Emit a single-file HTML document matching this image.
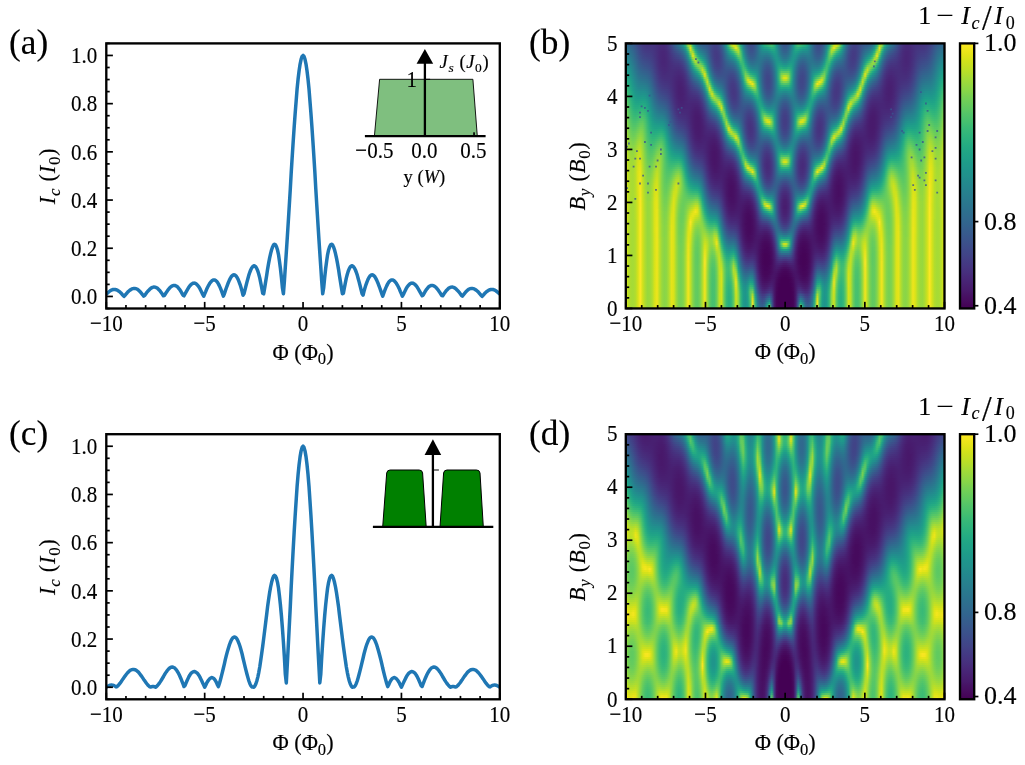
<!DOCTYPE html>
<html><head><meta charset="utf-8"><title>Figure</title>
<style>
html,body{margin:0;padding:0;background:#fff}
body{width:1025px;height:765px;position:relative;overflow:hidden;font-family:"Liberation Serif", serif}
.hm{position:absolute;overflow:hidden}
.hm div{position:absolute;left:-4px;top:-4px;filter:blur(0.7px)}
.hm i{position:absolute;left:0;width:100%;display:block;border:0 solid;border-width:0 4px;box-sizing:content-box}
.cb{position:absolute}
svg{position:absolute;left:0;top:0}
svg text{font-family:"Liberation Serif", serif;fill:#000;stroke:#000;stroke-width:0.15px}
</style></head><body>
<div class="hm" style="left:625.80px;top:43.40px;width:318.70px;height:265.05px"><div style="width:318.70px;height:273.05px"><i style="top:0.00px;height:6.69px;border-color:#31678e;border-right-color:#31678e;background-image:linear-gradient(90deg,#31678e,#32658e,#33628d,#365c8d,#3a538b,#3f4889,#423f85,#453882,#463480,#46337f,#46337f,#463480,#46337f,#472f7d,#472d7b,#472c7a,#472d7b,#46327e,#433d84,#3e4c8a,#365d8d,#2e6e8e,#287c8e,#228b8d,#1fa088,#44bf70,#c5e021,#86d549,#22a884,#25848e,#2e6e8e,#33628d,#365c8d,#375a8c,#39558c,#3c4f8a,#3f4788,#414287,#414487,#3d4d8a,#34608d,#297b8e,#1fa187,#63cb5f,#d5e21a,#cde11d,#98d83e,#56c667,#21a585,#26828e,#31668e,#3a548c,#3e4c8a,#3d4e8a,#38598c,#2e6e8e,#23898e,#21a585,#37b878,#48c16e,#58c765,#5cc863,#34b679,#1f948c,#2b758e,#34608d,#39558c,#39558c,#34608d,#2b758e,#1f948c,#34b679,#5cc863,#58c765,#48c16e,#37b878,#21a585,#23898e,#2e6e8e,#38598c,#3d4e8a,#3e4c8a,#3a548c,#31668e,#26828e,#21a585,#56c667,#98d83e,#cde11d,#d5e21a,#63cb5f,#1fa187,#297b8e,#34608d,#3d4d8a,#414487,#414287,#3f4788,#3c4f8a,#39558c,#375a8c,#365c8d,#33628d,#2e6e8e,#25848e,#22a884,#86d549,#c5e021,#44bf70,#1fa088,#228b8d,#287c8e,#2e6e8e,#365d8d,#3e4c8a,#433d84,#46327e,#472d7b,#472c7a,#472d7b,#472f7d,#46337f,#463480,#46337f,#46337f,#463480,#453882,#423f85,#3f4889,#3a538b,#365c8d,#33628d,#32658e,#31678e)"></i>
<i style="top:5.99px;height:2.69px;border-color:#2f6b8e;border-right-color:#2f6b8e;background-image:linear-gradient(90deg,#2f6b8e,#30698e,#31668e,#355f8d,#39558c,#3e4a89,#424186,#443a83,#453781,#453581,#463480,#463480,#46337f,#472f7d,#472c7a,#472a7a,#472a7a,#472f7d,#443983,#3f4788,#39568c,#32658e,#2c718e,#277f8e,#20928c,#2ab07f,#90d743,#b5de2b,#32b67a,#218f8d,#2a768e,#30698e,#33628d,#355e8d,#38588c,#3c4f8a,#404688,#424086,#424186,#3e4989,#375b8d,#2b758e,#1f988b,#44bf70,#9bd93c,#d5e21a,#d2e21b,#77d153,#26ad81,#24868e,#30698e,#39558c,#3d4d8a,#3d4e8a,#38598c,#2e6d8e,#25858e,#1f9e89,#25ac82,#2db27d,#38b977,#42be71,#2db27d,#1f948c,#2a778e,#33638d,#38588c,#38588c,#33638d,#2a778e,#1f948c,#2db27d,#42be71,#38b977,#2db27d,#25ac82,#1f9e89,#25858e,#2e6d8e,#38598c,#3d4e8a,#3d4d8a,#39558c,#30698e,#24868e,#26ad81,#77d153,#d2e21b,#d5e21a,#9bd93c,#44bf70,#1f988b,#2b758e,#375b8d,#3e4989,#424186,#424086,#404688,#3c4f8a,#38588c,#355e8d,#33628d,#30698e,#2a768e,#218f8d,#32b67a,#b5de2b,#90d743,#2ab07f,#20928c,#277f8e,#2c718e,#32658e,#39568c,#3f4788,#443983,#472f7d,#472a7a,#472a7a,#472c7a,#472f7d,#46337f,#463480,#463480,#453581,#453781,#443a83,#424186,#3e4a89,#39558c,#355f8d,#31668e,#30698e,#2f6b8e)"></i>
<i style="top:7.99px;height:2.69px;border-color:#2e6f8e;border-right-color:#2e6f8e;background-image:linear-gradient(90deg,#2e6f8e,#2e6d8e,#30698e,#33628d,#38598c,#3d4d8a,#414487,#433d84,#453882,#453781,#453781,#453581,#46337f,#472f7d,#472a7a,#482979,#482979,#472e7c,#453781,#414287,#3b518b,#355e8d,#30698e,#2b748e,#24868e,#1fa287,#63cb5f,#e5e419,#4cc26c,#1f9a8a,#27808e,#2d718e,#30698e,#33638d,#375b8d,#3c508b,#404588,#423f85,#423f85,#404688,#39568c,#2e6f8e,#21908d,#2db27d,#67cc5c,#a2da37,#efe51c,#9bd93c,#31b57b,#228b8d,#2e6d8e,#38598c,#3c4f8a,#3c4f8a,#375a8c,#2f6c8e,#26828e,#1f968b,#1fa088,#20a486,#25ab82,#2db27d,#27ad81,#1f958b,#297a8e,#31668e,#375b8d,#375b8d,#31668e,#297a8e,#1f958b,#27ad81,#2db27d,#25ab82,#20a486,#1fa088,#1f968b,#26828e,#2f6c8e,#375a8c,#3c4f8a,#3c4f8a,#38598c,#2e6d8e,#228b8d,#31b57b,#9bd93c,#efe51c,#a2da37,#67cc5c,#2db27d,#21908d,#2e6f8e,#39568c,#404688,#423f85,#423f85,#404588,#3c508b,#375b8d,#33638d,#30698e,#2d718e,#27808e,#1f9a8a,#4cc26c,#e5e419,#63cb5f,#1fa287,#24868e,#2b748e,#30698e,#355e8d,#3b518b,#414287,#453781,#472e7c,#482979,#482979,#472a7a,#472f7d,#46337f,#453581,#453781,#453781,#453882,#433d84,#414487,#3d4d8a,#38598c,#33628d,#30698e,#2e6d8e,#2e6f8e)"></i>
<i style="top:9.98px;height:2.69px;border-color:#2c718e;border-right-color:#2c718e;background-image:linear-gradient(90deg,#2c718e,#2d718e,#2e6d8e,#32658e,#375b8d,#3c508b,#404688,#423f85,#443a83,#443983,#453882,#453781,#46337f,#472e7c,#472a7a,#482878,#482878,#472c7a,#463480,#423f85,#3e4c8a,#39568c,#34608d,#2f6b8e,#297b8e,#1f958b,#40bd72,#d5e21a,#73d056,#22a785,#238a8d,#297a8e,#2d718e,#30698e,#355e8d,#3b518b,#404588,#433e85,#433d84,#414487,#3b528b,#306a8e,#24878e,#21a685,#40bd72,#6ece58,#b2dd2d,#b2dd2d,#3dbc74,#21918c,#2d718e,#365c8d,#3b518b,#3b518b,#375b8d,#2f6c8e,#27808e,#218f8d,#1f948c,#1f978b,#1f9e89,#22a785,#22a884,#1f968b,#287d8e,#30698e,#355f8d,#355f8d,#30698e,#287d8e,#1f968b,#22a884,#22a785,#1f9e89,#1f978b,#1f948c,#218f8d,#27808e,#2f6c8e,#375b8d,#3b518b,#3b518b,#365c8d,#2d718e,#21918c,#3dbc74,#b2dd2d,#b2dd2d,#6ece58,#40bd72,#21a685,#24878e,#306a8e,#3b528b,#414487,#433d84,#433e85,#404588,#3b518b,#355e8d,#30698e,#2d718e,#297a8e,#238a8d,#22a785,#73d056,#d5e21a,#40bd72,#1f958b,#297b8e,#2f6b8e,#34608d,#39568c,#3e4c8a,#423f85,#463480,#472c7a,#482878,#482878,#472a7a,#472e7c,#46337f,#453781,#453882,#443983,#443a83,#423f85,#404688,#3c508b,#375b8d,#32658e,#2e6d8e,#2d718e,#2c718e)"></i>
<i style="top:11.97px;height:2.69px;border-color:#2b758e;border-right-color:#2b758e;background-image:linear-gradient(90deg,#2b758e,#2b748e,#2d708e,#31688e,#365d8d,#3b528b,#3f4889,#424186,#433d84,#443b84,#443a83,#453882,#463480,#472e7c,#482979,#482677,#482677,#472a7a,#46327e,#433d84,#3f4788,#3c508b,#38598c,#33628d,#2d718e,#23898e,#29af7f,#a2da37,#a2da37,#31b57b,#1f968b,#25838e,#29798e,#2e6f8e,#33628d,#3b528b,#404588,#433d84,#443b84,#424186,#3c508b,#32658e,#27808e,#1f9a8a,#28ae80,#44bf70,#7cd250,#aadc32,#4cc26c,#1f978b,#2b748e,#355f8d,#3a548c,#3a548c,#365d8d,#2f6c8e,#287d8e,#23888e,#228b8d,#228b8d,#20928c,#1e9c89,#1fa287,#1f978b,#26818e,#2e6e8e,#33638d,#33638d,#2e6e8e,#26818e,#1f978b,#1fa287,#1e9c89,#20928c,#228b8d,#228b8d,#23888e,#287d8e,#2f6c8e,#365d8d,#3a548c,#3a548c,#355f8d,#2b748e,#1f978b,#4cc26c,#aadc32,#7cd250,#44bf70,#28ae80,#1f9a8a,#27808e,#32658e,#3c508b,#424186,#443b84,#433d84,#404588,#3b528b,#33628d,#2e6f8e,#29798e,#25838e,#1f968b,#31b57b,#a2da37,#a2da37,#29af7f,#23898e,#2d718e,#33628d,#38598c,#3c508b,#3f4788,#433d84,#46327e,#472a7a,#482677,#482677,#482979,#472e7c,#463480,#453882,#443a83,#443b84,#433d84,#424186,#3f4889,#3b528b,#365d8d,#31688e,#2d708e,#2b748e,#2b758e)"></i>
<i style="top:13.96px;height:2.69px;border-color:#29798e;border-right-color:#29798e;background-image:linear-gradient(90deg,#29798e,#2a788e,#2c738e,#2f6b8e,#34608d,#3a548c,#3e4a89,#414487,#424086,#433e85,#433d84,#443983,#463480,#472f7d,#482979,#482677,#482677,#482979,#46307e,#443983,#414287,#3e4a89,#3b518b,#375a8c,#31688e,#277f8e,#1fa187,#73d056,#d8e219,#4ec36b,#20a386,#218f8d,#26828e,#2a768e,#31678e,#39558c,#404688,#433d84,#443a83,#424086,#3d4d8a,#34618d,#2a788e,#218f8d,#1fa188,#2ab07f,#50c46a,#89d548,#56c667,#1e9d89,#297a8e,#33638d,#38588c,#38588c,#355f8d,#2e6d8e,#297b8e,#26828e,#26828e,#26818e,#24868e,#20928c,#1e9c89,#1f978b,#25848e,#2c728e,#30698e,#30698e,#2c728e,#25848e,#1f978b,#1e9c89,#20928c,#24868e,#26818e,#26828e,#26828e,#297b8e,#2e6d8e,#355f8d,#38588c,#38588c,#33638d,#297a8e,#1e9d89,#56c667,#89d548,#50c46a,#2ab07f,#1fa188,#218f8d,#2a788e,#34618d,#3d4d8a,#424086,#443a83,#433d84,#404688,#39558c,#31678e,#2a768e,#26828e,#218f8d,#20a386,#4ec36b,#d8e219,#73d056,#1fa187,#277f8e,#31688e,#375a8c,#3b518b,#3e4a89,#414287,#443983,#46307e,#482979,#482677,#482677,#482979,#472f7d,#463480,#443983,#433d84,#433e85,#424086,#414487,#3e4a89,#3a548c,#34608d,#2f6b8e,#2c738e,#2a788e,#29798e)"></i>
<i style="top:15.96px;height:2.69px;border-color:#277e8e;border-right-color:#277e8e;background-image:linear-gradient(90deg,#277e8e,#287c8e,#2a768e,#2e6e8e,#33638d,#38588c,#3d4e8a,#3f4788,#414287,#424086,#423f85,#443b84,#453581,#472f7d,#482979,#482677,#482576,#482979,#472f7d,#453781,#423f85,#404588,#3e4a89,#3b528b,#355f8d,#2b748e,#1f958b,#4ec36b,#ece51b,#73d056,#2cb17e,#1e9c89,#228d8d,#277e8e,#2f6c8e,#38588c,#3f4788,#433d84,#443a83,#423f85,#3e4a89,#355e8d,#2c728e,#25848e,#20938c,#1fa188,#31b57b,#65cb5e,#5ac864,#20a386,#27808e,#30698e,#365d8d,#375b8d,#33628d,#2e6f8e,#29798e,#287c8e,#29798e,#2a788e,#287d8e,#23898e,#1f968b,#1f978b,#23898e,#2a788e,#2e6f8e,#2e6f8e,#2a788e,#23898e,#1f978b,#1f968b,#23898e,#287d8e,#2a788e,#29798e,#287c8e,#29798e,#2e6f8e,#33628d,#375b8d,#365d8d,#30698e,#27808e,#20a386,#5ac864,#65cb5e,#31b57b,#1fa188,#20938c,#25848e,#2c728e,#355e8d,#3e4a89,#423f85,#443a83,#433d84,#3f4788,#38588c,#2f6c8e,#277e8e,#228d8d,#1e9c89,#2cb17e,#73d056,#ece51b,#4ec36b,#1f958b,#2b748e,#355f8d,#3b528b,#3e4a89,#404588,#423f85,#453781,#472f7d,#482979,#482576,#482677,#482979,#472f7d,#453581,#443b84,#423f85,#424086,#414287,#3f4788,#3d4e8a,#38588c,#33638d,#2e6e8e,#2a768e,#287c8e,#277e8e)"></i>
<i style="top:17.95px;height:2.69px;border-color:#26828e;border-right-color:#26828e;background-image:linear-gradient(90deg,#26828e,#27808e,#297a8e,#2d718e,#32658e,#375a8c,#3c508b,#3e4989,#404688,#414487,#424186,#433d84,#453781,#472f7d,#482979,#482677,#482576,#482878,#472e7c,#463480,#443b84,#424086,#404588,#3e4c8a,#38588c,#2f6c8e,#238a8d,#32b67a,#b2dd2d,#a0da39,#44bf70,#23a983,#1f998a,#24878e,#2c718e,#365c8d,#3e4989,#433e85,#443a83,#433e85,#3e4989,#375b8d,#2e6d8e,#287c8e,#24878e,#20928c,#21a685,#44bf70,#58c765,#25ab82,#24878e,#2e6f8e,#33628d,#34608d,#31668e,#2d708e,#2a778e,#2a778e,#2c718e,#2d708e,#2b748e,#26818e,#21918c,#1f988b,#218f8d,#277f8e,#2b758e,#2b758e,#277f8e,#218f8d,#1f988b,#21918c,#26818e,#2b748e,#2d708e,#2c718e,#2a778e,#2a778e,#2d708e,#31668e,#34608d,#33628d,#2e6f8e,#24878e,#25ab82,#58c765,#44bf70,#21a685,#20928c,#24878e,#287c8e,#2e6d8e,#375b8d,#3e4989,#433e85,#443a83,#433e85,#3e4989,#365c8d,#2c718e,#24878e,#1f998a,#23a983,#44bf70,#a0da39,#b2dd2d,#32b67a,#238a8d,#2f6c8e,#38588c,#3e4c8a,#404588,#424086,#443b84,#463480,#472e7c,#482878,#482576,#482677,#482979,#472f7d,#453781,#433d84,#424186,#414487,#404688,#3e4989,#3c508b,#375a8c,#32658e,#2d718e,#297a8e,#27808e,#26828e)"></i>
<i style="top:19.94px;height:2.69px;border-color:#25858e;border-right-color:#25858e;background-image:linear-gradient(90deg,#25858e,#25838e,#277e8e,#2c738e,#31688e,#365d8d,#3a538b,#3d4d8a,#3e4989,#3f4788,#414487,#423f85,#453882,#46307e,#472a7a,#482677,#482576,#482878,#472d7b,#46337f,#453882,#443b84,#423f85,#404588,#3c508b,#33638d,#27808e,#22a785,#7fd34e,#bddf26,#65cb5e,#35b779,#21a685,#21918c,#2a788e,#34608d,#3e4c8a,#423f85,#443b84,#433e85,#3f4889,#38588c,#31688e,#2c738e,#287c8e,#24868e,#1f988b,#2db27d,#50c46a,#2cb17e,#218f8d,#2b758e,#31688e,#32658e,#306a8e,#2c728e,#2a768e,#2c728e,#2f6c8e,#31688e,#2e6d8e,#29798e,#228b8d,#1f978b,#20938c,#24868e,#277e8e,#277e8e,#24868e,#20938c,#1f978b,#228b8d,#29798e,#2e6d8e,#31688e,#2f6c8e,#2c728e,#2a768e,#2c728e,#306a8e,#32658e,#31688e,#2b758e,#218f8d,#2cb17e,#50c46a,#2db27d,#1f988b,#24868e,#287c8e,#2c738e,#31688e,#38588c,#3f4889,#433e85,#443b84,#423f85,#3e4c8a,#34608d,#2a788e,#21918c,#21a685,#35b779,#65cb5e,#bddf26,#7fd34e,#22a785,#27808e,#33638d,#3c508b,#404588,#423f85,#443b84,#453882,#46337f,#472d7b,#482878,#482576,#482677,#472a7a,#46307e,#453882,#423f85,#414487,#3f4788,#3e4989,#3d4d8a,#3a538b,#365d8d,#31688e,#2c738e,#277e8e,#25838e,#25858e)"></i>
<i style="top:21.94px;height:2.69px;border-color:#23898e;border-right-color:#23898e;background-image:linear-gradient(90deg,#23898e,#24878e,#26818e,#2a768e,#2f6b8e,#34608d,#39568c,#3c508b,#3d4d8a,#3e4a89,#3f4788,#424186,#443983,#46327e,#472a7a,#482677,#482576,#482878,#472c7a,#46307e,#453581,#453882,#443a83,#423f85,#3e4989,#365c8d,#2a768e,#1e9b8a,#54c568,#aadc32,#86d549,#52c569,#2fb47c,#1e9c89,#277f8e,#32648e,#3c4f8a,#424186,#433d84,#423f85,#3f4889,#39558c,#33638d,#2e6d8e,#2c728e,#297b8e,#228b8d,#21a585,#42be71,#34b679,#1f978b,#287d8e,#2e6f8e,#2f6c8e,#2d708e,#2b748e,#2b758e,#2e6f8e,#31668e,#33628d,#31668e,#2c728e,#25858e,#1f978b,#1f998a,#21908d,#24868e,#24868e,#21908d,#1f998a,#1f978b,#25858e,#2c728e,#31668e,#33628d,#31668e,#2e6f8e,#2b758e,#2b748e,#2d708e,#2f6c8e,#2e6f8e,#287d8e,#1f978b,#34b679,#42be71,#21a585,#228b8d,#297b8e,#2c728e,#2e6d8e,#33638d,#39558c,#3f4889,#423f85,#433d84,#424186,#3c4f8a,#32648e,#277f8e,#1e9c89,#2fb47c,#52c569,#86d549,#aadc32,#54c568,#1e9b8a,#2a768e,#365c8d,#3e4989,#423f85,#443a83,#453882,#453581,#46307e,#472c7a,#482878,#482576,#482677,#472a7a,#46327e,#443983,#424186,#3f4788,#3e4a89,#3d4d8a,#3c508b,#39568c,#34608d,#2f6b8e,#2a768e,#26818e,#24878e,#23898e)"></i>
<i style="top:23.93px;height:2.69px;border-color:#228d8d;border-right-color:#228d8d;background-image:linear-gradient(90deg,#228d8d,#228b8d,#25848e,#29798e,#2e6e8e,#33628d,#375a8c,#3a538b,#3c508b,#3d4e8a,#3e4989,#414487,#443b84,#46327e,#472c7a,#482677,#482677,#482878,#472c7a,#472f7d,#46337f,#463480,#453581,#443a83,#414487,#3a548c,#2e6e8e,#218f8d,#34b679,#7fd34e,#93d741,#75d054,#4cc26c,#23a983,#24878e,#306a8e,#3b528b,#414487,#433e85,#424086,#3f4889,#3a538b,#355f8d,#31668e,#306a8e,#2c718e,#26818e,#1f998a,#34b679,#3bbb75,#1fa188,#24868e,#2a778e,#2c728e,#2b758e,#2a788e,#2b748e,#2f6b8e,#34618d,#365c8d,#34608d,#2f6c8e,#26818e,#1f968b,#1fa088,#1f998a,#21918c,#21918c,#1f998a,#1fa088,#1f968b,#26818e,#2f6c8e,#34608d,#365c8d,#34618d,#2f6b8e,#2b748e,#2a788e,#2b758e,#2c728e,#2a778e,#24868e,#1fa188,#3bbb75,#34b679,#1f998a,#26818e,#2c718e,#306a8e,#31668e,#355f8d,#3a538b,#3f4889,#424086,#433e85,#414487,#3b528b,#306a8e,#24878e,#23a983,#4cc26c,#75d054,#93d741,#7fd34e,#34b679,#218f8d,#2e6e8e,#3a548c,#414487,#443a83,#453581,#463480,#46337f,#472f7d,#472c7a,#482878,#482677,#482677,#472c7a,#46327e,#443b84,#414487,#3e4989,#3d4e8a,#3c508b,#3a538b,#375a8c,#33628d,#2e6e8e,#29798e,#25848e,#228b8d,#228d8d)"></i>
<i style="top:25.92px;height:2.69px;border-color:#20928c;border-right-color:#20928c;background-image:linear-gradient(90deg,#20928c,#218f8d,#24878e,#287d8e,#2d718e,#32658e,#365d8d,#38588c,#3a538b,#3b518b,#3d4d8a,#404688,#433d84,#46337f,#472c7a,#482878,#482677,#482878,#472c7a,#472e7c,#46307e,#46327e,#46327e,#453581,#433e85,#3d4e8a,#32658e,#25838e,#22a884,#54c568,#81d34d,#8ed645,#75d054,#34b679,#21918c,#2d708e,#39568c,#3f4788,#424086,#424186,#3f4889,#3b528b,#375b8d,#34608d,#33638d,#30698e,#2a768e,#218f8d,#28ae80,#42be71,#25ab82,#21908d,#27808e,#297a8e,#297b8e,#287c8e,#2b748e,#31688e,#365c8d,#39568c,#375a8c,#31678e,#287c8e,#1f958b,#21a585,#20a386,#1e9d89,#1e9d89,#20a386,#21a585,#1f958b,#287c8e,#31678e,#375a8c,#39568c,#365c8d,#31688e,#2b748e,#287c8e,#297b8e,#297a8e,#27808e,#21908d,#25ab82,#42be71,#28ae80,#218f8d,#2a768e,#30698e,#33638d,#34608d,#375b8d,#3b528b,#3f4889,#424186,#424086,#3f4788,#39568c,#2d708e,#21918c,#34b679,#75d054,#8ed645,#81d34d,#54c568,#22a884,#25838e,#32658e,#3d4e8a,#433e85,#453581,#46327e,#46327e,#46307e,#472e7c,#472c7a,#482878,#482677,#482878,#472c7a,#46337f,#433d84,#404688,#3d4d8a,#3b518b,#3a538b,#38588c,#365d8d,#32658e,#2d718e,#287d8e,#24878e,#218f8d,#20928c)"></i>
<i style="top:27.91px;height:2.69px;border-color:#1f958b;border-right-color:#1f958b;background-image:linear-gradient(90deg,#1f958b,#20928c,#228b8d,#27808e,#2c738e,#30698e,#34608d,#375b8d,#38588c,#3a548c,#3c508b,#3f4889,#423f85,#453581,#472d7b,#482979,#482878,#482979,#472c7a,#472e7c,#472f7d,#472e7c,#472f7d,#46327e,#443983,#3f4889,#355e8d,#297a8e,#1f9a8a,#34b679,#5ec962,#8bd646,#a2da37,#50c46a,#1e9b8a,#2a768e,#365c8d,#3e4a89,#414487,#414487,#3e4989,#3b528b,#38588c,#375a8c,#365c8d,#34618d,#2e6e8e,#25848e,#21a585,#44bf70,#31b57b,#1e9c89,#238a8d,#25838e,#26828e,#27808e,#2b758e,#31668e,#38598c,#3b528b,#39558c,#33628d,#2a788e,#1f948c,#25ab82,#29af7f,#24aa83,#24aa83,#29af7f,#25ab82,#1f948c,#2a788e,#33628d,#39558c,#3b528b,#38598c,#31668e,#2b758e,#27808e,#26828e,#25838e,#238a8d,#1e9c89,#31b57b,#44bf70,#21a585,#25848e,#2e6e8e,#34618d,#365c8d,#375a8c,#38588c,#3b528b,#3e4989,#414487,#414487,#3e4a89,#365c8d,#2a768e,#1e9b8a,#50c46a,#a2da37,#8bd646,#5ec962,#34b679,#1f9a8a,#297a8e,#355e8d,#3f4889,#443983,#46327e,#472f7d,#472e7c,#472f7d,#472e7c,#472c7a,#482979,#482878,#482979,#472d7b,#453581,#423f85,#3f4889,#3c508b,#3a548c,#38588c,#375b8d,#34608d,#30698e,#2c738e,#27808e,#228b8d,#20928c,#1f958b)"></i>
<i style="top:29.91px;height:2.69px;border-color:#1f998a;border-right-color:#1f998a;background-image:linear-gradient(90deg,#1f998a,#1f968b,#218e8d,#26828e,#2a768e,#2f6c8e,#32648e,#355f8d,#365c8d,#38598c,#3a538b,#3e4c8a,#424186,#453781,#472e7c,#472a7a,#482878,#482979,#472c7a,#472d7b,#472d7b,#472d7b,#472c7a,#472e7c,#453581,#414287,#38588c,#2d718e,#228d8d,#22a785,#3dbc74,#70cf57,#c0df25,#77d153,#21a685,#277e8e,#34618d,#3c4f8a,#3f4788,#3f4788,#3e4c8a,#3b518b,#39558c,#39558c,#39558c,#375a8c,#32658e,#297b8e,#1e9d89,#42be71,#44bf70,#22a884,#1f968b,#218e8d,#228b8d,#25848e,#2b758e,#32648e,#39558c,#3c4f8a,#3b518b,#355f8d,#2b758e,#20938c,#2ab07f,#3bbb75,#37b878,#37b878,#3bbb75,#2ab07f,#20938c,#2b758e,#355f8d,#3b518b,#3c4f8a,#39558c,#32648e,#2b758e,#25848e,#228b8d,#218e8d,#1f968b,#22a884,#44bf70,#42be71,#1e9d89,#297b8e,#32658e,#375a8c,#39558c,#39558c,#39558c,#3b518b,#3e4c8a,#3f4788,#3f4788,#3c4f8a,#34618d,#277e8e,#21a685,#77d153,#c0df25,#70cf57,#3dbc74,#22a785,#228d8d,#2d718e,#38588c,#414287,#453581,#472e7c,#472c7a,#472d7b,#472d7b,#472d7b,#472c7a,#482979,#482878,#472a7a,#472e7c,#453781,#424186,#3e4c8a,#3a538b,#38598c,#365c8d,#355f8d,#32648e,#2f6c8e,#2a768e,#26828e,#218e8d,#1f968b,#1f998a)"></i>
<i style="top:31.90px;height:2.69px;border-color:#1e9d89;border-right-color:#1e9d89;background-image:linear-gradient(90deg,#1e9d89,#1f9a8a,#21918c,#25848e,#29798e,#2e6f8e,#31678e,#33638d,#34608d,#365d8d,#38588c,#3d4e8a,#414287,#453882,#46307e,#472c7a,#482979,#472a7a,#472c7a,#472d7b,#472c7a,#472a7a,#482979,#472c7a,#46327e,#433e85,#3b518b,#30698e,#26828e,#1f988b,#25ac82,#4cc26c,#aadc32,#aadc32,#2db27d,#24868e,#31688e,#3a548c,#3e4c8a,#3e4a89,#3d4e8a,#3b528b,#3a538b,#3b518b,#3c508b,#3a538b,#355e8d,#2c738e,#1f948c,#3bbb75,#5cc863,#34b679,#20a386,#1f9a8a,#1f948c,#238a8d,#2a768e,#33628d,#3b528b,#3e4c8a,#3d4e8a,#375b8d,#2c718e,#20928c,#2fb47c,#56c667,#58c765,#58c765,#56c667,#2fb47c,#20928c,#2c718e,#375b8d,#3d4e8a,#3e4c8a,#3b528b,#33628d,#2a768e,#238a8d,#1f948c,#1f9a8a,#20a386,#34b679,#5cc863,#3bbb75,#1f948c,#2c738e,#355e8d,#3a538b,#3c508b,#3b518b,#3a538b,#3b528b,#3d4e8a,#3e4a89,#3e4c8a,#3a548c,#31688e,#24868e,#2db27d,#aadc32,#aadc32,#4cc26c,#25ac82,#1f988b,#26828e,#30698e,#3b518b,#433e85,#46327e,#472c7a,#482979,#472a7a,#472c7a,#472d7b,#472c7a,#472a7a,#482979,#472c7a,#46307e,#453882,#414287,#3d4e8a,#38588c,#365d8d,#34608d,#33638d,#31678e,#2e6f8e,#29798e,#25848e,#21918c,#1f9a8a,#1e9d89)"></i>
<i style="top:33.89px;height:2.69px;border-color:#1fa187;border-right-color:#1fa187;background-image:linear-gradient(90deg,#1fa187,#1e9d89,#20938c,#24878e,#287c8e,#2c718e,#2f6b8e,#31678e,#32648e,#34618d,#375b8d,#3b518b,#404688,#443a83,#46327e,#472d7b,#472a7a,#472c7a,#472d7b,#472d7b,#472c7a,#482979,#482878,#482979,#472e7c,#443983,#3e4c8a,#34618d,#2a778e,#228b8d,#1e9d89,#2fb47c,#7cd250,#e2e418,#44bf70,#21908d,#2e6f8e,#375b8d,#3c508b,#3d4e8a,#3c508b,#3b528b,#3b518b,#3d4e8a,#3e4a89,#3d4d8a,#38588c,#2f6c8e,#228c8d,#32b67a,#70cf57,#52c569,#2db27d,#22a785,#1f9f88,#21908d,#2a788e,#34618d,#3b518b,#3e4989,#3e4c8a,#38598c,#2d708e,#21918c,#34b679,#73d056,#84d44b,#84d44b,#73d056,#34b679,#21918c,#2d708e,#38598c,#3e4c8a,#3e4989,#3b518b,#34618d,#2a788e,#21908d,#1f9f88,#22a785,#2db27d,#52c569,#70cf57,#32b67a,#228c8d,#2f6c8e,#38588c,#3d4d8a,#3e4a89,#3d4e8a,#3b518b,#3b528b,#3c508b,#3d4e8a,#3c508b,#375b8d,#2e6f8e,#21908d,#44bf70,#e2e418,#7cd250,#2fb47c,#1e9d89,#228b8d,#2a778e,#34618d,#3e4c8a,#443983,#472e7c,#482979,#482878,#482979,#472c7a,#472d7b,#472d7b,#472c7a,#472a7a,#472d7b,#46327e,#443a83,#404688,#3b518b,#375b8d,#34618d,#32648e,#31678e,#2f6b8e,#2c718e,#287c8e,#24878e,#20938c,#1e9d89,#1fa187)"></i>
<i style="top:35.89px;height:2.69px;border-color:#21a585;border-right-color:#21a585;background-image:linear-gradient(90deg,#21a585,#1fa188,#1f968b,#238a8d,#277f8e,#2b758e,#2e6f8e,#2f6b8e,#30698e,#32658e,#355f8d,#3a548c,#3f4889,#433d84,#463480,#472e7c,#472d7b,#472d7b,#472d7b,#472d7b,#472a7a,#482878,#482576,#482677,#472c7a,#453581,#404688,#375a8c,#2e6e8e,#277f8e,#218f8d,#20a486,#52c569,#dde318,#63cb5f,#1e9b8a,#2a778e,#33628d,#39568c,#3a538b,#3a538b,#3a538b,#3c508b,#3e4a89,#3f4788,#3f4889,#3b528b,#31668e,#25848e,#28ae80,#7cd250,#7ad151,#4ac16d,#34b679,#25ab82,#1f958b,#297a8e,#34618d,#3c4f8a,#3f4788,#3e4989,#39568c,#2e6e8e,#218f8d,#35b779,#8bd646,#b8de29,#b8de29,#8bd646,#35b779,#218f8d,#2e6e8e,#39568c,#3e4989,#3f4788,#3c4f8a,#34618d,#297a8e,#1f958b,#25ab82,#34b679,#4ac16d,#7ad151,#7cd250,#28ae80,#25848e,#31668e,#3b528b,#3f4889,#3f4788,#3e4a89,#3c508b,#3a538b,#3a538b,#3a538b,#39568c,#33628d,#2a778e,#1e9b8a,#63cb5f,#dde318,#52c569,#20a486,#218f8d,#277f8e,#2e6e8e,#375a8c,#404688,#453581,#472c7a,#482677,#482576,#482878,#472a7a,#472d7b,#472d7b,#472d7b,#472d7b,#472e7c,#463480,#433d84,#3f4889,#3a548c,#355f8d,#32658e,#30698e,#2f6b8e,#2e6f8e,#2b758e,#277f8e,#238a8d,#1f968b,#1fa188,#21a585)"></i>
<i style="top:37.88px;height:2.69px;border-color:#23a983;border-right-color:#23a983;background-image:linear-gradient(90deg,#23a983,#20a386,#1f998a,#228d8d,#26828e,#2a788e,#2c728e,#2e6f8e,#2e6d8e,#30698e,#33628d,#38588c,#3e4a89,#423f85,#453581,#46307e,#472e7c,#472e7c,#472e7c,#472d7b,#482979,#482677,#482475,#482475,#482979,#46337f,#424186,#3a538b,#32658e,#2c738e,#26828e,#1f958b,#32b67a,#a5db36,#8bd646,#22a785,#26818e,#30698e,#365d8d,#38598c,#38588c,#39558c,#3c508b,#3f4889,#414287,#414487,#3d4d8a,#34608d,#277e8e,#22a785,#7ad151,#addc30,#75d054,#54c568,#34b679,#1e9c89,#287c8e,#34618d,#3c4f8a,#404688,#3f4889,#3a548c,#2f6c8e,#228d8d,#34b679,#93d741,#dde318,#dde318,#93d741,#34b679,#228d8d,#2f6c8e,#3a548c,#3f4889,#404688,#3c4f8a,#34618d,#287c8e,#1e9c89,#34b679,#54c568,#75d054,#addc30,#7ad151,#22a785,#277e8e,#34608d,#3d4d8a,#414487,#414287,#3f4889,#3c508b,#39558c,#38588c,#38598c,#365d8d,#30698e,#26818e,#22a785,#8bd646,#a5db36,#32b67a,#1f958b,#26828e,#2c738e,#32658e,#3a538b,#424186,#46337f,#482979,#482475,#482475,#482677,#482979,#472d7b,#472e7c,#472e7c,#472e7c,#46307e,#453581,#423f85,#3e4a89,#38588c,#33628d,#30698e,#2e6d8e,#2e6f8e,#2c728e,#2a788e,#26828e,#228d8d,#1f998a,#20a386,#23a983)"></i>
<i style="top:39.87px;height:2.69px;border-color:#26ad81;border-right-color:#26ad81;background-image:linear-gradient(90deg,#26ad81,#22a785,#1e9c89,#21908d,#25848e,#287c8e,#2a768e,#2c738e,#2c718e,#2e6e8e,#31668e,#375b8d,#3d4d8a,#424186,#453882,#46337f,#46307e,#472f7d,#472f7d,#472d7b,#482979,#482576,#482374,#482374,#482677,#472f7d,#433d84,#3d4d8a,#365d8d,#306a8e,#2a768e,#23888e,#21a685,#70cf57,#b2dd2d,#2fb47c,#228b8d,#2c718e,#32648e,#355f8d,#365c8d,#38588c,#3c508b,#404688,#424086,#424086,#3f4889,#375b8d,#2a778e,#1fa088,#67cc5c,#d8e219,#b0dd2f,#81d34d,#4cc26c,#1fa187,#277e8e,#33628d,#3c4f8a,#404688,#3f4788,#3a538b,#2f6b8e,#228b8d,#2fb47c,#81d34d,#b8de29,#b8de29,#81d34d,#2fb47c,#228b8d,#2f6b8e,#3a538b,#3f4788,#404688,#3c4f8a,#33628d,#277e8e,#1fa187,#4cc26c,#81d34d,#b0dd2f,#d8e219,#67cc5c,#1fa088,#2a778e,#375b8d,#3f4889,#424086,#424086,#404688,#3c508b,#38588c,#365c8d,#355f8d,#32648e,#2c718e,#228b8d,#2fb47c,#b2dd2d,#70cf57,#21a685,#23888e,#2a768e,#306a8e,#365d8d,#3d4d8a,#433d84,#472f7d,#482677,#482374,#482374,#482576,#482979,#472d7b,#472f7d,#472f7d,#46307e,#46337f,#453882,#424186,#3d4d8a,#375b8d,#31668e,#2e6e8e,#2c718e,#2c738e,#2a768e,#287c8e,#25848e,#21908d,#1e9c89,#22a785,#26ad81)"></i>
<i style="top:41.86px;height:2.69px;border-color:#2ab07f;border-right-color:#2ab07f;background-image:linear-gradient(90deg,#2ab07f,#24aa83,#1f9f88,#20928c,#24878e,#277f8e,#297a8e,#2a788e,#2b758e,#2c718e,#306a8e,#355e8d,#3c508b,#414487,#443a83,#453581,#46337f,#46327e,#46307e,#472e7c,#482979,#482475,#482173,#482173,#482576,#472d7b,#443983,#3f4788,#39558c,#34608d,#2f6c8e,#287c8e,#1f978b,#4ac16d,#c5e021,#4ac16d,#1f978b,#297b8e,#2e6d8e,#31668e,#34618d,#375b8d,#3c508b,#404588,#433e85,#433d84,#404588,#39558c,#2c718e,#1f978b,#4ec36b,#bddf26,#efe51c,#b8de29,#69cd5b,#22a884,#26818e,#33638d,#3c4f8a,#404688,#3f4788,#3a538b,#306a8e,#23898e,#29af7f,#65cb5e,#81d34d,#81d34d,#65cb5e,#29af7f,#23898e,#306a8e,#3a538b,#3f4788,#404688,#3c4f8a,#33638d,#26818e,#22a884,#69cd5b,#b8de29,#efe51c,#bddf26,#4ec36b,#1f978b,#2c718e,#39558c,#404588,#433d84,#433e85,#404588,#3c508b,#375b8d,#34618d,#31668e,#2e6d8e,#297b8e,#1f978b,#4ac16d,#c5e021,#4ac16d,#1f978b,#287c8e,#2f6c8e,#34608d,#39558c,#3f4788,#443983,#472d7b,#482576,#482173,#482173,#482475,#482979,#472e7c,#46307e,#46327e,#46337f,#453581,#443a83,#414487,#3c508b,#355e8d,#306a8e,#2c718e,#2b758e,#2a788e,#297a8e,#277f8e,#24878e,#20928c,#1f9f88,#24aa83,#2ab07f)"></i>
<i style="top:43.86px;height:2.69px;border-color:#2fb47c;border-right-color:#2fb47c;background-image:linear-gradient(90deg,#2fb47c,#26ad81,#1fa187,#1f948c,#238a8d,#26828e,#277e8e,#287c8e,#297a8e,#2a768e,#2e6e8e,#34618d,#3a538b,#3f4788,#433e85,#453882,#453581,#463480,#46327e,#472e7c,#482979,#482475,#482173,#482071,#482475,#472c7a,#453781,#414287,#3d4e8a,#38588c,#33628d,#2d718e,#238a8d,#2db27d,#aadc32,#70cf57,#20a486,#24868e,#2b758e,#2e6e8e,#31678e,#355e8d,#3b518b,#414487,#443b84,#443a83,#424186,#3b528b,#2f6c8e,#21908d,#37b878,#89d548,#cae11f,#efe51c,#86d549,#28ae80,#25848e,#32658e,#3c508b,#3f4788,#3f4889,#3a538b,#306a8e,#23888e,#24aa83,#46c06f,#54c568,#54c568,#46c06f,#24aa83,#23888e,#306a8e,#3a538b,#3f4889,#3f4788,#3c508b,#32658e,#25848e,#28ae80,#86d549,#efe51c,#cae11f,#89d548,#37b878,#21908d,#2f6c8e,#3b528b,#424186,#443a83,#443b84,#414487,#3b518b,#355e8d,#31678e,#2e6e8e,#2b758e,#24868e,#20a486,#70cf57,#aadc32,#2db27d,#238a8d,#2d718e,#33628d,#38588c,#3d4e8a,#414287,#453781,#472c7a,#482475,#482071,#482173,#482475,#482979,#472e7c,#46327e,#463480,#453581,#453882,#433e85,#3f4788,#3a538b,#34618d,#2e6e8e,#2a768e,#297a8e,#287c8e,#277e8e,#26828e,#238a8d,#1f948c,#1fa187,#26ad81,#2fb47c)"></i>
<i style="top:45.85px;height:2.69px;border-color:#34b679;border-right-color:#34b679;background-image:linear-gradient(90deg,#34b679,#29af7f,#20a386,#1f978b,#228d8d,#25858e,#26828e,#26818e,#277f8e,#297a8e,#2c718e,#32648e,#39568c,#3e4989,#424086,#443b84,#453882,#453781,#463480,#472f7d,#482979,#482475,#482071,#482071,#482374,#482979,#46337f,#433e85,#3f4788,#3c508b,#38598c,#31678e,#277e8e,#20a386,#7fd34e,#a0da39,#2eb37c,#20928c,#27808e,#2a768e,#2e6e8e,#33628d,#3b528b,#414487,#443a83,#443983,#423f85,#3c4f8a,#31688e,#23888e,#26ad81,#5ac864,#8bd646,#c2df23,#95d840,#2eb37c,#23888e,#31688e,#3b528b,#3f4889,#3e4989,#3a548c,#306a8e,#24868e,#20a386,#2fb47c,#32b67a,#32b67a,#2fb47c,#20a386,#24868e,#306a8e,#3a548c,#3e4989,#3f4889,#3b528b,#31688e,#23888e,#2eb37c,#95d840,#c2df23,#8bd646,#5ac864,#26ad81,#23888e,#31688e,#3c4f8a,#423f85,#443983,#443a83,#414487,#3b528b,#33628d,#2e6e8e,#2a768e,#27808e,#20928c,#2eb37c,#a0da39,#7fd34e,#20a386,#277e8e,#31678e,#38598c,#3c508b,#3f4788,#433e85,#46337f,#482979,#482374,#482071,#482071,#482475,#482979,#472f7d,#463480,#453781,#453882,#443b84,#424086,#3e4989,#39568c,#32648e,#2c718e,#297a8e,#277f8e,#26818e,#26828e,#25858e,#228d8d,#1f978b,#20a386,#29af7f,#34b679)"></i>
<i style="top:47.84px;height:2.69px;border-color:#3aba76;border-right-color:#3aba76;background-image:linear-gradient(90deg,#3aba76,#2db27d,#21a685,#1f9a8a,#21908d,#23898e,#24868e,#25858e,#25838e,#277f8e,#2b758e,#31688e,#375a8c,#3d4d8a,#414487,#433e85,#443b84,#443983,#453581,#46307e,#472a7a,#482475,#482071,#481f70,#482173,#482878,#46307e,#443a83,#424186,#3f4889,#3c508b,#365d8d,#2c738e,#1f968b,#58c765,#d0e11c,#4ac16d,#1fa088,#228c8d,#27808e,#2b758e,#31668e,#3a548c,#414487,#443a83,#453882,#433d84,#3e4c8a,#33638d,#26818e,#1fa188,#37b878,#58c765,#86d549,#8bd646,#34b679,#228c8d,#2f6b8e,#3a548c,#3e4a89,#3e4a89,#39558c,#306a8e,#25848e,#1e9d89,#22a785,#21a685,#21a685,#22a785,#1e9d89,#25848e,#306a8e,#39558c,#3e4a89,#3e4a89,#3a548c,#2f6b8e,#228c8d,#34b679,#8bd646,#86d549,#58c765,#37b878,#1fa188,#26818e,#33638d,#3e4c8a,#433d84,#453882,#443a83,#414487,#3a548c,#31668e,#2b758e,#27808e,#228c8d,#1fa088,#4ac16d,#d0e11c,#58c765,#1f968b,#2c738e,#365d8d,#3c508b,#3f4889,#424186,#443a83,#46307e,#482878,#482173,#481f70,#482071,#482475,#472a7a,#46307e,#453581,#443983,#443b84,#433e85,#414487,#3d4d8a,#375a8c,#31688e,#2b758e,#277f8e,#25838e,#25858e,#24868e,#23898e,#21908d,#1f9a8a,#21a685,#2db27d,#3aba76)"></i>
<i style="top:49.84px;height:2.69px;border-color:#3fbc73;border-right-color:#3fbc73;background-image:linear-gradient(90deg,#3fbc73,#31b57b,#22a884,#1e9c89,#20928c,#228d8d,#238a8d,#238a8d,#23888e,#25838e,#29798e,#2f6b8e,#365d8d,#3c508b,#3f4788,#424186,#423f85,#433d84,#453882,#46327e,#472a7a,#482475,#482071,#481f70,#482173,#482677,#472e7c,#453781,#433d84,#424186,#3f4889,#3a548c,#306a8e,#238a8d,#38b977,#d5e21a,#75d054,#28ae80,#1f998a,#228b8d,#277e8e,#2f6c8e,#39568c,#404588,#443a83,#453781,#443b84,#3e4989,#34608d,#297a8e,#1f958b,#23a983,#34b679,#56c667,#70cf57,#37b878,#21908d,#2e6e8e,#38588c,#3d4d8a,#3d4e8a,#38588c,#2f6b8e,#26828e,#1f958b,#1e9b8a,#1f988b,#1f988b,#1e9b8a,#1f958b,#26828e,#2f6b8e,#38588c,#3d4e8a,#3d4d8a,#38588c,#2e6e8e,#21908d,#37b878,#70cf57,#56c667,#34b679,#23a983,#1f958b,#297a8e,#34608d,#3e4989,#443b84,#453781,#443a83,#404588,#39568c,#2f6c8e,#277e8e,#228b8d,#1f998a,#28ae80,#75d054,#d5e21a,#38b977,#238a8d,#306a8e,#3a548c,#3f4889,#424186,#433d84,#453781,#472e7c,#482677,#482173,#481f70,#482071,#482475,#472a7a,#46327e,#453882,#433d84,#423f85,#424186,#3f4788,#3c508b,#365d8d,#2f6b8e,#29798e,#25838e,#23888e,#238a8d,#238a8d,#228d8d,#20928c,#1e9c89,#22a884,#31b57b,#3fbc73)"></i>
<i style="top:51.83px;height:2.69px;border-color:#46c06f;border-right-color:#46c06f;background-image:linear-gradient(90deg,#46c06f,#35b779,#25ab82,#1f9f88,#1f958b,#21918c,#218f8d,#218f8d,#228d8d,#24878e,#287c8e,#2e6f8e,#34608d,#3a538b,#3e4a89,#404588,#414287,#423f85,#443a83,#46337f,#472c7a,#482475,#482071,#481f70,#482173,#482576,#472d7b,#46337f,#453882,#443b84,#424186,#3d4d8a,#34608d,#277f8e,#25ab82,#a2da37,#aadc32,#42be71,#22a785,#1f988b,#24878e,#2c718e,#375a8c,#404688,#443a83,#453781,#443a83,#3f4788,#365c8d,#2b748e,#228b8d,#1f9a8a,#21a685,#32b67a,#52c569,#37b878,#20938c,#2c728e,#365c8d,#3b518b,#3c508b,#375b8d,#2e6d8e,#26828e,#218f8d,#218f8d,#228b8d,#228b8d,#218f8d,#218f8d,#26828e,#2e6d8e,#375b8d,#3c508b,#3b518b,#365c8d,#2c728e,#20938c,#37b878,#52c569,#32b67a,#21a685,#1f9a8a,#228b8d,#2b748e,#365c8d,#3f4788,#443a83,#453781,#443a83,#404688,#375a8c,#2c718e,#24878e,#1f988b,#22a785,#42be71,#aadc32,#a2da37,#25ab82,#277f8e,#34608d,#3d4d8a,#424186,#443b84,#453882,#46337f,#472d7b,#482576,#482173,#481f70,#482071,#482475,#472c7a,#46337f,#443a83,#423f85,#414287,#404588,#3e4a89,#3a538b,#34608d,#2e6f8e,#287c8e,#24878e,#228d8d,#218f8d,#218f8d,#21918c,#1f958b,#1f9f88,#25ab82,#35b779,#46c06f)"></i>
<i style="top:53.82px;height:2.69px;border-color:#4cc26c;border-right-color:#4cc26c;background-image:linear-gradient(90deg,#4cc26c,#38b977,#26ad81,#1fa188,#1f988b,#1f948c,#20928c,#20938c,#20928c,#228c8d,#27808e,#2c718e,#33638d,#38588c,#3c4f8a,#3e4989,#404688,#414287,#433d84,#453581,#472d7b,#482576,#482071,#481f70,#482071,#482576,#472c7a,#46307e,#463480,#453781,#443b84,#404688,#38588c,#2b748e,#1f9e89,#70cf57,#d8e219,#69cd5b,#34b679,#21a685,#20928c,#2a778e,#355e8d,#3f4889,#443b84,#453781,#443a83,#404688,#375a8c,#2e6f8e,#26828e,#228d8d,#1f978b,#21a685,#37b878,#34b679,#1f988b,#2a778e,#34618d,#3a548c,#3a548c,#355e8d,#2e6f8e,#27808e,#23888e,#25858e,#27808e,#27808e,#25858e,#23888e,#27808e,#2e6f8e,#355e8d,#3a548c,#3a548c,#34618d,#2a778e,#1f988b,#34b679,#37b878,#21a685,#1f978b,#228d8d,#26828e,#2e6f8e,#375a8c,#404688,#443a83,#453781,#443b84,#3f4889,#355e8d,#2a778e,#20928c,#21a685,#34b679,#69cd5b,#d8e219,#70cf57,#1f9e89,#2b748e,#38588c,#404688,#443b84,#453781,#463480,#46307e,#472c7a,#482576,#482071,#481f70,#482071,#482576,#472d7b,#453581,#433d84,#414287,#404688,#3e4989,#3c4f8a,#38588c,#33638d,#2c718e,#27808e,#228c8d,#20928c,#20938c,#20928c,#1f948c,#1f988b,#1fa188,#26ad81,#38b977,#4cc26c)"></i>
<i style="top:55.81px;height:2.69px;border-color:#52c569;border-right-color:#52c569;background-image:linear-gradient(90deg,#52c569,#3dbc74,#28ae80,#20a386,#1e9c89,#1f978b,#1f978b,#1f988b,#1f968b,#21908d,#25838e,#2b758e,#31678e,#375b8d,#3b528b,#3d4e8a,#3e4a89,#404688,#424086,#453781,#472d7b,#482576,#482173,#481f70,#482173,#482576,#472a7a,#472e7c,#46307e,#46327e,#453581,#423f85,#3c508b,#2f6b8e,#21918c,#48c16e,#bddf26,#90d743,#56c667,#32b67a,#1f9e89,#277f8e,#33628d,#3e4a89,#433d84,#453882,#443a83,#404688,#38588c,#306a8e,#2a788e,#26818e,#23898e,#1f978b,#25ab82,#2db27d,#1e9c89,#287d8e,#31668e,#375a8c,#375a8c,#33628d,#2c718e,#277f8e,#26828e,#287c8e,#2b758e,#2b758e,#287c8e,#26828e,#277f8e,#2c718e,#33628d,#375a8c,#375a8c,#31668e,#287d8e,#1e9c89,#2db27d,#25ab82,#1f978b,#23898e,#26818e,#2a788e,#306a8e,#38588c,#404688,#443a83,#453882,#433d84,#3e4a89,#33628d,#277f8e,#1f9e89,#32b67a,#56c667,#90d743,#bddf26,#48c16e,#21918c,#2f6b8e,#3c508b,#423f85,#453581,#46327e,#46307e,#472e7c,#472a7a,#482576,#482173,#481f70,#482173,#482576,#472d7b,#453781,#424086,#404688,#3e4a89,#3d4e8a,#3b528b,#375b8d,#31678e,#2b758e,#25838e,#21908d,#1f968b,#1f988b,#1f978b,#1f978b,#1e9c89,#20a386,#28ae80,#3dbc74,#52c569)"></i>
<i style="top:57.81px;height:2.69px;border-color:#58c765;border-right-color:#58c765;background-image:linear-gradient(90deg,#58c765,#40bd72,#2cb17e,#21a685,#1f9f88,#1e9b8a,#1e9c89,#1e9d89,#1e9b8a,#1f948c,#24878e,#2a788e,#2f6b8e,#355f8d,#39568c,#3b528b,#3d4e8a,#3e4a89,#414287,#443983,#472f7d,#482677,#482173,#482071,#482173,#482475,#482979,#472c7a,#472d7b,#472e7c,#46307e,#443983,#3e4989,#33638d,#25858e,#2cb17e,#84d44b,#a2da37,#7cd250,#52c569,#25ab82,#24878e,#31678e,#3d4e8a,#423f85,#443983,#443b84,#404688,#39558c,#32658e,#2d718e,#2a768e,#287d8e,#238a8d,#1f9f88,#26ad81,#1fa088,#26828e,#2f6c8e,#34608d,#355f8d,#31678e,#2b748e,#277e8e,#287c8e,#2c738e,#2e6d8e,#2e6d8e,#2c738e,#287c8e,#277e8e,#2b748e,#31678e,#355f8d,#34608d,#2f6c8e,#26828e,#1fa088,#26ad81,#1f9f88,#238a8d,#287d8e,#2a768e,#2d718e,#32658e,#39558c,#404688,#443b84,#443983,#423f85,#3d4e8a,#31678e,#24878e,#25ab82,#52c569,#7cd250,#a2da37,#84d44b,#2cb17e,#25858e,#33638d,#3e4989,#443983,#46307e,#472e7c,#472d7b,#472c7a,#482979,#482475,#482173,#482071,#482173,#482677,#472f7d,#443983,#414287,#3e4a89,#3d4e8a,#3b528b,#39568c,#355f8d,#2f6b8e,#2a788e,#24878e,#1f948c,#1e9b8a,#1e9d89,#1e9c89,#1e9b8a,#1f9f88,#21a685,#2cb17e,#40bd72,#58c765)"></i>
<i style="top:59.80px;height:2.69px;border-color:#5ec962;border-right-color:#5ec962;background-image:linear-gradient(90deg,#5ec962,#44bf70,#2eb37c,#22a884,#1fa187,#1f9f88,#1fa088,#1fa187,#1fa088,#1f988b,#228b8d,#287c8e,#2e6e8e,#33638d,#375b8d,#39568c,#3b528b,#3d4e8a,#404688,#443b84,#46307e,#482878,#482374,#482071,#482173,#482475,#482878,#472a7a,#472a7a,#472a7a,#472d7b,#463480,#414287,#375b8d,#297b8e,#1fa187,#54c568,#8bd646,#9bd93c,#81d34d,#37b878,#21908d,#2e6d8e,#3b528b,#424186,#443b84,#433d84,#404688,#3a548c,#34618d,#30698e,#2e6d8e,#2c728e,#277e8e,#20928c,#21a685,#1fa287,#238a8d,#2c738e,#31678e,#32658e,#2e6d8e,#2a778e,#287d8e,#2a778e,#2f6c8e,#32648e,#32648e,#2f6c8e,#2a778e,#287d8e,#2a778e,#2e6d8e,#32658e,#31678e,#2c738e,#238a8d,#1fa287,#21a685,#20928c,#277e8e,#2c728e,#2e6d8e,#30698e,#34618d,#3a548c,#404688,#433d84,#443b84,#424186,#3b528b,#2e6d8e,#21908d,#37b878,#81d34d,#9bd93c,#8bd646,#54c568,#1fa187,#297b8e,#375b8d,#414287,#463480,#472d7b,#472a7a,#472a7a,#472a7a,#482878,#482475,#482173,#482071,#482374,#482878,#46307e,#443b84,#404688,#3d4e8a,#3b528b,#39568c,#375b8d,#33638d,#2e6e8e,#287c8e,#228b8d,#1f988b,#1fa088,#1fa187,#1fa088,#1f9f88,#1fa187,#22a884,#2eb37c,#44bf70,#5ec962)"></i>
<i style="top:61.79px;height:2.69px;border-color:#65cb5e;border-right-color:#65cb5e;background-image:linear-gradient(90deg,#65cb5e,#4ac16d,#31b57b,#25ab82,#20a486,#1fa287,#20a486,#21a585,#20a486,#1e9c89,#218e8d,#277f8e,#2c718e,#31678e,#34608d,#375b8d,#38588c,#3b528b,#3e4989,#433e85,#46327e,#482979,#482475,#482173,#482374,#482576,#482878,#482878,#482878,#482878,#482979,#472f7d,#433e85,#3a538b,#2c718e,#20938c,#31b57b,#5ec962,#93d741,#b5de2b,#58c765,#1f9a8a,#2c728e,#39568c,#404588,#433e85,#423f85,#3f4788,#3a538b,#355e8d,#33638d,#32658e,#30698e,#2c738e,#24878e,#1fa088,#21a585,#20928c,#297b8e,#2e6f8e,#2e6d8e,#2c728e,#297b8e,#287c8e,#2c728e,#32658e,#365d8d,#365d8d,#32658e,#2c728e,#287c8e,#297b8e,#2c728e,#2e6d8e,#2e6f8e,#297b8e,#20928c,#21a585,#1fa088,#24878e,#2c738e,#30698e,#32658e,#33638d,#355e8d,#3a538b,#3f4788,#423f85,#433e85,#404588,#39568c,#2c728e,#1f9a8a,#58c765,#b5de2b,#93d741,#5ec962,#31b57b,#20938c,#2c718e,#3a538b,#433e85,#472f7d,#482979,#482878,#482878,#482878,#482878,#482576,#482374,#482173,#482475,#482979,#46327e,#433e85,#3e4989,#3b528b,#38588c,#375b8d,#34608d,#31678e,#2c718e,#277f8e,#218e8d,#1e9c89,#20a486,#21a585,#20a486,#1fa287,#20a486,#25ab82,#31b57b,#4ac16d,#65cb5e)"></i>
<i style="top:63.79px;height:2.69px;border-color:#6ccd5a;border-right-color:#6ccd5a;background-image:linear-gradient(90deg,#6ccd5a,#4ec36b,#34b679,#26ad81,#22a785,#21a685,#22a884,#24aa83,#22a884,#1fa088,#20928c,#26828e,#2b758e,#2f6b8e,#32648e,#34608d,#365c8d,#39568c,#3d4d8a,#424086,#463480,#472a7a,#482576,#482374,#482374,#482576,#482677,#482677,#482576,#482576,#482677,#472c7a,#453882,#3d4d8a,#31688e,#24878e,#20a386,#3aba76,#6ece58,#cde11d,#84d44b,#21a585,#297a8e,#365c8d,#3e4989,#424186,#424186,#3f4889,#3a538b,#375b8d,#365d8d,#365d8d,#34608d,#306a8e,#277e8e,#1f988b,#22a785,#1f9a8a,#25848e,#2a778e,#2b748e,#297a8e,#27808e,#287c8e,#2e6e8e,#355f8d,#39568c,#39568c,#355f8d,#2e6e8e,#287c8e,#27808e,#297a8e,#2b748e,#2a778e,#25848e,#1f9a8a,#22a785,#1f988b,#277e8e,#306a8e,#34608d,#365d8d,#365d8d,#375b8d,#3a538b,#3f4889,#424186,#424186,#3e4989,#365c8d,#297a8e,#21a585,#84d44b,#cde11d,#6ece58,#3aba76,#20a386,#24878e,#31688e,#3d4d8a,#453882,#472c7a,#482677,#482576,#482576,#482677,#482677,#482576,#482374,#482374,#482576,#472a7a,#463480,#424086,#3d4d8a,#39568c,#365c8d,#34608d,#32648e,#2f6b8e,#2b758e,#26828e,#20928c,#1fa088,#22a884,#24aa83,#22a884,#21a685,#22a785,#26ad81,#34b679,#4ec36b,#6ccd5a)"></i>
<i style="top:65.78px;height:2.69px;border-color:#70cf57;border-right-color:#70cf57;background-image:linear-gradient(90deg,#70cf57,#52c569,#37b878,#29af7f,#24aa83,#24aa83,#26ad81,#28ae80,#25ac82,#1fa287,#1f948c,#25858e,#29798e,#2d708e,#30698e,#32658e,#34618d,#375b8d,#3c508b,#414487,#453781,#472d7b,#482677,#482475,#482475,#482677,#482677,#482677,#482475,#482374,#482374,#482979,#463480,#3f4788,#34608d,#297b8e,#1f948c,#23a983,#44bf70,#a2da37,#b5de2b,#2cb17e,#26828e,#33628d,#3d4e8a,#404588,#404588,#3e4a89,#3a538b,#38588c,#38588c,#39558c,#38588c,#33628d,#2b758e,#21918c,#22a785,#1fa287,#218f8d,#26828e,#277e8e,#26828e,#25848e,#297b8e,#306a8e,#375a8c,#3b518b,#3b518b,#375a8c,#306a8e,#297b8e,#25848e,#26828e,#277e8e,#26828e,#218f8d,#1fa287,#22a785,#21918c,#2b758e,#33628d,#38588c,#39558c,#38588c,#38588c,#3a538b,#3e4a89,#404588,#404588,#3d4e8a,#33628d,#26828e,#2cb17e,#b5de2b,#a2da37,#44bf70,#23a983,#1f948c,#297b8e,#34608d,#3f4788,#463480,#482979,#482374,#482374,#482475,#482677,#482677,#482677,#482475,#482475,#482677,#472d7b,#453781,#414487,#3c508b,#375b8d,#34618d,#32658e,#30698e,#2d708e,#29798e,#25858e,#1f948c,#1fa287,#25ac82,#28ae80,#26ad81,#24aa83,#24aa83,#29af7f,#37b878,#52c569,#70cf57)"></i>
<i style="top:67.77px;height:2.69px;border-color:#77d153;border-right-color:#77d153;background-image:linear-gradient(90deg,#77d153,#56c667,#3bbb75,#2cb17e,#27ad81,#27ad81,#2ab07f,#2db27d,#29af7f,#21a685,#1f978b,#23898e,#287d8e,#2c738e,#2e6e8e,#306a8e,#31668e,#355f8d,#3a548c,#404688,#443983,#472e7c,#482878,#482576,#482576,#482677,#482677,#482576,#482374,#482071,#482173,#482576,#46307e,#424186,#38598c,#2d718e,#24868e,#1f988b,#28ae80,#6ece58,#d5e21a,#3fbc73,#228b8d,#30698e,#3a538b,#3e4989,#3f4889,#3d4e8a,#3a538b,#39558c,#3a538b,#3c508b,#3b518b,#375a8c,#2e6d8e,#23898e,#21a685,#25ac82,#1e9b8a,#228d8d,#23898e,#228b8d,#23898e,#297b8e,#31678e,#39558c,#3e4c8a,#3e4c8a,#39558c,#31678e,#297b8e,#23898e,#228b8d,#23898e,#228d8d,#1e9b8a,#25ac82,#21a685,#23898e,#2e6d8e,#375a8c,#3b518b,#3c508b,#3a538b,#39558c,#3a538b,#3d4e8a,#3f4889,#3e4989,#3a538b,#30698e,#228b8d,#3fbc73,#d5e21a,#6ece58,#28ae80,#1f988b,#24868e,#2d718e,#38598c,#424186,#46307e,#482576,#482173,#482071,#482374,#482576,#482677,#482677,#482576,#482576,#482878,#472e7c,#443983,#404688,#3a548c,#355f8d,#31668e,#306a8e,#2e6e8e,#2c738e,#287d8e,#23898e,#1f978b,#21a685,#29af7f,#2db27d,#2ab07f,#27ad81,#27ad81,#2cb17e,#3bbb75,#56c667,#77d153)"></i>
<i style="top:69.76px;height:2.69px;border-color:#7cd250;border-right-color:#7cd250;background-image:linear-gradient(90deg,#7cd250,#5ac864,#3fbc73,#2fb47c,#2ab07f,#2cb17e,#2fb47c,#34b679,#2eb37c,#23a983,#1e9b8a,#228c8d,#26818e,#2a788e,#2c728e,#2d708e,#2f6b8e,#32648e,#38588c,#3e4989,#443b84,#46307e,#472a7a,#482878,#482878,#482878,#482878,#482576,#482173,#481f70,#481f70,#482374,#472d7b,#433d84,#3b518b,#31678e,#29798e,#23898e,#1f9e89,#42be71,#b5de2b,#5ac864,#1f958b,#2d718e,#375b8d,#3c4f8a,#3d4e8a,#3b518b,#3a548c,#3a548c,#3c4f8a,#3e4a89,#3e4a89,#3a538b,#31668e,#26828e,#20a486,#2fb47c,#22a884,#1f9a8a,#1f958b,#1f958b,#218f8d,#297b8e,#32648e,#3b518b,#3f4788,#3f4788,#3b518b,#32648e,#297b8e,#218f8d,#1f958b,#1f958b,#1f9a8a,#22a884,#2fb47c,#20a486,#26828e,#31668e,#3a538b,#3e4a89,#3e4a89,#3c4f8a,#3a548c,#3a548c,#3b518b,#3d4e8a,#3c4f8a,#375b8d,#2d718e,#1f958b,#5ac864,#b5de2b,#42be71,#1f9e89,#23898e,#29798e,#31678e,#3b518b,#433d84,#472d7b,#482374,#481f70,#481f70,#482173,#482576,#482878,#482878,#482878,#482878,#472a7a,#46307e,#443b84,#3e4989,#38588c,#32648e,#2f6b8e,#2d708e,#2c728e,#2a788e,#26818e,#228c8d,#1e9b8a,#23a983,#2eb37c,#34b679,#2fb47c,#2cb17e,#2ab07f,#2fb47c,#3fbc73,#5ac864,#7cd250)"></i>
<i style="top:71.76px;height:2.69px;border-color:#81d34d;border-right-color:#81d34d;background-image:linear-gradient(90deg,#81d34d,#5ec962,#42be71,#34b679,#2eb37c,#2fb47c,#37b878,#3aba76,#34b679,#25ac82,#1f9e89,#21908d,#25848e,#287c8e,#2a778e,#2b748e,#2d718e,#30698e,#365c8d,#3d4d8a,#433e85,#46337f,#472d7b,#482979,#482979,#482979,#482878,#482475,#482071,#481d6f,#481d6f,#482173,#472a7a,#453882,#3e4a89,#355e8d,#2e6e8e,#287c8e,#218f8d,#26ad81,#81d34d,#77d153,#1fa188,#29798e,#33628d,#39558c,#3b528b,#3a548c,#39568c,#3a538b,#3e4c8a,#404588,#404588,#3d4d8a,#34608d,#287c8e,#1fa187,#3bbb75,#34b679,#24aa83,#20a386,#1fa188,#1f948c,#287c8e,#33628d,#3d4e8a,#414487,#414487,#3d4e8a,#33628d,#287c8e,#1f948c,#1fa188,#20a386,#24aa83,#34b679,#3bbb75,#1fa187,#287c8e,#34608d,#3d4d8a,#404588,#404588,#3e4c8a,#3a538b,#39568c,#3a548c,#3b528b,#39558c,#33628d,#29798e,#1fa188,#77d153,#81d34d,#26ad81,#218f8d,#287c8e,#2e6e8e,#355e8d,#3e4a89,#453882,#472a7a,#482173,#481d6f,#481d6f,#482071,#482475,#482878,#482979,#482979,#482979,#472d7b,#46337f,#433e85,#3d4d8a,#365c8d,#30698e,#2d718e,#2b748e,#2a778e,#287c8e,#25848e,#21908d,#1f9e89,#25ac82,#34b679,#3aba76,#37b878,#2fb47c,#2eb37c,#34b679,#42be71,#5ec962,#81d34d)"></i>
<i style="top:73.75px;height:2.69px;border-color:#86d549;border-right-color:#86d549;background-image:linear-gradient(90deg,#86d549,#63cb5f,#46c06f,#37b878,#32b67a,#35b779,#3dbc74,#40bd72,#38b977,#28ae80,#1fa088,#20928c,#23888e,#26818e,#287d8e,#297a8e,#2b758e,#2e6d8e,#34608d,#3c508b,#424186,#453581,#472f7d,#472c7a,#472c7a,#472a7a,#482878,#482475,#482071,#481c6e,#481c6e,#481f70,#482878,#463480,#404588,#39558c,#33638d,#2d708e,#26818e,#1e9d89,#54c568,#8ed645,#27ad81,#25838e,#306a8e,#365d8d,#38598c,#375a8c,#38598c,#3b528b,#3f4889,#424186,#424086,#3f4889,#375a8c,#2a768e,#1e9d89,#46c06f,#54c568,#3aba76,#2eb37c,#26ad81,#1f9a8a,#287c8e,#34608d,#3e4c8a,#424186,#424186,#3e4c8a,#34608d,#287c8e,#1f9a8a,#26ad81,#2eb37c,#3aba76,#54c568,#46c06f,#1e9d89,#2a768e,#375a8c,#3f4889,#424086,#424186,#3f4889,#3b528b,#38598c,#375a8c,#38598c,#365d8d,#306a8e,#25838e,#27ad81,#8ed645,#54c568,#1e9d89,#26818e,#2d708e,#33638d,#39558c,#404588,#463480,#482878,#481f70,#481c6e,#481c6e,#482071,#482475,#482878,#472a7a,#472c7a,#472c7a,#472f7d,#453581,#424186,#3c508b,#34608d,#2e6d8e,#2b758e,#297a8e,#287d8e,#26818e,#23888e,#20928c,#1fa088,#28ae80,#38b977,#40bd72,#3dbc74,#35b779,#32b67a,#37b878,#46c06f,#63cb5f,#86d549)"></i>
<i style="top:75.74px;height:2.69px;border-color:#8bd646;border-right-color:#8bd646;background-image:linear-gradient(90deg,#8bd646,#65cb5e,#4ac16d,#3bbb75,#37b878,#3bbb75,#44bf70,#48c16e,#3dbc74,#2ab07f,#1fa287,#1f958b,#228c8d,#25858e,#26828e,#27808e,#297b8e,#2c718e,#32648e,#3a538b,#404588,#443983,#46327e,#472f7d,#472e7c,#472d7b,#482979,#482475,#481f70,#481b6d,#481b6d,#481d6f,#482576,#46307e,#424086,#3d4e8a,#375a8c,#32648e,#2c738e,#218e8d,#32b67a,#8ed645,#3bbb75,#218f8d,#2c738e,#32658e,#34608d,#355f8d,#375b8d,#3b528b,#404688,#433e85,#433d84,#414487,#3a548c,#2d718e,#1f988b,#4cc26c,#7ad151,#60ca60,#4ec36b,#38b977,#1f9f88,#287d8e,#355f8d,#3e4989,#423f85,#423f85,#3e4989,#355f8d,#287d8e,#1f9f88,#38b977,#4ec36b,#60ca60,#7ad151,#4cc26c,#1f988b,#2d718e,#3a548c,#414487,#433d84,#433e85,#404688,#3b528b,#375b8d,#355f8d,#34608d,#32658e,#2c738e,#218f8d,#3bbb75,#8ed645,#32b67a,#218e8d,#2c738e,#32648e,#375a8c,#3d4e8a,#424086,#46307e,#482576,#481d6f,#481b6d,#481b6d,#481f70,#482475,#482979,#472d7b,#472e7c,#472f7d,#46327e,#443983,#404588,#3a538b,#32648e,#2c718e,#297b8e,#27808e,#26828e,#25858e,#228c8d,#1f958b,#1fa287,#2ab07f,#3dbc74,#48c16e,#44bf70,#3bbb75,#37b878,#3bbb75,#4ac16d,#65cb5e,#8bd646)"></i>
<i style="top:77.74px;height:2.69px;border-color:#90d743;border-right-color:#90d743;background-image:linear-gradient(90deg,#90d743,#69cd5b,#4ec36b,#3fbc73,#3dbc74,#42be71,#4cc26c,#50c46a,#42be71,#2eb37c,#21a585,#1f998a,#21908d,#238a8d,#24878e,#25858e,#26818e,#2a768e,#31688e,#39568c,#3f4889,#433d84,#453581,#46327e,#46307e,#472e7c,#472a7a,#482475,#481f70,#481b6d,#481a6c,#481c6e,#482475,#472e7c,#443b84,#3f4788,#3c508b,#375a8c,#31688e,#27808e,#21a685,#77d153,#58c765,#1e9c89,#277e8e,#2e6f8e,#31688e,#32658e,#355e8d,#3b528b,#404588,#443b84,#443983,#423f85,#3c508b,#2f6c8e,#20938c,#48c16e,#a2da37,#98d83e,#7cd250,#52c569,#20a486,#287d8e,#355e8d,#3f4889,#433e85,#433e85,#3f4889,#355e8d,#287d8e,#20a486,#52c569,#7cd250,#98d83e,#a2da37,#48c16e,#20938c,#2f6c8e,#3c508b,#423f85,#443983,#443b84,#404588,#3b528b,#355e8d,#32658e,#31688e,#2e6f8e,#277e8e,#1e9c89,#58c765,#77d153,#21a685,#27808e,#31688e,#375a8c,#3c508b,#3f4788,#443b84,#472e7c,#482475,#481c6e,#481a6c,#481b6d,#481f70,#482475,#472a7a,#472e7c,#46307e,#46327e,#453581,#433d84,#3f4889,#39568c,#31688e,#2a768e,#26818e,#25858e,#24878e,#238a8d,#21908d,#1f998a,#21a585,#2eb37c,#42be71,#50c46a,#4cc26c,#42be71,#3dbc74,#3fbc73,#4ec36b,#69cd5b,#90d743)"></i>
<i style="top:79.73px;height:2.69px;border-color:#95d840;border-right-color:#95d840;background-image:linear-gradient(90deg,#95d840,#6ece58,#52c569,#44bf70,#42be71,#48c16e,#54c568,#56c667,#48c16e,#31b57b,#22a785,#1e9c89,#20938c,#218f8d,#228d8d,#228b8d,#24868e,#287c8e,#2f6c8e,#375b8d,#3e4c8a,#424086,#443983,#453581,#46337f,#46307e,#472c7a,#482576,#481f70,#481b6d,#481a6c,#481c6e,#482173,#472c7a,#453781,#424086,#3f4889,#3c508b,#355e8d,#2b748e,#1f988b,#5ac864,#7cd250,#25ab82,#238a8d,#29798e,#2d718e,#2f6c8e,#33628d,#3a538b,#414487,#443983,#453781,#433d84,#3d4d8a,#31688e,#218e8d,#3dbc74,#addc30,#dae319,#b8de29,#6ccd5a,#22a884,#277e8e,#355e8d,#3f4788,#433d84,#433d84,#3f4788,#355e8d,#277e8e,#22a884,#6ccd5a,#b8de29,#dae319,#addc30,#3dbc74,#218e8d,#31688e,#3d4d8a,#433d84,#453781,#443983,#414487,#3a538b,#33628d,#2f6c8e,#2d718e,#29798e,#238a8d,#25ab82,#7cd250,#5ac864,#1f988b,#2b748e,#355e8d,#3c508b,#3f4889,#424086,#453781,#472c7a,#482173,#481c6e,#481a6c,#481b6d,#481f70,#482576,#472c7a,#46307e,#46337f,#453581,#443983,#424086,#3e4c8a,#375b8d,#2f6c8e,#287c8e,#24868e,#228b8d,#228d8d,#218f8d,#20938c,#1e9c89,#22a785,#31b57b,#48c16e,#56c667,#54c568,#48c16e,#42be71,#44bf70,#52c569,#6ece58,#95d840)"></i>
<i style="top:81.72px;height:2.69px;border-color:#9bd93c;border-right-color:#9bd93c;background-image:linear-gradient(90deg,#9bd93c,#73d056,#56c667,#48c16e,#48c16e,#50c46a,#5cc863,#5ec962,#4cc26c,#34b679,#24aa83,#1f9f88,#1f978b,#20938c,#20928c,#20928c,#228c8d,#26818e,#2d718e,#355f8d,#3c4f8a,#414487,#433d84,#443983,#453781,#46337f,#472d7b,#482576,#481f70,#481b6d,#481a6c,#481b6d,#482173,#482979,#46337f,#443b84,#424186,#3f4889,#3a548c,#30698e,#228b8d,#3dbc74,#9bd93c,#3bbb75,#1f988b,#25848e,#297b8e,#2c738e,#31668e,#3a548c,#414287,#453882,#463480,#443a83,#3e4989,#32648e,#23888e,#31b57b,#8ed645,#d5e21a,#dde318,#7fd34e,#25ab82,#277f8e,#355e8d,#3f4788,#433d84,#433d84,#3f4788,#355e8d,#277f8e,#25ab82,#7fd34e,#dde318,#d5e21a,#8ed645,#31b57b,#23888e,#32648e,#3e4989,#443a83,#463480,#453882,#414287,#3a548c,#31668e,#2c738e,#297b8e,#25848e,#1f988b,#3bbb75,#9bd93c,#3dbc74,#228b8d,#30698e,#3a548c,#3f4889,#424186,#443b84,#46337f,#482979,#482173,#481b6d,#481a6c,#481b6d,#481f70,#482576,#472d7b,#46337f,#453781,#443983,#433d84,#414487,#3c4f8a,#355f8d,#2d718e,#26818e,#228c8d,#20928c,#20928c,#20938c,#1f978b,#1f9f88,#24aa83,#34b679,#4cc26c,#5ec962,#5cc863,#50c46a,#48c16e,#48c16e,#56c667,#73d056,#9bd93c)"></i>
<i style="top:83.71px;height:2.69px;border-color:#a0da39;border-right-color:#a0da39;background-image:linear-gradient(90deg,#a0da39,#77d153,#5ac864,#4ec36b,#4ec36b,#58c765,#65cb5e,#65cb5e,#50c46a,#37b878,#25ac82,#1fa187,#1e9c89,#1f998a,#1f988b,#1f978b,#20928c,#25858e,#2b748e,#33638d,#3a538b,#3f4788,#424086,#433d84,#443983,#453581,#472e7c,#482677,#481f70,#481b6d,#481a6c,#481b6d,#482071,#482878,#472f7d,#453581,#443a83,#424086,#3e4c8a,#355f8d,#277f8e,#27ad81,#a0da39,#63cb5f,#22a884,#20928c,#24868e,#287c8e,#2f6b8e,#39568c,#414287,#453781,#46337f,#453882,#404688,#34608d,#26828e,#25ab82,#63cb5f,#93d741,#addc30,#7ad151,#25ac82,#27808e,#355f8d,#3f4889,#433d84,#433d84,#3f4889,#355f8d,#27808e,#25ac82,#7ad151,#addc30,#93d741,#63cb5f,#25ab82,#26828e,#34608d,#404688,#453882,#46337f,#453781,#414287,#39568c,#2f6b8e,#287c8e,#24868e,#20928c,#22a884,#63cb5f,#a0da39,#27ad81,#277f8e,#355f8d,#3e4c8a,#424086,#443a83,#453581,#472f7d,#482878,#482071,#481b6d,#481a6c,#481b6d,#481f70,#482677,#472e7c,#453581,#443983,#433d84,#424086,#3f4788,#3a538b,#33638d,#2b748e,#25858e,#20928c,#1f978b,#1f988b,#1f998a,#1e9c89,#1fa187,#25ac82,#37b878,#50c46a,#65cb5e,#65cb5e,#58c765,#4ec36b,#4ec36b,#5ac864,#77d153,#a0da39)"></i>
<i style="top:85.71px;height:2.69px;border-color:#a2da37;border-right-color:#a2da37;background-image:linear-gradient(90deg,#a2da37,#7ad151,#5ec962,#52c569,#54c568,#5ec962,#6ccd5a,#6ccd5a,#54c568,#3aba76,#27ad81,#20a486,#1fa088,#1f9e89,#1f9e89,#1e9d89,#1f978b,#238a8d,#2a788e,#31678e,#38588c,#3e4c8a,#404588,#424086,#433e85,#453882,#46307e,#482878,#482071,#481b6d,#481a6c,#481b6d,#481f70,#482576,#472d7b,#46327e,#463480,#443983,#414487,#39558c,#2c738e,#1fa188,#84d44b,#9bd93c,#38b977,#1fa187,#1f948c,#25858e,#2d718e,#38598c,#414487,#453781,#46327e,#453781,#404588,#365d8d,#287d8e,#1fa188,#3dbc74,#5ac864,#70cf57,#65cb5e,#25ab82,#26818e,#34608d,#3e4989,#433e85,#433e85,#3e4989,#34608d,#26818e,#25ab82,#65cb5e,#70cf57,#5ac864,#3dbc74,#1fa188,#287d8e,#365d8d,#404588,#453781,#46327e,#453781,#414487,#38598c,#2d718e,#25858e,#1f948c,#1fa187,#38b977,#9bd93c,#84d44b,#1fa188,#2c738e,#39558c,#414487,#443983,#463480,#46327e,#472d7b,#482576,#481f70,#481b6d,#481a6c,#481b6d,#482071,#482878,#46307e,#453882,#433e85,#424086,#404588,#3e4c8a,#38588c,#31678e,#2a788e,#238a8d,#1f978b,#1e9d89,#1f9e89,#1f9e89,#1fa088,#20a486,#27ad81,#3aba76,#54c568,#6ccd5a,#6ccd5a,#5ec962,#54c568,#52c569,#5ec962,#7ad151,#a2da37)"></i>
<i style="top:87.70px;height:2.69px;border-color:#a8db34;border-right-color:#a8db34;background-image:linear-gradient(90deg,#a8db34,#7fd34e,#63cb5f,#58c765,#5ac864,#67cc5c,#75d054,#70cf57,#58c765,#3bbb75,#29af7f,#22a785,#20a386,#1fa287,#20a386,#20a386,#1e9d89,#218f8d,#287d8e,#2f6b8e,#365c8d,#3c508b,#3e4989,#404588,#424186,#443b84,#46337f,#482979,#482071,#481b6d,#481a6c,#481b6d,#481f70,#482475,#472a7a,#472e7c,#472f7d,#46337f,#433d84,#3d4e8a,#306a8e,#20938c,#5ec962,#dde318,#60ca60,#2eb37c,#20a386,#21918c,#2a768e,#365c8d,#404588,#453781,#46327e,#453581,#414287,#375a8c,#2a788e,#1f968b,#25ac82,#32b67a,#44bf70,#48c16e,#23a983,#26828e,#33628d,#3e4a89,#424086,#424086,#3e4a89,#33628d,#26828e,#23a983,#48c16e,#44bf70,#32b67a,#25ac82,#1f968b,#2a788e,#375a8c,#414287,#453581,#46327e,#453781,#404588,#365c8d,#2a768e,#21918c,#20a386,#2eb37c,#60ca60,#dde318,#5ec962,#20938c,#306a8e,#3d4e8a,#433d84,#46337f,#472f7d,#472e7c,#472a7a,#482475,#481f70,#481b6d,#481a6c,#481b6d,#482071,#482979,#46337f,#443b84,#424186,#404588,#3e4989,#3c508b,#365c8d,#2f6b8e,#287d8e,#218f8d,#1e9d89,#20a386,#20a386,#1fa287,#20a386,#22a785,#29af7f,#3bbb75,#58c765,#70cf57,#75d054,#67cc5c,#5ac864,#58c765,#63cb5f,#7fd34e,#a8db34)"></i>
<i style="top:89.69px;height:2.69px;border-color:#aadc32;border-right-color:#aadc32;background-image:linear-gradient(90deg,#aadc32,#84d44b,#67cc5c,#5cc863,#60ca60,#6ece58,#7cd250,#77d153,#5cc863,#3fbc73,#2cb17e,#24aa83,#22a785,#22a785,#23a983,#23a983,#1fa187,#20938c,#26818e,#2e6f8e,#34608d,#3a548c,#3d4e8a,#3e4989,#404688,#423f85,#453581,#472a7a,#482173,#481c6e,#481a6c,#481b6d,#481f70,#482475,#482878,#472a7a,#472c7a,#472e7c,#453581,#404688,#34618d,#24878e,#3dbc74,#d8e219,#95d840,#50c46a,#2fb47c,#1e9d89,#277e8e,#355f8d,#404688,#453882,#46327e,#453581,#414287,#38588c,#2c738e,#228d8d,#1e9c89,#20a486,#27ad81,#2fb47c,#21a585,#25838e,#32648e,#3d4e8a,#414287,#414287,#3d4e8a,#32648e,#25838e,#21a585,#2fb47c,#27ad81,#20a486,#1e9c89,#228d8d,#2c738e,#38588c,#414287,#453581,#46327e,#453882,#404688,#355f8d,#277e8e,#1e9d89,#2fb47c,#50c46a,#95d840,#d8e219,#3dbc74,#24878e,#34618d,#404688,#453581,#472e7c,#472c7a,#472a7a,#482878,#482475,#481f70,#481b6d,#481a6c,#481c6e,#482173,#472a7a,#453581,#423f85,#404688,#3e4989,#3d4e8a,#3a548c,#34608d,#2e6f8e,#26818e,#20938c,#1fa187,#23a983,#23a983,#22a785,#22a785,#24aa83,#2cb17e,#3fbc73,#5cc863,#77d153,#7cd250,#6ece58,#60ca60,#5cc863,#67cc5c,#84d44b,#aadc32)"></i>
<i style="top:91.69px;height:2.69px;border-color:#b0dd2f;border-right-color:#b0dd2f;background-image:linear-gradient(90deg,#b0dd2f,#86d549,#6ccd5a,#63cb5f,#67cc5c,#75d054,#84d44b,#7cd250,#5ec962,#40bd72,#2fb47c,#26ad81,#25ab82,#25ac82,#28ae80,#28ae80,#22a785,#1f988b,#25858e,#2c738e,#32648e,#375a8c,#3a538b,#3c4f8a,#3e4a89,#414287,#453882,#472c7a,#482374,#481c6e,#481b6d,#481b6d,#481f70,#482374,#482677,#482677,#482878,#482979,#46307e,#423f85,#38598c,#287d8e,#26ad81,#95d840,#c0df25,#7fd34e,#52c569,#24aa83,#25858e,#33638d,#3f4889,#443983,#46337f,#453581,#424186,#39568c,#2e6f8e,#25838e,#218e8d,#20938c,#1e9d89,#21a685,#1fa088,#25848e,#31678e,#3b518b,#404688,#404688,#3b518b,#31678e,#25848e,#1fa088,#21a685,#1e9d89,#20938c,#218e8d,#25838e,#2e6f8e,#39568c,#424186,#453581,#46337f,#443983,#3f4889,#33638d,#25858e,#24aa83,#52c569,#7fd34e,#c0df25,#95d840,#26ad81,#287d8e,#38598c,#423f85,#46307e,#482979,#482878,#482677,#482677,#482374,#481f70,#481b6d,#481b6d,#481c6e,#482374,#472c7a,#453882,#414287,#3e4a89,#3c4f8a,#3a538b,#375a8c,#32648e,#2c738e,#25858e,#1f988b,#22a785,#28ae80,#28ae80,#25ac82,#25ab82,#26ad81,#2fb47c,#40bd72,#5ec962,#7cd250,#84d44b,#75d054,#67cc5c,#63cb5f,#6ccd5a,#86d549,#b0dd2f)"></i>
<i style="top:93.68px;height:2.69px;border-color:#b2dd2d;border-right-color:#b2dd2d;background-image:linear-gradient(90deg,#b2dd2d,#8bd646,#70cf57,#67cc5c,#6ece58,#7fd34e,#8bd646,#81d34d,#63cb5f,#44bf70,#32b67a,#29af7f,#28ae80,#2ab07f,#2fb47c,#2fb47c,#25ac82,#1e9c89,#23898e,#2a778e,#30698e,#355f8d,#38598c,#3a548c,#3c4f8a,#404688,#443a83,#472e7c,#482475,#481d6f,#481b6d,#481c6e,#481f70,#482374,#482475,#482475,#482475,#482576,#472c7a,#443983,#3b518b,#2c728e,#1f9e89,#5cc863,#a8db34,#addc30,#86d549,#37b878,#218e8d,#31688e,#3e4c8a,#443a83,#463480,#453781,#414287,#3a548c,#306a8e,#297a8e,#26828e,#25858e,#228d8d,#1f998a,#1f9a8a,#25858e,#306a8e,#3a548c,#3e4989,#3e4989,#3a548c,#306a8e,#25858e,#1f9a8a,#1f998a,#228d8d,#25858e,#26828e,#297a8e,#306a8e,#3a548c,#414287,#453781,#463480,#443a83,#3e4c8a,#31688e,#218e8d,#37b878,#86d549,#addc30,#a8db34,#5cc863,#1f9e89,#2c728e,#3b518b,#443983,#472c7a,#482576,#482475,#482475,#482475,#482374,#481f70,#481c6e,#481b6d,#481d6f,#482475,#472e7c,#443a83,#404688,#3c4f8a,#3a548c,#38598c,#355f8d,#30698e,#2a778e,#23898e,#1e9c89,#25ac82,#2fb47c,#2fb47c,#2ab07f,#28ae80,#29af7f,#32b67a,#44bf70,#63cb5f,#81d34d,#8bd646,#7fd34e,#6ece58,#67cc5c,#70cf57,#8bd646,#b2dd2d)"></i>
<i style="top:95.67px;height:2.69px;border-color:#b8de29;border-right-color:#b8de29;background-image:linear-gradient(90deg,#b8de29,#8ed645,#75d054,#6ccd5a,#73d056,#86d549,#93d741,#86d549,#65cb5e,#46c06f,#35b779,#2db27d,#2db27d,#31b57b,#37b878,#37b878,#2ab07f,#1fa188,#228d8d,#287c8e,#2e6e8e,#32648e,#355e8d,#375a8c,#3a538b,#3e4a89,#433d84,#472f7d,#482576,#481f70,#481c6e,#481c6e,#481f70,#482173,#482374,#482374,#482173,#482173,#482878,#463480,#3e4989,#30698e,#21908d,#34b679,#70cf57,#a8db34,#c8e020,#58c765,#1f968b,#2e6e8e,#3c508b,#433e85,#453581,#453882,#414287,#3a548c,#31678e,#2c728e,#2a768e,#2a788e,#27808e,#228d8d,#20938c,#24868e,#2e6e8e,#375a8c,#3d4e8a,#3d4e8a,#375a8c,#2e6e8e,#24868e,#20938c,#228d8d,#27808e,#2a788e,#2a768e,#2c728e,#31678e,#3a548c,#414287,#453882,#453581,#433e85,#3c508b,#2e6e8e,#1f968b,#58c765,#c8e020,#a8db34,#70cf57,#34b679,#21908d,#30698e,#3e4989,#463480,#482878,#482173,#482173,#482374,#482374,#482173,#481f70,#481c6e,#481c6e,#481f70,#482576,#472f7d,#433d84,#3e4a89,#3a538b,#375a8c,#355e8d,#32648e,#2e6e8e,#287c8e,#228d8d,#1fa188,#2ab07f,#37b878,#37b878,#31b57b,#2db27d,#2db27d,#35b779,#46c06f,#65cb5e,#86d549,#93d741,#86d549,#73d056,#6ccd5a,#75d054,#8ed645,#b8de29)"></i>
<i style="top:97.66px;height:2.69px;border-color:#bade28;border-right-color:#bade28;background-image:linear-gradient(90deg,#bade28,#93d741,#7ad151,#73d056,#7ad151,#8ed645,#9bd93c,#8bd646,#67cc5c,#4ac16d,#38b977,#31b57b,#32b67a,#38b977,#40bd72,#40bd72,#31b57b,#20a486,#20928c,#27808e,#2c728e,#30698e,#32648e,#355f8d,#38598c,#3c4f8a,#424086,#46327e,#482677,#482071,#481d6f,#481d6f,#482071,#482173,#482173,#482071,#481f70,#481f70,#482475,#472f7d,#414487,#34618d,#26828e,#20a486,#40bd72,#75d054,#dfe318,#7fd34e,#1fa188,#2c738e,#3a548c,#424086,#443983,#443a83,#414487,#3a538b,#33638d,#2f6b8e,#2f6c8e,#2e6d8e,#2c738e,#26828e,#228d8d,#24878e,#2c728e,#355f8d,#3a548c,#3a548c,#355f8d,#2c728e,#24878e,#228d8d,#26828e,#2c738e,#2e6d8e,#2f6c8e,#2f6b8e,#33638d,#3a538b,#414487,#443a83,#443983,#424086,#3a548c,#2c738e,#1fa188,#7fd34e,#dfe318,#75d054,#40bd72,#20a486,#26828e,#34618d,#414487,#472f7d,#482475,#481f70,#481f70,#482071,#482173,#482173,#482071,#481d6f,#481d6f,#482071,#482677,#46327e,#424086,#3c4f8a,#38598c,#355f8d,#32648e,#30698e,#2c728e,#27808e,#20928c,#20a486,#31b57b,#40bd72,#40bd72,#38b977,#32b67a,#31b57b,#38b977,#4ac16d,#67cc5c,#8bd646,#9bd93c,#8ed645,#7ad151,#73d056,#7ad151,#93d741,#bade28)"></i>
<i style="top:99.66px;height:2.69px;border-color:#bddf26;border-right-color:#bddf26;background-image:linear-gradient(90deg,#bddf26,#95d840,#7fd34e,#77d153,#81d34d,#95d840,#a2da37,#8ed645,#69cd5b,#4cc26c,#3bbb75,#35b779,#38b977,#40bd72,#4ac16d,#4ac16d,#37b878,#22a884,#1f958b,#25848e,#2a778e,#2e6f8e,#306a8e,#32658e,#355e8d,#3a538b,#414487,#463480,#482979,#482173,#481f70,#481f70,#482173,#482173,#482173,#481f70,#481c6e,#481c6e,#482071,#472c7a,#433e85,#38598c,#2a778e,#20938c,#24aa83,#46c06f,#9dd93b,#a0da39,#25ab82,#297a8e,#375a8c,#404588,#443b84,#433d84,#404688,#3a548c,#34608d,#32648e,#33638d,#33638d,#30698e,#2a778e,#24868e,#24878e,#2a778e,#32658e,#375b8d,#375b8d,#32658e,#2a778e,#24878e,#24868e,#2a778e,#30698e,#33638d,#33638d,#32648e,#34608d,#3a548c,#404688,#433d84,#443b84,#404588,#375a8c,#297a8e,#25ab82,#a0da39,#9dd93b,#46c06f,#24aa83,#20938c,#2a778e,#38598c,#433e85,#472c7a,#482071,#481c6e,#481c6e,#481f70,#482173,#482173,#482173,#481f70,#481f70,#482173,#482979,#463480,#414487,#3a538b,#355e8d,#32658e,#306a8e,#2e6f8e,#2a778e,#25848e,#1f958b,#22a884,#37b878,#4ac16d,#4ac16d,#40bd72,#38b977,#35b779,#3bbb75,#4cc26c,#69cd5b,#8ed645,#a2da37,#95d840,#81d34d,#77d153,#7fd34e,#95d840,#bddf26)"></i>
<i style="top:101.65px;height:2.69px;border-color:#c0df25;border-right-color:#c0df25;background-image:linear-gradient(90deg,#c0df25,#9bd93c,#84d44b,#7cd250,#86d549,#9dd93b,#a8db34,#93d741,#6ccd5a,#4ec36b,#3fbc73,#3aba76,#3dbc74,#4ac16d,#54c568,#52c569,#3dbc74,#25ac82,#1f998a,#23898e,#287d8e,#2b748e,#2d708e,#2f6b8e,#32648e,#38588c,#3f4788,#453781,#472c7a,#482475,#482173,#482071,#482173,#482374,#482071,#481d6f,#481b6d,#481b6d,#481d6f,#482878,#453882,#3b518b,#2f6c8e,#25848e,#1f988b,#26ad81,#60ca60,#a2da37,#2fb47c,#26828e,#355f8d,#3e4989,#424086,#424086,#3f4889,#3a548c,#365d8d,#355e8d,#375a8c,#375a8c,#34608d,#2e6e8e,#27808e,#23888e,#287d8e,#2e6d8e,#33628d,#33628d,#2e6d8e,#287d8e,#23888e,#27808e,#2e6e8e,#34608d,#375a8c,#375a8c,#355e8d,#365d8d,#3a548c,#3f4889,#424086,#424086,#3e4989,#355f8d,#26828e,#2fb47c,#a2da37,#60ca60,#26ad81,#1f988b,#25848e,#2f6c8e,#3b518b,#453882,#482878,#481d6f,#481b6d,#481b6d,#481d6f,#482071,#482374,#482173,#482071,#482173,#482475,#472c7a,#453781,#3f4788,#38588c,#32648e,#2f6b8e,#2d708e,#2b748e,#287d8e,#23898e,#1f998a,#25ac82,#3dbc74,#52c569,#54c568,#4ac16d,#3dbc74,#3aba76,#3fbc73,#4ec36b,#6ccd5a,#93d741,#a8db34,#9dd93b,#86d549,#7cd250,#84d44b,#9bd93c,#c0df25)"></i>
<i style="top:103.64px;height:2.69px;border-color:#c5e021;border-right-color:#c5e021;background-image:linear-gradient(90deg,#c5e021,#9dd93b,#86d549,#81d34d,#8bd646,#a2da37,#b0dd2f,#95d840,#6ece58,#52c569,#40bd72,#3dbc74,#44bf70,#52c569,#5ec962,#5ac864,#42be71,#28ae80,#1e9d89,#218e8d,#26828e,#297a8e,#2b758e,#2c718e,#306a8e,#365c8d,#3e4a89,#443a83,#472e7c,#482677,#482374,#482374,#482374,#482374,#482071,#481c6e,#481a6c,#48186a,#481c6e,#482475,#463480,#3e4a89,#33628d,#2a768e,#24878e,#1f9a8a,#37b878,#84d44b,#3fbc73,#228b8d,#31668e,#3c508b,#404588,#404588,#3e4c8a,#39558c,#375b8d,#38598c,#3b528b,#3b518b,#39568c,#31668e,#297a8e,#23888e,#25838e,#2b748e,#2f6b8e,#2f6b8e,#2b748e,#25838e,#23888e,#297a8e,#31668e,#39568c,#3b518b,#3b528b,#38598c,#375b8d,#39558c,#3e4c8a,#404588,#404588,#3c508b,#31668e,#228b8d,#3fbc73,#84d44b,#37b878,#1f9a8a,#24878e,#2a768e,#33628d,#3e4a89,#463480,#482475,#481c6e,#48186a,#481a6c,#481c6e,#482071,#482374,#482374,#482374,#482374,#482677,#472e7c,#443a83,#3e4a89,#365c8d,#306a8e,#2c718e,#2b758e,#297a8e,#26828e,#218e8d,#1e9d89,#28ae80,#42be71,#5ac864,#5ec962,#52c569,#44bf70,#3dbc74,#40bd72,#52c569,#6ece58,#95d840,#b0dd2f,#a2da37,#8bd646,#81d34d,#86d549,#9dd93b,#c5e021)"></i>
<i style="top:105.64px;height:2.69px;border-color:#c8e020;border-right-color:#c8e020;background-image:linear-gradient(90deg,#c8e020,#a2da37,#8bd646,#86d549,#93d741,#aadc32,#b5de2b,#9bd93c,#70cf57,#54c568,#44bf70,#42be71,#4cc26c,#5ac864,#69cd5b,#63cb5f,#48c16e,#2cb17e,#1fa188,#20928c,#24878e,#26818e,#287c8e,#2a778e,#2d708e,#34618d,#3c4f8a,#433e85,#46307e,#482979,#482576,#482475,#482576,#482475,#482071,#481b6d,#48186a,#481769,#481a6c,#482173,#46307e,#414487,#38598c,#2f6b8e,#2a788e,#23898e,#21a585,#5ac864,#4cc26c,#1f948c,#2e6e8e,#39568c,#3e4a89,#3e4989,#3c508b,#38588c,#38598c,#3a538b,#3e4c8a,#3e4989,#3c4f8a,#355e8d,#2b748e,#24878e,#238a8d,#277e8e,#2b748e,#2b748e,#277e8e,#238a8d,#24878e,#2b748e,#355e8d,#3c4f8a,#3e4989,#3e4c8a,#3a538b,#38598c,#38588c,#3c508b,#3e4989,#3e4a89,#39568c,#2e6e8e,#1f948c,#4cc26c,#5ac864,#21a585,#23898e,#2a788e,#2f6b8e,#38598c,#414487,#46307e,#482173,#481a6c,#481769,#48186a,#481b6d,#482071,#482475,#482576,#482475,#482576,#482979,#46307e,#433e85,#3c4f8a,#34618d,#2d708e,#2a778e,#287c8e,#26818e,#24878e,#20928c,#1fa188,#2cb17e,#48c16e,#63cb5f,#69cd5b,#5ac864,#4cc26c,#42be71,#44bf70,#54c568,#70cf57,#9bd93c,#b5de2b,#aadc32,#93d741,#86d549,#8bd646,#a2da37,#c8e020)"></i>
<i style="top:107.63px;height:2.69px;border-color:#cae11f;border-right-color:#cae11f;background-image:linear-gradient(90deg,#cae11f,#a5db36,#8ed645,#89d548,#98d83e,#b0dd2f,#bade28,#9dd93b,#73d056,#56c667,#48c16e,#48c16e,#52c569,#65cb5e,#73d056,#69cd5b,#4ec36b,#2fb47c,#20a486,#1f968b,#228d8d,#24868e,#26828e,#277f8e,#2b758e,#31668e,#3b528b,#424186,#46337f,#472c7a,#482878,#482677,#482677,#482475,#482071,#481b6d,#481769,#481668,#48186a,#482071,#472d7b,#433e85,#3b518b,#34608d,#2f6c8e,#297b8e,#20938c,#37b878,#54c568,#1f9f88,#2a778e,#355e8d,#3b528b,#3c508b,#3a548c,#38598c,#38588c,#3c4f8a,#404688,#414287,#3f4889,#38588c,#2e6f8e,#24868e,#21918c,#23898e,#27808e,#27808e,#23898e,#21918c,#24868e,#2e6f8e,#38588c,#3f4889,#414287,#404688,#3c4f8a,#38588c,#38598c,#3a548c,#3c508b,#3b528b,#355e8d,#2a778e,#1f9f88,#54c568,#37b878,#20938c,#297b8e,#2f6c8e,#34608d,#3b518b,#433e85,#472d7b,#482071,#48186a,#481668,#481769,#481b6d,#482071,#482475,#482677,#482677,#482878,#472c7a,#46337f,#424186,#3b528b,#31668e,#2b758e,#277f8e,#26828e,#24868e,#228d8d,#1f968b,#20a486,#2fb47c,#4ec36b,#69cd5b,#73d056,#65cb5e,#52c569,#48c16e,#48c16e,#56c667,#73d056,#9dd93b,#bade28,#b0dd2f,#98d83e,#89d548,#8ed645,#a5db36,#cae11f)"></i>
<i style="top:109.62px;height:2.69px;border-color:#cde11d;border-right-color:#cde11d;background-image:linear-gradient(90deg,#cde11d,#a8db34,#93d741,#8ed645,#9dd93b,#b8de29,#c0df25,#a0da39,#75d054,#5ac864,#4cc26c,#4ec36b,#5ac864,#6ece58,#7cd250,#70cf57,#52c569,#32b67a,#22a785,#1e9b8a,#20928c,#228d8d,#238a8d,#25858e,#297b8e,#2f6b8e,#39568c,#404588,#453781,#472e7c,#472a7a,#482979,#482979,#482576,#482071,#481b6d,#481769,#481668,#481769,#481d6f,#482979,#443983,#3e4989,#39558c,#355f8d,#2e6d8e,#25848e,#23a983,#50c46a,#23a983,#26818e,#31678e,#375a8c,#39568c,#375a8c,#365c8d,#39568c,#3e4c8a,#424186,#433e85,#414287,#3b518b,#306a8e,#25858e,#1f978b,#1f958b,#228d8d,#228d8d,#1f958b,#1f978b,#25858e,#306a8e,#3b518b,#414287,#433e85,#424186,#3e4c8a,#39568c,#365c8d,#375a8c,#39568c,#375a8c,#31678e,#26818e,#23a983,#50c46a,#23a983,#25848e,#2e6d8e,#355f8d,#39558c,#3e4989,#443983,#482979,#481d6f,#481769,#481668,#481769,#481b6d,#482071,#482576,#482979,#482979,#472a7a,#472e7c,#453781,#404588,#39568c,#2f6b8e,#297b8e,#25858e,#238a8d,#228d8d,#20928c,#1e9b8a,#22a785,#32b67a,#52c569,#70cf57,#7cd250,#6ece58,#5ac864,#4ec36b,#4cc26c,#5ac864,#75d054,#a0da39,#c0df25,#b8de29,#9dd93b,#8ed645,#93d741,#a8db34,#cde11d)"></i>
<i style="top:111.61px;height:2.69px;border-color:#d0e11c;border-right-color:#d0e11c;background-image:linear-gradient(90deg,#d0e11c,#aadc32,#95d840,#93d741,#a0da39,#bddf26,#c5e021,#a2da37,#7ad151,#5cc863,#50c46a,#52c569,#60ca60,#77d153,#84d44b,#75d054,#54c568,#37b878,#25ab82,#1fa088,#1f988b,#20938c,#21918c,#228c8d,#26818e,#2d708e,#365c8d,#3f4889,#443a83,#46327e,#472e7c,#472d7b,#472a7a,#482677,#482071,#481a6c,#481668,#481467,#481769,#481c6e,#482677,#463480,#424186,#3e4c8a,#3a548c,#34618d,#2a768e,#1f998a,#42be71,#2fb47c,#228d8d,#2d718e,#33638d,#355f8d,#34608d,#355f8d,#39558c,#3f4889,#433d84,#443983,#433e85,#3e4c8a,#32658e,#25848e,#1f9e89,#1fa287,#1e9d89,#1e9d89,#1fa287,#1f9e89,#25848e,#32658e,#3e4c8a,#433e85,#443983,#433d84,#3f4889,#39558c,#355f8d,#34608d,#355f8d,#33638d,#2d718e,#228d8d,#2fb47c,#42be71,#1f998a,#2a768e,#34618d,#3a548c,#3e4c8a,#424186,#463480,#482677,#481c6e,#481769,#481467,#481668,#481a6c,#482071,#482677,#472a7a,#472d7b,#472e7c,#46327e,#443a83,#3f4889,#365c8d,#2d708e,#26818e,#228c8d,#21918c,#20938c,#1f988b,#1fa088,#25ab82,#37b878,#54c568,#75d054,#84d44b,#77d153,#60ca60,#52c569,#50c46a,#5cc863,#7ad151,#a2da37,#c5e021,#bddf26,#a0da39,#93d741,#95d840,#aadc32,#d0e11c)"></i>
<i style="top:113.61px;height:2.69px;border-color:#d0e11c;border-right-color:#d0e11c;background-image:linear-gradient(90deg,#d0e11c,#addc30,#98d83e,#95d840,#a5db36,#c2df23,#cae11f,#a5db36,#7cd250,#60ca60,#54c568,#58c765,#67cc5c,#7fd34e,#8bd646,#7ad151,#58c765,#3aba76,#27ad81,#20a386,#1f9e89,#1f9a8a,#1f988b,#20938c,#24878e,#2b748e,#34608d,#3d4d8a,#423f85,#453581,#46327e,#472f7d,#472d7b,#482878,#482173,#481a6c,#481668,#481467,#481668,#481b6d,#482576,#46307e,#443b84,#414487,#3e4a89,#39558c,#2f6b8e,#228b8d,#31b57b,#40bd72,#1f9a8a,#287c8e,#2e6d8e,#31688e,#31678e,#33628d,#39558c,#404688,#443983,#463480,#443983,#3f4788,#34618d,#26828e,#20a486,#2cb17e,#27ad81,#27ad81,#2cb17e,#20a486,#26828e,#34618d,#3f4788,#443983,#463480,#443983,#404688,#39558c,#33628d,#31678e,#31688e,#2e6d8e,#287c8e,#1f9a8a,#40bd72,#31b57b,#228b8d,#2f6b8e,#39558c,#3e4a89,#414487,#443b84,#46307e,#482576,#481b6d,#481668,#481467,#481668,#481a6c,#482173,#482878,#472d7b,#472f7d,#46327e,#453581,#423f85,#3d4d8a,#34608d,#2b748e,#24878e,#20938c,#1f988b,#1f9a8a,#1f9e89,#20a386,#27ad81,#3aba76,#58c765,#7ad151,#8bd646,#7fd34e,#67cc5c,#58c765,#54c568,#60ca60,#7cd250,#a5db36,#cae11f,#c2df23,#a5db36,#95d840,#98d83e,#addc30,#d0e11c)"></i>
<i style="top:115.60px;height:2.69px;border-color:#d2e21b;border-right-color:#d2e21b;background-image:linear-gradient(90deg,#d2e21b,#b0dd2f,#9bd93c,#98d83e,#a8db34,#c5e021,#d0e11c,#a8db34,#7fd34e,#63cb5f,#58c765,#5cc863,#70cf57,#89d548,#93d741,#7cd250,#5ac864,#3dbc74,#2ab07f,#22a884,#20a386,#1fa188,#1fa088,#1f9a8a,#218e8d,#297a8e,#32648e,#3b518b,#414287,#443a83,#453581,#46337f,#46307e,#472a7a,#482173,#481b6d,#481668,#481467,#481668,#481b6d,#482374,#472d7b,#453581,#443b84,#424186,#3e4c8a,#355f8d,#277e8e,#24aa83,#50c46a,#23a983,#23898e,#2a788e,#2c718e,#2e6f8e,#31668e,#39558c,#414487,#453781,#46327e,#453581,#414487,#365d8d,#26818e,#22a884,#44bf70,#46c06f,#46c06f,#44bf70,#22a884,#26818e,#365d8d,#414487,#453581,#46327e,#453781,#414487,#39558c,#31668e,#2e6f8e,#2c718e,#2a788e,#23898e,#23a983,#50c46a,#24aa83,#277e8e,#355f8d,#3e4c8a,#424186,#443b84,#453581,#472d7b,#482374,#481b6d,#481668,#481467,#481668,#481b6d,#482173,#472a7a,#46307e,#46337f,#453581,#443a83,#414287,#3b518b,#32648e,#297a8e,#218e8d,#1f9a8a,#1fa088,#1fa188,#20a386,#22a884,#2ab07f,#3dbc74,#5ac864,#7cd250,#93d741,#89d548,#70cf57,#5cc863,#58c765,#63cb5f,#7fd34e,#a8db34,#d0e11c,#c5e021,#a8db34,#98d83e,#9bd93c,#b0dd2f,#d2e21b)"></i>
<i style="top:117.59px;height:2.69px;border-color:#d5e21a;border-right-color:#d5e21a;background-image:linear-gradient(90deg,#d5e21a,#b2dd2d,#9dd93b,#9bd93c,#addc30,#cae11f,#d2e21b,#aadc32,#81d34d,#65cb5e,#5cc863,#63cb5f,#77d153,#90d743,#98d83e,#7fd34e,#5ac864,#3fbc73,#2eb37c,#26ad81,#23a983,#22a785,#22a785,#1fa187,#20938c,#277f8e,#30698e,#39558c,#3f4788,#423f85,#443a83,#453781,#46337f,#472c7a,#482374,#481b6d,#481668,#481467,#481668,#481a6c,#482173,#472a7a,#46307e,#453581,#443983,#414287,#3a548c,#2c728e,#1f9f88,#56c667,#38b977,#1f988b,#25858e,#287d8e,#2a778e,#2f6b8e,#39568c,#414287,#463480,#472f7d,#46337f,#424086,#375a8c,#277f8e,#25ab82,#65cb5e,#7ad151,#7ad151,#65cb5e,#25ab82,#277f8e,#375a8c,#424086,#46337f,#472f7d,#463480,#414287,#39568c,#2f6b8e,#2a778e,#287d8e,#25858e,#1f988b,#38b977,#56c667,#1f9f88,#2c728e,#3a548c,#414287,#443983,#453581,#46307e,#472a7a,#482173,#481a6c,#481668,#481467,#481668,#481b6d,#482374,#472c7a,#46337f,#453781,#443a83,#423f85,#3f4788,#39558c,#30698e,#277f8e,#20938c,#1fa187,#22a785,#22a785,#23a983,#26ad81,#2eb37c,#3fbc73,#5ac864,#7fd34e,#98d83e,#90d743,#77d153,#63cb5f,#5cc863,#65cb5e,#81d34d,#aadc32,#d2e21b,#cae11f,#addc30,#9bd93c,#9dd93b,#b2dd2d,#d5e21a)"></i>
<i style="top:119.59px;height:2.69px;border-color:#d8e219;border-right-color:#d8e219;background-image:linear-gradient(90deg,#d8e219,#b5de2b,#a0da39,#9dd93b,#b0dd2f,#d0e11c,#d8e219,#addc30,#84d44b,#69cd5b,#60ca60,#67cc5c,#7fd34e,#98d83e,#9dd93b,#7fd34e,#5cc863,#42be71,#32b67a,#2ab07f,#28ae80,#28ae80,#28ae80,#23a983,#1f9a8a,#25848e,#2e6e8e,#375b8d,#3e4c8a,#414487,#423f85,#443b84,#453781,#472e7c,#482475,#481b6d,#481668,#481467,#481668,#481a6c,#482071,#482878,#472d7b,#472f7d,#46327e,#443a83,#3e4c8a,#31688e,#20928c,#50c46a,#5cc863,#24aa83,#1f948c,#238a8d,#26828e,#2d708e,#38588c,#424186,#46337f,#472d7b,#46307e,#433e85,#38588c,#287c8e,#25ab82,#7fd34e,#bade28,#bade28,#7fd34e,#25ab82,#287c8e,#38588c,#433e85,#46307e,#472d7b,#46337f,#424186,#38588c,#2d708e,#26828e,#238a8d,#1f948c,#24aa83,#5cc863,#50c46a,#20928c,#31688e,#3e4c8a,#443a83,#46327e,#472f7d,#472d7b,#482878,#482071,#481a6c,#481668,#481467,#481668,#481b6d,#482475,#472e7c,#453781,#443b84,#423f85,#414487,#3e4c8a,#375b8d,#2e6e8e,#25848e,#1f9a8a,#23a983,#28ae80,#28ae80,#28ae80,#2ab07f,#32b67a,#42be71,#5cc863,#7fd34e,#9dd93b,#98d83e,#7fd34e,#67cc5c,#60ca60,#69cd5b,#84d44b,#addc30,#d8e219,#d0e11c,#b0dd2f,#9dd93b,#a0da39,#b5de2b,#d8e219)"></i>
<i style="top:121.58px;height:2.69px;border-color:#d8e219;border-right-color:#d8e219;background-image:linear-gradient(90deg,#d8e219,#b5de2b,#a2da37,#a0da39,#b2dd2d,#d2e21b,#dae319,#b0dd2f,#86d549,#6ccd5a,#65cb5e,#6ece58,#86d549,#a0da39,#a0da39,#81d34d,#5ec962,#44bf70,#37b878,#31b57b,#2fb47c,#31b57b,#32b67a,#2ab07f,#1fa188,#23898e,#2c728e,#355f8d,#3b518b,#3f4889,#414487,#424086,#443a83,#46307e,#482576,#481c6e,#481769,#481467,#481668,#481a6c,#481f70,#482576,#482878,#472a7a,#472d7b,#46337f,#414287,#355f8d,#24878e,#3fbc73,#89d548,#40bd72,#21a685,#1f9a8a,#228d8d,#2b758e,#375a8c,#424186,#46327e,#472c7a,#472e7c,#443b84,#3a548c,#29798e,#23a983,#7fd34e,#d5e21a,#d5e21a,#7fd34e,#23a983,#29798e,#3a548c,#443b84,#472e7c,#472c7a,#46327e,#424186,#375a8c,#2b758e,#228d8d,#1f9a8a,#21a685,#40bd72,#89d548,#3fbc73,#24878e,#355f8d,#414287,#46337f,#472d7b,#472a7a,#482878,#482576,#481f70,#481a6c,#481668,#481467,#481769,#481c6e,#482576,#46307e,#443a83,#424086,#414487,#3f4889,#3b518b,#355f8d,#2c728e,#23898e,#1fa188,#2ab07f,#32b67a,#31b57b,#2fb47c,#31b57b,#37b878,#44bf70,#5ec962,#81d34d,#a0da39,#a0da39,#86d549,#6ece58,#65cb5e,#6ccd5a,#86d549,#b0dd2f,#dae319,#d2e21b,#b2dd2d,#a0da39,#a2da37,#b5de2b,#d8e219)"></i>
<i style="top:123.57px;height:2.69px;border-color:#dae319;border-right-color:#dae319;background-image:linear-gradient(90deg,#dae319,#b8de29,#a2da37,#a2da37,#b2dd2d,#d5e21a,#dfe318,#b2dd2d,#89d548,#70cf57,#69cd5b,#73d056,#8ed645,#a8db34,#a2da37,#81d34d,#5ec962,#48c16e,#3bbb75,#37b878,#38b977,#3bbb75,#3fbc73,#34b679,#21a685,#218f8d,#2a778e,#32648e,#39568c,#3d4e8a,#3e4989,#404588,#433e85,#46337f,#482677,#481d6f,#481769,#481467,#481668,#481a6c,#481f70,#482374,#482576,#482576,#482677,#472d7b,#443b84,#39558c,#287d8e,#2db27d,#aadc32,#73d056,#3aba76,#25ac82,#1f998a,#287c8e,#365c8d,#424186,#46307e,#472a7a,#472e7c,#443a83,#3a538b,#2a778e,#20a486,#63cb5f,#95d840,#95d840,#63cb5f,#20a486,#2a778e,#3a538b,#443a83,#472e7c,#472a7a,#46307e,#424186,#365c8d,#287c8e,#1f998a,#25ac82,#3aba76,#73d056,#aadc32,#2db27d,#287d8e,#39558c,#443b84,#472d7b,#482677,#482576,#482576,#482374,#481f70,#481a6c,#481668,#481467,#481769,#481d6f,#482677,#46337f,#433e85,#404588,#3e4989,#3d4e8a,#39568c,#32648e,#2a778e,#218f8d,#21a685,#34b679,#3fbc73,#3bbb75,#38b977,#37b878,#3bbb75,#48c16e,#5ec962,#81d34d,#a2da37,#a8db34,#8ed645,#73d056,#69cd5b,#70cf57,#89d548,#b2dd2d,#dfe318,#d5e21a,#b2dd2d,#a2da37,#a2da37,#b8de29,#dae319)"></i>
<i style="top:125.56px;height:2.69px;border-color:#dae319;border-right-color:#dae319;background-image:linear-gradient(90deg,#dae319,#b8de29,#a5db36,#a2da37,#b5de2b,#d8e219,#e2e418,#b5de2b,#8bd646,#73d056,#6ccd5a,#77d153,#93d741,#addc30,#a5db36,#81d34d,#5ec962,#4ac16d,#3fbc73,#3dbc74,#40bd72,#48c16e,#4cc26c,#3fbc73,#25ac82,#20938c,#287d8e,#306a8e,#365c8d,#3a538b,#3c4f8a,#3e4a89,#414287,#453781,#482979,#481f70,#48186a,#481668,#481668,#481a6c,#481d6f,#482173,#482374,#482173,#482374,#482878,#453581,#3d4e8a,#2c728e,#21a585,#98d83e,#bade28,#69cd5b,#42be71,#21a685,#26828e,#355f8d,#414287,#46307e,#472a7a,#472d7b,#443983,#3b518b,#2b748e,#1f9e89,#42be71,#58c765,#58c765,#42be71,#1f9e89,#2b748e,#3b518b,#443983,#472d7b,#472a7a,#46307e,#414287,#355f8d,#26828e,#21a685,#42be71,#69cd5b,#bade28,#98d83e,#21a585,#2c728e,#3d4e8a,#453581,#482878,#482374,#482173,#482374,#482173,#481d6f,#481a6c,#481668,#481668,#48186a,#481f70,#482979,#453781,#414287,#3e4a89,#3c4f8a,#3a538b,#365c8d,#306a8e,#287d8e,#20938c,#25ac82,#3fbc73,#4cc26c,#48c16e,#40bd72,#3dbc74,#3fbc73,#4ac16d,#5ec962,#81d34d,#a5db36,#addc30,#93d741,#77d153,#6ccd5a,#73d056,#8bd646,#b5de2b,#e2e418,#d8e219,#b5de2b,#a2da37,#a5db36,#b8de29,#dae319)"></i>
<i style="top:127.56px;height:2.69px;border-color:#dde318;border-right-color:#dde318;background-image:linear-gradient(90deg,#dde318,#bade28,#a5db36,#a5db36,#b8de29,#dae319,#e5e419,#b5de2b,#8ed645,#75d054,#70cf57,#7fd34e,#9bd93c,#b5de2b,#a8db34,#81d34d,#5ec962,#4cc26c,#44bf70,#44bf70,#4cc26c,#56c667,#5cc863,#4cc26c,#2cb17e,#1f998a,#26828e,#2e6f8e,#33628d,#375a8c,#39558c,#3c508b,#3f4788,#443983,#472c7a,#482071,#481a6c,#481668,#481769,#481a6c,#481d6f,#482071,#482071,#481f70,#481f70,#482475,#472f7d,#404688,#30698e,#1f988b,#69cd5b,#ece51b,#aadc32,#77d153,#31b57b,#23898e,#33628d,#414487,#46327e,#472a7a,#472d7b,#443983,#3b518b,#2c718e,#1f958b,#28ae80,#2eb37c,#2eb37c,#28ae80,#1f958b,#2c718e,#3b518b,#443983,#472d7b,#472a7a,#46327e,#414487,#33628d,#23898e,#31b57b,#77d153,#aadc32,#ece51b,#69cd5b,#1f988b,#30698e,#404688,#472f7d,#482475,#481f70,#481f70,#482071,#482071,#481d6f,#481a6c,#481769,#481668,#481a6c,#482071,#472c7a,#443983,#3f4788,#3c508b,#39558c,#375a8c,#33628d,#2e6f8e,#26828e,#1f998a,#2cb17e,#4cc26c,#5cc863,#56c667,#4cc26c,#44bf70,#44bf70,#4cc26c,#5ec962,#81d34d,#a8db34,#b5de2b,#9bd93c,#7fd34e,#70cf57,#75d054,#8ed645,#b5de2b,#e5e419,#dae319,#b8de29,#a5db36,#a5db36,#bade28,#dde318)"></i>
<i style="top:129.55px;height:2.69px;border-color:#dde318;border-right-color:#dde318;background-image:linear-gradient(90deg,#dde318,#bade28,#a8db34,#a5db36,#b8de29,#dae319,#e7e419,#b8de29,#90d743,#7ad151,#75d054,#84d44b,#a0da39,#bade28,#a8db34,#7fd34e,#60ca60,#4ec36b,#48c16e,#4cc26c,#58c765,#65cb5e,#6ccd5a,#5ac864,#32b67a,#1f9e89,#24868e,#2b748e,#31688e,#34608d,#365c8d,#39558c,#3e4c8a,#433d84,#472d7b,#482173,#481b6d,#481769,#48186a,#481b6d,#481d6f,#481f70,#481d6f,#481c6e,#481b6d,#482071,#472a7a,#423f85,#34618d,#228c8d,#3dbc74,#9dd93b,#d2e21b,#bddf26,#4cc26c,#21918c,#32658e,#404688,#46337f,#472c7a,#472e7c,#443983,#3c508b,#2e6f8e,#218e8d,#1f9e89,#1fa088,#1fa088,#1f9e89,#218e8d,#2e6f8e,#3c508b,#443983,#472e7c,#472c7a,#46337f,#404688,#32658e,#21918c,#4cc26c,#bddf26,#d2e21b,#9dd93b,#3dbc74,#228c8d,#34618d,#423f85,#472a7a,#482071,#481b6d,#481c6e,#481d6f,#481f70,#481d6f,#481b6d,#48186a,#481769,#481b6d,#482173,#472d7b,#433d84,#3e4c8a,#39558c,#365c8d,#34608d,#31688e,#2b748e,#24868e,#1f9e89,#32b67a,#5ac864,#6ccd5a,#65cb5e,#58c765,#4cc26c,#48c16e,#4ec36b,#60ca60,#7fd34e,#a8db34,#bade28,#a0da39,#84d44b,#75d054,#7ad151,#90d743,#b8de29,#e7e419,#dae319,#b8de29,#a5db36,#a8db34,#bade28,#dde318)"></i>
<i style="top:131.54px;height:2.69px;border-color:#dfe318;border-right-color:#dfe318;background-image:linear-gradient(90deg,#dfe318,#bddf26,#a8db34,#a5db36,#b8de29,#dde318,#eae51a,#bade28,#93d741,#7cd250,#77d153,#89d548,#a8db34,#c0df25,#a8db34,#7fd34e,#60ca60,#50c46a,#4ec36b,#54c568,#63cb5f,#75d054,#7cd250,#65cb5e,#3bbb75,#1fa287,#228c8d,#297a8e,#2e6e8e,#31678e,#33628d,#365c8d,#3b518b,#424086,#46307e,#482475,#481c6e,#48186a,#48186a,#481b6d,#481d6f,#481d6f,#481c6e,#481a6c,#48186a,#481c6e,#482677,#443983,#38598c,#27808e,#24aa83,#5ac864,#95d840,#ece51b,#67cc5c,#1f978b,#306a8e,#3f4889,#453581,#472d7b,#472f7d,#443a83,#3c508b,#2e6d8e,#25858e,#218f8d,#218e8d,#218e8d,#218f8d,#25858e,#2e6d8e,#3c508b,#443a83,#472f7d,#472d7b,#453581,#3f4889,#306a8e,#1f978b,#67cc5c,#ece51b,#95d840,#5ac864,#24aa83,#27808e,#38598c,#443983,#482677,#481c6e,#48186a,#481a6c,#481c6e,#481d6f,#481d6f,#481b6d,#48186a,#48186a,#481c6e,#482475,#46307e,#424086,#3b518b,#365c8d,#33628d,#31678e,#2e6e8e,#297a8e,#228c8d,#1fa287,#3bbb75,#65cb5e,#7cd250,#75d054,#63cb5f,#54c568,#4ec36b,#50c46a,#60ca60,#7fd34e,#a8db34,#c0df25,#a8db34,#89d548,#77d153,#7cd250,#93d741,#bade28,#eae51a,#dde318,#b8de29,#a5db36,#a8db34,#bddf26,#dfe318)"></i>
<i style="top:133.54px;height:2.69px;border-color:#dfe318;border-right-color:#dfe318;background-image:linear-gradient(90deg,#dfe318,#bddf26,#a8db34,#a8db34,#b8de29,#dde318,#ece51b,#bddf26,#95d840,#7fd34e,#7cd250,#8ed645,#addc30,#c5e021,#aadc32,#7fd34e,#60ca60,#54c568,#52c569,#5cc863,#6ece58,#84d44b,#8bd646,#70cf57,#42be71,#22a785,#20928c,#27808e,#2b748e,#2e6d8e,#30698e,#33628d,#39568c,#404588,#46337f,#482576,#481d6f,#481b6d,#481b6d,#481c6e,#481d6f,#481d6f,#481a6c,#481769,#481769,#481a6c,#482374,#463480,#3c508b,#2b748e,#1f978b,#2db27d,#56c667,#9dd93b,#77d153,#1f9f88,#2e6f8e,#3d4d8a,#453882,#472f7d,#46307e,#443b84,#3b518b,#306a8e,#287d8e,#26818e,#277e8e,#277e8e,#26818e,#287d8e,#306a8e,#3b518b,#443b84,#46307e,#472f7d,#453882,#3d4d8a,#2e6f8e,#1f9f88,#77d153,#9dd93b,#56c667,#2db27d,#1f978b,#2b748e,#3c508b,#463480,#482374,#481a6c,#481769,#481769,#481a6c,#481d6f,#481d6f,#481c6e,#481b6d,#481b6d,#481d6f,#482576,#46337f,#404588,#39568c,#33628d,#30698e,#2e6d8e,#2b748e,#27808e,#20928c,#22a785,#42be71,#70cf57,#8bd646,#84d44b,#6ece58,#5cc863,#52c569,#54c568,#60ca60,#7fd34e,#aadc32,#c5e021,#addc30,#8ed645,#7cd250,#7fd34e,#95d840,#bddf26,#ece51b,#dde318,#b8de29,#a8db34,#a8db34,#bddf26,#dfe318)"></i>
<i style="top:135.53px;height:2.69px;border-color:#dfe318;border-right-color:#dfe318;background-image:linear-gradient(90deg,#dfe318,#bddf26,#aadc32,#a8db34,#b8de29,#dde318,#ece51b,#bddf26,#98d83e,#81d34d,#7fd34e,#90d743,#b2dd2d,#c8e020,#aadc32,#7fd34e,#63cb5f,#56c667,#56c667,#63cb5f,#7ad151,#93d741,#9bd93c,#7cd250,#4ac16d,#25ac82,#1f968b,#25858e,#297a8e,#2b748e,#2d708e,#30698e,#365c8d,#3f4889,#453581,#482878,#482071,#481c6e,#481c6e,#481d6f,#481f70,#481c6e,#481a6c,#481668,#481467,#481769,#481f70,#472f7d,#3e4989,#306a8e,#24878e,#1e9d89,#2ab07f,#5ac864,#6ece58,#20a486,#2c738e,#3b518b,#443b84,#46327e,#46337f,#433e85,#3b528b,#31688e,#2b748e,#2b748e,#2d718e,#2d718e,#2b748e,#2b748e,#31688e,#3b528b,#433e85,#46337f,#46327e,#443b84,#3b518b,#2c738e,#20a486,#6ece58,#5ac864,#2ab07f,#1e9d89,#24878e,#306a8e,#3e4989,#472f7d,#481f70,#481769,#481467,#481668,#481a6c,#481c6e,#481f70,#481d6f,#481c6e,#481c6e,#482071,#482878,#453581,#3f4889,#365c8d,#30698e,#2d708e,#2b748e,#297a8e,#25858e,#1f968b,#25ac82,#4ac16d,#7cd250,#9bd93c,#93d741,#7ad151,#63cb5f,#56c667,#56c667,#63cb5f,#7fd34e,#aadc32,#c8e020,#b2dd2d,#90d743,#7fd34e,#81d34d,#98d83e,#bddf26,#ece51b,#dde318,#b8de29,#a8db34,#aadc32,#bddf26,#dfe318)"></i>
<i style="top:137.52px;height:2.69px;border-color:#dfe318;border-right-color:#dfe318;background-image:linear-gradient(90deg,#dfe318,#bddf26,#aadc32,#a8db34,#b8de29,#dde318,#efe51c,#c0df25,#98d83e,#84d44b,#84d44b,#95d840,#b8de29,#cde11d,#aadc32,#7fd34e,#63cb5f,#58c765,#5cc863,#6ccd5a,#86d549,#a2da37,#a8db34,#84d44b,#52c569,#2ab07f,#1e9c89,#228c8d,#26828e,#297b8e,#2a778e,#2d708e,#34618d,#3d4d8a,#443983,#472a7a,#482173,#481f70,#481d6f,#481f70,#481f70,#481c6e,#48186a,#481467,#471365,#481668,#481c6e,#472c7a,#414287,#34608d,#2a788e,#238a8d,#1e9b8a,#2eb37c,#52c569,#22a884,#29798e,#39558c,#423f85,#453581,#453781,#424186,#3a538b,#32658e,#2e6d8e,#30698e,#32648e,#32648e,#30698e,#2e6d8e,#32658e,#3a538b,#424186,#453781,#453581,#423f85,#39558c,#29798e,#22a884,#52c569,#2eb37c,#1e9b8a,#238a8d,#2a788e,#34608d,#414287,#472c7a,#481c6e,#481668,#471365,#481467,#48186a,#481c6e,#481f70,#481f70,#481d6f,#481f70,#482173,#472a7a,#443983,#3d4d8a,#34618d,#2d708e,#2a778e,#297b8e,#26828e,#228c8d,#1e9c89,#2ab07f,#52c569,#84d44b,#a8db34,#a2da37,#86d549,#6ccd5a,#5cc863,#58c765,#63cb5f,#7fd34e,#aadc32,#cde11d,#b8de29,#95d840,#84d44b,#84d44b,#98d83e,#c0df25,#efe51c,#dde318,#b8de29,#a8db34,#aadc32,#bddf26,#dfe318)"></i>
<i style="top:139.51px;height:2.69px;border-color:#dfe318;border-right-color:#dfe318;background-image:linear-gradient(90deg,#dfe318,#c0df25,#aadc32,#a8db34,#b8de29,#dde318,#f1e51d,#c2df23,#9bd93c,#86d549,#86d549,#9bd93c,#bddf26,#d0e11c,#aadc32,#7fd34e,#65cb5e,#5ac864,#60ca60,#73d056,#93d741,#b0dd2f,#b0dd2f,#89d548,#58c765,#2fb47c,#1fa187,#20928c,#23888e,#26828e,#277f8e,#2a768e,#31678e,#3b518b,#433d84,#472e7c,#482576,#482173,#482071,#482173,#482071,#481c6e,#481769,#471365,#471164,#481467,#481b6d,#482878,#433d84,#39568c,#2f6b8e,#29798e,#23888e,#1f9f88,#35b779,#24aa83,#27808e,#365c8d,#404588,#443a83,#443a83,#404588,#39558c,#33638d,#31668e,#355f8d,#38598c,#38598c,#355f8d,#31668e,#33638d,#39558c,#404588,#443a83,#443a83,#404588,#365c8d,#27808e,#24aa83,#35b779,#1f9f88,#23888e,#29798e,#2f6b8e,#39568c,#433d84,#482878,#481b6d,#481467,#471164,#471365,#481769,#481c6e,#482071,#482173,#482071,#482173,#482576,#472e7c,#433d84,#3b518b,#31678e,#2a768e,#277f8e,#26828e,#23888e,#20928c,#1fa187,#2fb47c,#58c765,#89d548,#b0dd2f,#b0dd2f,#93d741,#73d056,#60ca60,#5ac864,#65cb5e,#7fd34e,#aadc32,#d0e11c,#bddf26,#9bd93c,#86d549,#86d549,#9bd93c,#c2df23,#f1e51d,#dde318,#b8de29,#a8db34,#aadc32,#c0df25,#dfe318)"></i>
<i style="top:141.51px;height:2.69px;border-color:#e2e418;border-right-color:#e2e418;background-image:linear-gradient(90deg,#e2e418,#c0df25,#aadc32,#a8db34,#b8de29,#dde318,#f1e51d,#c2df23,#9dd93b,#89d548,#89d548,#9dd93b,#c2df23,#d2e21b,#aadc32,#7fd34e,#65cb5e,#5cc863,#65cb5e,#7ad151,#9dd93b,#bade28,#b5de2b,#8bd646,#5cc863,#35b779,#21a685,#1f988b,#21908d,#228b8d,#24868e,#277e8e,#2e6d8e,#39568c,#424186,#46307e,#482878,#482475,#482374,#482374,#482173,#481c6e,#481769,#471365,#471063,#471365,#48186a,#482576,#453882,#3d4e8a,#355f8d,#2f6b8e,#2a778e,#228c8d,#22a785,#24aa83,#24868e,#33638d,#3e4a89,#423f85,#424086,#3e4989,#38588c,#33628d,#34608d,#39558c,#3c4f8a,#3c4f8a,#39558c,#34608d,#33628d,#38588c,#3e4989,#424086,#423f85,#3e4a89,#33638d,#24868e,#24aa83,#22a785,#228c8d,#2a778e,#2f6b8e,#355f8d,#3d4e8a,#453882,#482576,#48186a,#471365,#471063,#471365,#481769,#481c6e,#482173,#482374,#482374,#482475,#482878,#46307e,#424186,#39568c,#2e6d8e,#277e8e,#24868e,#228b8d,#21908d,#1f988b,#21a685,#35b779,#5cc863,#8bd646,#b5de2b,#bade28,#9dd93b,#7ad151,#65cb5e,#5cc863,#65cb5e,#7fd34e,#aadc32,#d2e21b,#c2df23,#9dd93b,#89d548,#89d548,#9dd93b,#c2df23,#f1e51d,#dde318,#b8de29,#a8db34,#aadc32,#c0df25,#e2e418)"></i>
<i style="top:143.50px;height:2.69px;border-color:#e2e418;border-right-color:#e2e418;background-image:linear-gradient(90deg,#e2e418,#c0df25,#aadc32,#a8db34,#b8de29,#dae319,#f4e61e,#c5e021,#a0da39,#8bd646,#8bd646,#a0da39,#c8e020,#d5e21a,#aadc32,#7fd34e,#67cc5c,#60ca60,#69cd5b,#81d34d,#a8db34,#c5e021,#b8de29,#8ed645,#60ca60,#3bbb75,#25ac82,#1f9f88,#1f978b,#20928c,#218f8d,#25858e,#2c728e,#375b8d,#404588,#463480,#472c7a,#482677,#482576,#482576,#482374,#481c6e,#481769,#471164,#471063,#471164,#481769,#482374,#46337f,#404688,#3a538b,#355e8d,#30698e,#287c8e,#1f978b,#21a685,#228d8d,#306a8e,#3b528b,#404688,#404688,#3d4e8a,#375b8d,#34608d,#375a8c,#3d4e8a,#404688,#404688,#3d4e8a,#375a8c,#34608d,#375b8d,#3d4e8a,#404688,#404688,#3b528b,#306a8e,#228d8d,#21a685,#1f978b,#287c8e,#30698e,#355e8d,#3a538b,#404688,#46337f,#482374,#481769,#471164,#471063,#471164,#481769,#481c6e,#482374,#482576,#482576,#482677,#472c7a,#463480,#404588,#375b8d,#2c728e,#25858e,#218f8d,#20928c,#1f978b,#1f9f88,#25ac82,#3bbb75,#60ca60,#8ed645,#b8de29,#c5e021,#a8db34,#81d34d,#69cd5b,#60ca60,#67cc5c,#7fd34e,#aadc32,#d5e21a,#c8e020,#a0da39,#8bd646,#8bd646,#a0da39,#c5e021,#f4e61e,#dae319,#b8de29,#a8db34,#aadc32,#c0df25,#e2e418)"></i>
<i style="top:145.49px;height:2.69px;border-color:#e2e418;border-right-color:#e2e418;background-image:linear-gradient(90deg,#e2e418,#c0df25,#aadc32,#a8db34,#b8de29,#dae319,#f6e620,#c8e020,#a0da39,#8ed645,#8ed645,#a5db36,#cae11f,#d8e219,#aadc32,#81d34d,#67cc5c,#63cb5f,#6ece58,#89d548,#b2dd2d,#cde11d,#b8de29,#8ed645,#65cb5e,#42be71,#2ab07f,#21a585,#1f9f88,#1e9b8a,#1f978b,#228d8d,#2a788e,#34608d,#3e4989,#443983,#472f7d,#472a7a,#482979,#482878,#482475,#481d6f,#481668,#471164,#470e61,#471063,#481668,#482071,#472f7d,#433e85,#3e4989,#3b518b,#365c8d,#2e6e8e,#23898e,#1fa188,#20938c,#2c728e,#375a8c,#3d4e8a,#3d4d8a,#3a548c,#355e8d,#355f8d,#3a538b,#404688,#433e85,#433e85,#404688,#3a538b,#355f8d,#355e8d,#3a548c,#3d4d8a,#3d4e8a,#375a8c,#2c728e,#20938c,#1fa188,#23898e,#2e6e8e,#365c8d,#3b518b,#3e4989,#433e85,#472f7d,#482071,#481668,#471063,#470e61,#471164,#481668,#481d6f,#482475,#482878,#482979,#472a7a,#472f7d,#443983,#3e4989,#34608d,#2a788e,#228d8d,#1f978b,#1e9b8a,#1f9f88,#21a585,#2ab07f,#42be71,#65cb5e,#8ed645,#b8de29,#cde11d,#b2dd2d,#89d548,#6ece58,#63cb5f,#67cc5c,#81d34d,#aadc32,#d8e219,#cae11f,#a5db36,#8ed645,#8ed645,#a0da39,#c8e020,#f6e620,#dae319,#b8de29,#a8db34,#aadc32,#c0df25,#e2e418)"></i>
<i style="top:147.49px;height:2.69px;border-color:#e2e418;border-right-color:#e2e418;background-image:linear-gradient(90deg,#e2e418,#c0df25,#aadc32,#a8db34,#b8de29,#dae319,#f6e620,#c8e020,#a2da37,#90d743,#90d743,#a8db34,#cde11d,#dae319,#aadc32,#81d34d,#69cd5b,#65cb5e,#73d056,#90d743,#bade28,#d0e11c,#b2dd2d,#8bd646,#67cc5c,#48c16e,#32b67a,#25ac82,#21a685,#20a386,#1fa188,#1f948c,#277f8e,#32658e,#3d4e8a,#433d84,#46337f,#472e7c,#472d7b,#472a7a,#482576,#481d6f,#481769,#471164,#470e61,#471063,#481668,#481f70,#472c7a,#453882,#424086,#404688,#3c4f8a,#34618d,#297b8e,#1f998a,#1f998a,#287d8e,#32648e,#39568c,#39558c,#365c8d,#33628d,#365d8d,#3c4f8a,#423f85,#453781,#453781,#423f85,#3c4f8a,#365d8d,#33628d,#365c8d,#39558c,#39568c,#32648e,#287d8e,#1f998a,#1f998a,#297b8e,#34618d,#3c4f8a,#404688,#424086,#453882,#472c7a,#481f70,#481668,#471063,#470e61,#471164,#481769,#481d6f,#482576,#472a7a,#472d7b,#472e7c,#46337f,#433d84,#3d4e8a,#32658e,#277f8e,#1f948c,#1fa188,#20a386,#21a685,#25ac82,#32b67a,#48c16e,#67cc5c,#8bd646,#b2dd2d,#d0e11c,#bade28,#90d743,#73d056,#65cb5e,#69cd5b,#81d34d,#aadc32,#dae319,#cde11d,#a8db34,#90d743,#90d743,#a2da37,#c8e020,#f6e620,#dae319,#b8de29,#a8db34,#aadc32,#c0df25,#e2e418)"></i>
<i style="top:149.48px;height:2.69px;border-color:#e2e418;border-right-color:#e2e418;background-image:linear-gradient(90deg,#e2e418,#c0df25,#aadc32,#a8db34,#b8de29,#dae319,#f6e620,#cae11f,#a5db36,#90d743,#93d741,#a8db34,#d2e21b,#dde318,#addc30,#81d34d,#6ccd5a,#67cc5c,#77d153,#98d83e,#c2df23,#d0e11c,#addc30,#89d548,#67cc5c,#4ec36b,#3aba76,#2db27d,#27ad81,#25ac82,#23a983,#1e9d89,#25858e,#2f6b8e,#3a538b,#424186,#453882,#46337f,#46307e,#472e7c,#482878,#481f70,#481769,#471164,#470e61,#471063,#481467,#481c6e,#482878,#46327e,#453882,#433d84,#414487,#3a548c,#2d708e,#21918c,#1f9e89,#24878e,#2e6f8e,#34618d,#355f8d,#33638d,#31668e,#365d8d,#3e4a89,#443a83,#46327e,#46327e,#443a83,#3e4a89,#365d8d,#31668e,#33638d,#355f8d,#34618d,#2e6f8e,#24878e,#1f9e89,#21918c,#2d708e,#3a548c,#414487,#433d84,#453882,#46327e,#482878,#481c6e,#481467,#471063,#470e61,#471164,#481769,#481f70,#482878,#472e7c,#46307e,#46337f,#453882,#424186,#3a538b,#2f6b8e,#25858e,#1e9d89,#23a983,#25ac82,#27ad81,#2db27d,#3aba76,#4ec36b,#67cc5c,#89d548,#addc30,#d0e11c,#c2df23,#98d83e,#77d153,#67cc5c,#6ccd5a,#81d34d,#addc30,#dde318,#d2e21b,#a8db34,#93d741,#90d743,#a5db36,#cae11f,#f6e620,#dae319,#b8de29,#a8db34,#aadc32,#c0df25,#e2e418)"></i>
<i style="top:151.47px;height:2.69px;border-color:#e2e418;border-right-color:#e2e418;background-image:linear-gradient(90deg,#e2e418,#c0df25,#aadc32,#a8db34,#b8de29,#d8e219,#f8e621,#cae11f,#a5db36,#93d741,#93d741,#aadc32,#d5e21a,#dfe318,#addc30,#84d44b,#6ccd5a,#69cd5b,#7cd250,#a0da39,#cae11f,#d0e11c,#a8db34,#84d44b,#69cd5b,#54c568,#42be71,#37b878,#31b57b,#31b57b,#2db27d,#20a486,#228b8d,#2d708e,#38598c,#3f4788,#433d84,#453882,#453581,#46327e,#472a7a,#482071,#481769,#471164,#470e61,#471063,#481467,#481c6e,#482576,#472d7b,#46307e,#463480,#443a83,#3e4989,#32648e,#24878e,#1fa188,#1f948c,#297b8e,#2e6d8e,#306a8e,#2e6d8e,#2f6b8e,#365c8d,#404688,#453581,#472d7b,#472d7b,#453581,#404688,#365c8d,#2f6b8e,#2e6d8e,#306a8e,#2e6d8e,#297b8e,#1f948c,#1fa188,#24878e,#32648e,#3e4989,#443a83,#463480,#46307e,#472d7b,#482576,#481c6e,#481467,#471063,#470e61,#471164,#481769,#482071,#472a7a,#46327e,#453581,#453882,#433d84,#3f4788,#38598c,#2d708e,#228b8d,#20a486,#2db27d,#31b57b,#31b57b,#37b878,#42be71,#54c568,#69cd5b,#84d44b,#a8db34,#d0e11c,#cae11f,#a0da39,#7cd250,#69cd5b,#6ccd5a,#84d44b,#addc30,#dfe318,#d5e21a,#aadc32,#93d741,#93d741,#a5db36,#cae11f,#f8e621,#d8e219,#b8de29,#a8db34,#aadc32,#c0df25,#e2e418)"></i>
<i style="top:153.46px;height:2.69px;border-color:#e2e418;border-right-color:#e2e418;background-image:linear-gradient(90deg,#e2e418,#c0df25,#aadc32,#a8db34,#b8de29,#d8e219,#f8e621,#cae11f,#a8db34,#93d741,#95d840,#addc30,#d8e219,#dfe318,#addc30,#84d44b,#6ece58,#6ece58,#7fd34e,#a5db36,#d0e11c,#cae11f,#a2da37,#81d34d,#69cd5b,#5ac864,#4cc26c,#42be71,#3fbc73,#3fbc73,#3bbb75,#26ad81,#20928c,#2b758e,#355e8d,#3e4c8a,#424186,#433d84,#443a83,#453581,#472d7b,#482173,#481769,#471164,#470e61,#471063,#481467,#481b6d,#482374,#482979,#472a7a,#472d7b,#46327e,#424086,#375a8c,#277e8e,#1fa187,#1fa187,#238a8d,#297a8e,#2a768e,#2a768e,#2d708e,#375b8d,#414287,#46307e,#482979,#482979,#46307e,#414287,#375b8d,#2d708e,#2a768e,#2a768e,#297a8e,#238a8d,#1fa187,#1fa187,#277e8e,#375a8c,#424086,#46327e,#472d7b,#472a7a,#482979,#482374,#481b6d,#481467,#471063,#470e61,#471164,#481769,#482173,#472d7b,#453581,#443a83,#433d84,#424186,#3e4c8a,#355e8d,#2b758e,#20928c,#26ad81,#3bbb75,#3fbc73,#3fbc73,#42be71,#4cc26c,#5ac864,#69cd5b,#81d34d,#a2da37,#cae11f,#d0e11c,#a5db36,#7fd34e,#6ece58,#6ece58,#84d44b,#addc30,#dfe318,#d8e219,#addc30,#95d840,#93d741,#a8db34,#cae11f,#f8e621,#d8e219,#b8de29,#a8db34,#aadc32,#c0df25,#e2e418)"></i>
<i style="top:155.46px;height:2.69px;border-color:#e2e418;border-right-color:#e2e418;background-image:linear-gradient(90deg,#e2e418,#c0df25,#aadc32,#a8db34,#b5de2b,#d8e219,#f8e621,#cde11d,#a8db34,#95d840,#98d83e,#addc30,#d8e219,#e2e418,#addc30,#86d549,#70cf57,#70cf57,#84d44b,#aadc32,#d5e21a,#c8e020,#9bd93c,#7cd250,#69cd5b,#5ec962,#56c667,#50c46a,#4ec36b,#52c569,#4cc26c,#2fb47c,#1f988b,#297b8e,#33638d,#3b528b,#3f4788,#414287,#423f85,#443a83,#472f7d,#482374,#48186a,#471164,#470e61,#471063,#481467,#481a6c,#482071,#482475,#482576,#482677,#472c7a,#453882,#3c508b,#2b748e,#1fa088,#28ae80,#1e9b8a,#238a8d,#25848e,#26828e,#2b748e,#375b8d,#424086,#472e7c,#482576,#482576,#472e7c,#424086,#375b8d,#2b748e,#26828e,#25848e,#238a8d,#1e9b8a,#28ae80,#1fa088,#2b748e,#3c508b,#453882,#472c7a,#482677,#482576,#482475,#482071,#481a6c,#481467,#471063,#470e61,#471164,#48186a,#482374,#472f7d,#443a83,#423f85,#414287,#3f4788,#3b528b,#33638d,#297b8e,#1f988b,#2fb47c,#4cc26c,#52c569,#4ec36b,#50c46a,#56c667,#5ec962,#69cd5b,#7cd250,#9bd93c,#c8e020,#d5e21a,#aadc32,#84d44b,#70cf57,#70cf57,#86d549,#addc30,#e2e418,#d8e219,#addc30,#98d83e,#95d840,#a8db34,#cde11d,#f8e621,#d8e219,#b5de2b,#a8db34,#aadc32,#c0df25,#e2e418)"></i>
<i style="top:157.45px;height:2.69px;border-color:#e2e418;border-right-color:#e2e418;background-image:linear-gradient(90deg,#e2e418,#c0df25,#aadc32,#a5db36,#b5de2b,#d8e219,#fbe723,#cde11d,#a8db34,#95d840,#98d83e,#b0dd2f,#dae319,#e2e418,#b0dd2f,#86d549,#73d056,#73d056,#89d548,#b0dd2f,#dae319,#c2df23,#95d840,#7ad151,#69cd5b,#63cb5f,#5ec962,#5cc863,#5ec962,#65cb5e,#60ca60,#3bbb75,#1f9f88,#26818e,#30698e,#38588c,#3d4e8a,#3f4889,#404588,#423f85,#46337f,#482576,#481a6c,#471365,#471063,#471063,#481467,#481a6c,#481f70,#482173,#482173,#482173,#482576,#46307e,#3f4788,#2f6c8e,#1e9b8a,#3bbb75,#28ae80,#1e9d89,#1f958b,#218f8d,#297a8e,#375b8d,#433e85,#472c7a,#482374,#482374,#472c7a,#433e85,#375b8d,#297a8e,#218f8d,#1f958b,#1e9d89,#28ae80,#3bbb75,#1e9b8a,#2f6c8e,#3f4788,#46307e,#482576,#482173,#482173,#482173,#481f70,#481a6c,#481467,#471063,#471063,#471365,#481a6c,#482576,#46337f,#423f85,#404588,#3f4889,#3d4e8a,#38588c,#30698e,#26818e,#1f9f88,#3bbb75,#60ca60,#65cb5e,#5ec962,#5cc863,#5ec962,#63cb5f,#69cd5b,#7ad151,#95d840,#c2df23,#dae319,#b0dd2f,#89d548,#73d056,#73d056,#86d549,#b0dd2f,#e2e418,#dae319,#b0dd2f,#98d83e,#95d840,#a8db34,#cde11d,#fbe723,#d8e219,#b5de2b,#a5db36,#aadc32,#c0df25,#e2e418)"></i>
<i style="top:159.44px;height:2.69px;border-color:#e2e418;border-right-color:#e2e418;background-image:linear-gradient(90deg,#e2e418,#c0df25,#aadc32,#a5db36,#b5de2b,#d8e219,#fbe723,#cde11d,#aadc32,#95d840,#98d83e,#b0dd2f,#dae319,#e5e419,#b0dd2f,#89d548,#75d054,#75d054,#8bd646,#b5de2b,#dde318,#bddf26,#90d743,#75d054,#69cd5b,#67cc5c,#69cd5b,#6ccd5a,#70cf57,#7cd250,#77d153,#4ac16d,#21a585,#24878e,#2e6f8e,#355e8d,#3a538b,#3c4f8a,#3e4c8a,#414487,#453781,#482677,#481b6d,#471365,#471063,#471164,#481467,#481a6c,#481d6f,#481f70,#481d6f,#481c6e,#482071,#472a7a,#424086,#32648e,#20938c,#4cc26c,#50c46a,#2db27d,#23a983,#1e9d89,#27808e,#365c8d,#433d84,#482979,#482071,#482071,#482979,#433d84,#365c8d,#27808e,#1e9d89,#23a983,#2db27d,#50c46a,#4cc26c,#20938c,#32648e,#424086,#472a7a,#482071,#481c6e,#481d6f,#481f70,#481d6f,#481a6c,#481467,#471164,#471063,#471365,#481b6d,#482677,#453781,#414487,#3e4c8a,#3c4f8a,#3a538b,#355e8d,#2e6f8e,#24878e,#21a585,#4ac16d,#77d153,#7cd250,#70cf57,#6ccd5a,#69cd5b,#67cc5c,#69cd5b,#75d054,#90d743,#bddf26,#dde318,#b5de2b,#8bd646,#75d054,#75d054,#89d548,#b0dd2f,#e5e419,#dae319,#b0dd2f,#98d83e,#95d840,#aadc32,#cde11d,#fbe723,#d8e219,#b5de2b,#a5db36,#aadc32,#c0df25,#e2e418)"></i>
<i style="top:161.44px;height:2.69px;border-color:#e2e418;border-right-color:#e2e418;background-image:linear-gradient(90deg,#e2e418,#c0df25,#aadc32,#a5db36,#b5de2b,#d8e219,#fbe723,#cde11d,#aadc32,#98d83e,#9bd93c,#b2dd2d,#dde318,#e5e419,#b0dd2f,#89d548,#75d054,#77d153,#90d743,#bade28,#dfe318,#b8de29,#8ed645,#73d056,#69cd5b,#6ccd5a,#73d056,#7ad151,#84d44b,#93d741,#8ed645,#5ac864,#25ac82,#228d8d,#2b748e,#32648e,#375b8d,#39558c,#3b528b,#3e4989,#443a83,#482979,#481c6e,#481467,#471164,#471164,#481467,#481a6c,#481c6e,#481c6e,#481a6c,#48186a,#481b6d,#482576,#443983,#365c8d,#228c8d,#4ec36b,#8ed645,#5ec962,#42be71,#25ac82,#25848e,#365c8d,#443b84,#482878,#481f70,#481f70,#482878,#443b84,#365c8d,#25848e,#25ac82,#42be71,#5ec962,#8ed645,#4ec36b,#228c8d,#365c8d,#443983,#482576,#481b6d,#48186a,#481a6c,#481c6e,#481c6e,#481a6c,#481467,#471164,#471164,#481467,#481c6e,#482979,#443a83,#3e4989,#3b528b,#39558c,#375b8d,#32648e,#2b748e,#228d8d,#25ac82,#5ac864,#8ed645,#93d741,#84d44b,#7ad151,#73d056,#6ccd5a,#69cd5b,#73d056,#8ed645,#b8de29,#dfe318,#bade28,#90d743,#77d153,#75d054,#89d548,#b0dd2f,#e5e419,#dde318,#b2dd2d,#9bd93c,#98d83e,#aadc32,#cde11d,#fbe723,#d8e219,#b5de2b,#a5db36,#aadc32,#c0df25,#e2e418)"></i>
<i style="top:163.43px;height:2.69px;border-color:#e2e418;border-right-color:#e2e418;background-image:linear-gradient(90deg,#e2e418,#c0df25,#aadc32,#a5db36,#b5de2b,#d5e21a,#fbe723,#d0e11c,#aadc32,#98d83e,#9bd93c,#b2dd2d,#dde318,#e7e419,#b2dd2d,#8bd646,#77d153,#7ad151,#93d741,#c0df25,#dfe318,#b5de2b,#89d548,#70cf57,#69cd5b,#70cf57,#7cd250,#89d548,#98d83e,#aadc32,#a5db36,#69cd5b,#2cb17e,#20928c,#297b8e,#2f6b8e,#34618d,#365d8d,#38598c,#3c4f8a,#433e85,#472c7a,#481d6f,#481668,#471365,#471365,#481668,#481a6c,#481b6d,#481a6c,#481769,#481668,#48186a,#482071,#46337f,#3a538b,#26828e,#3fbc73,#c2df23,#addc30,#7fd34e,#38b977,#23898e,#365d8d,#443b84,#482677,#481f70,#481f70,#482677,#443b84,#365d8d,#23898e,#38b977,#7fd34e,#addc30,#c2df23,#3fbc73,#26828e,#3a538b,#46337f,#482071,#48186a,#481668,#481769,#481a6c,#481b6d,#481a6c,#481668,#471365,#471365,#481668,#481d6f,#472c7a,#433e85,#3c4f8a,#38598c,#365d8d,#34618d,#2f6b8e,#297b8e,#20928c,#2cb17e,#69cd5b,#a5db36,#aadc32,#98d83e,#89d548,#7cd250,#70cf57,#69cd5b,#70cf57,#89d548,#b5de2b,#dfe318,#c0df25,#93d741,#7ad151,#77d153,#8bd646,#b2dd2d,#e7e419,#dde318,#b2dd2d,#9bd93c,#98d83e,#aadc32,#d0e11c,#fbe723,#d5e21a,#b5de2b,#a5db36,#aadc32,#c0df25,#e2e418)"></i>
<i style="top:165.42px;height:2.69px;border-color:#e2e418;border-right-color:#e2e418;background-image:linear-gradient(90deg,#e2e418,#c0df25,#aadc32,#a5db36,#b5de2b,#d5e21a,#fbe723,#d0e11c,#aadc32,#98d83e,#9bd93c,#b2dd2d,#dde318,#e7e419,#b2dd2d,#8bd646,#7ad151,#7cd250,#98d83e,#c5e021,#dfe318,#b0dd2f,#86d549,#6ece58,#69cd5b,#75d054,#86d549,#98d83e,#aadc32,#c2df23,#bddf26,#7ad151,#34b679,#1f998a,#26828e,#2c718e,#30698e,#32658e,#34608d,#3a548c,#414287,#472e7c,#482071,#481769,#481467,#481467,#481769,#481a6c,#481b6d,#48186a,#481467,#471365,#481467,#481c6e,#472e7c,#3d4d8a,#29798e,#29af7f,#9dd93b,#f1e51d,#cae11f,#4ec36b,#228d8d,#355e8d,#443b84,#482677,#481d6f,#481d6f,#482677,#443b84,#355e8d,#228d8d,#4ec36b,#cae11f,#f1e51d,#9dd93b,#29af7f,#29798e,#3d4d8a,#472e7c,#481c6e,#481467,#471365,#481467,#48186a,#481b6d,#481a6c,#481769,#481467,#481467,#481769,#482071,#472e7c,#414287,#3a548c,#34608d,#32658e,#30698e,#2c718e,#26828e,#1f998a,#34b679,#7ad151,#bddf26,#c2df23,#aadc32,#98d83e,#86d549,#75d054,#69cd5b,#6ece58,#86d549,#b0dd2f,#dfe318,#c5e021,#98d83e,#7cd250,#7ad151,#8bd646,#b2dd2d,#e7e419,#dde318,#b2dd2d,#9bd93c,#98d83e,#aadc32,#d0e11c,#fbe723,#d5e21a,#b5de2b,#a5db36,#aadc32,#c0df25,#e2e418)"></i>
<i style="top:167.41px;height:2.69px;border-color:#e2e418;border-right-color:#e2e418;background-image:linear-gradient(90deg,#e2e418,#c0df25,#a8db34,#a5db36,#b5de2b,#d5e21a,#fde725,#d0e11c,#aadc32,#98d83e,#9bd93c,#b2dd2d,#dde318,#e7e419,#b2dd2d,#8ed645,#7cd250,#7fd34e,#9bd93c,#cae11f,#dfe318,#addc30,#84d44b,#6ece58,#6ccd5a,#77d153,#8ed645,#a8db34,#bddf26,#d8e219,#d0e11c,#86d549,#3dbc74,#1fa088,#24878e,#2a788e,#2d708e,#2f6c8e,#31678e,#375b8d,#3f4788,#46327e,#482374,#481a6c,#481668,#481668,#48186a,#481b6d,#481a6c,#481769,#471365,#471063,#471365,#481a6c,#482979,#404688,#2d708e,#1fa088,#58c765,#93d741,#b8de29,#58c765,#21908d,#355f8d,#443b84,#482677,#481d6f,#481d6f,#482677,#443b84,#355f8d,#21908d,#58c765,#b8de29,#93d741,#58c765,#1fa088,#2d708e,#404688,#482979,#481a6c,#471365,#471063,#471365,#481769,#481a6c,#481b6d,#48186a,#481668,#481668,#481a6c,#482374,#46327e,#3f4788,#375b8d,#31678e,#2f6c8e,#2d708e,#2a788e,#24878e,#1fa088,#3dbc74,#86d549,#d0e11c,#d8e219,#bddf26,#a8db34,#8ed645,#77d153,#6ccd5a,#6ece58,#84d44b,#addc30,#dfe318,#cae11f,#9bd93c,#7fd34e,#7cd250,#8ed645,#b2dd2d,#e7e419,#dde318,#b2dd2d,#9bd93c,#98d83e,#aadc32,#d0e11c,#fde725,#d5e21a,#b5de2b,#a5db36,#a8db34,#c0df25,#e2e418)"></i>
<i style="top:169.41px;height:2.69px;border-color:#e2e418;border-right-color:#e2e418;background-image:linear-gradient(90deg,#e2e418,#c0df25,#a8db34,#a5db36,#b5de2b,#d5e21a,#fde725,#d0e11c,#aadc32,#98d83e,#9bd93c,#b2dd2d,#dde318,#eae51a,#b5de2b,#8ed645,#7cd250,#81d34d,#9dd93b,#cde11d,#dfe318,#aadc32,#81d34d,#6ccd5a,#6ccd5a,#7cd250,#98d83e,#b5de2b,#d0e11c,#ece51b,#dde318,#93d741,#48c16e,#21a585,#218f8d,#27808e,#2a778e,#2b748e,#2e6f8e,#34618d,#3e4c8a,#453581,#482576,#481b6d,#481769,#481769,#481a6c,#481b6d,#481a6c,#481668,#471164,#470e61,#471063,#481769,#482576,#424086,#31668e,#21908d,#29af7f,#48c16e,#69cd5b,#4ac16d,#21918c,#34618d,#433d84,#482878,#481f70,#481f70,#482878,#433d84,#34618d,#21918c,#4ac16d,#69cd5b,#48c16e,#29af7f,#21908d,#31668e,#424086,#482576,#481769,#471063,#470e61,#471164,#481668,#481a6c,#481b6d,#481a6c,#481769,#481769,#481b6d,#482576,#453581,#3e4c8a,#34618d,#2e6f8e,#2b748e,#2a778e,#27808e,#218f8d,#21a585,#48c16e,#93d741,#dde318,#ece51b,#d0e11c,#b5de2b,#98d83e,#7cd250,#6ccd5a,#6ccd5a,#81d34d,#aadc32,#dfe318,#cde11d,#9dd93b,#81d34d,#7cd250,#8ed645,#b5de2b,#eae51a,#dde318,#b2dd2d,#9bd93c,#98d83e,#aadc32,#d0e11c,#fde725,#d5e21a,#b5de2b,#a5db36,#a8db34,#c0df25,#e2e418)"></i>
<i style="top:171.40px;height:2.69px;border-color:#e2e418;border-right-color:#e2e418;background-image:linear-gradient(90deg,#e2e418,#c0df25,#a8db34,#a5db36,#b5de2b,#d5e21a,#fde725,#d0e11c,#addc30,#98d83e,#9bd93c,#b2dd2d,#dde318,#eae51a,#b5de2b,#90d743,#7fd34e,#84d44b,#a0da39,#d0e11c,#dde318,#a8db34,#7fd34e,#6ccd5a,#6ccd5a,#7fd34e,#a0da39,#c5e021,#dfe318,#f4e61e,#dde318,#9bd93c,#52c569,#25ac82,#1f958b,#24868e,#27808e,#287d8e,#2a778e,#31688e,#3c508b,#443983,#482878,#481d6f,#481a6c,#481a6c,#481b6d,#481c6e,#481a6c,#481467,#471063,#470d60,#470e61,#481467,#482173,#443a83,#365d8d,#27808e,#1f988b,#22a785,#32b67a,#32b67a,#21908d,#33628d,#423f85,#482979,#482071,#482071,#482979,#423f85,#33628d,#21908d,#32b67a,#32b67a,#22a785,#1f988b,#27808e,#365d8d,#443a83,#482173,#481467,#470e61,#470d60,#471063,#481467,#481a6c,#481c6e,#481b6d,#481a6c,#481a6c,#481d6f,#482878,#443983,#3c508b,#31688e,#2a778e,#287d8e,#27808e,#24868e,#1f958b,#25ac82,#52c569,#9bd93c,#dde318,#f4e61e,#dfe318,#c5e021,#a0da39,#7fd34e,#6ccd5a,#6ccd5a,#7fd34e,#a8db34,#dde318,#d0e11c,#a0da39,#84d44b,#7fd34e,#90d743,#b5de2b,#eae51a,#dde318,#b2dd2d,#9bd93c,#98d83e,#addc30,#d0e11c,#fde725,#d5e21a,#b5de2b,#a5db36,#a8db34,#c0df25,#e2e418)"></i>
<i style="top:173.39px;height:2.69px;border-color:#e2e418;border-right-color:#e2e418;background-image:linear-gradient(90deg,#e2e418,#c0df25,#a8db34,#a5db36,#b5de2b,#d5e21a,#fde725,#d0e11c,#addc30,#98d83e,#9bd93c,#b2dd2d,#dde318,#eae51a,#b5de2b,#90d743,#7fd34e,#86d549,#a2da37,#d5e21a,#dde318,#a5db36,#7cd250,#69cd5b,#6ccd5a,#81d34d,#a8db34,#d2e21b,#e7e419,#e5e419,#d5e21a,#a0da39,#5cc863,#2cb17e,#1e9c89,#218e8d,#24878e,#25858e,#277f8e,#2e6f8e,#39558c,#433d84,#472c7a,#482071,#481c6e,#481c6e,#481d6f,#481d6f,#481a6c,#471365,#470e61,#460b5e,#470d60,#471365,#481f70,#453581,#3a548c,#2c718e,#25838e,#21908d,#1f9e89,#21a585,#228d8d,#32648e,#424186,#472c7a,#482173,#482173,#472c7a,#424186,#32648e,#228d8d,#21a585,#1f9e89,#21908d,#25838e,#2c718e,#3a548c,#453581,#481f70,#471365,#470d60,#460b5e,#470e61,#471365,#481a6c,#481d6f,#481d6f,#481c6e,#481c6e,#482071,#472c7a,#433d84,#39558c,#2e6f8e,#277f8e,#25858e,#24878e,#218e8d,#1e9c89,#2cb17e,#5cc863,#a0da39,#d5e21a,#e5e419,#e7e419,#d2e21b,#a8db34,#81d34d,#6ccd5a,#69cd5b,#7cd250,#a5db36,#dde318,#d5e21a,#a2da37,#86d549,#7fd34e,#90d743,#b5de2b,#eae51a,#dde318,#b2dd2d,#9bd93c,#98d83e,#addc30,#d0e11c,#fde725,#d5e21a,#b5de2b,#a5db36,#a8db34,#c0df25,#e2e418)"></i>
<i style="top:175.39px;height:2.69px;border-color:#e2e418;border-right-color:#e2e418;background-image:linear-gradient(90deg,#e2e418,#c0df25,#a8db34,#a5db36,#b5de2b,#d5e21a,#fde725,#d0e11c,#addc30,#98d83e,#9bd93c,#b2dd2d,#dde318,#eae51a,#b8de29,#90d743,#81d34d,#86d549,#a5db36,#d8e219,#dde318,#a5db36,#7cd250,#69cd5b,#6ece58,#86d549,#b0dd2f,#dde318,#e7e419,#d5e21a,#c8e020,#a2da37,#67cc5c,#35b779,#20a386,#1f968b,#21908d,#218e8d,#23888e,#2b758e,#365c8d,#424186,#472e7c,#482475,#481f70,#481f70,#482071,#481f70,#481a6c,#471365,#470d60,#460b5e,#460b5e,#471164,#481c6e,#46307e,#3e4c8a,#32648e,#2c718e,#297b8e,#23888e,#1f948c,#23888e,#31668e,#414487,#472e7c,#482475,#482475,#472e7c,#414487,#31668e,#23888e,#1f948c,#23888e,#297b8e,#2c718e,#32648e,#3e4c8a,#46307e,#481c6e,#471164,#460b5e,#460b5e,#470d60,#471365,#481a6c,#481f70,#482071,#481f70,#481f70,#482475,#472e7c,#424186,#365c8d,#2b758e,#23888e,#218e8d,#21908d,#1f968b,#20a386,#35b779,#67cc5c,#a2da37,#c8e020,#d5e21a,#e7e419,#dde318,#b0dd2f,#86d549,#6ece58,#69cd5b,#7cd250,#a5db36,#dde318,#d8e219,#a5db36,#86d549,#81d34d,#90d743,#b8de29,#eae51a,#dde318,#b2dd2d,#9bd93c,#98d83e,#addc30,#d0e11c,#fde725,#d5e21a,#b5de2b,#a5db36,#a8db34,#c0df25,#e2e418)"></i>
<i style="top:177.38px;height:2.69px;border-color:#e2e418;border-right-color:#e2e418;background-image:linear-gradient(90deg,#e2e418,#bddf26,#a8db34,#a5db36,#b5de2b,#d5e21a,#fde725,#d0e11c,#addc30,#98d83e,#9bd93c,#b2dd2d,#dde318,#ece51b,#b8de29,#93d741,#81d34d,#89d548,#a8db34,#dae319,#dae319,#a2da37,#7ad151,#69cd5b,#6ece58,#89d548,#b5de2b,#e7e419,#dfe318,#c8e020,#b8de29,#a0da39,#70cf57,#3fbc73,#24aa83,#1f9e89,#1f998a,#1f978b,#21918c,#287d8e,#34618d,#404688,#46337f,#482878,#482374,#482374,#482374,#482071,#481a6c,#471365,#470d60,#460a5d,#460b5e,#471063,#481b6d,#472d7b,#414487,#38588c,#33628d,#306a8e,#2b758e,#25848e,#26828e,#31688e,#3f4788,#46327e,#482878,#482878,#46327e,#3f4788,#31688e,#26828e,#25848e,#2b758e,#306a8e,#33628d,#38588c,#414487,#472d7b,#481b6d,#471063,#460b5e,#460a5d,#470d60,#471365,#481a6c,#482071,#482374,#482374,#482374,#482878,#46337f,#404688,#34618d,#287d8e,#21918c,#1f978b,#1f998a,#1f9e89,#24aa83,#3fbc73,#70cf57,#a0da39,#b8de29,#c8e020,#dfe318,#e7e419,#b5de2b,#89d548,#6ece58,#69cd5b,#7ad151,#a2da37,#dae319,#dae319,#a8db34,#89d548,#81d34d,#93d741,#b8de29,#ece51b,#dde318,#b2dd2d,#9bd93c,#98d83e,#addc30,#d0e11c,#fde725,#d5e21a,#b5de2b,#a5db36,#a8db34,#bddf26,#e2e418)"></i>
<i style="top:179.37px;height:2.69px;border-color:#e2e418;border-right-color:#e2e418;background-image:linear-gradient(90deg,#e2e418,#bddf26,#a8db34,#a5db36,#b2dd2d,#d5e21a,#fde725,#d0e11c,#addc30,#98d83e,#9bd93c,#b2dd2d,#dde318,#ece51b,#b8de29,#93d741,#84d44b,#89d548,#a8db34,#dde318,#dae319,#a2da37,#7ad151,#69cd5b,#70cf57,#8bd646,#bddf26,#f1e51d,#d8e219,#b8de29,#addc30,#9dd93b,#77d153,#4ac16d,#2cb17e,#21a585,#1fa187,#1fa187,#1f9a8a,#25848e,#31678e,#3e4a89,#453781,#472c7a,#482677,#482576,#482576,#482374,#481b6d,#471365,#470d60,#460a5d,#460a5d,#470e61,#48186a,#482979,#433d84,#3e4c8a,#3a538b,#375a8c,#32658e,#2b758e,#287c8e,#30698e,#3e4c8a,#453581,#472c7a,#472c7a,#453581,#3e4c8a,#30698e,#287c8e,#2b758e,#32658e,#375a8c,#3a538b,#3e4c8a,#433d84,#482979,#48186a,#470e61,#460a5d,#460a5d,#470d60,#471365,#481b6d,#482374,#482576,#482576,#482677,#472c7a,#453781,#3e4a89,#31678e,#25848e,#1f9a8a,#1fa187,#1fa187,#21a585,#2cb17e,#4ac16d,#77d153,#9dd93b,#addc30,#b8de29,#d8e219,#f1e51d,#bddf26,#8bd646,#70cf57,#69cd5b,#7ad151,#a2da37,#dae319,#dde318,#a8db34,#89d548,#84d44b,#93d741,#b8de29,#ece51b,#dde318,#b2dd2d,#9bd93c,#98d83e,#addc30,#d0e11c,#fde725,#d5e21a,#b2dd2d,#a5db36,#a8db34,#bddf26,#e2e418)"></i>
<i style="top:181.36px;height:2.69px;border-color:#e2e418;border-right-color:#e2e418;background-image:linear-gradient(90deg,#e2e418,#bddf26,#a8db34,#a5db36,#b2dd2d,#d5e21a,#fde725,#d0e11c,#addc30,#98d83e,#9bd93c,#b2dd2d,#dde318,#ece51b,#b8de29,#93d741,#84d44b,#8bd646,#aadc32,#dde318,#dae319,#a0da39,#7ad151,#69cd5b,#70cf57,#90d743,#c2df23,#fbe723,#cde11d,#addc30,#a0da39,#98d83e,#7fd34e,#56c667,#35b779,#27ad81,#24aa83,#25ab82,#20a386,#228c8d,#2e6d8e,#3c508b,#443b84,#472f7d,#472a7a,#472a7a,#482979,#482475,#481c6e,#471365,#470d60,#460a5d,#460a5d,#470e61,#481769,#482576,#453581,#424186,#404688,#3e4a89,#39568c,#31688e,#2b748e,#2f6b8e,#3b518b,#443b84,#46307e,#46307e,#443b84,#3b518b,#2f6b8e,#2b748e,#31688e,#39568c,#3e4a89,#404688,#424186,#453581,#482576,#481769,#470e61,#460a5d,#460a5d,#470d60,#471365,#481c6e,#482475,#482979,#472a7a,#472a7a,#472f7d,#443b84,#3c508b,#2e6d8e,#228c8d,#20a386,#25ab82,#24aa83,#27ad81,#35b779,#56c667,#7fd34e,#98d83e,#a0da39,#addc30,#cde11d,#fbe723,#c2df23,#90d743,#70cf57,#69cd5b,#7ad151,#a0da39,#dae319,#dde318,#aadc32,#8bd646,#84d44b,#93d741,#b8de29,#ece51b,#dde318,#b2dd2d,#9bd93c,#98d83e,#addc30,#d0e11c,#fde725,#d5e21a,#b2dd2d,#a5db36,#a8db34,#bddf26,#e2e418)"></i>
<i style="top:183.36px;height:2.69px;border-color:#e2e418;border-right-color:#e2e418;background-image:linear-gradient(90deg,#e2e418,#bddf26,#a8db34,#a5db36,#b2dd2d,#d5e21a,#fde725,#d0e11c,#addc30,#98d83e,#9bd93c,#b2dd2d,#dde318,#ece51b,#bade28,#95d840,#84d44b,#8bd646,#aadc32,#dfe318,#dae319,#a0da39,#7ad151,#6ccd5a,#73d056,#93d741,#c8e020,#f8e621,#c2df23,#a0da39,#95d840,#95d840,#86d549,#63cb5f,#40bd72,#31b57b,#2eb37c,#31b57b,#27ad81,#20938c,#2c728e,#39558c,#424086,#463480,#472f7d,#472e7c,#472d7b,#482677,#481c6e,#471365,#460b5e,#460a5d,#460a5d,#470e61,#481668,#482374,#46307e,#453882,#443a83,#433e85,#3e4989,#365c8d,#2e6d8e,#2f6c8e,#38588c,#414287,#453781,#453781,#414287,#38588c,#2f6c8e,#2e6d8e,#365c8d,#3e4989,#433e85,#443a83,#453882,#46307e,#482374,#481668,#470e61,#460a5d,#460a5d,#460b5e,#471365,#481c6e,#482677,#472d7b,#472e7c,#472f7d,#463480,#424086,#39558c,#2c728e,#20938c,#27ad81,#31b57b,#2eb37c,#31b57b,#40bd72,#63cb5f,#86d549,#95d840,#95d840,#a0da39,#c2df23,#f8e621,#c8e020,#93d741,#73d056,#6ccd5a,#7ad151,#a0da39,#dae319,#dfe318,#aadc32,#8bd646,#84d44b,#95d840,#bade28,#ece51b,#dde318,#b2dd2d,#9bd93c,#98d83e,#addc30,#d0e11c,#fde725,#d5e21a,#b2dd2d,#a5db36,#a8db34,#bddf26,#e2e418)"></i>
<i style="top:185.35px;height:2.69px;border-color:#e2e418;border-right-color:#e2e418;background-image:linear-gradient(90deg,#e2e418,#bddf26,#a8db34,#a5db36,#b2dd2d,#d5e21a,#fde725,#d0e11c,#addc30,#98d83e,#9bd93c,#b2dd2d,#dde318,#ece51b,#bade28,#95d840,#86d549,#8ed645,#addc30,#e2e418,#dae319,#a0da39,#7ad151,#6ccd5a,#75d054,#95d840,#cde11d,#f1e51d,#bade28,#98d83e,#8bd646,#90d743,#8bd646,#6ece58,#4ec36b,#3dbc74,#3bbb75,#40bd72,#34b679,#1e9b8a,#2a788e,#365c8d,#404688,#443a83,#453581,#463480,#46327e,#472a7a,#481d6f,#471365,#470d60,#460a5d,#460a5d,#470d60,#481668,#482071,#472a7a,#472f7d,#46307e,#46337f,#433d84,#3c508b,#32658e,#2e6d8e,#355e8d,#3e4a89,#423f85,#423f85,#3e4a89,#355e8d,#2e6d8e,#32658e,#3c508b,#433d84,#46337f,#46307e,#472f7d,#472a7a,#482071,#481668,#470d60,#460a5d,#460a5d,#470d60,#471365,#481d6f,#472a7a,#46327e,#463480,#453581,#443a83,#404688,#365c8d,#2a788e,#1e9b8a,#34b679,#40bd72,#3bbb75,#3dbc74,#4ec36b,#6ece58,#8bd646,#90d743,#8bd646,#98d83e,#bade28,#f1e51d,#cde11d,#95d840,#75d054,#6ccd5a,#7ad151,#a0da39,#dae319,#e2e418,#addc30,#8ed645,#86d549,#95d840,#bade28,#ece51b,#dde318,#b2dd2d,#9bd93c,#98d83e,#addc30,#d0e11c,#fde725,#d5e21a,#b2dd2d,#a5db36,#a8db34,#bddf26,#e2e418)"></i>
<i style="top:187.34px;height:2.69px;border-color:#e2e418;border-right-color:#e2e418;background-image:linear-gradient(90deg,#e2e418,#bddf26,#a8db34,#a5db36,#b2dd2d,#d5e21a,#fde725,#d0e11c,#addc30,#98d83e,#9bd93c,#b2dd2d,#dde318,#efe51c,#bade28,#95d840,#86d549,#8ed645,#addc30,#e2e418,#dae319,#a0da39,#7ad151,#6ccd5a,#75d054,#98d83e,#d2e21b,#eae51a,#b2dd2d,#8ed645,#84d44b,#8bd646,#90d743,#7cd250,#5cc863,#4cc26c,#4cc26c,#56c667,#46c06f,#20a386,#277f8e,#34618d,#3e4c8a,#424086,#443a83,#443983,#453781,#472d7b,#481f70,#481467,#470d60,#460a5d,#460a5d,#470d60,#481467,#481f70,#482677,#482979,#482878,#472a7a,#46337f,#404588,#355e8d,#2e6d8e,#32658e,#3a538b,#3f4889,#3f4889,#3a538b,#32658e,#2e6d8e,#355e8d,#404588,#46337f,#472a7a,#482878,#482979,#482677,#481f70,#481467,#470d60,#460a5d,#460a5d,#470d60,#481467,#481f70,#472d7b,#453781,#443983,#443a83,#424086,#3e4c8a,#34618d,#277f8e,#20a386,#46c06f,#56c667,#4cc26c,#4cc26c,#5cc863,#7cd250,#90d743,#8bd646,#84d44b,#8ed645,#b2dd2d,#eae51a,#d2e21b,#98d83e,#75d054,#6ccd5a,#7ad151,#a0da39,#dae319,#e2e418,#addc30,#8ed645,#86d549,#95d840,#bade28,#efe51c,#dde318,#b2dd2d,#9bd93c,#98d83e,#addc30,#d0e11c,#fde725,#d5e21a,#b2dd2d,#a5db36,#a8db34,#bddf26,#e2e418)"></i>
<i style="top:189.34px;height:2.69px;border-color:#e2e418;border-right-color:#e2e418;background-image:linear-gradient(90deg,#e2e418,#bddf26,#a8db34,#a5db36,#b2dd2d,#d5e21a,#fde725,#d0e11c,#addc30,#98d83e,#9bd93c,#b2dd2d,#dde318,#efe51c,#bade28,#95d840,#86d549,#8ed645,#addc30,#e2e418,#dae319,#a0da39,#7ad151,#6ece58,#77d153,#9bd93c,#d5e21a,#e5e419,#aadc32,#86d549,#7cd250,#86d549,#93d741,#89d548,#6ccd5a,#5ac864,#5cc863,#6ccd5a,#5ac864,#25ab82,#25858e,#31678e,#3b528b,#404688,#424186,#424086,#443b84,#46307e,#482173,#481467,#470d60,#460a5d,#460a5d,#470d60,#481467,#481c6e,#482374,#482374,#482173,#482374,#472a7a,#443b84,#39558c,#2e6d8e,#2e6d8e,#355f8d,#3a538b,#3a538b,#355f8d,#2e6d8e,#2e6d8e,#39558c,#443b84,#472a7a,#482374,#482173,#482374,#482374,#481c6e,#481467,#470d60,#460a5d,#460a5d,#470d60,#481467,#482173,#46307e,#443b84,#424086,#424186,#404688,#3b528b,#31678e,#25858e,#25ab82,#5ac864,#6ccd5a,#5cc863,#5ac864,#6ccd5a,#89d548,#93d741,#86d549,#7cd250,#86d549,#aadc32,#e5e419,#d5e21a,#9bd93c,#77d153,#6ece58,#7ad151,#a0da39,#dae319,#e2e418,#addc30,#8ed645,#86d549,#95d840,#bade28,#efe51c,#dde318,#b2dd2d,#9bd93c,#98d83e,#addc30,#d0e11c,#fde725,#d5e21a,#b2dd2d,#a5db36,#a8db34,#bddf26,#e2e418)"></i>
<i style="top:191.33px;height:2.69px;border-color:#e2e418;border-right-color:#e2e418;background-image:linear-gradient(90deg,#e2e418,#bddf26,#a8db34,#a5db36,#b2dd2d,#d5e21a,#fde725,#d0e11c,#addc30,#98d83e,#9bd93c,#b2dd2d,#dde318,#efe51c,#bade28,#95d840,#86d549,#8ed645,#b0dd2f,#e5e419,#dae319,#a0da39,#7ad151,#6ece58,#7ad151,#9dd93b,#dae319,#dfe318,#a5db36,#81d34d,#77d153,#84d44b,#95d840,#93d741,#7ad151,#67cc5c,#6ccd5a,#84d44b,#73d056,#2db27d,#228c8d,#2e6e8e,#38598c,#3d4d8a,#3f4889,#3f4788,#424186,#463480,#482374,#481668,#470e61,#460a5d,#460a5d,#470e61,#481467,#481b6d,#481f70,#481d6f,#481b6d,#481c6e,#482374,#46337f,#3c4f8a,#2f6b8e,#2b758e,#2f6b8e,#34618d,#34618d,#2f6b8e,#2b758e,#2f6b8e,#3c4f8a,#46337f,#482374,#481c6e,#481b6d,#481d6f,#481f70,#481b6d,#481467,#470e61,#460a5d,#460a5d,#470e61,#481668,#482374,#463480,#424186,#3f4788,#3f4889,#3d4d8a,#38598c,#2e6e8e,#228c8d,#2db27d,#73d056,#84d44b,#6ccd5a,#67cc5c,#7ad151,#93d741,#95d840,#84d44b,#77d153,#81d34d,#a5db36,#dfe318,#dae319,#9dd93b,#7ad151,#6ece58,#7ad151,#a0da39,#dae319,#e5e419,#b0dd2f,#8ed645,#86d549,#95d840,#bade28,#efe51c,#dde318,#b2dd2d,#9bd93c,#98d83e,#addc30,#d0e11c,#fde725,#d5e21a,#b2dd2d,#a5db36,#a8db34,#bddf26,#e2e418)"></i>
<i style="top:193.32px;height:2.69px;border-color:#e2e418;border-right-color:#e2e418;background-image:linear-gradient(90deg,#e2e418,#bddf26,#a8db34,#a5db36,#b2dd2d,#d5e21a,#fde725,#d0e11c,#addc30,#98d83e,#9bd93c,#b2dd2d,#dae319,#efe51c,#bade28,#95d840,#86d549,#8ed645,#b0dd2f,#e5e419,#dae319,#a0da39,#7ad151,#6ece58,#7ad151,#a0da39,#dde318,#dae319,#9dd93b,#7cd250,#73d056,#7fd34e,#98d83e,#a0da39,#89d548,#75d054,#7ad151,#9bd93c,#8bd646,#38b977,#20928c,#2c738e,#355f8d,#3a538b,#3c4f8a,#3d4e8a,#3f4889,#453882,#482576,#481769,#470e61,#460b5e,#460b5e,#470e61,#481467,#481a6c,#481b6d,#481a6c,#481769,#481769,#481d6f,#472d7b,#3f4889,#306a8e,#277e8e,#29798e,#2d708e,#2d708e,#29798e,#277e8e,#306a8e,#3f4889,#472d7b,#481d6f,#481769,#481769,#481a6c,#481b6d,#481a6c,#481467,#470e61,#460b5e,#460b5e,#470e61,#481769,#482576,#453882,#3f4889,#3d4e8a,#3c4f8a,#3a538b,#355f8d,#2c738e,#20928c,#38b977,#8bd646,#9bd93c,#7ad151,#75d054,#89d548,#a0da39,#98d83e,#7fd34e,#73d056,#7cd250,#9dd93b,#dae319,#dde318,#a0da39,#7ad151,#6ece58,#7ad151,#a0da39,#dae319,#e5e419,#b0dd2f,#8ed645,#86d549,#95d840,#bade28,#efe51c,#dae319,#b2dd2d,#9bd93c,#98d83e,#addc30,#d0e11c,#fde725,#d5e21a,#b2dd2d,#a5db36,#a8db34,#bddf26,#e2e418)"></i>
<i style="top:195.31px;height:2.69px;border-color:#e2e418;border-right-color:#e2e418;background-image:linear-gradient(90deg,#e2e418,#bddf26,#a8db34,#a5db36,#b2dd2d,#d5e21a,#fde725,#d0e11c,#addc30,#98d83e,#9bd93c,#b2dd2d,#dae319,#efe51c,#bade28,#95d840,#86d549,#90d743,#b0dd2f,#e5e419,#dae319,#a0da39,#7cd250,#70cf57,#7cd250,#a2da37,#dfe318,#d5e21a,#9bd93c,#77d153,#6ece58,#7cd250,#9bd93c,#aadc32,#95d840,#81d34d,#86d549,#addc30,#a5db36,#46c06f,#1f9a8a,#297a8e,#31668e,#375b8d,#39568c,#39558c,#3d4e8a,#433d84,#482878,#48186a,#471063,#460b5e,#470d60,#471063,#481467,#48186a,#48186a,#481668,#471365,#471365,#48186a,#482677,#424186,#31678e,#24868e,#238a8d,#26828e,#26828e,#238a8d,#24868e,#31678e,#424186,#482677,#48186a,#471365,#471365,#481668,#48186a,#48186a,#481467,#471063,#470d60,#460b5e,#471063,#48186a,#482878,#433d84,#3d4e8a,#39558c,#39568c,#375b8d,#31668e,#297a8e,#1f9a8a,#46c06f,#a5db36,#addc30,#86d549,#81d34d,#95d840,#aadc32,#9bd93c,#7cd250,#6ece58,#77d153,#9bd93c,#d5e21a,#dfe318,#a2da37,#7cd250,#70cf57,#7cd250,#a0da39,#dae319,#e5e419,#b0dd2f,#90d743,#86d549,#95d840,#bade28,#efe51c,#dae319,#b2dd2d,#9bd93c,#98d83e,#addc30,#d0e11c,#fde725,#d5e21a,#b2dd2d,#a5db36,#a8db34,#bddf26,#e2e418)"></i>
<i style="top:197.31px;height:2.69px;border-color:#e2e418;border-right-color:#e2e418;background-image:linear-gradient(90deg,#e2e418,#bddf26,#a8db34,#a5db36,#b2dd2d,#d5e21a,#fde725,#d0e11c,#addc30,#98d83e,#9bd93c,#b0dd2f,#dae319,#efe51c,#bade28,#98d83e,#89d548,#90d743,#b0dd2f,#e5e419,#dae319,#a0da39,#7cd250,#70cf57,#7cd250,#a5db36,#e2e418,#d2e21b,#95d840,#73d056,#69cd5b,#7ad151,#9dd93b,#b5de2b,#a2da37,#8bd646,#8ed645,#bade28,#c0df25,#56c667,#1fa188,#26818e,#2e6d8e,#33628d,#355f8d,#355e8d,#39558c,#424186,#472a7a,#481a6c,#471164,#470d60,#470d60,#471063,#481668,#48186a,#481769,#471365,#471063,#471063,#481467,#482173,#443b84,#32648e,#228d8d,#1e9d89,#1f988b,#1f988b,#1e9d89,#228d8d,#32648e,#443b84,#482173,#481467,#471063,#471063,#471365,#481769,#48186a,#481668,#471063,#470d60,#470d60,#471164,#481a6c,#472a7a,#424186,#39558c,#355e8d,#355f8d,#33628d,#2e6d8e,#26818e,#1fa188,#56c667,#c0df25,#bade28,#8ed645,#8bd646,#a2da37,#b5de2b,#9dd93b,#7ad151,#69cd5b,#73d056,#95d840,#d2e21b,#e2e418,#a5db36,#7cd250,#70cf57,#7cd250,#a0da39,#dae319,#e5e419,#b0dd2f,#90d743,#89d548,#98d83e,#bade28,#efe51c,#dae319,#b0dd2f,#9bd93c,#98d83e,#addc30,#d0e11c,#fde725,#d5e21a,#b2dd2d,#a5db36,#a8db34,#bddf26,#e2e418)"></i>
<i style="top:199.30px;height:2.69px;border-color:#e2e418;border-right-color:#e2e418;background-image:linear-gradient(90deg,#e2e418,#bddf26,#a8db34,#a5db36,#b2dd2d,#d5e21a,#fde725,#d0e11c,#addc30,#98d83e,#9bd93c,#b0dd2f,#dae319,#efe51c,#bddf26,#98d83e,#89d548,#90d743,#b0dd2f,#e5e419,#dae319,#a0da39,#7cd250,#70cf57,#7fd34e,#a5db36,#e5e419,#d0e11c,#93d741,#70cf57,#67cc5c,#77d153,#9dd93b,#c0df25,#addc30,#90d743,#93d741,#bddf26,#d8e219,#65cb5e,#22a785,#24878e,#2c738e,#306a8e,#31678e,#31668e,#365d8d,#404688,#472e7c,#481c6e,#471365,#470e61,#470e61,#471164,#481668,#481769,#481467,#471063,#470d60,#470d60,#471164,#481d6f,#453781,#34608d,#20928c,#2db27d,#2db27d,#2db27d,#2db27d,#20928c,#34608d,#453781,#481d6f,#471164,#470d60,#470d60,#471063,#481467,#481769,#481668,#471164,#470e61,#470e61,#471365,#481c6e,#472e7c,#404688,#365d8d,#31668e,#31678e,#306a8e,#2c738e,#24878e,#22a785,#65cb5e,#d8e219,#bddf26,#93d741,#90d743,#addc30,#c0df25,#9dd93b,#77d153,#67cc5c,#70cf57,#93d741,#d0e11c,#e5e419,#a5db36,#7fd34e,#70cf57,#7cd250,#a0da39,#dae319,#e5e419,#b0dd2f,#90d743,#89d548,#98d83e,#bddf26,#efe51c,#dae319,#b0dd2f,#9bd93c,#98d83e,#addc30,#d0e11c,#fde725,#d5e21a,#b2dd2d,#a5db36,#a8db34,#bddf26,#e2e418)"></i>
<i style="top:201.29px;height:2.69px;border-color:#e2e418;border-right-color:#e2e418;background-image:linear-gradient(90deg,#e2e418,#bddf26,#a8db34,#a5db36,#b2dd2d,#d5e21a,#fde725,#d0e11c,#addc30,#98d83e,#9bd93c,#b0dd2f,#dae319,#efe51c,#bddf26,#98d83e,#89d548,#90d743,#b0dd2f,#e5e419,#dae319,#a0da39,#7cd250,#70cf57,#7fd34e,#a8db34,#e7e419,#cde11d,#90d743,#6ccd5a,#65cb5e,#77d153,#a0da39,#c8e020,#b5de2b,#93d741,#90d743,#bade28,#ece51b,#75d054,#27ad81,#218f8d,#297b8e,#2c718e,#2d708e,#2e6f8e,#32648e,#3e4c8a,#46327e,#481f70,#481467,#471063,#471063,#471365,#481769,#481769,#471365,#470d60,#460a5d,#460a5d,#470e61,#481a6c,#46327e,#365c8d,#20928c,#4ec36b,#6ccd5a,#6ccd5a,#4ec36b,#20928c,#365c8d,#46327e,#481a6c,#470e61,#460a5d,#460a5d,#470d60,#471365,#481769,#481769,#471365,#471063,#471063,#481467,#481f70,#46327e,#3e4c8a,#32648e,#2e6f8e,#2d708e,#2c718e,#297b8e,#218f8d,#27ad81,#75d054,#ece51b,#bade28,#90d743,#93d741,#b5de2b,#c8e020,#a0da39,#77d153,#65cb5e,#6ccd5a,#90d743,#cde11d,#e7e419,#a8db34,#7fd34e,#70cf57,#7cd250,#a0da39,#dae319,#e5e419,#b0dd2f,#90d743,#89d548,#98d83e,#bddf26,#efe51c,#dae319,#b0dd2f,#9bd93c,#98d83e,#addc30,#d0e11c,#fde725,#d5e21a,#b2dd2d,#a5db36,#a8db34,#bddf26,#e2e418)"></i>
<i style="top:203.29px;height:2.69px;border-color:#e2e418;border-right-color:#e2e418;background-image:linear-gradient(90deg,#e2e418,#bddf26,#a8db34,#a5db36,#b2dd2d,#d5e21a,#fde725,#d0e11c,#addc30,#98d83e,#9bd93c,#b0dd2f,#dae319,#efe51c,#bddf26,#98d83e,#89d548,#90d743,#b0dd2f,#e5e419,#dae319,#a0da39,#7cd250,#73d056,#7fd34e,#aadc32,#eae51a,#cae11f,#8ed645,#6ccd5a,#63cb5f,#75d054,#a0da39,#d2e21b,#bade28,#93d741,#8ed645,#b0dd2f,#efe51c,#86d549,#2fb47c,#1f958b,#26828e,#29798e,#2a788e,#2a788e,#2f6c8e,#3b518b,#453581,#482173,#481769,#471365,#471365,#481668,#48186a,#481769,#471164,#460b5e,#46085c,#46085c,#460b5e,#481769,#472d7b,#39568c,#218f8d,#60ca60,#cae11f,#cae11f,#60ca60,#218f8d,#39568c,#472d7b,#481769,#460b5e,#46085c,#46085c,#460b5e,#471164,#481769,#48186a,#481668,#471365,#471365,#481769,#482173,#453581,#3b518b,#2f6c8e,#2a788e,#2a788e,#29798e,#26828e,#1f958b,#2fb47c,#86d549,#efe51c,#b0dd2f,#8ed645,#93d741,#bade28,#d2e21b,#a0da39,#75d054,#63cb5f,#6ccd5a,#8ed645,#cae11f,#eae51a,#aadc32,#7fd34e,#73d056,#7cd250,#a0da39,#dae319,#e5e419,#b0dd2f,#90d743,#89d548,#98d83e,#bddf26,#efe51c,#dae319,#b0dd2f,#9bd93c,#98d83e,#addc30,#d0e11c,#fde725,#d5e21a,#b2dd2d,#a5db36,#a8db34,#bddf26,#e2e418)"></i>
<i style="top:205.28px;height:2.69px;border-color:#e2e418;border-right-color:#e2e418;background-image:linear-gradient(90deg,#e2e418,#bddf26,#a8db34,#a5db36,#b2dd2d,#d5e21a,#fde725,#d0e11c,#addc30,#98d83e,#9bd93c,#b0dd2f,#dae319,#efe51c,#bddf26,#98d83e,#89d548,#90d743,#b0dd2f,#e5e419,#dae319,#a2da37,#7fd34e,#73d056,#81d34d,#aadc32,#ece51b,#c8e020,#8bd646,#69cd5b,#63cb5f,#75d054,#a2da37,#dae319,#bddf26,#93d741,#86d549,#a2da37,#dfe318,#95d840,#3aba76,#1e9d89,#23898e,#26828e,#26828e,#26828e,#2c738e,#38588c,#443983,#482475,#481a6c,#481467,#481467,#481769,#481a6c,#481769,#471063,#460a5d,#46075a,#46075a,#460a5d,#481467,#482979,#3b518b,#24878e,#4ac16d,#9dd93b,#9dd93b,#4ac16d,#24878e,#3b518b,#482979,#481467,#460a5d,#46075a,#46075a,#460a5d,#471063,#481769,#481a6c,#481769,#481467,#481467,#481a6c,#482475,#443983,#38588c,#2c738e,#26828e,#26828e,#26828e,#23898e,#1e9d89,#3aba76,#95d840,#dfe318,#a2da37,#86d549,#93d741,#bddf26,#dae319,#a2da37,#75d054,#63cb5f,#69cd5b,#8bd646,#c8e020,#ece51b,#aadc32,#81d34d,#73d056,#7fd34e,#a2da37,#dae319,#e5e419,#b0dd2f,#90d743,#89d548,#98d83e,#bddf26,#efe51c,#dae319,#b0dd2f,#9bd93c,#98d83e,#addc30,#d0e11c,#fde725,#d5e21a,#b2dd2d,#a5db36,#a8db34,#bddf26,#e2e418)"></i>
<i style="top:207.27px;height:2.69px;border-color:#e2e418;border-right-color:#e2e418;background-image:linear-gradient(90deg,#e2e418,#bddf26,#a8db34,#a5db36,#b2dd2d,#d5e21a,#fde725,#d0e11c,#addc30,#98d83e,#9bd93c,#b0dd2f,#dae319,#efe51c,#bddf26,#98d83e,#89d548,#90d743,#b0dd2f,#e5e419,#dae319,#a2da37,#7fd34e,#73d056,#81d34d,#aadc32,#ece51b,#c5e021,#89d548,#67cc5c,#60ca60,#75d054,#a5db36,#dfe318,#bddf26,#8ed645,#7fd34e,#95d840,#d0e11c,#a2da37,#46c06f,#20a386,#21918c,#23898e,#228b8d,#228c8d,#287c8e,#355e8d,#433e85,#482878,#481c6e,#481769,#481769,#481a6c,#481b6d,#481769,#471063,#460a5d,#46075a,#450559,#46085c,#471164,#482576,#3e4c8a,#277e8e,#26ad81,#44bf70,#44bf70,#26ad81,#277e8e,#3e4c8a,#482576,#471164,#46085c,#450559,#46075a,#460a5d,#471063,#481769,#481b6d,#481a6c,#481769,#481769,#481c6e,#482878,#433e85,#355e8d,#287c8e,#228c8d,#228b8d,#23898e,#21918c,#20a386,#46c06f,#a2da37,#d0e11c,#95d840,#7fd34e,#8ed645,#bddf26,#dfe318,#a5db36,#75d054,#60ca60,#67cc5c,#89d548,#c5e021,#ece51b,#aadc32,#81d34d,#73d056,#7fd34e,#a2da37,#dae319,#e5e419,#b0dd2f,#90d743,#89d548,#98d83e,#bddf26,#efe51c,#dae319,#b0dd2f,#9bd93c,#98d83e,#addc30,#d0e11c,#fde725,#d5e21a,#b2dd2d,#a5db36,#a8db34,#bddf26,#e2e418)"></i>
<i style="top:209.26px;height:2.69px;border-color:#e2e418;border-right-color:#e2e418;background-image:linear-gradient(90deg,#e2e418,#bddf26,#a8db34,#a5db36,#b2dd2d,#d5e21a,#fde725,#d0e11c,#addc30,#98d83e,#9bd93c,#b0dd2f,#dae319,#efe51c,#bddf26,#98d83e,#89d548,#90d743,#b0dd2f,#e5e419,#dae319,#a2da37,#7fd34e,#73d056,#81d34d,#addc30,#efe51c,#c5e021,#89d548,#67cc5c,#60ca60,#75d054,#a5db36,#e7e419,#bddf26,#8bd646,#77d153,#8bd646,#c0df25,#addc30,#54c568,#24aa83,#1f988b,#20928c,#1f948c,#1f968b,#25848e,#32648e,#414287,#472c7a,#481f70,#481b6d,#481b6d,#481d6f,#481d6f,#481769,#470e61,#46085c,#450559,#450559,#46085c,#471063,#482374,#404688,#2c728e,#1f948c,#1f9f88,#1f9f88,#1f948c,#2c728e,#404688,#482374,#471063,#46085c,#450559,#450559,#46085c,#470e61,#481769,#481d6f,#481d6f,#481b6d,#481b6d,#481f70,#472c7a,#414287,#32648e,#25848e,#1f968b,#1f948c,#20928c,#1f988b,#24aa83,#54c568,#addc30,#c0df25,#8bd646,#77d153,#8bd646,#bddf26,#e7e419,#a5db36,#75d054,#60ca60,#67cc5c,#89d548,#c5e021,#efe51c,#addc30,#81d34d,#73d056,#7fd34e,#a2da37,#dae319,#e5e419,#b0dd2f,#90d743,#89d548,#98d83e,#bddf26,#efe51c,#dae319,#b0dd2f,#9bd93c,#98d83e,#addc30,#d0e11c,#fde725,#d5e21a,#b2dd2d,#a5db36,#a8db34,#bddf26,#e2e418)"></i>
<i style="top:211.26px;height:2.69px;border-color:#e2e418;border-right-color:#e2e418;background-image:linear-gradient(90deg,#e2e418,#bddf26,#a8db34,#a5db36,#b2dd2d,#d5e21a,#fde725,#d0e11c,#addc30,#98d83e,#9bd93c,#b0dd2f,#dae319,#efe51c,#bddf26,#98d83e,#89d548,#90d743,#b0dd2f,#e5e419,#dae319,#a2da37,#7fd34e,#73d056,#84d44b,#addc30,#efe51c,#c2df23,#86d549,#65cb5e,#60ca60,#75d054,#a8db34,#ece51b,#bade28,#86d549,#70cf57,#7fd34e,#b0dd2f,#b5de2b,#60ca60,#2ab07f,#1f9f88,#1f998a,#1f9e89,#1fa188,#228d8d,#306a8e,#3f4889,#46307e,#482374,#481d6f,#481f70,#482071,#481f70,#48186a,#470e61,#46085c,#450559,#450559,#46075a,#470e61,#482071,#424086,#31668e,#277e8e,#26828e,#26828e,#277e8e,#31668e,#424086,#482071,#470e61,#46075a,#450559,#450559,#46085c,#470e61,#48186a,#481f70,#482071,#481f70,#481d6f,#482374,#46307e,#3f4889,#306a8e,#228d8d,#1fa188,#1f9e89,#1f998a,#1f9f88,#2ab07f,#60ca60,#b5de2b,#b0dd2f,#7fd34e,#70cf57,#86d549,#bade28,#ece51b,#a8db34,#75d054,#60ca60,#65cb5e,#86d549,#c2df23,#efe51c,#addc30,#84d44b,#73d056,#7fd34e,#a2da37,#dae319,#e5e419,#b0dd2f,#90d743,#89d548,#98d83e,#bddf26,#efe51c,#dae319,#b0dd2f,#9bd93c,#98d83e,#addc30,#d0e11c,#fde725,#d5e21a,#b2dd2d,#a5db36,#a8db34,#bddf26,#e2e418)"></i>
<i style="top:213.25px;height:2.69px;border-color:#e2e418;border-right-color:#e2e418;background-image:linear-gradient(90deg,#e2e418,#bddf26,#a8db34,#a5db36,#b2dd2d,#d5e21a,#fde725,#d0e11c,#addc30,#98d83e,#9bd93c,#b0dd2f,#dae319,#efe51c,#bddf26,#98d83e,#89d548,#90d743,#b0dd2f,#e5e419,#dae319,#a2da37,#7fd34e,#75d054,#84d44b,#addc30,#f1e51d,#c2df23,#86d549,#65cb5e,#5ec962,#75d054,#a8db34,#f1e51d,#b8de29,#81d34d,#6ccd5a,#77d153,#a5db36,#bddf26,#70cf57,#34b679,#21a585,#1fa188,#22a785,#25ac82,#1f968b,#2d718e,#3d4e8a,#463480,#482878,#482374,#482374,#482576,#482173,#48186a,#470e61,#46075a,#450457,#450457,#46075a,#470d60,#481d6f,#443a83,#375a8c,#30698e,#2f6b8e,#2f6b8e,#30698e,#375a8c,#443a83,#481d6f,#470d60,#46075a,#450457,#450457,#46075a,#470e61,#48186a,#482173,#482576,#482374,#482374,#482878,#463480,#3d4e8a,#2d718e,#1f968b,#25ac82,#22a785,#1fa188,#21a585,#34b679,#70cf57,#bddf26,#a5db36,#77d153,#6ccd5a,#81d34d,#b8de29,#f1e51d,#a8db34,#75d054,#5ec962,#65cb5e,#86d549,#c2df23,#f1e51d,#addc30,#84d44b,#75d054,#7fd34e,#a2da37,#dae319,#e5e419,#b0dd2f,#90d743,#89d548,#98d83e,#bddf26,#efe51c,#dae319,#b0dd2f,#9bd93c,#98d83e,#addc30,#d0e11c,#fde725,#d5e21a,#b2dd2d,#a5db36,#a8db34,#bddf26,#e2e418)"></i>
<i style="top:215.24px;height:2.69px;border-color:#e2e418;border-right-color:#e2e418;background-image:linear-gradient(90deg,#e2e418,#bddf26,#a8db34,#a5db36,#b2dd2d,#d5e21a,#fde725,#d0e11c,#addc30,#98d83e,#9bd93c,#b0dd2f,#dae319,#efe51c,#bddf26,#98d83e,#89d548,#90d743,#b0dd2f,#e5e419,#dae319,#a2da37,#7fd34e,#75d054,#84d44b,#b0dd2f,#f1e51d,#c2df23,#86d549,#65cb5e,#5ec962,#75d054,#aadc32,#f4e61e,#b5de2b,#7cd250,#65cb5e,#6ece58,#9bd93c,#c2df23,#7cd250,#3dbc74,#25ab82,#22a785,#29af7f,#32b67a,#1fa088,#2a778e,#3a538b,#443a83,#472c7a,#482677,#482878,#482979,#482576,#481a6c,#470e61,#46075a,#450457,#450457,#450559,#470d60,#481c6e,#463480,#3d4d8a,#39568c,#39558c,#39558c,#39568c,#3d4d8a,#463480,#481c6e,#470d60,#450559,#450457,#450457,#46075a,#470e61,#481a6c,#482576,#482979,#482878,#482677,#472c7a,#443a83,#3a538b,#2a778e,#1fa088,#32b67a,#29af7f,#22a785,#25ab82,#3dbc74,#7cd250,#c2df23,#9bd93c,#6ece58,#65cb5e,#7cd250,#b5de2b,#f4e61e,#aadc32,#75d054,#5ec962,#65cb5e,#86d549,#c2df23,#f1e51d,#b0dd2f,#84d44b,#75d054,#7fd34e,#a2da37,#dae319,#e5e419,#b0dd2f,#90d743,#89d548,#98d83e,#bddf26,#efe51c,#dae319,#b0dd2f,#9bd93c,#98d83e,#addc30,#d0e11c,#fde725,#d5e21a,#b2dd2d,#a5db36,#a8db34,#bddf26,#e2e418)"></i>
<i style="top:217.24px;height:2.69px;border-color:#e2e418;border-right-color:#e2e418;background-image:linear-gradient(90deg,#e2e418,#bddf26,#a8db34,#a5db36,#b2dd2d,#d5e21a,#fde725,#d0e11c,#addc30,#98d83e,#9bd93c,#b0dd2f,#dae319,#efe51c,#bddf26,#98d83e,#89d548,#90d743,#b0dd2f,#e5e419,#dae319,#a2da37,#7fd34e,#75d054,#84d44b,#b0dd2f,#f1e51d,#c2df23,#84d44b,#65cb5e,#5ec962,#75d054,#aadc32,#f8e621,#b2dd2d,#77d153,#60ca60,#67cc5c,#90d743,#c5e021,#8bd646,#48c16e,#2ab07f,#27ad81,#34b679,#46c06f,#23a983,#277e8e,#375a8c,#423f85,#46327e,#472d7b,#472e7c,#472e7c,#482878,#481b6d,#470e61,#46075a,#450457,#450457,#450559,#470d60,#481b6d,#472f7d,#424186,#404588,#414287,#414287,#404588,#424186,#472f7d,#481b6d,#470d60,#450559,#450457,#450457,#46075a,#470e61,#481b6d,#482878,#472e7c,#472e7c,#472d7b,#46327e,#423f85,#375a8c,#277e8e,#23a983,#46c06f,#34b679,#27ad81,#2ab07f,#48c16e,#8bd646,#c5e021,#90d743,#67cc5c,#60ca60,#77d153,#b2dd2d,#f8e621,#aadc32,#75d054,#5ec962,#65cb5e,#84d44b,#c2df23,#f1e51d,#b0dd2f,#84d44b,#75d054,#7fd34e,#a2da37,#dae319,#e5e419,#b0dd2f,#90d743,#89d548,#98d83e,#bddf26,#efe51c,#dae319,#b0dd2f,#9bd93c,#98d83e,#addc30,#d0e11c,#fde725,#d5e21a,#b2dd2d,#a5db36,#a8db34,#bddf26,#e2e418)"></i>
<i style="top:219.23px;height:2.69px;border-color:#e2e418;border-right-color:#e2e418;background-image:linear-gradient(90deg,#e2e418,#bddf26,#a8db34,#a5db36,#b2dd2d,#d5e21a,#fde725,#d0e11c,#addc30,#98d83e,#9bd93c,#b0dd2f,#dae319,#efe51c,#bddf26,#98d83e,#89d548,#90d743,#b0dd2f,#e5e419,#dae319,#a2da37,#7fd34e,#75d054,#84d44b,#b0dd2f,#f1e51d,#c0df25,#84d44b,#65cb5e,#5ec962,#75d054,#addc30,#fbe723,#addc30,#73d056,#5ac864,#60ca60,#89d548,#c5e021,#98d83e,#52c569,#31b57b,#2db27d,#40bd72,#5cc863,#2db27d,#25858e,#355f8d,#404588,#453781,#46337f,#463480,#463480,#472c7a,#481c6e,#470e61,#46075a,#450457,#450457,#450559,#460b5e,#48186a,#472a7a,#453781,#453781,#46337f,#46337f,#453781,#453781,#472a7a,#48186a,#460b5e,#450559,#450457,#450457,#46075a,#470e61,#481c6e,#472c7a,#463480,#463480,#46337f,#453781,#404588,#355f8d,#25858e,#2db27d,#5cc863,#40bd72,#2db27d,#31b57b,#52c569,#98d83e,#c5e021,#89d548,#60ca60,#5ac864,#73d056,#addc30,#fbe723,#addc30,#75d054,#5ec962,#65cb5e,#84d44b,#c0df25,#f1e51d,#b0dd2f,#84d44b,#75d054,#7fd34e,#a2da37,#dae319,#e5e419,#b0dd2f,#90d743,#89d548,#98d83e,#bddf26,#efe51c,#dae319,#b0dd2f,#9bd93c,#98d83e,#addc30,#d0e11c,#fde725,#d5e21a,#b2dd2d,#a5db36,#a8db34,#bddf26,#e2e418)"></i>
<i style="top:221.22px;height:2.69px;border-color:#e2e418;border-right-color:#e2e418;background-image:linear-gradient(90deg,#e2e418,#bddf26,#a8db34,#a5db36,#b2dd2d,#d5e21a,#fde725,#d0e11c,#addc30,#98d83e,#9bd93c,#b0dd2f,#dae319,#efe51c,#bddf26,#98d83e,#89d548,#90d743,#b0dd2f,#e5e419,#dae319,#a2da37,#7fd34e,#75d054,#84d44b,#b0dd2f,#f4e61e,#c0df25,#84d44b,#65cb5e,#5ec962,#75d054,#addc30,#fde725,#aadc32,#70cf57,#58c765,#5cc863,#84d44b,#c5e021,#a5db36,#5ac864,#38b977,#34b679,#4cc26c,#75d054,#3bbb75,#228c8d,#31668e,#3e4c8a,#433e85,#443983,#443b84,#443b84,#46307e,#481d6f,#470e61,#46075a,#450457,#450457,#450559,#460b5e,#48186a,#482576,#472d7b,#472a7a,#482576,#482576,#472a7a,#472d7b,#482576,#48186a,#460b5e,#450559,#450457,#450457,#46075a,#470e61,#481d6f,#46307e,#443b84,#443b84,#443983,#433e85,#3e4c8a,#31668e,#228c8d,#3bbb75,#75d054,#4cc26c,#34b679,#38b977,#5ac864,#a5db36,#c5e021,#84d44b,#5cc863,#58c765,#70cf57,#aadc32,#fde725,#addc30,#75d054,#5ec962,#65cb5e,#84d44b,#c0df25,#f4e61e,#b0dd2f,#84d44b,#75d054,#7fd34e,#a2da37,#dae319,#e5e419,#b0dd2f,#90d743,#89d548,#98d83e,#bddf26,#efe51c,#dae319,#b0dd2f,#9bd93c,#98d83e,#addc30,#d0e11c,#fde725,#d5e21a,#b2dd2d,#a5db36,#a8db34,#bddf26,#e2e418)"></i>
<i style="top:223.21px;height:2.69px;border-color:#e2e418;border-right-color:#e2e418;background-image:linear-gradient(90deg,#e2e418,#bddf26,#a8db34,#a5db36,#b2dd2d,#d5e21a,#fde725,#d0e11c,#addc30,#98d83e,#9bd93c,#b0dd2f,#dae319,#efe51c,#bddf26,#98d83e,#89d548,#90d743,#b0dd2f,#e5e419,#dae319,#a2da37,#7fd34e,#75d054,#84d44b,#b0dd2f,#f4e61e,#c0df25,#84d44b,#65cb5e,#5ec962,#77d153,#addc30,#fde725,#a8db34,#6ccd5a,#54c568,#58c765,#7fd34e,#c2df23,#b0dd2f,#63cb5f,#3dbc74,#38b977,#54c568,#8bd646,#4ec36b,#20938c,#2f6c8e,#3b528b,#414487,#424186,#414487,#414287,#463480,#482071,#471063,#46075a,#450457,#450457,#450559,#460b5e,#481769,#482173,#482475,#482071,#481b6d,#481b6d,#482071,#482475,#482173,#481769,#460b5e,#450559,#450457,#450457,#46075a,#471063,#482071,#463480,#414287,#414487,#424186,#414487,#3b528b,#2f6c8e,#20938c,#4ec36b,#8bd646,#54c568,#38b977,#3dbc74,#63cb5f,#b0dd2f,#c2df23,#7fd34e,#58c765,#54c568,#6ccd5a,#a8db34,#fde725,#addc30,#77d153,#5ec962,#65cb5e,#84d44b,#c0df25,#f4e61e,#b0dd2f,#84d44b,#75d054,#7fd34e,#a2da37,#dae319,#e5e419,#b0dd2f,#90d743,#89d548,#98d83e,#bddf26,#efe51c,#dae319,#b0dd2f,#9bd93c,#98d83e,#addc30,#d0e11c,#fde725,#d5e21a,#b2dd2d,#a5db36,#a8db34,#bddf26,#e2e418)"></i>
<i style="top:225.21px;height:2.69px;border-color:#e2e418;border-right-color:#e2e418;background-image:linear-gradient(90deg,#e2e418,#bddf26,#a8db34,#a5db36,#b2dd2d,#d5e21a,#fde725,#d0e11c,#addc30,#98d83e,#9bd93c,#b0dd2f,#dae319,#efe51c,#bddf26,#98d83e,#89d548,#90d743,#b0dd2f,#e5e419,#dae319,#a2da37,#7fd34e,#75d054,#84d44b,#b0dd2f,#f4e61e,#c0df25,#84d44b,#65cb5e,#60ca60,#77d153,#b0dd2f,#fbe723,#a5db36,#69cd5b,#52c569,#56c667,#7ad151,#c2df23,#b8de29,#69cd5b,#40bd72,#3bbb75,#5ac864,#a0da39,#60ca60,#1e9b8a,#2c728e,#38598c,#3e4c8a,#3f4889,#3e4c8a,#3e4a89,#443983,#482173,#471063,#46085c,#450559,#450457,#46075a,#470d60,#481668,#481d6f,#481d6f,#48186a,#481467,#481467,#48186a,#481d6f,#481d6f,#481668,#470d60,#46075a,#450457,#450559,#46085c,#471063,#482173,#443983,#3e4a89,#3e4c8a,#3f4889,#3e4c8a,#38598c,#2c728e,#1e9b8a,#60ca60,#a0da39,#5ac864,#3bbb75,#40bd72,#69cd5b,#b8de29,#c2df23,#7ad151,#56c667,#52c569,#69cd5b,#a5db36,#fbe723,#b0dd2f,#77d153,#60ca60,#65cb5e,#84d44b,#c0df25,#f4e61e,#b0dd2f,#84d44b,#75d054,#7fd34e,#a2da37,#dae319,#e5e419,#b0dd2f,#90d743,#89d548,#98d83e,#bddf26,#efe51c,#dae319,#b0dd2f,#9bd93c,#98d83e,#addc30,#d0e11c,#fde725,#d5e21a,#b2dd2d,#a5db36,#a8db34,#bddf26,#e2e418)"></i>
<i style="top:227.20px;height:2.69px;border-color:#e2e418;border-right-color:#e2e418;background-image:linear-gradient(90deg,#e2e418,#bddf26,#a8db34,#a5db36,#b2dd2d,#d5e21a,#fde725,#d0e11c,#addc30,#98d83e,#9bd93c,#b0dd2f,#dae319,#efe51c,#bddf26,#98d83e,#89d548,#90d743,#b0dd2f,#e5e419,#dae319,#a2da37,#7fd34e,#75d054,#84d44b,#b0dd2f,#f4e61e,#c0df25,#84d44b,#65cb5e,#60ca60,#77d153,#b0dd2f,#f8e621,#a5db36,#67cc5c,#4ec36b,#52c569,#75d054,#c0df25,#c2df23,#6ece58,#44bf70,#3dbc74,#5cc863,#addc30,#77d153,#1fa187,#29798e,#34608d,#3a538b,#3b518b,#39558c,#3b528b,#423f85,#482475,#471164,#46085c,#450559,#450559,#46075a,#470d60,#481668,#481b6d,#481769,#471164,#470d60,#470d60,#471164,#481769,#481b6d,#481668,#470d60,#46075a,#450559,#450559,#46085c,#471164,#482475,#423f85,#3b528b,#39558c,#3b518b,#3a538b,#34608d,#29798e,#1fa187,#77d153,#addc30,#5cc863,#3dbc74,#44bf70,#6ece58,#c2df23,#c0df25,#75d054,#52c569,#4ec36b,#67cc5c,#a5db36,#f8e621,#b0dd2f,#77d153,#60ca60,#65cb5e,#84d44b,#c0df25,#f4e61e,#b0dd2f,#84d44b,#75d054,#7fd34e,#a2da37,#dae319,#e5e419,#b0dd2f,#90d743,#89d548,#98d83e,#bddf26,#efe51c,#dae319,#b0dd2f,#9bd93c,#98d83e,#addc30,#d0e11c,#fde725,#d5e21a,#b2dd2d,#a5db36,#a8db34,#bddf26,#e2e418)"></i>
<i style="top:229.19px;height:2.69px;border-color:#e2e418;border-right-color:#e2e418;background-image:linear-gradient(90deg,#e2e418,#bddf26,#a8db34,#a5db36,#b2dd2d,#d5e21a,#fde725,#d0e11c,#addc30,#98d83e,#9bd93c,#b0dd2f,#dae319,#efe51c,#bddf26,#98d83e,#89d548,#90d743,#b0dd2f,#e5e419,#dae319,#a2da37,#7fd34e,#75d054,#84d44b,#b0dd2f,#f4e61e,#c0df25,#84d44b,#65cb5e,#60ca60,#77d153,#b0dd2f,#f8e621,#a2da37,#67cc5c,#4cc26c,#50c46a,#73d056,#bddf26,#c8e020,#73d056,#46c06f,#3dbc74,#5ac864,#b5de2b,#8ed645,#23a983,#27808e,#31678e,#375b8d,#375a8c,#355f8d,#365c8d,#404588,#482677,#471365,#460a5d,#450559,#450559,#46085c,#470e61,#481668,#481769,#471365,#460b5e,#46085c,#46085c,#460b5e,#471365,#481769,#481668,#470e61,#46085c,#450559,#450559,#460a5d,#471365,#482677,#404588,#365c8d,#355f8d,#375a8c,#375b8d,#31678e,#27808e,#23a983,#8ed645,#b5de2b,#5ac864,#3dbc74,#46c06f,#73d056,#c8e020,#bddf26,#73d056,#50c46a,#4cc26c,#67cc5c,#a2da37,#f8e621,#b0dd2f,#77d153,#60ca60,#65cb5e,#84d44b,#c0df25,#f4e61e,#b0dd2f,#84d44b,#75d054,#7fd34e,#a2da37,#dae319,#e5e419,#b0dd2f,#90d743,#89d548,#98d83e,#bddf26,#efe51c,#dae319,#b0dd2f,#9bd93c,#98d83e,#addc30,#d0e11c,#fde725,#d5e21a,#b2dd2d,#a5db36,#a8db34,#bddf26,#e2e418)"></i>
<i style="top:231.19px;height:2.69px;border-color:#e2e418;border-right-color:#e2e418;background-image:linear-gradient(90deg,#e2e418,#bddf26,#a8db34,#a5db36,#b2dd2d,#d5e21a,#fde725,#d0e11c,#addc30,#98d83e,#9bd93c,#b0dd2f,#dae319,#efe51c,#bddf26,#98d83e,#89d548,#90d743,#b0dd2f,#e5e419,#dae319,#a2da37,#7fd34e,#75d054,#84d44b,#b0dd2f,#f4e61e,#c0df25,#84d44b,#65cb5e,#60ca60,#77d153,#b2dd2d,#f6e620,#a0da39,#65cb5e,#4cc26c,#4ec36b,#70cf57,#bddf26,#cde11d,#75d054,#46c06f,#3bbb75,#58c765,#b0dd2f,#a2da37,#29af7f,#24868e,#2e6d8e,#33628d,#33638d,#30698e,#32658e,#3e4a89,#472a7a,#481467,#460a5d,#46075a,#46075a,#46085c,#470e61,#481467,#481467,#470e61,#46085c,#450559,#450559,#46085c,#470e61,#481467,#481467,#470e61,#46085c,#46075a,#46075a,#460a5d,#481467,#472a7a,#3e4a89,#32658e,#30698e,#33638d,#33628d,#2e6d8e,#24868e,#29af7f,#a2da37,#b0dd2f,#58c765,#3bbb75,#46c06f,#75d054,#cde11d,#bddf26,#70cf57,#4ec36b,#4cc26c,#65cb5e,#a0da39,#f6e620,#b2dd2d,#77d153,#60ca60,#65cb5e,#84d44b,#c0df25,#f4e61e,#b0dd2f,#84d44b,#75d054,#7fd34e,#a2da37,#dae319,#e5e419,#b0dd2f,#90d743,#89d548,#98d83e,#bddf26,#efe51c,#dae319,#b0dd2f,#9bd93c,#98d83e,#addc30,#d0e11c,#fde725,#d5e21a,#b2dd2d,#a5db36,#a8db34,#bddf26,#e2e418)"></i>
<i style="top:233.18px;height:2.69px;border-color:#e2e418;border-right-color:#e2e418;background-image:linear-gradient(90deg,#e2e418,#bddf26,#a8db34,#a5db36,#b2dd2d,#d5e21a,#fde725,#d0e11c,#addc30,#98d83e,#9bd93c,#b0dd2f,#dae319,#efe51c,#bddf26,#98d83e,#89d548,#90d743,#b0dd2f,#e5e419,#dae319,#a2da37,#7fd34e,#75d054,#84d44b,#b0dd2f,#f4e61e,#c0df25,#84d44b,#65cb5e,#60ca60,#77d153,#b2dd2d,#f6e620,#a0da39,#63cb5f,#4ac16d,#4ec36b,#70cf57,#bddf26,#d2e21b,#75d054,#44bf70,#3aba76,#52c569,#a8db34,#b8de29,#34b679,#228d8d,#2c738e,#306a8e,#2f6c8e,#2c738e,#2e6f8e,#3b518b,#472e7c,#481769,#460b5e,#46075a,#46075a,#460a5d,#471063,#481467,#471164,#460a5d,#450559,#450457,#450457,#450559,#460a5d,#471164,#481467,#471063,#460a5d,#46075a,#46075a,#460b5e,#481769,#472e7c,#3b518b,#2e6f8e,#2c738e,#2f6c8e,#306a8e,#2c738e,#228d8d,#34b679,#b8de29,#a8db34,#52c569,#3aba76,#44bf70,#75d054,#d2e21b,#bddf26,#70cf57,#4ec36b,#4ac16d,#63cb5f,#a0da39,#f6e620,#b2dd2d,#77d153,#60ca60,#65cb5e,#84d44b,#c0df25,#f4e61e,#b0dd2f,#84d44b,#75d054,#7fd34e,#a2da37,#dae319,#e5e419,#b0dd2f,#90d743,#89d548,#98d83e,#bddf26,#efe51c,#dae319,#b0dd2f,#9bd93c,#98d83e,#addc30,#d0e11c,#fde725,#d5e21a,#b2dd2d,#a5db36,#a8db34,#bddf26,#e2e418)"></i>
<i style="top:235.17px;height:2.69px;border-color:#e2e418;border-right-color:#e2e418;background-image:linear-gradient(90deg,#e2e418,#bddf26,#a8db34,#a5db36,#b2dd2d,#d5e21a,#fde725,#d0e11c,#addc30,#98d83e,#9bd93c,#b0dd2f,#dae319,#efe51c,#bddf26,#98d83e,#89d548,#90d743,#b0dd2f,#e5e419,#dae319,#a2da37,#7fd34e,#75d054,#84d44b,#b0dd2f,#f4e61e,#c0df25,#84d44b,#65cb5e,#60ca60,#77d153,#b2dd2d,#f6e620,#9dd93b,#63cb5f,#4ac16d,#4cc26c,#6ece58,#bade28,#d2e21b,#75d054,#44bf70,#38b977,#4ec36b,#9dd93b,#cae11f,#3dbc74,#20938c,#297a8e,#2d718e,#2b748e,#277f8e,#29798e,#38588c,#46327e,#481a6c,#470d60,#46085c,#46085c,#470d60,#471365,#481467,#471063,#46085c,#450457,#440256,#440256,#450457,#46085c,#471063,#481467,#471365,#470d60,#46085c,#46085c,#470d60,#481a6c,#46327e,#38588c,#29798e,#277f8e,#2b748e,#2d718e,#297a8e,#20938c,#3dbc74,#cae11f,#9dd93b,#4ec36b,#38b977,#44bf70,#75d054,#d2e21b,#bade28,#6ece58,#4cc26c,#4ac16d,#63cb5f,#9dd93b,#f6e620,#b2dd2d,#77d153,#60ca60,#65cb5e,#84d44b,#c0df25,#f4e61e,#b0dd2f,#84d44b,#75d054,#7fd34e,#a2da37,#dae319,#e5e419,#b0dd2f,#90d743,#89d548,#98d83e,#bddf26,#efe51c,#dae319,#b0dd2f,#9bd93c,#98d83e,#addc30,#d0e11c,#fde725,#d5e21a,#b2dd2d,#a5db36,#a8db34,#bddf26,#e2e418)"></i>
<i style="top:237.16px;height:2.69px;border-color:#e2e418;border-right-color:#e2e418;background-image:linear-gradient(90deg,#e2e418,#bddf26,#a8db34,#a5db36,#b2dd2d,#d5e21a,#fde725,#d0e11c,#addc30,#98d83e,#9bd93c,#b0dd2f,#dae319,#efe51c,#bddf26,#98d83e,#89d548,#90d743,#b0dd2f,#e5e419,#dae319,#a2da37,#7fd34e,#75d054,#84d44b,#b0dd2f,#f4e61e,#c0df25,#84d44b,#65cb5e,#60ca60,#77d153,#b2dd2d,#f6e620,#9dd93b,#63cb5f,#48c16e,#4cc26c,#6ece58,#bade28,#d5e21a,#75d054,#42be71,#35b779,#48c16e,#93d741,#dae319,#4ac16d,#1f998a,#26818e,#2a788e,#277e8e,#238a8d,#25838e,#355f8d,#453581,#481c6e,#471063,#460b5e,#460b5e,#470e61,#481467,#481467,#470d60,#450559,#440256,#440154,#440154,#440256,#450559,#470d60,#481467,#481467,#470e61,#460b5e,#460b5e,#471063,#481c6e,#453581,#355f8d,#25838e,#238a8d,#277e8e,#2a788e,#26818e,#1f998a,#4ac16d,#dae319,#93d741,#48c16e,#35b779,#42be71,#75d054,#d5e21a,#bade28,#6ece58,#4cc26c,#48c16e,#63cb5f,#9dd93b,#f6e620,#b2dd2d,#77d153,#60ca60,#65cb5e,#84d44b,#c0df25,#f4e61e,#b0dd2f,#84d44b,#75d054,#7fd34e,#a2da37,#dae319,#e5e419,#b0dd2f,#90d743,#89d548,#98d83e,#bddf26,#efe51c,#dae319,#b0dd2f,#9bd93c,#98d83e,#addc30,#d0e11c,#fde725,#d5e21a,#b2dd2d,#a5db36,#a8db34,#bddf26,#e2e418)"></i>
<i style="top:239.16px;height:2.69px;border-color:#e2e418;border-right-color:#e2e418;background-image:linear-gradient(90deg,#e2e418,#bddf26,#a8db34,#a5db36,#b2dd2d,#d5e21a,#fde725,#d0e11c,#addc30,#98d83e,#9bd93c,#b0dd2f,#dae319,#efe51c,#bddf26,#98d83e,#89d548,#90d743,#b0dd2f,#e5e419,#dae319,#a2da37,#7fd34e,#75d054,#84d44b,#b0dd2f,#f4e61e,#c0df25,#84d44b,#65cb5e,#60ca60,#77d153,#b2dd2d,#f4e61e,#9dd93b,#60ca60,#48c16e,#4ac16d,#6ccd5a,#bade28,#d5e21a,#75d054,#40bd72,#34b679,#44bf70,#86d549,#e7e419,#56c667,#1f9f88,#24868e,#277f8e,#24868e,#1f968b,#218f8d,#31668e,#443a83,#481f70,#471164,#470d60,#470d60,#471164,#481769,#481668,#460b5e,#450457,#440154,#440154,#440154,#440154,#450457,#460b5e,#481668,#481769,#471164,#470d60,#470d60,#471164,#481f70,#443a83,#31668e,#218f8d,#1f968b,#24868e,#277f8e,#24868e,#1f9f88,#56c667,#e7e419,#86d549,#44bf70,#34b679,#40bd72,#75d054,#d5e21a,#bade28,#6ccd5a,#4ac16d,#48c16e,#60ca60,#9dd93b,#f4e61e,#b2dd2d,#77d153,#60ca60,#65cb5e,#84d44b,#c0df25,#f4e61e,#b0dd2f,#84d44b,#75d054,#7fd34e,#a2da37,#dae319,#e5e419,#b0dd2f,#90d743,#89d548,#98d83e,#bddf26,#efe51c,#dae319,#b0dd2f,#9bd93c,#98d83e,#addc30,#d0e11c,#fde725,#d5e21a,#b2dd2d,#a5db36,#a8db34,#bddf26,#e2e418)"></i>
<i style="top:241.15px;height:2.69px;border-color:#e2e418;border-right-color:#e2e418;background-image:linear-gradient(90deg,#e2e418,#bddf26,#a8db34,#a5db36,#b2dd2d,#d5e21a,#fde725,#d0e11c,#addc30,#98d83e,#9bd93c,#b0dd2f,#dae319,#efe51c,#bddf26,#98d83e,#89d548,#90d743,#b0dd2f,#e5e419,#dae319,#a2da37,#7fd34e,#75d054,#84d44b,#b0dd2f,#f4e61e,#c0df25,#84d44b,#65cb5e,#60ca60,#77d153,#b2dd2d,#f4e61e,#9dd93b,#60ca60,#48c16e,#4ac16d,#6ccd5a,#bade28,#d5e21a,#73d056,#3fbc73,#31b57b,#3fbc73,#7fd34e,#efe51c,#63cb5f,#20a486,#228c8d,#25848e,#218e8d,#1fa187,#1f9a8a,#2e6d8e,#423f85,#482374,#481467,#471063,#471164,#481668,#481a6c,#481668,#460a5d,#450457,#440154,#440154,#440154,#440154,#450457,#460a5d,#481668,#481a6c,#481668,#471164,#471063,#481467,#482374,#423f85,#2e6d8e,#1f9a8a,#1fa187,#218e8d,#25848e,#228c8d,#20a486,#63cb5f,#efe51c,#7fd34e,#3fbc73,#31b57b,#3fbc73,#73d056,#d5e21a,#bade28,#6ccd5a,#4ac16d,#48c16e,#60ca60,#9dd93b,#f4e61e,#b2dd2d,#77d153,#60ca60,#65cb5e,#84d44b,#c0df25,#f4e61e,#b0dd2f,#84d44b,#75d054,#7fd34e,#a2da37,#dae319,#e5e419,#b0dd2f,#90d743,#89d548,#98d83e,#bddf26,#efe51c,#dae319,#b0dd2f,#9bd93c,#98d83e,#addc30,#d0e11c,#fde725,#d5e21a,#b2dd2d,#a5db36,#a8db34,#bddf26,#e2e418)"></i>
<i style="top:243.14px;height:2.69px;border-color:#e2e418;border-right-color:#e2e418;background-image:linear-gradient(90deg,#e2e418,#bddf26,#a8db34,#a5db36,#b2dd2d,#d5e21a,#fde725,#d0e11c,#addc30,#98d83e,#9bd93c,#b0dd2f,#dae319,#efe51c,#bddf26,#98d83e,#89d548,#90d743,#b0dd2f,#e5e419,#dae319,#a2da37,#7fd34e,#75d054,#84d44b,#b0dd2f,#f4e61e,#c0df25,#84d44b,#65cb5e,#60ca60,#77d153,#b2dd2d,#f4e61e,#9dd93b,#60ca60,#46c06f,#4ac16d,#6ccd5a,#bade28,#d5e21a,#70cf57,#3dbc74,#2fb47c,#3bbb75,#75d054,#efe51c,#6ece58,#23a983,#21918c,#23898e,#1f948c,#26ad81,#21a685,#2c738e,#404588,#482677,#48186a,#481467,#481668,#481b6d,#481d6f,#481668,#46085c,#440256,#440154,#440154,#440154,#440154,#440256,#46085c,#481668,#481d6f,#481b6d,#481668,#481467,#48186a,#482677,#404588,#2c738e,#21a685,#26ad81,#1f948c,#23898e,#21918c,#23a983,#6ece58,#efe51c,#75d054,#3bbb75,#2fb47c,#3dbc74,#70cf57,#d5e21a,#bade28,#6ccd5a,#4ac16d,#46c06f,#60ca60,#9dd93b,#f4e61e,#b2dd2d,#77d153,#60ca60,#65cb5e,#84d44b,#c0df25,#f4e61e,#b0dd2f,#84d44b,#75d054,#7fd34e,#a2da37,#dae319,#e5e419,#b0dd2f,#90d743,#89d548,#98d83e,#bddf26,#efe51c,#dae319,#b0dd2f,#9bd93c,#98d83e,#addc30,#d0e11c,#fde725,#d5e21a,#b2dd2d,#a5db36,#a8db34,#bddf26,#e2e418)"></i>
<i style="top:245.14px;height:2.69px;border-color:#e2e418;border-right-color:#e2e418;background-image:linear-gradient(90deg,#e2e418,#bddf26,#a8db34,#a5db36,#b2dd2d,#d5e21a,#fde725,#d0e11c,#addc30,#98d83e,#9bd93c,#b0dd2f,#dae319,#efe51c,#bddf26,#98d83e,#89d548,#90d743,#b0dd2f,#e5e419,#dae319,#a2da37,#7fd34e,#75d054,#84d44b,#b0dd2f,#f4e61e,#c0df25,#84d44b,#65cb5e,#60ca60,#7ad151,#b2dd2d,#f4e61e,#9dd93b,#60ca60,#46c06f,#4ac16d,#6ccd5a,#bade28,#d5e21a,#70cf57,#3bbb75,#2db27d,#38b977,#70cf57,#eae51a,#77d153,#26ad81,#1f948c,#218e8d,#1e9b8a,#34b679,#2db27d,#297b8e,#3e4a89,#472c7a,#481c6e,#48186a,#481a6c,#482071,#482173,#481668,#46085c,#440256,#440154,#440154,#440154,#440154,#440256,#46085c,#481668,#482173,#482071,#481a6c,#48186a,#481c6e,#472c7a,#3e4a89,#297b8e,#2db27d,#34b679,#1e9b8a,#218e8d,#1f948c,#26ad81,#77d153,#eae51a,#70cf57,#38b977,#2db27d,#3bbb75,#70cf57,#d5e21a,#bade28,#6ccd5a,#4ac16d,#46c06f,#60ca60,#9dd93b,#f4e61e,#b2dd2d,#7ad151,#60ca60,#65cb5e,#84d44b,#c0df25,#f4e61e,#b0dd2f,#84d44b,#75d054,#7fd34e,#a2da37,#dae319,#e5e419,#b0dd2f,#90d743,#89d548,#98d83e,#bddf26,#efe51c,#dae319,#b0dd2f,#9bd93c,#98d83e,#addc30,#d0e11c,#fde725,#d5e21a,#b2dd2d,#a5db36,#a8db34,#bddf26,#e2e418)"></i>
<i style="top:247.13px;height:2.69px;border-color:#e2e418;border-right-color:#e2e418;background-image:linear-gradient(90deg,#e2e418,#bddf26,#a8db34,#a5db36,#b2dd2d,#d5e21a,#fde725,#d0e11c,#addc30,#98d83e,#9bd93c,#b0dd2f,#dae319,#efe51c,#bddf26,#98d83e,#89d548,#90d743,#b0dd2f,#e5e419,#dae319,#a2da37,#7fd34e,#75d054,#84d44b,#b0dd2f,#f4e61e,#c0df25,#84d44b,#65cb5e,#60ca60,#7ad151,#b2dd2d,#f4e61e,#9dd93b,#60ca60,#46c06f,#4ac16d,#6ccd5a,#bade28,#d2e21b,#6ece58,#3aba76,#2cb17e,#37b878,#69cd5b,#e2e418,#7fd34e,#29af7f,#1f978b,#21918c,#1f9f88,#42be71,#40bd72,#26828e,#3b518b,#46307e,#482173,#481c6e,#482071,#482878,#482677,#481769,#46075a,#440154,#440154,#440154,#440154,#440154,#440154,#46075a,#481769,#482677,#482878,#482071,#481c6e,#482173,#46307e,#3b518b,#26828e,#40bd72,#42be71,#1f9f88,#21918c,#1f978b,#29af7f,#7fd34e,#e2e418,#69cd5b,#37b878,#2cb17e,#3aba76,#6ece58,#d2e21b,#bade28,#6ccd5a,#4ac16d,#46c06f,#60ca60,#9dd93b,#f4e61e,#b2dd2d,#7ad151,#60ca60,#65cb5e,#84d44b,#c0df25,#f4e61e,#b0dd2f,#84d44b,#75d054,#7fd34e,#a2da37,#dae319,#e5e419,#b0dd2f,#90d743,#89d548,#98d83e,#bddf26,#efe51c,#dae319,#b0dd2f,#9bd93c,#98d83e,#addc30,#d0e11c,#fde725,#d5e21a,#b2dd2d,#a5db36,#a8db34,#bddf26,#e2e418)"></i>
<i style="top:249.12px;height:2.69px;border-color:#e2e418;border-right-color:#e2e418;background-image:linear-gradient(90deg,#e2e418,#bddf26,#a8db34,#a5db36,#b2dd2d,#d5e21a,#fde725,#d0e11c,#addc30,#98d83e,#9bd93c,#b0dd2f,#dae319,#efe51c,#bddf26,#98d83e,#89d548,#90d743,#b0dd2f,#e5e419,#dae319,#a2da37,#7fd34e,#75d054,#84d44b,#b0dd2f,#f4e61e,#c0df25,#84d44b,#65cb5e,#60ca60,#77d153,#b2dd2d,#f4e61e,#9bd93c,#60ca60,#46c06f,#4ac16d,#6ccd5a,#bade28,#d2e21b,#6ece58,#3aba76,#2ab07f,#34b679,#65cb5e,#dde318,#86d549,#2db27d,#1f998a,#20938c,#1fa187,#50c46a,#5ac864,#238a8d,#38588c,#453781,#482677,#482374,#482878,#472f7d,#472c7a,#481769,#46075a,#440154,#440154,#440154,#440154,#440154,#440154,#46075a,#481769,#472c7a,#472f7d,#482878,#482374,#482677,#453781,#38588c,#238a8d,#5ac864,#50c46a,#1fa187,#20938c,#1f998a,#2db27d,#86d549,#dde318,#65cb5e,#34b679,#2ab07f,#3aba76,#6ece58,#d2e21b,#bade28,#6ccd5a,#4ac16d,#46c06f,#60ca60,#9bd93c,#f4e61e,#b2dd2d,#77d153,#60ca60,#65cb5e,#84d44b,#c0df25,#f4e61e,#b0dd2f,#84d44b,#75d054,#7fd34e,#a2da37,#dae319,#e5e419,#b0dd2f,#90d743,#89d548,#98d83e,#bddf26,#efe51c,#dae319,#b0dd2f,#9bd93c,#98d83e,#addc30,#d0e11c,#fde725,#d5e21a,#b2dd2d,#a5db36,#a8db34,#bddf26,#e2e418)"></i>
<i style="top:251.11px;height:2.69px;border-color:#e2e418;border-right-color:#e2e418;background-image:linear-gradient(90deg,#e2e418,#bddf26,#a8db34,#a5db36,#b2dd2d,#d5e21a,#fde725,#d0e11c,#addc30,#98d83e,#9bd93c,#b0dd2f,#dae319,#efe51c,#bddf26,#98d83e,#89d548,#90d743,#b0dd2f,#e5e419,#dae319,#a2da37,#7fd34e,#75d054,#84d44b,#b0dd2f,#f4e61e,#c0df25,#84d44b,#65cb5e,#60ca60,#77d153,#b2dd2d,#f4e61e,#9bd93c,#60ca60,#46c06f,#4ac16d,#6ccd5a,#bade28,#d2e21b,#6ece58,#38b977,#2ab07f,#32b67a,#63cb5f,#d8e219,#8ed645,#2fb47c,#1e9b8a,#1f948c,#20a386,#5ac864,#75d054,#20928c,#355e8d,#433d84,#472d7b,#472a7a,#46307e,#443a83,#46327e,#48186a,#450559,#440154,#440154,#440154,#440154,#440154,#440154,#450559,#48186a,#46327e,#443a83,#46307e,#472a7a,#472d7b,#433d84,#355e8d,#20928c,#75d054,#5ac864,#20a386,#1f948c,#1e9b8a,#2fb47c,#8ed645,#d8e219,#63cb5f,#32b67a,#2ab07f,#38b977,#6ece58,#d2e21b,#bade28,#6ccd5a,#4ac16d,#46c06f,#60ca60,#9bd93c,#f4e61e,#b2dd2d,#77d153,#60ca60,#65cb5e,#84d44b,#c0df25,#f4e61e,#b0dd2f,#84d44b,#75d054,#7fd34e,#a2da37,#dae319,#e5e419,#b0dd2f,#90d743,#89d548,#98d83e,#bddf26,#efe51c,#dae319,#b0dd2f,#9bd93c,#98d83e,#addc30,#d0e11c,#fde725,#d5e21a,#b2dd2d,#a5db36,#a8db34,#bddf26,#e2e418)"></i>
<i style="top:253.11px;height:2.69px;border-color:#e2e418;border-right-color:#e2e418;background-image:linear-gradient(90deg,#e2e418,#bddf26,#a8db34,#a5db36,#b2dd2d,#d5e21a,#fde725,#d0e11c,#addc30,#98d83e,#9bd93c,#b0dd2f,#dae319,#efe51c,#bddf26,#98d83e,#89d548,#90d743,#b0dd2f,#e5e419,#dae319,#a2da37,#7fd34e,#75d054,#84d44b,#b0dd2f,#f4e61e,#c0df25,#84d44b,#65cb5e,#60ca60,#77d153,#b2dd2d,#f4e61e,#9bd93c,#60ca60,#46c06f,#4ac16d,#6ccd5a,#bddf26,#d2e21b,#6ccd5a,#38b977,#29af7f,#31b57b,#60ca60,#d5e21a,#90d743,#31b57b,#1e9c89,#1f958b,#20a386,#5cc863,#90d743,#1f998a,#32648e,#414287,#46337f,#46327e,#443b84,#3f4788,#443983,#48186a,#450559,#440154,#440154,#440154,#440154,#440154,#440154,#450559,#48186a,#443983,#3f4788,#443b84,#46327e,#46337f,#414287,#32648e,#1f998a,#90d743,#5cc863,#20a386,#1f958b,#1e9c89,#31b57b,#90d743,#d5e21a,#60ca60,#31b57b,#29af7f,#38b977,#6ccd5a,#d2e21b,#bddf26,#6ccd5a,#4ac16d,#46c06f,#60ca60,#9bd93c,#f4e61e,#b2dd2d,#77d153,#60ca60,#65cb5e,#84d44b,#c0df25,#f4e61e,#b0dd2f,#84d44b,#75d054,#7fd34e,#a2da37,#dae319,#e5e419,#b0dd2f,#90d743,#89d548,#98d83e,#bddf26,#efe51c,#dae319,#b0dd2f,#9bd93c,#98d83e,#addc30,#d0e11c,#fde725,#d5e21a,#b2dd2d,#a5db36,#a8db34,#bddf26,#e2e418)"></i>
<i style="top:255.10px;height:2.69px;border-color:#e2e418;border-right-color:#e2e418;background-image:linear-gradient(90deg,#e2e418,#bddf26,#a8db34,#a5db36,#b2dd2d,#d5e21a,#fde725,#d0e11c,#addc30,#98d83e,#9bd93c,#b0dd2f,#dae319,#efe51c,#bddf26,#98d83e,#89d548,#90d743,#b0dd2f,#e5e419,#dae319,#a2da37,#7fd34e,#75d054,#84d44b,#b0dd2f,#f4e61e,#c0df25,#84d44b,#65cb5e,#60ca60,#77d153,#b2dd2d,#f4e61e,#9bd93c,#60ca60,#46c06f,#48c16e,#6ccd5a,#bddf26,#d2e21b,#6ccd5a,#38b977,#29af7f,#31b57b,#5ec962,#d2e21b,#93d741,#32b67a,#1e9c89,#1f958b,#1fa287,#5cc863,#addc30,#1fa188,#2f6b8e,#3e4989,#443a83,#443b84,#3e4989,#39558c,#424086,#48186a,#450559,#440154,#440154,#440154,#440154,#440154,#440154,#450559,#48186a,#424086,#39558c,#3e4989,#443b84,#443a83,#3e4989,#2f6b8e,#1fa188,#addc30,#5cc863,#1fa287,#1f958b,#1e9c89,#32b67a,#93d741,#d2e21b,#5ec962,#31b57b,#29af7f,#38b977,#6ccd5a,#d2e21b,#bddf26,#6ccd5a,#48c16e,#46c06f,#60ca60,#9bd93c,#f4e61e,#b2dd2d,#77d153,#60ca60,#65cb5e,#84d44b,#c0df25,#f4e61e,#b0dd2f,#84d44b,#75d054,#7fd34e,#a2da37,#dae319,#e5e419,#b0dd2f,#90d743,#89d548,#98d83e,#bddf26,#efe51c,#dae319,#b0dd2f,#9bd93c,#98d83e,#addc30,#d0e11c,#fde725,#d5e21a,#b2dd2d,#a5db36,#a8db34,#bddf26,#e2e418)"></i>
<i style="top:257.09px;height:2.69px;border-color:#e2e418;border-right-color:#e2e418;background-image:linear-gradient(90deg,#e2e418,#bddf26,#a8db34,#a5db36,#b2dd2d,#d5e21a,#fde725,#d0e11c,#addc30,#98d83e,#9bd93c,#b0dd2f,#dae319,#efe51c,#bddf26,#98d83e,#89d548,#90d743,#b0dd2f,#e5e419,#dae319,#a2da37,#7fd34e,#75d054,#84d44b,#b0dd2f,#f4e61e,#c0df25,#84d44b,#65cb5e,#60ca60,#77d153,#b2dd2d,#f4e61e,#9bd93c,#60ca60,#46c06f,#48c16e,#6ccd5a,#bddf26,#d2e21b,#6ccd5a,#37b878,#28ae80,#2fb47c,#5cc863,#d0e11c,#95d840,#32b67a,#1e9c89,#1f948c,#1fa187,#58c765,#c8e020,#22a785,#2d718e,#3c508b,#414287,#404588,#38588c,#31668e,#3f4788,#481a6c,#450457,#440154,#440154,#440154,#440154,#440154,#440154,#450457,#481a6c,#3f4788,#31668e,#38588c,#404588,#414287,#3c508b,#2d718e,#22a785,#c8e020,#58c765,#1fa187,#1f948c,#1e9c89,#32b67a,#95d840,#d0e11c,#5cc863,#2fb47c,#28ae80,#37b878,#6ccd5a,#d2e21b,#bddf26,#6ccd5a,#48c16e,#46c06f,#60ca60,#9bd93c,#f4e61e,#b2dd2d,#77d153,#60ca60,#65cb5e,#84d44b,#c0df25,#f4e61e,#b0dd2f,#84d44b,#75d054,#7fd34e,#a2da37,#dae319,#e5e419,#b0dd2f,#90d743,#89d548,#98d83e,#bddf26,#efe51c,#dae319,#b0dd2f,#9bd93c,#98d83e,#addc30,#d0e11c,#fde725,#d5e21a,#b2dd2d,#a5db36,#a8db34,#bddf26,#e2e418)"></i>
<i style="top:259.09px;height:2.69px;border-color:#e2e418;border-right-color:#e2e418;background-image:linear-gradient(90deg,#e2e418,#bddf26,#a8db34,#a5db36,#b2dd2d,#d5e21a,#fde725,#d0e11c,#addc30,#98d83e,#9bd93c,#b0dd2f,#dae319,#efe51c,#bddf26,#98d83e,#89d548,#90d743,#b0dd2f,#e5e419,#dae319,#a2da37,#7fd34e,#75d054,#84d44b,#b0dd2f,#f4e61e,#c0df25,#84d44b,#65cb5e,#60ca60,#77d153,#b2dd2d,#f4e61e,#9bd93c,#60ca60,#46c06f,#48c16e,#6ccd5a,#bddf26,#d2e21b,#6ccd5a,#37b878,#28ae80,#2fb47c,#5cc863,#d0e11c,#95d840,#32b67a,#1e9c89,#20938c,#1fa188,#52c569,#dde318,#27ad81,#2a768e,#39568c,#3e4a89,#3c508b,#31688e,#29798e,#3d4e8a,#481a6c,#450457,#440154,#440154,#440154,#440154,#440154,#440154,#450457,#481a6c,#3d4e8a,#29798e,#31688e,#3c508b,#3e4a89,#39568c,#2a768e,#27ad81,#dde318,#52c569,#1fa188,#20938c,#1e9c89,#32b67a,#95d840,#d0e11c,#5cc863,#2fb47c,#28ae80,#37b878,#6ccd5a,#d2e21b,#bddf26,#6ccd5a,#48c16e,#46c06f,#60ca60,#9bd93c,#f4e61e,#b2dd2d,#77d153,#60ca60,#65cb5e,#84d44b,#c0df25,#f4e61e,#b0dd2f,#84d44b,#75d054,#7fd34e,#a2da37,#dae319,#e5e419,#b0dd2f,#90d743,#89d548,#98d83e,#bddf26,#efe51c,#dae319,#b0dd2f,#9bd93c,#98d83e,#addc30,#d0e11c,#fde725,#d5e21a,#b2dd2d,#a5db36,#a8db34,#bddf26,#e2e418)"></i>
<i style="top:261.08px;height:2.69px;border-color:#e2e418;border-right-color:#e2e418;background-image:linear-gradient(90deg,#e2e418,#bddf26,#a8db34,#a5db36,#b2dd2d,#d5e21a,#fde725,#d0e11c,#addc30,#98d83e,#9bd93c,#b0dd2f,#dae319,#efe51c,#bddf26,#98d83e,#89d548,#90d743,#b0dd2f,#e5e419,#dae319,#a2da37,#7fd34e,#75d054,#84d44b,#b0dd2f,#f4e61e,#c0df25,#84d44b,#65cb5e,#60ca60,#77d153,#b2dd2d,#f4e61e,#9bd93c,#60ca60,#46c06f,#48c16e,#6ccd5a,#bddf26,#d0e11c,#6ccd5a,#37b878,#28ae80,#2fb47c,#5cc863,#cde11d,#95d840,#32b67a,#1e9b8a,#20938c,#1f9f88,#4cc26c,#efe51c,#2eb37c,#287c8e,#365d8d,#3b518b,#375a8c,#2a788e,#218f8d,#3a548c,#481a6c,#450457,#440154,#440154,#440154,#440154,#440154,#440154,#450457,#481a6c,#3a548c,#218f8d,#2a788e,#375a8c,#3b518b,#365d8d,#287c8e,#2eb37c,#efe51c,#4cc26c,#1f9f88,#20938c,#1e9b8a,#32b67a,#95d840,#cde11d,#5cc863,#2fb47c,#28ae80,#37b878,#6ccd5a,#d0e11c,#bddf26,#6ccd5a,#48c16e,#46c06f,#60ca60,#9bd93c,#f4e61e,#b2dd2d,#77d153,#60ca60,#65cb5e,#84d44b,#c0df25,#f4e61e,#b0dd2f,#84d44b,#75d054,#7fd34e,#a2da37,#dae319,#e5e419,#b0dd2f,#90d743,#89d548,#98d83e,#bddf26,#efe51c,#dae319,#b0dd2f,#9bd93c,#98d83e,#addc30,#d0e11c,#fde725,#d5e21a,#b2dd2d,#a5db36,#a8db34,#bddf26,#e2e418)"></i>
<i style="top:263.07px;height:2.69px;border-color:#e2e418;border-right-color:#e2e418;background-image:linear-gradient(90deg,#e2e418,#bddf26,#a8db34,#a5db36,#b2dd2d,#d5e21a,#fde725,#d0e11c,#addc30,#98d83e,#9bd93c,#b0dd2f,#dae319,#efe51c,#bddf26,#98d83e,#89d548,#90d743,#b0dd2f,#e5e419,#dae319,#a2da37,#7fd34e,#75d054,#84d44b,#b0dd2f,#f4e61e,#c0df25,#84d44b,#65cb5e,#60ca60,#77d153,#b2dd2d,#f4e61e,#9bd93c,#5ec962,#46c06f,#48c16e,#6ccd5a,#bddf26,#d0e11c,#6ccd5a,#37b878,#28ae80,#2fb47c,#5cc863,#cde11d,#95d840,#32b67a,#1e9b8a,#20928c,#1f9e89,#48c16e,#f8e621,#34b679,#27808e,#34618d,#39568c,#33638d,#238a8d,#22a884,#375b8d,#481b6d,#450457,#440154,#440154,#440154,#440154,#440154,#440154,#450457,#481b6d,#375b8d,#22a884,#238a8d,#33638d,#39568c,#34618d,#27808e,#34b679,#f8e621,#48c16e,#1f9e89,#20928c,#1e9b8a,#32b67a,#95d840,#cde11d,#5cc863,#2fb47c,#28ae80,#37b878,#6ccd5a,#d0e11c,#bddf26,#6ccd5a,#48c16e,#46c06f,#5ec962,#9bd93c,#f4e61e,#b2dd2d,#77d153,#60ca60,#65cb5e,#84d44b,#c0df25,#f4e61e,#b0dd2f,#84d44b,#75d054,#7fd34e,#a2da37,#dae319,#e5e419,#b0dd2f,#90d743,#89d548,#98d83e,#bddf26,#efe51c,#dae319,#b0dd2f,#9bd93c,#98d83e,#addc30,#d0e11c,#fde725,#d5e21a,#b2dd2d,#a5db36,#a8db34,#bddf26,#e2e418)"></i>
<i style="top:265.06px;height:2.69px;border-color:#e2e418;border-right-color:#e2e418;background-image:linear-gradient(90deg,#e2e418,#bddf26,#a8db34,#a5db36,#b2dd2d,#d5e21a,#fde725,#d0e11c,#addc30,#98d83e,#9bd93c,#b0dd2f,#dae319,#efe51c,#bddf26,#98d83e,#89d548,#90d743,#b0dd2f,#e5e419,#dae319,#a2da37,#7fd34e,#75d054,#84d44b,#b0dd2f,#f4e61e,#c0df25,#84d44b,#65cb5e,#60ca60,#77d153,#b2dd2d,#f4e61e,#9bd93c,#5ec962,#46c06f,#48c16e,#6ccd5a,#bddf26,#d0e11c,#6ccd5a,#37b878,#28ae80,#2fb47c,#5ac864,#cde11d,#95d840,#32b67a,#1e9b8a,#20928c,#1e9d89,#44bf70,#f6e620,#3aba76,#25838e,#32658e,#365c8d,#306a8e,#1f9a8a,#4cc26c,#355f8d,#481b6d,#450457,#440154,#440154,#440154,#440154,#440154,#440154,#450457,#481b6d,#355f8d,#4cc26c,#1f9a8a,#306a8e,#365c8d,#32658e,#25838e,#3aba76,#f6e620,#44bf70,#1e9d89,#20928c,#1e9b8a,#32b67a,#95d840,#cde11d,#5ac864,#2fb47c,#28ae80,#37b878,#6ccd5a,#d0e11c,#bddf26,#6ccd5a,#48c16e,#46c06f,#5ec962,#9bd93c,#f4e61e,#b2dd2d,#77d153,#60ca60,#65cb5e,#84d44b,#c0df25,#f4e61e,#b0dd2f,#84d44b,#75d054,#7fd34e,#a2da37,#dae319,#e5e419,#b0dd2f,#90d743,#89d548,#98d83e,#bddf26,#efe51c,#dae319,#b0dd2f,#9bd93c,#98d83e,#addc30,#d0e11c,#fde725,#d5e21a,#b2dd2d,#a5db36,#a8db34,#bddf26,#e2e418)"></i>
<i style="top:267.06px;height:6.69px;border-color:#e2e418;border-right-color:#e2e418;background-image:linear-gradient(90deg,#e2e418,#bddf26,#a8db34,#a5db36,#b2dd2d,#d5e21a,#fde725,#d0e11c,#addc30,#98d83e,#9bd93c,#b0dd2f,#dae319,#efe51c,#bddf26,#98d83e,#89d548,#90d743,#b0dd2f,#e5e419,#dae319,#a2da37,#7fd34e,#75d054,#84d44b,#b0dd2f,#f4e61e,#c0df25,#84d44b,#65cb5e,#60ca60,#77d153,#b2dd2d,#f4e61e,#9bd93c,#5ec962,#46c06f,#48c16e,#6ccd5a,#bddf26,#d0e11c,#6ccd5a,#37b878,#28ae80,#2fb47c,#5ac864,#cde11d,#95d840,#32b67a,#1e9b8a,#20928c,#1e9d89,#42be71,#f4e61e,#3dbc74,#25848e,#31678e,#355e8d,#2e6e8e,#20a386,#86d549,#34618d,#481b6d,#450457,#440154,#440154,#440154,#440154,#440154,#440154,#450457,#481b6d,#34618d,#86d549,#20a386,#2e6e8e,#355e8d,#31678e,#25848e,#3dbc74,#f4e61e,#42be71,#1e9d89,#20928c,#1e9b8a,#32b67a,#95d840,#cde11d,#5ac864,#2fb47c,#28ae80,#37b878,#6ccd5a,#d0e11c,#bddf26,#6ccd5a,#48c16e,#46c06f,#5ec962,#9bd93c,#f4e61e,#b2dd2d,#77d153,#60ca60,#65cb5e,#84d44b,#c0df25,#f4e61e,#b0dd2f,#84d44b,#75d054,#7fd34e,#a2da37,#dae319,#e5e419,#b0dd2f,#90d743,#89d548,#98d83e,#bddf26,#efe51c,#dae319,#b0dd2f,#9bd93c,#98d83e,#addc30,#d0e11c,#fde725,#d5e21a,#b2dd2d,#a5db36,#a8db34,#bddf26,#e2e418)"></i></div></div>
<div class="hm" style="left:625.80px;top:434.20px;width:318.70px;height:265.05px"><div style="width:318.70px;height:273.05px"><i style="top:0.00px;height:6.69px;border-color:#404588;border-right-color:#404588;background-image:linear-gradient(90deg,#404588,#424086,#443b84,#453581,#472e7c,#482677,#482071,#481c6e,#481c6e,#481c6e,#481f70,#482071,#482374,#482374,#482374,#482475,#482878,#46307e,#433e85,#3c4f8a,#355f8d,#2f6b8e,#2c718e,#29798e,#23888e,#1fa287,#46c06f,#44bf70,#1e9d89,#277e8e,#2f6b8e,#33628d,#34618d,#33628d,#355f8d,#38588c,#3d4e8a,#3e4989,#3e4c8a,#38588c,#2e6e8e,#228d8d,#25ab82,#26ad81,#1e9d89,#1f948c,#1e9b8a,#2cb17e,#60ca60,#4ec36b,#20a386,#228b8d,#26828e,#23888e,#1e9d89,#35b779,#31b57b,#1f948c,#297a8e,#2e6e8e,#2e6f8e,#277f8e,#1f9f88,#69cd5b,#c8e020,#58c765,#2eb37c,#2eb37c,#58c765,#c8e020,#69cd5b,#1f9f88,#277f8e,#2e6f8e,#2e6e8e,#297a8e,#1f948c,#31b57b,#35b779,#1e9d89,#23888e,#26828e,#228b8d,#20a386,#4ec36b,#60ca60,#2cb17e,#1e9b8a,#1f948c,#1e9d89,#26ad81,#25ab82,#228d8d,#2e6e8e,#38588c,#3e4c8a,#3e4989,#3d4e8a,#38588c,#355f8d,#33628d,#34618d,#33628d,#2f6b8e,#277e8e,#1e9d89,#44bf70,#46c06f,#1fa287,#23888e,#29798e,#2c718e,#2f6b8e,#355f8d,#3c4f8a,#433e85,#46307e,#482878,#482475,#482374,#482374,#482374,#482071,#481f70,#481c6e,#481c6e,#481c6e,#482071,#482677,#472e7c,#453581,#443b84,#424086,#404588)"></i>
<i style="top:5.99px;height:2.69px;border-color:#3f4889;border-right-color:#3f4889;background-image:linear-gradient(90deg,#3f4889,#414487,#423f85,#453882,#472f7d,#482878,#482173,#481d6f,#481c6e,#481d6f,#481f70,#482071,#482173,#482173,#482071,#482173,#482576,#472e7c,#443a83,#3e4989,#38598c,#33638d,#306a8e,#2c718e,#26818e,#1f9a8a,#3dbc74,#50c46a,#21a585,#25858e,#2c718e,#31688e,#31668e,#32658e,#34618d,#38588c,#3d4d8a,#3f4788,#3e4989,#3a548c,#306a8e,#23888e,#20a386,#21a685,#1f998a,#20928c,#1f9a8a,#2ab07f,#63cb5f,#54c568,#21a685,#228d8d,#25838e,#238a8d,#1fa088,#3aba76,#31b57b,#20938c,#2a788e,#2f6c8e,#2e6d8e,#287c8e,#1e9d89,#63cb5f,#e2e418,#63cb5f,#34b679,#34b679,#63cb5f,#e2e418,#63cb5f,#1e9d89,#287c8e,#2e6d8e,#2f6c8e,#2a788e,#20938c,#31b57b,#3aba76,#1fa088,#238a8d,#25838e,#228d8d,#21a685,#54c568,#63cb5f,#2ab07f,#1f9a8a,#20928c,#1f998a,#21a685,#20a386,#23888e,#306a8e,#3a548c,#3e4989,#3f4788,#3d4d8a,#38588c,#34618d,#32658e,#31668e,#31688e,#2c718e,#25858e,#21a585,#50c46a,#3dbc74,#1f9a8a,#26818e,#2c718e,#306a8e,#33638d,#38598c,#3e4989,#443a83,#472e7c,#482576,#482173,#482071,#482173,#482173,#482071,#481f70,#481d6f,#481c6e,#481d6f,#482173,#482878,#472f7d,#453882,#423f85,#414487,#3f4889)"></i>
<i style="top:7.99px;height:2.69px;border-color:#3e4c8a;border-right-color:#3e4c8a;background-image:linear-gradient(90deg,#3e4c8a,#3f4889,#414287,#443a83,#46327e,#482979,#482374,#481f70,#481d6f,#481d6f,#481f70,#482071,#482071,#482071,#481f70,#482071,#482374,#472a7a,#453781,#404588,#3b528b,#365c8d,#33628d,#306a8e,#2a788e,#20928c,#31b57b,#58c765,#27ad81,#228d8d,#2a788e,#2e6e8e,#2f6b8e,#306a8e,#33638d,#38588c,#3d4d8a,#404688,#3f4788,#3b528b,#31678e,#25838e,#1e9d89,#1fa188,#1f958b,#21908d,#1f988b,#29af7f,#65cb5e,#5cc863,#22a884,#218f8d,#25858e,#228d8d,#20a386,#40bd72,#34b679,#20928c,#2a778e,#306a8e,#2f6b8e,#297b8e,#1e9b8a,#5ec962,#f4e61e,#69cd5b,#37b878,#37b878,#69cd5b,#f4e61e,#5ec962,#1e9b8a,#297b8e,#2f6b8e,#306a8e,#2a778e,#20928c,#34b679,#40bd72,#20a386,#228d8d,#25858e,#218f8d,#22a884,#5cc863,#65cb5e,#29af7f,#1f988b,#21908d,#1f958b,#1fa188,#1e9d89,#25838e,#31678e,#3b528b,#3f4788,#404688,#3d4d8a,#38588c,#33638d,#306a8e,#2f6b8e,#2e6e8e,#2a788e,#228d8d,#27ad81,#58c765,#31b57b,#20928c,#2a788e,#306a8e,#33628d,#365c8d,#3b528b,#404588,#453781,#472a7a,#482374,#482071,#481f70,#482071,#482071,#482071,#481f70,#481d6f,#481d6f,#481f70,#482374,#482979,#46327e,#443a83,#414287,#3f4889,#3e4c8a)"></i>
<i style="top:9.98px;height:2.69px;border-color:#3c508b;border-right-color:#3c508b;background-image:linear-gradient(90deg,#3c508b,#3e4c8a,#404588,#433d84,#46337f,#472a7a,#482475,#482071,#481f70,#481f70,#481f70,#482071,#482071,#481f70,#481d6f,#481d6f,#482173,#482878,#46337f,#424086,#3d4d8a,#3a548c,#375b8d,#33628d,#2d718e,#23898e,#26ad81,#56c667,#31b57b,#1f948c,#277f8e,#2b748e,#2c718e,#2e6f8e,#31668e,#38598c,#3e4c8a,#404588,#404688,#3c508b,#32648e,#277f8e,#1f968b,#1f9a8a,#21918c,#228d8d,#1f958b,#27ad81,#65cb5e,#63cb5f,#25ab82,#21918c,#23888e,#218f8d,#21a685,#48c16e,#35b779,#20928c,#2a768e,#30698e,#306a8e,#29798e,#1f998a,#5ac864,#dfe318,#69cd5b,#38b977,#38b977,#69cd5b,#dfe318,#5ac864,#1f998a,#29798e,#306a8e,#30698e,#2a768e,#20928c,#35b779,#48c16e,#21a685,#218f8d,#23888e,#21918c,#25ab82,#63cb5f,#65cb5e,#27ad81,#1f958b,#228d8d,#21918c,#1f9a8a,#1f968b,#277f8e,#32648e,#3c508b,#404688,#404588,#3e4c8a,#38598c,#31668e,#2e6f8e,#2c718e,#2b748e,#277f8e,#1f948c,#31b57b,#56c667,#26ad81,#23898e,#2d718e,#33628d,#375b8d,#3a548c,#3d4d8a,#424086,#46337f,#482878,#482173,#481d6f,#481d6f,#481f70,#482071,#482071,#481f70,#481f70,#481f70,#482071,#482475,#472a7a,#46337f,#433d84,#404588,#3e4c8a,#3c508b)"></i>
<i style="top:11.97px;height:2.69px;border-color:#3a548c;border-right-color:#3a548c;background-image:linear-gradient(90deg,#3a548c,#3c4f8a,#3f4889,#423f85,#453581,#472d7b,#482576,#482173,#482071,#482071,#482071,#482071,#481f70,#481d6f,#481c6e,#481c6e,#482071,#482677,#472f7d,#443b84,#3f4788,#3d4e8a,#3a538b,#375b8d,#30698e,#26818e,#20a386,#4ec36b,#3aba76,#1e9c89,#24868e,#297b8e,#2a778e,#2c738e,#30698e,#375a8c,#3e4c8a,#414487,#404588,#3d4e8a,#33628d,#297b8e,#21918c,#20938c,#228c8d,#23898e,#20928c,#25ab82,#63cb5f,#67cc5c,#26ad81,#20938c,#238a8d,#20928c,#23a983,#52c569,#38b977,#20928c,#2b758e,#31688e,#30698e,#2a788e,#1f988b,#54c568,#c5e021,#65cb5e,#35b779,#35b779,#65cb5e,#c5e021,#54c568,#1f988b,#2a788e,#30698e,#31688e,#2b758e,#20928c,#38b977,#52c569,#23a983,#20928c,#238a8d,#20938c,#26ad81,#67cc5c,#63cb5f,#25ab82,#20928c,#23898e,#228c8d,#20938c,#21918c,#297b8e,#33628d,#3d4e8a,#404588,#414487,#3e4c8a,#375a8c,#30698e,#2c738e,#2a778e,#297b8e,#24868e,#1e9c89,#3aba76,#4ec36b,#20a386,#26818e,#30698e,#375b8d,#3a538b,#3d4e8a,#3f4788,#443b84,#472f7d,#482677,#482071,#481c6e,#481c6e,#481d6f,#481f70,#482071,#482071,#482071,#482071,#482173,#482576,#472d7b,#453581,#423f85,#3f4889,#3c4f8a,#3a548c)"></i>
<i style="top:13.96px;height:2.69px;border-color:#38598c;border-right-color:#38598c;background-image:linear-gradient(90deg,#38598c,#3a538b,#3e4c8a,#414287,#453882,#472e7c,#482878,#482374,#482173,#482071,#482173,#482071,#481f70,#481d6f,#481b6d,#481b6d,#481d6f,#482475,#472d7b,#453882,#424186,#3f4889,#3d4d8a,#3a548c,#33628d,#2a788e,#1f9a8a,#3fbc73,#40bd72,#1fa287,#228d8d,#26828e,#277f8e,#29798e,#2e6d8e,#365c8d,#3d4d8a,#414487,#414487,#3d4d8a,#355f8d,#2a778e,#238a8d,#218e8d,#24878e,#25848e,#218f8d,#22a785,#5cc863,#6ccd5a,#29af7f,#1f958b,#228b8d,#20938c,#26ad81,#5cc863,#3bbb75,#20928c,#2b758e,#31688e,#30698e,#2a788e,#1f978b,#50c46a,#aadc32,#5ac864,#31b57b,#31b57b,#5ac864,#aadc32,#50c46a,#1f978b,#2a788e,#30698e,#31688e,#2b758e,#20928c,#3bbb75,#5cc863,#26ad81,#20938c,#228b8d,#1f958b,#29af7f,#6ccd5a,#5cc863,#22a785,#218f8d,#25848e,#24878e,#218e8d,#238a8d,#2a778e,#355f8d,#3d4d8a,#414487,#414487,#3d4d8a,#365c8d,#2e6d8e,#29798e,#277f8e,#26828e,#228d8d,#1fa287,#40bd72,#3fbc73,#1f9a8a,#2a788e,#33628d,#3a548c,#3d4d8a,#3f4889,#424186,#453882,#472d7b,#482475,#481d6f,#481b6d,#481b6d,#481d6f,#481f70,#482071,#482173,#482071,#482173,#482374,#482878,#472e7c,#453882,#414287,#3e4c8a,#3a538b,#38598c)"></i>
<i style="top:15.96px;height:2.69px;border-color:#365d8d;border-right-color:#365d8d;background-image:linear-gradient(90deg,#365d8d,#38588c,#3c4f8a,#404588,#443a83,#46307e,#482979,#482576,#482374,#482374,#482173,#482173,#481f70,#481c6e,#481b6d,#481b6d,#481c6e,#482374,#472a7a,#463480,#433d84,#414287,#404688,#3d4d8a,#375b8d,#2d718e,#21908d,#2fb47c,#40bd72,#22a884,#1f948c,#238a8d,#24868e,#27808e,#2c718e,#355e8d,#3d4e8a,#414487,#414487,#3e4c8a,#355e8d,#2c738e,#25858e,#24878e,#26828e,#27808e,#238a8d,#20a386,#56c667,#70cf57,#2cb17e,#1f968b,#228d8d,#1f958b,#28ae80,#65cb5e,#3fbc73,#20938c,#2b758e,#31688e,#30698e,#2a788e,#1f968b,#4ac16d,#90d743,#4ec36b,#2ab07f,#2ab07f,#4ec36b,#90d743,#4ac16d,#1f968b,#2a788e,#30698e,#31688e,#2b758e,#20938c,#3fbc73,#65cb5e,#28ae80,#1f958b,#228d8d,#1f968b,#2cb17e,#70cf57,#56c667,#20a386,#238a8d,#27808e,#26828e,#24878e,#25858e,#2c738e,#355e8d,#3e4c8a,#414487,#414487,#3d4e8a,#355e8d,#2c718e,#27808e,#24868e,#238a8d,#1f948c,#22a884,#40bd72,#2fb47c,#21908d,#2d718e,#375b8d,#3d4d8a,#404688,#414287,#433d84,#463480,#472a7a,#482374,#481c6e,#481b6d,#481b6d,#481c6e,#481f70,#482173,#482173,#482374,#482374,#482576,#482979,#46307e,#443a83,#404588,#3c4f8a,#38588c,#365d8d)"></i>
<i style="top:17.95px;height:2.69px;border-color:#34618d;border-right-color:#34618d;background-image:linear-gradient(90deg,#34618d,#365c8d,#3a538b,#3f4889,#433d84,#46337f,#472c7a,#482677,#482475,#482475,#482374,#482173,#481f70,#481c6e,#481a6c,#481a6c,#481c6e,#482173,#482979,#46327e,#443983,#433d84,#424086,#3f4788,#3a538b,#30698e,#24868e,#24aa83,#3aba76,#25ac82,#1e9b8a,#20928c,#218e8d,#24878e,#2a768e,#34618d,#3c4f8a,#404588,#414487,#3e4c8a,#365c8d,#2d718e,#26818e,#26828e,#287c8e,#287c8e,#24868e,#1fa088,#50c46a,#70cf57,#2eb37c,#1f988b,#218f8d,#1f968b,#2cb17e,#70cf57,#44bf70,#1f948c,#2a768e,#31688e,#30698e,#2a788e,#1f968b,#46c06f,#77d153,#3fbc73,#25ab82,#25ab82,#3fbc73,#77d153,#46c06f,#1f968b,#2a788e,#30698e,#31688e,#2a768e,#1f948c,#44bf70,#70cf57,#2cb17e,#1f968b,#218f8d,#1f988b,#2eb37c,#70cf57,#50c46a,#1fa088,#24868e,#287c8e,#287c8e,#26828e,#26818e,#2d718e,#365c8d,#3e4c8a,#414487,#404588,#3c4f8a,#34618d,#2a768e,#24878e,#218e8d,#20928c,#1e9b8a,#25ac82,#3aba76,#24aa83,#24868e,#30698e,#3a538b,#3f4788,#424086,#433d84,#443983,#46327e,#482979,#482173,#481c6e,#481a6c,#481a6c,#481c6e,#481f70,#482173,#482374,#482475,#482475,#482677,#472c7a,#46337f,#433d84,#3f4889,#3a538b,#365c8d,#34618d)"></i>
<i style="top:19.94px;height:2.69px;border-color:#32658e;border-right-color:#32658e;background-image:linear-gradient(90deg,#32658e,#34608d,#39568c,#3e4a89,#423f85,#453581,#472e7c,#482979,#482677,#482576,#482475,#482374,#481f70,#481c6e,#481a6c,#48186a,#481b6d,#482071,#482677,#472e7c,#463480,#453882,#443b84,#424186,#3d4d8a,#34618d,#277e8e,#1fa088,#2fb47c,#27ad81,#1fa088,#1f998a,#1f968b,#218f8d,#297b8e,#32648e,#3b518b,#404688,#414487,#3e4c8a,#375b8d,#2e6f8e,#287c8e,#287d8e,#2a778e,#2a778e,#26828e,#1e9c89,#48c16e,#70cf57,#2fb47c,#1f998a,#21908d,#1f988b,#2eb37c,#7cd250,#4ac16d,#1f958b,#2a778e,#30698e,#306a8e,#29798e,#1f968b,#40bd72,#63cb5f,#32b67a,#20a486,#20a486,#32b67a,#63cb5f,#40bd72,#1f968b,#29798e,#306a8e,#30698e,#2a778e,#1f958b,#4ac16d,#7cd250,#2eb37c,#1f988b,#21908d,#1f998a,#2fb47c,#70cf57,#48c16e,#1e9c89,#26828e,#2a778e,#2a778e,#287d8e,#287c8e,#2e6f8e,#375b8d,#3e4c8a,#414487,#404688,#3b518b,#32648e,#297b8e,#218f8d,#1f968b,#1f998a,#1fa088,#27ad81,#2fb47c,#1fa088,#277e8e,#34618d,#3d4d8a,#424186,#443b84,#453882,#463480,#472e7c,#482677,#482071,#481b6d,#48186a,#481a6c,#481c6e,#481f70,#482374,#482475,#482576,#482677,#482979,#472e7c,#453581,#423f85,#3e4a89,#39568c,#34608d,#32658e)"></i>
<i style="top:21.94px;height:2.69px;border-color:#306a8e;border-right-color:#306a8e;background-image:linear-gradient(90deg,#306a8e,#32648e,#375a8c,#3d4e8a,#414287,#453882,#46307e,#472c7a,#482979,#482878,#482576,#482374,#481f70,#481b6d,#481a6c,#48186a,#481a6c,#481f70,#482576,#472c7a,#46307e,#463480,#453781,#443b84,#3f4788,#375a8c,#2b758e,#1f958b,#25ac82,#25ab82,#1fa287,#1f9f88,#1f9f88,#1f978b,#26828e,#31688e,#3a538b,#3f4788,#404588,#3e4c8a,#375b8d,#2f6c8e,#2a788e,#2a778e,#2c728e,#2c728e,#277e8e,#1f978b,#3fbc73,#6ece58,#31b57b,#1f9a8a,#21908d,#1f988b,#2fb47c,#89d548,#52c569,#1f978b,#2a788e,#306a8e,#2f6b8e,#297a8e,#1f978b,#3dbc74,#50c46a,#28ae80,#1e9d89,#1e9d89,#28ae80,#50c46a,#3dbc74,#1f978b,#297a8e,#2f6b8e,#306a8e,#2a788e,#1f978b,#52c569,#89d548,#2fb47c,#1f988b,#21908d,#1f9a8a,#31b57b,#6ece58,#3fbc73,#1f978b,#277e8e,#2c728e,#2c728e,#2a778e,#2a788e,#2f6c8e,#375b8d,#3e4c8a,#404588,#3f4788,#3a538b,#31688e,#26828e,#1f978b,#1f9f88,#1f9f88,#1fa287,#25ab82,#25ac82,#1f958b,#2b758e,#375a8c,#3f4788,#443b84,#453781,#463480,#46307e,#472c7a,#482576,#481f70,#481a6c,#48186a,#481a6c,#481b6d,#481f70,#482374,#482576,#482878,#482979,#472c7a,#46307e,#453882,#414287,#3d4e8a,#375a8c,#32648e,#306a8e)"></i>
<i style="top:23.93px;height:2.69px;border-color:#2e6f8e;border-right-color:#2e6f8e;background-image:linear-gradient(90deg,#2e6f8e,#31688e,#355e8d,#3b518b,#404588,#443a83,#46337f,#472e7c,#472c7a,#482979,#482878,#482475,#482071,#481b6d,#48186a,#48186a,#481a6c,#481d6f,#482475,#482979,#472e7c,#472f7d,#46327e,#453781,#424186,#3a538b,#2e6d8e,#228b8d,#1fa187,#21a685,#1fa287,#20a386,#22a785,#1fa188,#23888e,#2f6c8e,#39558c,#3f4889,#404688,#3e4c8a,#375a8c,#2f6b8e,#2b748e,#2c728e,#2e6e8e,#2e6f8e,#297a8e,#20928c,#37b878,#67cc5c,#31b57b,#1f9a8a,#21918c,#1f998a,#31b57b,#93d741,#5ac864,#1f9a8a,#297a8e,#2f6c8e,#2e6d8e,#297b8e,#1f998a,#3aba76,#40bd72,#21a685,#1f968b,#1f968b,#21a685,#40bd72,#3aba76,#1f998a,#297b8e,#2e6d8e,#2f6c8e,#297a8e,#1f9a8a,#5ac864,#93d741,#31b57b,#1f998a,#21918c,#1f9a8a,#31b57b,#67cc5c,#37b878,#20928c,#297a8e,#2e6f8e,#2e6e8e,#2c728e,#2b748e,#2f6b8e,#375a8c,#3e4c8a,#404688,#3f4889,#39558c,#2f6c8e,#23888e,#1fa188,#22a785,#20a386,#1fa287,#21a685,#1fa187,#228b8d,#2e6d8e,#3a538b,#424186,#453781,#46327e,#472f7d,#472e7c,#482979,#482475,#481d6f,#481a6c,#48186a,#48186a,#481b6d,#482071,#482475,#482878,#482979,#472c7a,#472e7c,#46337f,#443a83,#404588,#3b518b,#355e8d,#31688e,#2e6f8e)"></i>
<i style="top:25.92px;height:2.69px;border-color:#2c728e;border-right-color:#2c728e;background-image:linear-gradient(90deg,#2c728e,#2f6c8e,#34618d,#3a548c,#3f4889,#433e85,#453581,#46307e,#472e7c,#472c7a,#482979,#482576,#482071,#481c6e,#48186a,#48186a,#481a6c,#481d6f,#482374,#482878,#472a7a,#472d7b,#472e7c,#46327e,#443b84,#3d4d8a,#31668e,#26818e,#1f978b,#1fa088,#1fa188,#21a585,#27ad81,#24aa83,#21908d,#2d718e,#38598c,#3e4c8a,#3f4788,#3d4d8a,#375b8d,#30698e,#2d718e,#2e6f8e,#306a8e,#306a8e,#2b758e,#218f8d,#2fb47c,#60ca60,#31b57b,#1f9a8a,#21908d,#1f988b,#31b57b,#9bd93c,#65cb5e,#1e9c89,#287c8e,#2e6e8e,#2e6f8e,#277e8e,#1f9a8a,#37b878,#35b779,#1f9f88,#21908d,#21908d,#1f9f88,#35b779,#37b878,#1f9a8a,#277e8e,#2e6f8e,#2e6e8e,#287c8e,#1e9c89,#65cb5e,#9bd93c,#31b57b,#1f988b,#21908d,#1f9a8a,#31b57b,#60ca60,#2fb47c,#218f8d,#2b758e,#306a8e,#306a8e,#2e6f8e,#2d718e,#30698e,#375b8d,#3d4d8a,#3f4788,#3e4c8a,#38598c,#2d718e,#21908d,#24aa83,#27ad81,#21a585,#1fa188,#1fa088,#1f978b,#26818e,#31668e,#3d4d8a,#443b84,#46327e,#472e7c,#472d7b,#472a7a,#482878,#482374,#481d6f,#481a6c,#48186a,#48186a,#481c6e,#482071,#482576,#482979,#472c7a,#472e7c,#46307e,#453581,#433e85,#3f4889,#3a548c,#34618d,#2f6c8e,#2c728e)"></i>
<i style="top:27.91px;height:2.69px;border-color:#2a778e;border-right-color:#2a778e;background-image:linear-gradient(90deg,#2a778e,#2d708e,#32648e,#38588c,#3e4a89,#424086,#443983,#463480,#46307e,#472e7c,#472a7a,#482677,#482173,#481c6e,#48186a,#48186a,#481a6c,#481c6e,#482173,#482576,#482878,#482979,#472a7a,#472e7c,#453781,#3f4788,#355e8d,#2a788e,#228d8d,#1f978b,#1e9c89,#21a585,#2eb37c,#2eb37c,#1f988b,#2a768e,#365d8d,#3d4e8a,#3e4989,#3c4f8a,#375b8d,#31688e,#2e6e8e,#2f6b8e,#32658e,#31668e,#2c718e,#228b8d,#29af7f,#58c765,#2fb47c,#1f9a8a,#21908d,#1f978b,#2fb47c,#9dd93b,#6ece58,#1fa088,#277f8e,#2d708e,#2d718e,#27808e,#1e9c89,#35b779,#2ab07f,#1f988b,#23898e,#23898e,#1f988b,#2ab07f,#35b779,#1e9c89,#27808e,#2d718e,#2d708e,#277f8e,#1fa088,#6ece58,#9dd93b,#2fb47c,#1f978b,#21908d,#1f9a8a,#2fb47c,#58c765,#29af7f,#228b8d,#2c718e,#31668e,#32658e,#2f6b8e,#2e6e8e,#31688e,#375b8d,#3c4f8a,#3e4989,#3d4e8a,#365d8d,#2a768e,#1f988b,#2eb37c,#2eb37c,#21a585,#1e9c89,#1f978b,#228d8d,#2a788e,#355e8d,#3f4788,#453781,#472e7c,#472a7a,#482979,#482878,#482576,#482173,#481c6e,#481a6c,#48186a,#48186a,#481c6e,#482173,#482677,#472a7a,#472e7c,#46307e,#463480,#443983,#424086,#3e4a89,#38588c,#32648e,#2d708e,#2a778e)"></i>
<i style="top:29.91px;height:2.69px;border-color:#287c8e;border-right-color:#287c8e;background-image:linear-gradient(90deg,#287c8e,#2c738e,#31688e,#375b8d,#3d4e8a,#414487,#433d84,#453882,#463480,#46307e,#472d7b,#482878,#482173,#481c6e,#481a6c,#48186a,#481a6c,#481c6e,#482071,#482475,#482677,#482677,#482677,#472a7a,#46337f,#424186,#38588c,#2d708e,#26828e,#218e8d,#1f948c,#1fa187,#31b57b,#3fbc73,#1fa188,#287c8e,#34618d,#3b518b,#3d4d8a,#3b518b,#365c8d,#31678e,#2f6b8e,#31678e,#34618d,#33628d,#2e6e8e,#24868e,#25ac82,#50c46a,#2db27d,#1f988b,#218e8d,#1f968b,#2db27d,#9dd93b,#7cd250,#1fa287,#26828e,#2c728e,#2c738e,#26828e,#1f9f88,#32b67a,#25ab82,#20928c,#26828e,#26828e,#20928c,#25ab82,#32b67a,#1f9f88,#26828e,#2c738e,#2c728e,#26828e,#1fa287,#7cd250,#9dd93b,#2db27d,#1f968b,#218e8d,#1f988b,#2db27d,#50c46a,#25ac82,#24868e,#2e6e8e,#33628d,#34618d,#31678e,#2f6b8e,#31678e,#365c8d,#3b518b,#3d4d8a,#3b518b,#34618d,#287c8e,#1fa188,#3fbc73,#31b57b,#1fa187,#1f948c,#218e8d,#26828e,#2d708e,#38588c,#424186,#46337f,#472a7a,#482677,#482677,#482677,#482475,#482071,#481c6e,#481a6c,#48186a,#481a6c,#481c6e,#482173,#482878,#472d7b,#46307e,#463480,#453882,#433d84,#414487,#3d4e8a,#375b8d,#31688e,#2c738e,#287c8e)"></i>
<i style="top:31.90px;height:2.69px;border-color:#26818e;border-right-color:#26818e;background-image:linear-gradient(90deg,#26818e,#2a778e,#2f6c8e,#355e8d,#3b518b,#3f4788,#424086,#443a83,#453882,#463480,#472f7d,#482979,#482374,#481d6f,#481a6c,#48186a,#481a6c,#481c6e,#482071,#482374,#482475,#482475,#482475,#482677,#472f7d,#433d84,#3b518b,#31678e,#29798e,#25838e,#228d8d,#1e9c89,#2fb47c,#4ec36b,#25ab82,#25838e,#31668e,#39558c,#3c4f8a,#3a538b,#365d8d,#31678e,#30698e,#32648e,#355e8d,#355f8d,#2f6b8e,#26828e,#22a785,#46c06f,#29af7f,#1f978b,#228d8d,#1f948c,#2ab07f,#98d83e,#89d548,#21a685,#25848e,#2b758e,#2a768e,#24868e,#1fa187,#31b57b,#21a585,#228b8d,#287d8e,#287d8e,#228b8d,#21a585,#31b57b,#1fa187,#24868e,#2a768e,#2b758e,#25848e,#21a685,#89d548,#98d83e,#2ab07f,#1f948c,#228d8d,#1f978b,#29af7f,#46c06f,#22a785,#26828e,#2f6b8e,#355f8d,#355e8d,#32648e,#30698e,#31678e,#365d8d,#3a538b,#3c4f8a,#39558c,#31668e,#25838e,#25ab82,#4ec36b,#2fb47c,#1e9c89,#228d8d,#25838e,#29798e,#31678e,#3b518b,#433d84,#472f7d,#482677,#482475,#482475,#482475,#482374,#482071,#481c6e,#481a6c,#48186a,#481a6c,#481d6f,#482374,#482979,#472f7d,#463480,#453882,#443a83,#424086,#3f4788,#3b518b,#355e8d,#2f6c8e,#2a778e,#26818e)"></i>
<i style="top:33.89px;height:2.69px;border-color:#25858e;border-right-color:#25858e;background-image:linear-gradient(90deg,#25858e,#297b8e,#2e6f8e,#34618d,#3a548c,#3e4a89,#414487,#423f85,#443b84,#453781,#46327e,#472a7a,#482475,#481d6f,#481a6c,#48186a,#481a6c,#481c6e,#481f70,#482173,#482374,#482173,#482173,#482475,#472c7a,#453882,#3e4a89,#355f8d,#2d708e,#297a8e,#25838e,#1f948c,#29af7f,#5ac864,#31b57b,#228b8d,#2f6c8e,#375a8c,#3a538b,#39568c,#355f8d,#31678e,#31678e,#34618d,#375b8d,#365c8d,#31678e,#277f8e,#1fa287,#3dbc74,#26ad81,#1f948c,#238a8d,#20928c,#27ad81,#90d743,#98d83e,#25ab82,#23888e,#29798e,#297a8e,#238a8d,#21a585,#2fb47c,#1fa088,#25858e,#2a778e,#2a778e,#25858e,#1fa088,#2fb47c,#21a585,#238a8d,#297a8e,#29798e,#23888e,#25ab82,#98d83e,#90d743,#27ad81,#20928c,#238a8d,#1f948c,#26ad81,#3dbc74,#1fa287,#277f8e,#31678e,#365c8d,#375b8d,#34618d,#31678e,#31678e,#355f8d,#39568c,#3a538b,#375a8c,#2f6c8e,#228b8d,#31b57b,#5ac864,#29af7f,#1f948c,#25838e,#297a8e,#2d708e,#355f8d,#3e4a89,#453882,#472c7a,#482475,#482173,#482173,#482374,#482173,#481f70,#481c6e,#481a6c,#48186a,#481a6c,#481d6f,#482475,#472a7a,#46327e,#453781,#443b84,#423f85,#414487,#3e4a89,#3a548c,#34618d,#2e6f8e,#297b8e,#25858e)"></i>
<i style="top:35.89px;height:2.69px;border-color:#238a8d;border-right-color:#238a8d;background-image:linear-gradient(90deg,#238a8d,#27808e,#2c728e,#32658e,#38598c,#3c4f8a,#3f4788,#414287,#423f85,#443a83,#463480,#472d7b,#482576,#481f70,#481b6d,#481a6c,#481a6c,#481c6e,#481f70,#482173,#482071,#481f70,#481f70,#482173,#482878,#463480,#404588,#38588c,#31678e,#2d718e,#297b8e,#228b8d,#23a983,#5ec962,#42be71,#20928c,#2c718e,#355e8d,#39568c,#375a8c,#34618d,#31688e,#31668e,#355e8d,#38588c,#38598c,#32648e,#287c8e,#1f9f88,#35b779,#24aa83,#20928c,#23888e,#218f8d,#24aa83,#84d44b,#aadc32,#29af7f,#228c8d,#287d8e,#277e8e,#218f8d,#23a983,#2eb37c,#1e9b8a,#27808e,#2c718e,#2c718e,#27808e,#1e9b8a,#2eb37c,#23a983,#218f8d,#277e8e,#287d8e,#228c8d,#29af7f,#aadc32,#84d44b,#24aa83,#218f8d,#23888e,#20928c,#24aa83,#35b779,#1f9f88,#287c8e,#32648e,#38598c,#38588c,#355e8d,#31668e,#31688e,#34618d,#375a8c,#39568c,#355e8d,#2c718e,#20928c,#42be71,#5ec962,#23a983,#228b8d,#297b8e,#2d718e,#31678e,#38588c,#404588,#463480,#482878,#482173,#481f70,#481f70,#482071,#482173,#481f70,#481c6e,#481a6c,#481a6c,#481b6d,#481f70,#482576,#472d7b,#463480,#443a83,#423f85,#414287,#3f4788,#3c4f8a,#38598c,#32658e,#2c728e,#27808e,#238a8d)"></i>
<i style="top:37.88px;height:2.69px;border-color:#218f8d;border-right-color:#218f8d;background-image:linear-gradient(90deg,#218f8d,#25838e,#2b758e,#31688e,#365c8d,#3b528b,#3e4c8a,#3f4788,#414287,#433e85,#453781,#472e7c,#482677,#482071,#481b6d,#481a6c,#481b6d,#481c6e,#481f70,#482071,#481f70,#481d6f,#481d6f,#481f70,#482576,#46307e,#424086,#3b518b,#355f8d,#31688e,#2c718e,#26828e,#1fa088,#58c765,#58c765,#1e9c89,#2a788e,#32648e,#365c8d,#365d8d,#32648e,#30698e,#32658e,#365c8d,#3a548c,#39558c,#33628d,#29798e,#1e9b8a,#2eb37c,#21a685,#21908d,#25858e,#228c8d,#21a685,#77d153,#bade28,#2fb47c,#21918c,#26818e,#26828e,#20938c,#26ad81,#2db27d,#1f968b,#297b8e,#2e6d8e,#2e6d8e,#297b8e,#1f968b,#2db27d,#26ad81,#20938c,#26828e,#26818e,#21918c,#2fb47c,#bade28,#77d153,#21a685,#228c8d,#25858e,#21908d,#21a685,#2eb37c,#1e9b8a,#29798e,#33628d,#39558c,#3a548c,#365c8d,#32658e,#30698e,#32648e,#365d8d,#365c8d,#32648e,#2a788e,#1e9c89,#58c765,#58c765,#1fa088,#26828e,#2c718e,#31688e,#355f8d,#3b518b,#424086,#46307e,#482576,#481f70,#481d6f,#481d6f,#481f70,#482071,#481f70,#481c6e,#481b6d,#481a6c,#481b6d,#482071,#482677,#472e7c,#453781,#433e85,#414287,#3f4788,#3e4c8a,#3b528b,#365c8d,#31688e,#2b758e,#25838e,#218f8d)"></i>
<i style="top:39.87px;height:2.69px;border-color:#20928c;border-right-color:#20928c;background-image:linear-gradient(90deg,#20928c,#24878e,#29798e,#2f6b8e,#34608d,#39568c,#3c508b,#3e4c8a,#3f4788,#424186,#443a83,#46307e,#482878,#482173,#481c6e,#481b6d,#481b6d,#481d6f,#481f70,#481f70,#481d6f,#481c6e,#481b6d,#481d6f,#482374,#472d7b,#443b84,#3e4a89,#39568c,#355f8d,#30698e,#29798e,#1f968b,#48c16e,#6ece58,#21a585,#277f8e,#306a8e,#34618d,#33628d,#31678e,#306a8e,#32648e,#375a8c,#3b528b,#3a538b,#355f8d,#2a768e,#1f978b,#28ae80,#1fa187,#228c8d,#26828e,#23898e,#1fa287,#6ccd5a,#cde11d,#38b977,#1f958b,#25858e,#24878e,#1f998a,#2db27d,#2cb17e,#20928c,#2a778e,#30698e,#30698e,#2a778e,#20928c,#2cb17e,#2db27d,#1f998a,#24878e,#25858e,#1f958b,#38b977,#cde11d,#6ccd5a,#1fa287,#23898e,#26828e,#228c8d,#1fa187,#28ae80,#1f978b,#2a768e,#355f8d,#3a538b,#3b528b,#375a8c,#32648e,#306a8e,#31678e,#33628d,#34618d,#306a8e,#277f8e,#21a585,#6ece58,#48c16e,#1f968b,#29798e,#30698e,#355f8d,#39568c,#3e4a89,#443b84,#472d7b,#482374,#481d6f,#481b6d,#481c6e,#481d6f,#481f70,#481f70,#481d6f,#481b6d,#481b6d,#481c6e,#482173,#482878,#46307e,#443a83,#424186,#3f4788,#3e4c8a,#3c508b,#39568c,#34608d,#2f6b8e,#29798e,#24878e,#20928c)"></i>
<i style="top:41.86px;height:2.69px;border-color:#1f978b;border-right-color:#1f978b;background-image:linear-gradient(90deg,#1f978b,#228b8d,#287c8e,#2e6f8e,#33638d,#375b8d,#3a548c,#3c508b,#3e4c8a,#404588,#433d84,#46337f,#482979,#482374,#481d6f,#481c6e,#481c6e,#481d6f,#481f70,#481f70,#481d6f,#481b6d,#481a6c,#481c6e,#482173,#472a7a,#453781,#404588,#3c4f8a,#39568c,#34608d,#2d708e,#228c8d,#35b779,#7cd250,#29af7f,#24878e,#2d708e,#31668e,#31668e,#2f6b8e,#2f6c8e,#32648e,#38598c,#3c508b,#3b518b,#365d8d,#2c738e,#20938c,#24aa83,#1f9e89,#23898e,#277f8e,#25858e,#1f9e89,#5ec962,#dfe318,#42be71,#1f9a8a,#238a8d,#228c8d,#1f9f88,#34b679,#2cb17e,#218f8d,#2c738e,#32658e,#32658e,#2c738e,#218f8d,#2cb17e,#34b679,#1f9f88,#228c8d,#238a8d,#1f9a8a,#42be71,#dfe318,#5ec962,#1f9e89,#25858e,#277f8e,#23898e,#1f9e89,#24aa83,#20938c,#2c738e,#365d8d,#3b518b,#3c508b,#38598c,#32648e,#2f6c8e,#2f6b8e,#31668e,#31668e,#2d708e,#24878e,#29af7f,#7cd250,#35b779,#228c8d,#2d708e,#34608d,#39568c,#3c4f8a,#404588,#453781,#472a7a,#482173,#481c6e,#481a6c,#481b6d,#481d6f,#481f70,#481f70,#481d6f,#481c6e,#481c6e,#481d6f,#482374,#482979,#46337f,#433d84,#404588,#3e4c8a,#3c508b,#3a548c,#375b8d,#33638d,#2e6f8e,#287c8e,#228b8d,#1f978b)"></i>
<i style="top:43.86px;height:2.69px;border-color:#1e9c89;border-right-color:#1e9c89;background-image:linear-gradient(90deg,#1e9c89,#218f8d,#27808e,#2c718e,#31678e,#355f8d,#38598c,#3a548c,#3c508b,#3e4989,#424086,#453581,#472c7a,#482475,#481f70,#481d6f,#481d6f,#481f70,#481f70,#481f70,#481c6e,#481a6c,#48186a,#481b6d,#481f70,#482878,#46337f,#423f85,#3f4889,#3c4f8a,#38588c,#31678e,#26828e,#26ad81,#7ad151,#37b878,#21908d,#2a768e,#2f6c8e,#2f6c8e,#2e6f8e,#2e6e8e,#32648e,#38588c,#3c4f8a,#3c4f8a,#375b8d,#2c718e,#21918c,#21a585,#1f9a8a,#25858e,#287c8e,#26828e,#1f9a8a,#52c569,#eae51a,#4ec36b,#1f9f88,#218f8d,#20928c,#21a585,#3fbc73,#2cb17e,#228c8d,#2d708e,#33628d,#33628d,#2d708e,#228c8d,#2cb17e,#3fbc73,#21a585,#20928c,#218f8d,#1f9f88,#4ec36b,#eae51a,#52c569,#1f9a8a,#26828e,#287c8e,#25858e,#1f9a8a,#21a585,#21918c,#2c718e,#375b8d,#3c4f8a,#3c4f8a,#38588c,#32648e,#2e6e8e,#2e6f8e,#2f6c8e,#2f6c8e,#2a768e,#21908d,#37b878,#7ad151,#26ad81,#26828e,#31678e,#38588c,#3c4f8a,#3f4889,#423f85,#46337f,#482878,#481f70,#481b6d,#48186a,#481a6c,#481c6e,#481f70,#481f70,#481f70,#481d6f,#481d6f,#481f70,#482475,#472c7a,#453581,#424086,#3e4989,#3c508b,#3a548c,#38598c,#355f8d,#31678e,#2c718e,#27808e,#218f8d,#1e9c89)"></i>
<i style="top:45.85px;height:2.69px;border-color:#1fa188;border-right-color:#1fa188;background-image:linear-gradient(90deg,#1fa188,#20928c,#26828e,#2b758e,#2f6b8e,#33638d,#355e8d,#375a8c,#3a548c,#3d4d8a,#414287,#453882,#472d7b,#482576,#482071,#481f70,#481f70,#481f70,#482071,#481f70,#481c6e,#481a6c,#48186a,#481a6c,#481d6f,#482576,#472f7d,#443a83,#424186,#3f4788,#3c4f8a,#355f8d,#2a788e,#1fa187,#69cd5b,#48c16e,#1f988b,#277e8e,#2c728e,#2c718e,#2c738e,#2d718e,#32658e,#39568c,#3d4e8a,#3d4e8a,#38598c,#2d708e,#228d8d,#1fa188,#1f958b,#26828e,#2a788e,#277f8e,#1f958b,#46c06f,#e5e419,#5ac864,#20a386,#20938c,#1f968b,#25ac82,#4cc26c,#2cb17e,#238a8d,#2e6d8e,#355f8d,#355f8d,#2e6d8e,#238a8d,#2cb17e,#4cc26c,#25ac82,#1f968b,#20938c,#20a386,#5ac864,#e5e419,#46c06f,#1f958b,#277f8e,#2a788e,#26828e,#1f958b,#1fa188,#228d8d,#2d708e,#38598c,#3d4e8a,#3d4e8a,#39568c,#32658e,#2d718e,#2c738e,#2c718e,#2c728e,#277e8e,#1f988b,#48c16e,#69cd5b,#1fa187,#2a788e,#355f8d,#3c4f8a,#3f4788,#424186,#443a83,#472f7d,#482576,#481d6f,#481a6c,#48186a,#481a6c,#481c6e,#481f70,#482071,#481f70,#481f70,#481f70,#482071,#482576,#472d7b,#453882,#414287,#3d4d8a,#3a548c,#375a8c,#355e8d,#33638d,#2f6b8e,#2b758e,#26828e,#20928c,#1fa188)"></i>
<i style="top:47.84px;height:2.69px;border-color:#20a486;border-right-color:#20a486;background-image:linear-gradient(90deg,#20a486,#1f958b,#24868e,#29798e,#2e6f8e,#31678e,#33628d,#355e8d,#38598c,#3b518b,#404688,#443a83,#472f7d,#482878,#482374,#482071,#482071,#482071,#482071,#481f70,#481b6d,#48186a,#481769,#48186a,#481c6e,#482374,#472d7b,#453581,#443b84,#424086,#3f4889,#39568c,#2e6f8e,#1f958b,#52c569,#56c667,#1fa188,#25858e,#29798e,#2a788e,#29798e,#2c738e,#31668e,#39568c,#3d4d8a,#3d4d8a,#38588c,#2e6e8e,#228b8d,#1e9d89,#20928c,#277e8e,#2b758e,#297b8e,#20928c,#3bbb75,#d2e21b,#65cb5e,#22a884,#1f988b,#1e9c89,#2db27d,#5ac864,#2cb17e,#24878e,#2f6b8e,#365c8d,#365c8d,#2f6b8e,#24878e,#2cb17e,#5ac864,#2db27d,#1e9c89,#1f988b,#22a884,#65cb5e,#d2e21b,#3bbb75,#20928c,#297b8e,#2b758e,#277e8e,#20928c,#1e9d89,#228b8d,#2e6e8e,#38588c,#3d4d8a,#3d4d8a,#39568c,#31668e,#2c738e,#29798e,#2a788e,#29798e,#25858e,#1fa188,#56c667,#52c569,#1f958b,#2e6f8e,#39568c,#3f4889,#424086,#443b84,#453581,#472d7b,#482374,#481c6e,#48186a,#481769,#48186a,#481b6d,#481f70,#482071,#482071,#482071,#482071,#482374,#482878,#472f7d,#443a83,#404688,#3b518b,#38598c,#355e8d,#33628d,#31678e,#2e6f8e,#29798e,#24868e,#1f958b,#20a486)"></i>
<i style="top:49.84px;height:2.69px;border-color:#23a983;border-right-color:#23a983;background-image:linear-gradient(90deg,#23a983,#1f998a,#238a8d,#287d8e,#2c728e,#2f6c8e,#31678e,#33638d,#355e8d,#39558c,#3e4989,#433d84,#46327e,#482979,#482475,#482173,#482173,#482173,#482173,#481f70,#481b6d,#48186a,#481769,#481769,#481b6d,#482173,#472a7a,#46327e,#453781,#443a83,#424186,#3d4e8a,#31668e,#228b8d,#3aba76,#5cc863,#22a884,#228d8d,#26818e,#277f8e,#277f8e,#2a778e,#31678e,#39568c,#3d4d8a,#3e4c8a,#39568c,#2e6d8e,#23888e,#1f988b,#228d8d,#297b8e,#2c718e,#2a778e,#218e8d,#34b679,#c0df25,#70cf57,#26ad81,#1e9c89,#1fa187,#38b977,#6ccd5a,#2db27d,#24868e,#30698e,#375a8c,#375a8c,#30698e,#24868e,#2db27d,#6ccd5a,#38b977,#1fa187,#1e9c89,#26ad81,#70cf57,#c0df25,#34b679,#218e8d,#2a778e,#2c718e,#297b8e,#228d8d,#1f988b,#23888e,#2e6d8e,#39568c,#3e4c8a,#3d4d8a,#39568c,#31678e,#2a778e,#277f8e,#277f8e,#26818e,#228d8d,#22a884,#5cc863,#3aba76,#228b8d,#31668e,#3d4e8a,#424186,#443a83,#453781,#46327e,#472a7a,#482173,#481b6d,#481769,#481769,#48186a,#481b6d,#481f70,#482173,#482173,#482173,#482173,#482475,#482979,#46327e,#433d84,#3e4989,#39558c,#355e8d,#33638d,#31678e,#2f6c8e,#2c728e,#287d8e,#238a8d,#1f998a,#23a983)"></i>
<i style="top:51.83px;height:2.69px;border-color:#26ad81;border-right-color:#26ad81;background-image:linear-gradient(90deg,#26ad81,#1e9d89,#228d8d,#26818e,#2a768e,#2d718e,#2f6c8e,#31688e,#33628d,#375a8c,#3d4d8a,#424086,#463480,#472c7a,#482677,#482475,#482475,#482374,#482173,#481f70,#481b6d,#481769,#481668,#481769,#481a6c,#482071,#482878,#472e7c,#46327e,#463480,#443a83,#3f4788,#355e8d,#26818e,#28ae80,#56c667,#28ae80,#1f948c,#23888e,#24868e,#25858e,#297b8e,#30698e,#39568c,#3d4d8a,#3e4c8a,#39568c,#2f6c8e,#24868e,#1f958b,#23898e,#2a778e,#2e6f8e,#2b748e,#238a8d,#2db27d,#aadc32,#77d153,#29af7f,#1fa088,#21a585,#44bf70,#81d34d,#2eb37c,#25848e,#31678e,#38598c,#38598c,#31678e,#25848e,#2eb37c,#81d34d,#44bf70,#21a585,#1fa088,#29af7f,#77d153,#aadc32,#2db27d,#238a8d,#2b748e,#2e6f8e,#2a778e,#23898e,#1f958b,#24868e,#2f6c8e,#39568c,#3e4c8a,#3d4d8a,#39568c,#30698e,#297b8e,#25858e,#24868e,#23888e,#1f948c,#28ae80,#56c667,#28ae80,#26818e,#355e8d,#3f4788,#443a83,#463480,#46327e,#472e7c,#482878,#482071,#481a6c,#481769,#481668,#481769,#481b6d,#481f70,#482173,#482374,#482475,#482475,#482677,#472c7a,#463480,#424086,#3d4d8a,#375a8c,#33628d,#31688e,#2f6c8e,#2d718e,#2a768e,#26818e,#228d8d,#1e9d89,#26ad81)"></i>
<i style="top:53.82px;height:2.69px;border-color:#2ab07f;border-right-color:#2ab07f;background-image:linear-gradient(90deg,#2ab07f,#1fa188,#21918c,#25848e,#297b8e,#2b758e,#2c718e,#2e6d8e,#31678e,#355e8d,#3b518b,#414487,#453882,#472e7c,#482979,#482677,#482576,#482576,#482374,#481f70,#481b6d,#481769,#481668,#481668,#481a6c,#481f70,#482576,#472a7a,#472d7b,#472f7d,#463480,#424086,#39558c,#2a768e,#1fa187,#46c06f,#2db27d,#1e9b8a,#21908d,#218e8d,#228d8d,#27808e,#2f6b8e,#38588c,#3d4d8a,#3e4c8a,#39558c,#2f6b8e,#25848e,#20928c,#25858e,#2c738e,#2f6c8e,#2c718e,#24868e,#27ad81,#95d840,#7cd250,#2db27d,#1fa287,#23a983,#52c569,#98d83e,#2fb47c,#25838e,#31668e,#38588c,#38588c,#31668e,#25838e,#2fb47c,#98d83e,#52c569,#23a983,#1fa287,#2db27d,#7cd250,#95d840,#27ad81,#24868e,#2c718e,#2f6c8e,#2c738e,#25858e,#20928c,#25848e,#2f6b8e,#39558c,#3e4c8a,#3d4d8a,#38588c,#2f6b8e,#27808e,#228d8d,#218e8d,#21908d,#1e9b8a,#2db27d,#46c06f,#1fa187,#2a768e,#39558c,#424086,#463480,#472f7d,#472d7b,#472a7a,#482576,#481f70,#481a6c,#481668,#481668,#481769,#481b6d,#481f70,#482374,#482576,#482576,#482677,#482979,#472e7c,#453882,#414487,#3b518b,#355e8d,#31678e,#2e6d8e,#2c718e,#2b758e,#297b8e,#25848e,#21918c,#1fa188,#2ab07f)"></i>
<i style="top:55.81px;height:2.69px;border-color:#31b57b;border-right-color:#31b57b;background-image:linear-gradient(90deg,#31b57b,#20a486,#1f948c,#23888e,#277f8e,#297a8e,#2a768e,#2c728e,#2f6c8e,#34618d,#3a548c,#404688,#443a83,#46327e,#472c7a,#482979,#482878,#482677,#482475,#482071,#481b6d,#481769,#481668,#481668,#48186a,#481d6f,#482374,#482878,#482979,#472a7a,#472f7d,#443a83,#3d4e8a,#2e6e8e,#1f958b,#34b679,#2db27d,#1fa088,#1f968b,#1f968b,#1f948c,#25858e,#2e6e8e,#375a8c,#3d4d8a,#3e4c8a,#39558c,#2f6b8e,#26828e,#218f8d,#26828e,#2d718e,#30698e,#2e6f8e,#26828e,#23a983,#84d44b,#7ad151,#2eb37c,#20a486,#25ac82,#5cc863,#b2dd2d,#31b57b,#25838e,#32658e,#39568c,#39568c,#32658e,#25838e,#31b57b,#b2dd2d,#5cc863,#25ac82,#20a486,#2eb37c,#7ad151,#84d44b,#23a983,#26828e,#2e6f8e,#30698e,#2d718e,#26828e,#218f8d,#26828e,#2f6b8e,#39558c,#3e4c8a,#3d4d8a,#375a8c,#2e6e8e,#25858e,#1f948c,#1f968b,#1f968b,#1fa088,#2db27d,#34b679,#1f958b,#2e6e8e,#3d4e8a,#443a83,#472f7d,#472a7a,#482979,#482878,#482374,#481d6f,#48186a,#481668,#481668,#481769,#481b6d,#482071,#482475,#482677,#482878,#482979,#472c7a,#46327e,#443a83,#404688,#3a548c,#34618d,#2f6c8e,#2c728e,#2a768e,#297a8e,#277f8e,#23888e,#1f948c,#20a486,#31b57b)"></i>
<i style="top:57.81px;height:2.69px;border-color:#37b878;border-right-color:#37b878;background-image:linear-gradient(90deg,#37b878,#22a785,#1f988b,#228c8d,#25838e,#277f8e,#297b8e,#2a778e,#2d718e,#32658e,#38588c,#3e4989,#433e85,#463480,#472e7c,#472c7a,#472a7a,#482979,#482576,#482071,#481b6d,#481769,#481668,#481668,#48186a,#481d6f,#482173,#482576,#482576,#482677,#472a7a,#463480,#3f4788,#32658e,#238a8d,#25ab82,#28ae80,#1fa287,#1e9c89,#1f9e89,#1e9d89,#228b8d,#2c718e,#375b8d,#3d4e8a,#3d4d8a,#39568c,#306a8e,#26828e,#228c8d,#277f8e,#2e6e8e,#31668e,#2f6c8e,#27808e,#21a585,#73d056,#73d056,#2eb37c,#21a585,#26ad81,#63cb5f,#cde11d,#32b67a,#25838e,#32658e,#39568c,#39568c,#32658e,#25838e,#32b67a,#cde11d,#63cb5f,#26ad81,#21a585,#2eb37c,#73d056,#73d056,#21a585,#27808e,#2f6c8e,#31668e,#2e6e8e,#277f8e,#228c8d,#26828e,#306a8e,#39568c,#3d4d8a,#3d4e8a,#375b8d,#2c718e,#228b8d,#1e9d89,#1f9e89,#1e9c89,#1fa287,#28ae80,#25ab82,#238a8d,#32658e,#3f4788,#463480,#472a7a,#482677,#482576,#482576,#482173,#481d6f,#48186a,#481668,#481668,#481769,#481b6d,#482071,#482576,#482979,#472a7a,#472c7a,#472e7c,#463480,#433e85,#3e4989,#38588c,#32658e,#2d718e,#2a778e,#297b8e,#277f8e,#25838e,#228c8d,#1f988b,#22a785,#37b878)"></i>
<i style="top:59.80px;height:2.69px;border-color:#3dbc74;border-right-color:#3dbc74;background-image:linear-gradient(90deg,#3dbc74,#25ab82,#1e9c89,#21908d,#23888e,#25838e,#26818e,#287d8e,#2b748e,#30698e,#375b8d,#3d4d8a,#424086,#453882,#46327e,#472f7d,#472d7b,#472c7a,#482677,#482173,#481c6e,#481769,#481668,#481668,#48186a,#481c6e,#482071,#482374,#482374,#482374,#482677,#472f7d,#424186,#365d8d,#277f8e,#1f9f88,#22a884,#1fa187,#1fa088,#21a585,#21a585,#20928c,#2b758e,#355e8d,#3c508b,#3d4e8a,#38588c,#2f6b8e,#26818e,#23898e,#297b8e,#2f6b8e,#32648e,#30698e,#287d8e,#1fa187,#63cb5f,#67cc5c,#2cb17e,#20a486,#26ad81,#63cb5f,#e7e419,#35b779,#25848e,#32658e,#39568c,#39568c,#32658e,#25848e,#35b779,#e7e419,#63cb5f,#26ad81,#20a486,#2cb17e,#67cc5c,#63cb5f,#1fa187,#287d8e,#30698e,#32648e,#2f6b8e,#297b8e,#23898e,#26818e,#2f6b8e,#38588c,#3d4e8a,#3c508b,#355e8d,#2b758e,#20928c,#21a585,#21a585,#1fa088,#1fa187,#22a884,#1f9f88,#277f8e,#365d8d,#424186,#472f7d,#482677,#482374,#482374,#482374,#482071,#481c6e,#48186a,#481668,#481668,#481769,#481c6e,#482173,#482677,#472c7a,#472d7b,#472f7d,#46327e,#453882,#424086,#3d4d8a,#375b8d,#30698e,#2b748e,#287d8e,#26818e,#25838e,#23888e,#21908d,#1e9c89,#25ab82,#3dbc74)"></i>
<i style="top:61.79px;height:2.69px;border-color:#44bf70;border-right-color:#44bf70;background-image:linear-gradient(90deg,#44bf70,#28ae80,#1fa088,#1f948c,#228d8d,#23898e,#24868e,#26828e,#29798e,#2e6d8e,#355f8d,#3c508b,#414487,#443b84,#453581,#46327e,#46307e,#472d7b,#482979,#482374,#481c6e,#48186a,#481668,#481668,#48186a,#481c6e,#481f70,#482071,#482071,#482071,#482374,#472a7a,#443b84,#3a548c,#2b758e,#20928c,#1f9f88,#1f9f88,#1fa188,#25ab82,#28ae80,#1f998a,#29798e,#34608d,#3b528b,#3c4f8a,#38598c,#2f6b8e,#26818e,#24878e,#2a788e,#31688e,#34618d,#31678e,#297a8e,#1f9e89,#54c568,#58c765,#28ae80,#1fa187,#24aa83,#5cc863,#e7e419,#38b977,#25858e,#31668e,#39568c,#39568c,#31668e,#25858e,#38b977,#e7e419,#5cc863,#24aa83,#1fa187,#28ae80,#58c765,#54c568,#1f9e89,#297a8e,#31678e,#34618d,#31688e,#2a788e,#24878e,#26818e,#2f6b8e,#38598c,#3c4f8a,#3b528b,#34608d,#29798e,#1f998a,#28ae80,#25ab82,#1fa188,#1f9f88,#1f9f88,#20928c,#2b758e,#3a548c,#443b84,#472a7a,#482374,#482071,#482071,#482071,#481f70,#481c6e,#48186a,#481668,#481668,#48186a,#481c6e,#482374,#482979,#472d7b,#46307e,#46327e,#453581,#443b84,#414487,#3c508b,#355f8d,#2e6d8e,#29798e,#26828e,#24868e,#23898e,#228d8d,#1f948c,#1fa088,#28ae80,#44bf70)"></i>
<i style="top:63.79px;height:2.69px;border-color:#4cc26c;border-right-color:#4cc26c;background-image:linear-gradient(90deg,#4cc26c,#2db27d,#20a386,#1f988b,#20928c,#218e8d,#228c8d,#24868e,#277e8e,#2d718e,#33628d,#3a538b,#3f4788,#423f85,#443983,#453581,#46337f,#46307e,#472a7a,#482475,#481c6e,#48186a,#481668,#481668,#48186a,#481b6d,#481d6f,#481f70,#481d6f,#481d6f,#482071,#482677,#453581,#3d4e8a,#2f6c8e,#24868e,#1f948c,#1f988b,#1f9f88,#27ad81,#34b679,#1fa187,#277f8e,#32648e,#3a548c,#3b518b,#375a8c,#2f6c8e,#26818e,#25848e,#2a768e,#31668e,#355f8d,#32658e,#2a788e,#1e9b8a,#48c16e,#4ac16d,#24aa83,#1f9e89,#21a685,#52c569,#d0e11c,#3aba76,#24868e,#31678e,#38588c,#38588c,#31678e,#24868e,#3aba76,#d0e11c,#52c569,#21a685,#1f9e89,#24aa83,#4ac16d,#48c16e,#1e9b8a,#2a788e,#32658e,#355f8d,#31668e,#2a768e,#25848e,#26818e,#2f6c8e,#375a8c,#3b518b,#3a548c,#32648e,#277f8e,#1fa187,#34b679,#27ad81,#1f9f88,#1f988b,#1f948c,#24868e,#2f6c8e,#3d4e8a,#453581,#482677,#482071,#481d6f,#481d6f,#481f70,#481d6f,#481b6d,#48186a,#481668,#481668,#48186a,#481c6e,#482475,#472a7a,#46307e,#46337f,#453581,#443983,#423f85,#3f4788,#3a538b,#33628d,#2d718e,#277e8e,#24868e,#228c8d,#218e8d,#20928c,#1f988b,#20a386,#2db27d,#4cc26c)"></i>
<i style="top:65.78px;height:2.69px;border-color:#54c568;border-right-color:#54c568;background-image:linear-gradient(90deg,#54c568,#32b67a,#22a785,#1e9d89,#1f978b,#20938c,#21918c,#228c8d,#26828e,#2b748e,#31668e,#38588c,#3e4c8a,#414287,#433d84,#443a83,#453781,#46337f,#472d7b,#482576,#481d6f,#48186a,#481769,#481769,#48186a,#481b6d,#481d6f,#481d6f,#481c6e,#481b6d,#481c6e,#482475,#46307e,#3f4788,#33638d,#297b8e,#238a8d,#21918c,#1e9b8a,#28ae80,#42be71,#24aa83,#25848e,#31678e,#39568c,#3a538b,#365c8d,#2e6e8e,#26818e,#25838e,#2c738e,#32648e,#365d8d,#33638d,#2a768e,#1f978b,#3bbb75,#3dbc74,#20a486,#1f998a,#1fa187,#44bf70,#b2dd2d,#3dbc74,#23898e,#30698e,#375a8c,#375a8c,#30698e,#23898e,#3dbc74,#b2dd2d,#44bf70,#1fa187,#1f998a,#20a486,#3dbc74,#3bbb75,#1f978b,#2a768e,#33638d,#365d8d,#32648e,#2c738e,#25838e,#26818e,#2e6e8e,#365c8d,#3a538b,#39568c,#31678e,#25848e,#24aa83,#42be71,#28ae80,#1e9b8a,#21918c,#238a8d,#297b8e,#33638d,#3f4788,#46307e,#482475,#481c6e,#481b6d,#481c6e,#481d6f,#481d6f,#481b6d,#48186a,#481769,#481769,#48186a,#481d6f,#482576,#472d7b,#46337f,#453781,#443a83,#433d84,#414287,#3e4c8a,#38588c,#31668e,#2b748e,#26828e,#228c8d,#21918c,#20938c,#1f978b,#1e9d89,#22a785,#32b67a,#54c568)"></i>
<i style="top:67.77px;height:2.69px;border-color:#5cc863;border-right-color:#5cc863;background-image:linear-gradient(90deg,#5cc863,#38b977,#25ab82,#1fa187,#1e9c89,#1f998a,#1f968b,#21918c,#24868e,#2a788e,#30698e,#375b8d,#3c4f8a,#3f4788,#424186,#433e85,#443a83,#453581,#472e7c,#482677,#481f70,#481a6c,#481769,#481769,#48186a,#481b6d,#481c6e,#481c6e,#481a6c,#48186a,#481b6d,#482071,#472d7b,#424186,#375b8d,#2d718e,#277f8e,#24878e,#1f948c,#25ac82,#4ec36b,#2eb37c,#238a8d,#2f6b8e,#375a8c,#39558c,#355e8d,#2e6f8e,#26818e,#26828e,#2c718e,#33628d,#375b8d,#34618d,#2b748e,#1f958b,#34b679,#31b57b,#1f9f88,#20938c,#1e9b8a,#37b878,#95d840,#40bd72,#228b8d,#2f6b8e,#365c8d,#365c8d,#2f6b8e,#228b8d,#40bd72,#95d840,#37b878,#1e9b8a,#20938c,#1f9f88,#31b57b,#34b679,#1f958b,#2b748e,#34618d,#375b8d,#33628d,#2c718e,#26828e,#26818e,#2e6f8e,#355e8d,#39558c,#375a8c,#2f6b8e,#238a8d,#2eb37c,#4ec36b,#25ac82,#1f948c,#24878e,#277f8e,#2d718e,#375b8d,#424186,#472d7b,#482071,#481b6d,#48186a,#481a6c,#481c6e,#481c6e,#481b6d,#48186a,#481769,#481769,#481a6c,#481f70,#482677,#472e7c,#453581,#443a83,#433e85,#424186,#3f4788,#3c4f8a,#375b8d,#30698e,#2a788e,#24868e,#21918c,#1f968b,#1f998a,#1e9c89,#1fa187,#25ab82,#38b977,#5cc863)"></i>
<i style="top:69.76px;height:2.69px;border-color:#65cb5e;border-right-color:#65cb5e;background-image:linear-gradient(90deg,#65cb5e,#3fbc73,#29af7f,#21a685,#1fa187,#1f9f88,#1e9c89,#1f958b,#238a8d,#297b8e,#2f6c8e,#355f8d,#3a538b,#3e4c8a,#404688,#414287,#423f85,#443983,#46307e,#482878,#482071,#481b6d,#48186a,#48186a,#481a6c,#481b6d,#481c6e,#481b6d,#48186a,#481769,#48186a,#481d6f,#482979,#443b84,#3b528b,#31678e,#2b748e,#277e8e,#228c8d,#21a685,#54c568,#3fbc73,#20928c,#2d708e,#355e8d,#38598c,#34608d,#2c718e,#26828e,#26818e,#2d708e,#34608d,#375a8c,#34608d,#2c738e,#20928c,#2cb17e,#28ae80,#1f988b,#218e8d,#1f958b,#2ab07f,#7cd250,#44bf70,#218e8d,#2e6e8e,#355e8d,#355e8d,#2e6e8e,#218e8d,#44bf70,#7cd250,#2ab07f,#1f958b,#218e8d,#1f988b,#28ae80,#2cb17e,#20928c,#2c738e,#34608d,#375a8c,#34608d,#2d708e,#26818e,#26828e,#2c718e,#34608d,#38598c,#355e8d,#2d708e,#20928c,#3fbc73,#54c568,#21a685,#228c8d,#277e8e,#2b748e,#31678e,#3b528b,#443b84,#482979,#481d6f,#48186a,#481769,#48186a,#481b6d,#481c6e,#481b6d,#481a6c,#48186a,#48186a,#481b6d,#482071,#482878,#46307e,#443983,#423f85,#414287,#404688,#3e4c8a,#3a538b,#355f8d,#2f6c8e,#297b8e,#238a8d,#1f958b,#1e9c89,#1f9f88,#1fa187,#21a685,#29af7f,#3fbc73,#65cb5e)"></i>
<i style="top:71.76px;height:2.69px;border-color:#6ece58;border-right-color:#6ece58;background-image:linear-gradient(90deg,#6ece58,#46c06f,#2eb37c,#25ab82,#21a685,#20a486,#1fa187,#1f9a8a,#218e8d,#277f8e,#2d708e,#33628d,#38588c,#3c508b,#3e4a89,#3f4788,#414287,#433d84,#46337f,#482979,#482173,#481c6e,#48186a,#48186a,#481a6c,#481c6e,#481c6e,#481a6c,#481769,#481668,#481769,#481b6d,#482576,#453781,#3e4a89,#355e8d,#306a8e,#2c738e,#26828e,#1f9f88,#52c569,#52c569,#1f998a,#2b758e,#34618d,#365c8d,#33638d,#2c738e,#26828e,#27808e,#2e6f8e,#355f8d,#38598c,#355f8d,#2c728e,#21918c,#26ad81,#22a785,#20928c,#24878e,#218e8d,#22a884,#65cb5e,#48c16e,#20928c,#2d718e,#34618d,#34618d,#2d718e,#20928c,#48c16e,#65cb5e,#22a884,#218e8d,#24878e,#20928c,#22a785,#26ad81,#21918c,#2c728e,#355f8d,#38598c,#355f8d,#2e6f8e,#27808e,#26828e,#2c738e,#33638d,#365c8d,#34618d,#2b758e,#1f998a,#52c569,#52c569,#1f9f88,#26828e,#2c738e,#306a8e,#355e8d,#3e4a89,#453781,#482576,#481b6d,#481769,#481668,#481769,#481a6c,#481c6e,#481c6e,#481a6c,#48186a,#48186a,#481c6e,#482173,#482979,#46337f,#433d84,#414287,#3f4788,#3e4a89,#3c508b,#38588c,#33628d,#2d708e,#277f8e,#218e8d,#1f9a8a,#1fa187,#20a486,#21a685,#25ab82,#2eb37c,#46c06f,#6ece58)"></i>
<i style="top:73.75px;height:2.69px;border-color:#77d153;border-right-color:#77d153;background-image:linear-gradient(90deg,#77d153,#4ec36b,#35b779,#29af7f,#25ac82,#24aa83,#21a685,#1f9f88,#20928c,#26828e,#2c728e,#31668e,#365c8d,#3a548c,#3c508b,#3e4c8a,#3f4788,#424086,#453581,#472c7a,#482374,#481d6f,#481a6c,#481a6c,#481b6d,#481c6e,#481b6d,#48186a,#481668,#481467,#481467,#481a6c,#482374,#46327e,#404588,#3a548c,#34608d,#306a8e,#29798e,#1f958b,#46c06f,#67cc5c,#1fa188,#297b8e,#31668e,#34608d,#31678e,#2a768e,#25848e,#27808e,#2e6e8e,#365d8d,#38588c,#355e8d,#2c718e,#21908d,#22a884,#1fa188,#228c8d,#26828e,#24878e,#1fa088,#52c569,#4ac16d,#1f968b,#2b748e,#32658e,#32658e,#2b748e,#1f968b,#4ac16d,#52c569,#1fa088,#24878e,#26828e,#228c8d,#1fa188,#22a884,#21908d,#2c718e,#355e8d,#38588c,#365d8d,#2e6e8e,#27808e,#25848e,#2a768e,#31678e,#34608d,#31668e,#297b8e,#1fa188,#67cc5c,#46c06f,#1f958b,#29798e,#306a8e,#34608d,#3a548c,#404588,#46327e,#482374,#481a6c,#481467,#481467,#481668,#48186a,#481b6d,#481c6e,#481b6d,#481a6c,#481a6c,#481d6f,#482374,#472c7a,#453581,#424086,#3f4788,#3e4c8a,#3c508b,#3a548c,#365c8d,#31668e,#2c728e,#26828e,#20928c,#1f9f88,#21a685,#24aa83,#25ac82,#29af7f,#35b779,#4ec36b,#77d153)"></i>
<i style="top:75.74px;height:2.69px;border-color:#81d34d;border-right-color:#81d34d;background-image:linear-gradient(90deg,#81d34d,#56c667,#3dbc74,#31b57b,#2cb17e,#29af7f,#25ac82,#1fa287,#1f948c,#25848e,#2a768e,#306a8e,#34608d,#375a8c,#3a548c,#3b518b,#3e4c8a,#414487,#443983,#472e7c,#482475,#481f70,#481b6d,#481b6d,#481c6e,#481c6e,#481b6d,#48186a,#481668,#471365,#481467,#48186a,#482071,#472e7c,#433e85,#3d4d8a,#39568c,#34608d,#2d708e,#228c8d,#37b878,#77d153,#24aa83,#26818e,#2f6b8e,#32648e,#306a8e,#29798e,#24868e,#27808e,#2e6d8e,#365d8d,#39568c,#355e8d,#2d718e,#218f8d,#20a486,#1f9a8a,#25858e,#297b8e,#26818e,#1f988b,#40bd72,#4ec36b,#1e9b8a,#29798e,#30698e,#30698e,#29798e,#1e9b8a,#4ec36b,#40bd72,#1f988b,#26818e,#297b8e,#25858e,#1f9a8a,#20a486,#218f8d,#2d718e,#355e8d,#39568c,#365d8d,#2e6d8e,#27808e,#24868e,#29798e,#306a8e,#32648e,#2f6b8e,#26818e,#24aa83,#77d153,#37b878,#228c8d,#2d708e,#34608d,#39568c,#3d4d8a,#433e85,#472e7c,#482071,#48186a,#481467,#471365,#481668,#48186a,#481b6d,#481c6e,#481c6e,#481b6d,#481b6d,#481f70,#482475,#472e7c,#443983,#414487,#3e4c8a,#3b518b,#3a548c,#375a8c,#34608d,#306a8e,#2a768e,#25848e,#1f948c,#1fa287,#25ac82,#29af7f,#2cb17e,#31b57b,#3dbc74,#56c667,#81d34d)"></i>
<i style="top:77.74px;height:2.69px;border-color:#8bd646;border-right-color:#8bd646;background-image:linear-gradient(90deg,#8bd646,#5ec962,#44bf70,#38b977,#34b679,#31b57b,#2ab07f,#21a685,#1f978b,#24878e,#29798e,#2e6d8e,#32648e,#355e8d,#375a8c,#39568c,#3c508b,#3f4788,#443b84,#472f7d,#482677,#482071,#481d6f,#481c6e,#481d6f,#481d6f,#481b6d,#48186a,#481467,#471164,#471365,#481668,#481d6f,#472a7a,#453882,#404588,#3d4e8a,#38588c,#31678e,#26828e,#28ae80,#7cd250,#2db27d,#24878e,#2d708e,#31688e,#2e6e8e,#287d8e,#23888e,#27808e,#2f6c8e,#365c8d,#39568c,#355e8d,#2d718e,#218e8d,#1fa188,#1f948c,#27808e,#2b758e,#297a8e,#21918c,#32b67a,#50c46a,#1fa088,#277e8e,#2e6e8e,#2e6e8e,#277e8e,#1fa088,#50c46a,#32b67a,#21918c,#297a8e,#2b758e,#27808e,#1f948c,#1fa188,#218e8d,#2d718e,#355e8d,#39568c,#365c8d,#2f6c8e,#27808e,#23888e,#287d8e,#2e6e8e,#31688e,#2d708e,#24878e,#2db27d,#7cd250,#28ae80,#26828e,#31678e,#38588c,#3d4e8a,#404588,#453882,#472a7a,#481d6f,#481668,#471365,#471164,#481467,#48186a,#481b6d,#481d6f,#481d6f,#481c6e,#481d6f,#482071,#482677,#472f7d,#443b84,#3f4788,#3c508b,#39568c,#375a8c,#355e8d,#32648e,#2e6d8e,#29798e,#24878e,#1f978b,#21a685,#2ab07f,#31b57b,#34b679,#38b977,#44bf70,#5ec962,#8bd646)"></i>
<i style="top:79.73px;height:2.69px;border-color:#93d741;border-right-color:#93d741;background-image:linear-gradient(90deg,#93d741,#69cd5b,#4ec36b,#42be71,#3dbc74,#3aba76,#32b67a,#24aa83,#1e9b8a,#238a8d,#287c8e,#2d718e,#30698e,#33638d,#34608d,#365c8d,#39558c,#3e4c8a,#423f85,#46327e,#482878,#482173,#481f70,#481f70,#481f70,#481f70,#481c6e,#48186a,#481467,#471164,#471164,#481467,#481c6e,#482677,#46337f,#433e85,#404688,#3d4e8a,#355e8d,#2a788e,#20a386,#73d056,#3aba76,#218e8d,#2b748e,#2e6d8e,#2c728e,#26818e,#228b8d,#26818e,#2f6c8e,#365c8d,#39568c,#355e8d,#2c718e,#228d8d,#1e9d89,#218f8d,#297a8e,#2d708e,#2b748e,#23898e,#28ae80,#52c569,#21a685,#25838e,#2c728e,#2c728e,#25838e,#21a685,#52c569,#28ae80,#23898e,#2b748e,#2d708e,#297a8e,#218f8d,#1e9d89,#228d8d,#2c718e,#355e8d,#39568c,#365c8d,#2f6c8e,#26818e,#228b8d,#26818e,#2c728e,#2e6d8e,#2b748e,#218e8d,#3aba76,#73d056,#20a386,#2a788e,#355e8d,#3d4e8a,#404688,#433e85,#46337f,#482677,#481c6e,#481467,#471164,#471164,#481467,#48186a,#481c6e,#481f70,#481f70,#481f70,#481f70,#482173,#482878,#46327e,#423f85,#3e4c8a,#39558c,#365c8d,#34608d,#33638d,#30698e,#2d718e,#287c8e,#238a8d,#1e9b8a,#24aa83,#32b67a,#3aba76,#3dbc74,#42be71,#4ec36b,#69cd5b,#93d741)"></i>
<i style="top:81.72px;height:2.69px;border-color:#9dd93b;border-right-color:#9dd93b;background-image:linear-gradient(90deg,#9dd93b,#73d056,#5ac864,#4ec36b,#4ac16d,#46c06f,#3aba76,#27ad81,#1f9e89,#228d8d,#27808e,#2b748e,#2e6e8e,#30698e,#32658e,#34618d,#375a8c,#3c4f8a,#414287,#453581,#472a7a,#482475,#482173,#482071,#482071,#481f70,#481c6e,#481769,#471365,#471063,#471164,#481467,#481b6d,#482475,#472e7c,#453882,#433e85,#404688,#3a548c,#2e6f8e,#1f988b,#60ca60,#48c16e,#1f948c,#297a8e,#2c718e,#2a778e,#25858e,#218e8d,#26828e,#2f6c8e,#365c8d,#39568c,#355e8d,#2c718e,#228d8d,#1f9a8a,#238a8d,#2b748e,#306a8e,#2e6f8e,#26828e,#22a884,#52c569,#26ad81,#238a8d,#2a788e,#2a788e,#238a8d,#26ad81,#52c569,#22a884,#26828e,#2e6f8e,#306a8e,#2b748e,#238a8d,#1f9a8a,#228d8d,#2c718e,#355e8d,#39568c,#365c8d,#2f6c8e,#26828e,#218e8d,#25858e,#2a778e,#2c718e,#297a8e,#1f948c,#48c16e,#60ca60,#1f988b,#2e6f8e,#3a548c,#404688,#433e85,#453882,#472e7c,#482475,#481b6d,#481467,#471164,#471063,#471365,#481769,#481c6e,#481f70,#482071,#482071,#482173,#482475,#472a7a,#453581,#414287,#3c4f8a,#375a8c,#34618d,#32658e,#30698e,#2e6e8e,#2b748e,#27808e,#228d8d,#1f9e89,#27ad81,#3aba76,#46c06f,#4ac16d,#4ec36b,#5ac864,#73d056,#9dd93b)"></i>
<i style="top:83.71px;height:2.69px;border-color:#a8db34;border-right-color:#a8db34;background-image:linear-gradient(90deg,#a8db34,#7fd34e,#65cb5e,#58c765,#56c667,#52c569,#42be71,#2cb17e,#1fa088,#21908d,#26828e,#2a788e,#2c718e,#2e6e8e,#2f6b8e,#31678e,#355f8d,#3a538b,#404688,#453882,#472d7b,#482677,#482374,#482374,#482374,#482071,#481c6e,#481769,#471365,#471063,#471063,#471365,#48186a,#482173,#472a7a,#46327e,#453781,#433e85,#3e4c8a,#32658e,#228d8d,#48c16e,#52c569,#1e9c89,#27808e,#2a768e,#287c8e,#238a8d,#20928c,#26828e,#2f6c8e,#365c8d,#39568c,#355f8d,#2c728e,#228d8d,#1f978b,#25858e,#2d708e,#32658e,#30698e,#287d8e,#1fa187,#52c569,#2fb47c,#20928c,#277f8e,#277f8e,#20928c,#2fb47c,#52c569,#1fa187,#287d8e,#30698e,#32658e,#2d708e,#25858e,#1f978b,#228d8d,#2c728e,#355f8d,#39568c,#365c8d,#2f6c8e,#26828e,#20928c,#238a8d,#287c8e,#2a768e,#27808e,#1e9c89,#52c569,#48c16e,#228d8d,#32658e,#3e4c8a,#433e85,#453781,#46327e,#472a7a,#482173,#48186a,#471365,#471063,#471063,#471365,#481769,#481c6e,#482071,#482374,#482374,#482374,#482677,#472d7b,#453882,#404688,#3a538b,#355f8d,#31678e,#2f6b8e,#2e6e8e,#2c718e,#2a788e,#26828e,#21908d,#1fa088,#2cb17e,#42be71,#52c569,#56c667,#58c765,#65cb5e,#7fd34e,#a8db34)"></i>
<i style="top:85.71px;height:2.69px;border-color:#b2dd2d;border-right-color:#b2dd2d;background-image:linear-gradient(90deg,#b2dd2d,#89d548,#70cf57,#65cb5e,#63cb5f,#5ec962,#4ac16d,#2fb47c,#1fa287,#20928c,#25858e,#287d8e,#2a768e,#2c738e,#2d718e,#2f6c8e,#32648e,#38588c,#3e4989,#443b84,#46307e,#482979,#482576,#482576,#482475,#482173,#481d6f,#48186a,#471365,#471063,#471063,#471365,#48186a,#481f70,#482677,#472d7b,#46307e,#453781,#404588,#365d8d,#26828e,#32b67a,#56c667,#1fa187,#25858e,#297b8e,#26818e,#218f8d,#1f958b,#25848e,#2e6d8e,#365c8d,#38588c,#355f8d,#2c738e,#228d8d,#1f958b,#26818e,#2f6b8e,#34608d,#32648e,#2a778e,#1e9c89,#50c46a,#3dbc74,#1f998a,#25858e,#25858e,#1f998a,#3dbc74,#50c46a,#1e9c89,#2a778e,#32648e,#34608d,#2f6b8e,#26818e,#1f958b,#228d8d,#2c738e,#355f8d,#38588c,#365c8d,#2e6d8e,#25848e,#1f958b,#218f8d,#26818e,#297b8e,#25858e,#1fa187,#56c667,#32b67a,#26828e,#365d8d,#404588,#453781,#46307e,#472d7b,#482677,#481f70,#48186a,#471365,#471063,#471063,#471365,#48186a,#481d6f,#482173,#482475,#482576,#482576,#482979,#46307e,#443b84,#3e4989,#38588c,#32648e,#2f6c8e,#2d718e,#2c738e,#2a768e,#287d8e,#25858e,#20928c,#1fa287,#2fb47c,#4ac16d,#5ec962,#63cb5f,#65cb5e,#70cf57,#89d548,#b2dd2d)"></i>
<i style="top:87.70px;height:2.69px;border-color:#bddf26;border-right-color:#bddf26;background-image:linear-gradient(90deg,#bddf26,#95d840,#7cd250,#73d056,#73d056,#6ccd5a,#54c568,#34b679,#21a585,#1f958b,#23898e,#26818e,#297b8e,#2a788e,#2a768e,#2c718e,#30698e,#365c8d,#3d4d8a,#433e85,#46337f,#472c7a,#482979,#482878,#482677,#482475,#481f70,#48186a,#471365,#471063,#471063,#471164,#481769,#481d6f,#482475,#482878,#472c7a,#46307e,#433d84,#3a548c,#2a788e,#24aa83,#50c46a,#21a585,#238a8d,#27808e,#25858e,#1f948c,#1f998a,#24868e,#2e6e8e,#365d8d,#38588c,#34618d,#2b758e,#218e8d,#20938c,#287d8e,#31678e,#365c8d,#34608d,#2c728e,#1f968b,#4ec36b,#4ec36b,#1fa187,#228d8d,#228d8d,#1fa187,#4ec36b,#4ec36b,#1f968b,#2c728e,#34608d,#365c8d,#31678e,#287d8e,#20938c,#218e8d,#2b758e,#34618d,#38588c,#365d8d,#2e6e8e,#24868e,#1f998a,#1f948c,#25858e,#27808e,#238a8d,#21a585,#50c46a,#24aa83,#2a788e,#3a548c,#433d84,#46307e,#472c7a,#482878,#482475,#481d6f,#481769,#471164,#471063,#471063,#471365,#48186a,#481f70,#482475,#482677,#482878,#482979,#472c7a,#46337f,#433e85,#3d4d8a,#365c8d,#30698e,#2c718e,#2a768e,#2a788e,#297b8e,#26818e,#23898e,#1f958b,#21a585,#34b679,#54c568,#6ccd5a,#73d056,#73d056,#7cd250,#95d840,#bddf26)"></i>
<i style="top:89.69px;height:2.69px;border-color:#c8e020;border-right-color:#c8e020;background-image:linear-gradient(90deg,#c8e020,#a0da39,#89d548,#81d34d,#81d34d,#7ad151,#5cc863,#38b977,#22a785,#1f988b,#228c8d,#25848e,#26818e,#277e8e,#287c8e,#2a778e,#2e6e8e,#34608d,#3c508b,#424186,#453781,#472f7d,#472c7a,#472a7a,#482979,#482576,#481f70,#48186a,#471365,#471063,#471063,#471164,#481668,#481c6e,#482071,#482475,#482677,#472c7a,#453781,#3e4c8a,#2e6f8e,#1f9e89,#40bd72,#22a884,#218e8d,#25848e,#238a8d,#1f9a8a,#1f9e89,#23898e,#2e6f8e,#355e8d,#375a8c,#33628d,#2a768e,#218f8d,#20928c,#29798e,#33638d,#38588c,#375b8d,#2e6e8e,#21918c,#4ac16d,#65cb5e,#25ab82,#1f958b,#1f958b,#25ab82,#65cb5e,#4ac16d,#21918c,#2e6e8e,#375b8d,#38588c,#33638d,#29798e,#20928c,#218f8d,#2a768e,#33628d,#375a8c,#355e8d,#2e6f8e,#23898e,#1f9e89,#1f9a8a,#238a8d,#25848e,#218e8d,#22a884,#40bd72,#1f9e89,#2e6f8e,#3e4c8a,#453781,#472c7a,#482677,#482475,#482071,#481c6e,#481668,#471164,#471063,#471063,#471365,#48186a,#481f70,#482576,#482979,#472a7a,#472c7a,#472f7d,#453781,#424186,#3c508b,#34608d,#2e6e8e,#2a778e,#287c8e,#277e8e,#26818e,#25848e,#228c8d,#1f988b,#22a785,#38b977,#5cc863,#7ad151,#81d34d,#81d34d,#89d548,#a0da39,#c8e020)"></i>
<i style="top:91.69px;height:2.69px;border-color:#d0e11c;border-right-color:#d0e11c;background-image:linear-gradient(90deg,#d0e11c,#aadc32,#95d840,#90d743,#93d741,#89d548,#65cb5e,#3dbc74,#24aa83,#1f9a8a,#21908d,#23888e,#25858e,#25838e,#26828e,#287c8e,#2c728e,#32648e,#3a548c,#404588,#443a83,#46337f,#472f7d,#472e7c,#472c7a,#482878,#482071,#481a6c,#471365,#471063,#471063,#471164,#481668,#481a6c,#481f70,#482071,#482374,#482677,#46307e,#404588,#31668e,#20928c,#31b57b,#22a884,#21918c,#24878e,#218f8d,#1f9f88,#20a386,#228c8d,#2d718e,#355f8d,#375b8d,#32648e,#29798e,#21918c,#21908d,#2a768e,#355f8d,#3a548c,#38588c,#306a8e,#228d8d,#44bf70,#7fd34e,#2fb47c,#1e9d89,#1e9d89,#2fb47c,#7fd34e,#44bf70,#228d8d,#306a8e,#38588c,#3a548c,#355f8d,#2a768e,#21908d,#21918c,#29798e,#32648e,#375b8d,#355f8d,#2d718e,#228c8d,#20a386,#1f9f88,#218f8d,#24878e,#21918c,#22a884,#31b57b,#20928c,#31668e,#404588,#46307e,#482677,#482374,#482071,#481f70,#481a6c,#481668,#471164,#471063,#471063,#471365,#481a6c,#482071,#482878,#472c7a,#472e7c,#472f7d,#46337f,#443a83,#404588,#3a548c,#32648e,#2c728e,#287c8e,#26828e,#25838e,#25858e,#23888e,#21908d,#1f9a8a,#24aa83,#3dbc74,#65cb5e,#89d548,#93d741,#90d743,#95d840,#aadc32,#d0e11c)"></i>
<i style="top:93.68px;height:2.69px;border-color:#d8e219;border-right-color:#d8e219;background-image:linear-gradient(90deg,#d8e219,#b5de2b,#a2da37,#a0da39,#a5db36,#98d83e,#6ece58,#40bd72,#25ac82,#1e9d89,#20928c,#228d8d,#238a8d,#23898e,#24878e,#26828e,#2a768e,#31688e,#38588c,#3e4989,#433e85,#453781,#46337f,#46307e,#472f7d,#482979,#482173,#481a6c,#481467,#471063,#471063,#471164,#481668,#481a6c,#481c6e,#481d6f,#481f70,#482173,#472c7a,#433e85,#355e8d,#24868e,#24aa83,#20a486,#20928c,#238a8d,#20928c,#20a486,#23a983,#21908d,#2c728e,#34618d,#365d8d,#31668e,#297b8e,#20928c,#218f8d,#2c738e,#365c8d,#3b518b,#3a548c,#31668e,#23888e,#40bd72,#a0da39,#3fbc73,#21a585,#21a585,#3fbc73,#a0da39,#40bd72,#23888e,#31668e,#3a548c,#3b518b,#365c8d,#2c738e,#218f8d,#20928c,#297b8e,#31668e,#365d8d,#34618d,#2c728e,#21908d,#23a983,#20a486,#20928c,#238a8d,#20928c,#20a486,#24aa83,#24868e,#355e8d,#433e85,#472c7a,#482173,#481f70,#481d6f,#481c6e,#481a6c,#481668,#471164,#471063,#471063,#481467,#481a6c,#482173,#482979,#472f7d,#46307e,#46337f,#453781,#433e85,#3e4989,#38588c,#31688e,#2a768e,#26828e,#24878e,#23898e,#238a8d,#228d8d,#20928c,#1e9d89,#25ac82,#40bd72,#6ece58,#98d83e,#a5db36,#a0da39,#a2da37,#b5de2b,#d8e219)"></i>
<i style="top:95.67px;height:2.69px;border-color:#dfe318;border-right-color:#dfe318;background-image:linear-gradient(90deg,#dfe318,#bddf26,#addc30,#addc30,#b5de2b,#a5db36,#75d054,#46c06f,#28ae80,#1fa088,#1f968b,#20928c,#21908d,#218f8d,#228d8d,#24868e,#297b8e,#2f6c8e,#365c8d,#3d4d8a,#424186,#443a83,#453781,#453581,#46327e,#472c7a,#482374,#481b6d,#481467,#471164,#471063,#471164,#481467,#48186a,#481a6c,#481b6d,#481b6d,#481d6f,#482677,#453882,#39558c,#287c8e,#1f9e89,#1f9f88,#21908d,#228b8d,#1f948c,#23a983,#28ae80,#20938c,#2b758e,#33638d,#355e8d,#31688e,#277e8e,#1f948c,#218f8d,#2c718e,#375a8c,#3d4e8a,#3b518b,#33638d,#25848e,#3bbb75,#c2df23,#52c569,#25ac82,#25ac82,#52c569,#c2df23,#3bbb75,#25848e,#33638d,#3b518b,#3d4e8a,#375a8c,#2c718e,#218f8d,#1f948c,#277e8e,#31688e,#355e8d,#33638d,#2b758e,#20938c,#28ae80,#23a983,#1f948c,#228b8d,#21908d,#1f9f88,#1f9e89,#287c8e,#39558c,#453882,#482677,#481d6f,#481b6d,#481b6d,#481a6c,#48186a,#481467,#471164,#471063,#471164,#481467,#481b6d,#482374,#472c7a,#46327e,#453581,#453781,#443a83,#424186,#3d4d8a,#365c8d,#2f6c8e,#297b8e,#24868e,#228d8d,#218f8d,#21908d,#20928c,#1f968b,#1fa088,#28ae80,#46c06f,#75d054,#a5db36,#b5de2b,#addc30,#addc30,#bddf26,#dfe318)"></i>
<i style="top:97.66px;height:2.69px;border-color:#e5e419;border-right-color:#e5e419;background-image:linear-gradient(90deg,#e5e419,#c5e021,#b5de2b,#bade28,#c8e020,#b2dd2d,#7fd34e,#4cc26c,#2cb17e,#1fa287,#1f9a8a,#1f958b,#1f948c,#1f948c,#20928c,#228c8d,#277f8e,#2d708e,#355f8d,#3b518b,#404688,#423f85,#443b84,#443983,#453581,#472e7c,#482576,#481c6e,#481668,#471164,#471063,#471164,#481467,#481769,#48186a,#48186a,#48186a,#481b6d,#482374,#46327e,#3d4e8a,#2c728e,#20928c,#1f978b,#228d8d,#238a8d,#1f968b,#26ad81,#2fb47c,#1f978b,#2a778e,#32658e,#34608d,#2f6b8e,#26818e,#1f978b,#218e8d,#2d708e,#38588c,#3e4c8a,#3d4e8a,#34608d,#26828e,#35b779,#e2e418,#63cb5f,#2cb17e,#2cb17e,#63cb5f,#e2e418,#35b779,#26828e,#34608d,#3d4e8a,#3e4c8a,#38588c,#2d708e,#218e8d,#1f978b,#26818e,#2f6b8e,#34608d,#32658e,#2a778e,#1f978b,#2fb47c,#26ad81,#1f968b,#238a8d,#228d8d,#1f978b,#20928c,#2c728e,#3d4e8a,#46327e,#482374,#481b6d,#48186a,#48186a,#48186a,#481769,#481467,#471164,#471063,#471164,#481668,#481c6e,#482576,#472e7c,#453581,#443983,#443b84,#423f85,#404688,#3b518b,#355f8d,#2d708e,#277f8e,#228c8d,#20928c,#1f948c,#1f948c,#1f958b,#1f9a8a,#1fa287,#2cb17e,#4cc26c,#7fd34e,#b2dd2d,#c8e020,#bade28,#b5de2b,#c5e021,#e5e419)"></i>
<i style="top:99.66px;height:2.69px;border-color:#e5e419;border-right-color:#e5e419;background-image:linear-gradient(90deg,#e5e419,#c8e020,#bade28,#c2df23,#d8e219,#c0df25,#86d549,#50c46a,#2eb37c,#21a685,#1f9e89,#1f9a8a,#1f9a8a,#1f9a8a,#1f988b,#21918c,#25838e,#2c738e,#33638d,#39558c,#3e4a89,#414487,#424086,#433e85,#443983,#46327e,#482677,#481d6f,#481668,#471164,#471164,#471365,#481467,#481769,#481769,#481668,#481668,#48186a,#481f70,#472d7b,#3f4788,#30698e,#24868e,#218f8d,#23888e,#23888e,#1f958b,#29af7f,#38b977,#1e9c89,#297a8e,#31678e,#33638d,#2e6d8e,#25848e,#1e9b8a,#218f8d,#2e6e8e,#39558c,#3e4989,#3e4c8a,#355e8d,#277f8e,#31b57b,#e2e418,#6ccd5a,#2fb47c,#2fb47c,#6ccd5a,#e2e418,#31b57b,#277f8e,#355e8d,#3e4c8a,#3e4989,#39558c,#2e6e8e,#218f8d,#1e9b8a,#25848e,#2e6d8e,#33638d,#31678e,#297a8e,#1e9c89,#38b977,#29af7f,#1f958b,#23888e,#23888e,#218f8d,#24868e,#30698e,#3f4788,#472d7b,#481f70,#48186a,#481668,#481668,#481769,#481769,#481467,#471365,#471164,#471164,#481668,#481d6f,#482677,#46327e,#443983,#433e85,#424086,#414487,#3e4a89,#39558c,#33638d,#2c738e,#25838e,#21918c,#1f988b,#1f9a8a,#1f9a8a,#1f9a8a,#1f9e89,#21a685,#2eb37c,#50c46a,#86d549,#c0df25,#d8e219,#c2df23,#bade28,#c8e020,#e5e419)"></i>
<i style="top:101.65px;height:2.69px;border-color:#e2e418;border-right-color:#e2e418;background-image:linear-gradient(90deg,#e2e418,#c8e020,#bddf26,#c8e020,#e5e419,#cde11d,#8ed645,#56c667,#32b67a,#23a983,#1fa187,#1f9f88,#1f9f88,#1fa088,#1e9d89,#1f948c,#24868e,#2a768e,#31678e,#375a8c,#3c4f8a,#3f4889,#404588,#414287,#433e85,#463480,#482979,#481f70,#481769,#471365,#471164,#471365,#481467,#481668,#481668,#481467,#481467,#481668,#481b6d,#482979,#424086,#34608d,#287c8e,#25858e,#26828e,#25838e,#20938c,#2ab07f,#42be71,#1fa188,#277e8e,#306a8e,#32658e,#2d708e,#23888e,#1f9e89,#218f8d,#2e6d8e,#3a538b,#3f4889,#3e4a89,#365c8d,#287d8e,#2cb17e,#c0df25,#69cd5b,#2fb47c,#2fb47c,#69cd5b,#c0df25,#2cb17e,#287d8e,#365c8d,#3e4a89,#3f4889,#3a538b,#2e6d8e,#218f8d,#1f9e89,#23888e,#2d708e,#32658e,#306a8e,#277e8e,#1fa188,#42be71,#2ab07f,#20938c,#25838e,#26828e,#25858e,#287c8e,#34608d,#424086,#482979,#481b6d,#481668,#481467,#481467,#481668,#481668,#481467,#471365,#471164,#471365,#481769,#481f70,#482979,#463480,#433e85,#414287,#404588,#3f4889,#3c4f8a,#375a8c,#31678e,#2a768e,#24868e,#1f948c,#1e9d89,#1fa088,#1f9f88,#1f9f88,#1fa187,#23a983,#32b67a,#56c667,#8ed645,#cde11d,#e5e419,#c8e020,#bddf26,#c8e020,#e2e418)"></i>
<i style="top:103.64px;height:2.69px;border-color:#dae319;border-right-color:#dae319;background-image:linear-gradient(90deg,#dae319,#c5e021,#bddf26,#c8e020,#ece51b,#d5e21a,#93d741,#5cc863,#37b878,#26ad81,#21a585,#20a386,#20a386,#20a486,#1fa187,#1f988b,#238a8d,#297a8e,#2f6b8e,#355e8d,#3a548c,#3d4e8a,#3e4a89,#3f4788,#424186,#453882,#472c7a,#482071,#48186a,#481467,#471365,#481467,#481668,#481668,#481467,#471365,#471164,#471365,#48186a,#482576,#443a83,#38588c,#2c718e,#297b8e,#297b8e,#277f8e,#21908d,#29af7f,#4cc26c,#21a585,#26818e,#2e6d8e,#31688e,#2c738e,#228c8d,#1fa187,#21908d,#2e6d8e,#3b528b,#3f4788,#3e4989,#375a8c,#297b8e,#27ad81,#9bd93c,#5cc863,#2cb17e,#2cb17e,#5cc863,#9bd93c,#27ad81,#297b8e,#375a8c,#3e4989,#3f4788,#3b528b,#2e6d8e,#21908d,#1fa187,#228c8d,#2c738e,#31688e,#2e6d8e,#26818e,#21a585,#4cc26c,#29af7f,#21908d,#277f8e,#297b8e,#297b8e,#2c718e,#38588c,#443a83,#482576,#48186a,#471365,#471164,#471365,#481467,#481668,#481668,#481467,#471365,#481467,#48186a,#482071,#472c7a,#453882,#424186,#3f4788,#3e4a89,#3d4e8a,#3a548c,#355e8d,#2f6b8e,#297a8e,#238a8d,#1f988b,#1fa187,#20a486,#20a386,#20a386,#21a585,#26ad81,#37b878,#5cc863,#93d741,#d5e21a,#ece51b,#c8e020,#bddf26,#c5e021,#dae319)"></i>
<i style="top:105.64px;height:2.69px;border-color:#d5e21a;border-right-color:#d5e21a;background-image:linear-gradient(90deg,#d5e21a,#c0df25,#b8de29,#c5e021,#eae51a,#dde318,#9bd93c,#63cb5f,#3dbc74,#2ab07f,#24aa83,#22a884,#23a983,#23a983,#21a585,#1e9c89,#228d8d,#287d8e,#2e6f8e,#33628d,#38598c,#3a538b,#3c508b,#3d4d8a,#404688,#443b84,#472e7c,#482173,#481a6c,#481668,#481467,#481467,#481668,#481668,#481467,#471164,#471063,#471164,#481769,#482173,#453581,#3c508b,#31688e,#2c718e,#2c728e,#2a788e,#228b8d,#26ad81,#54c568,#25ab82,#25848e,#2d708e,#2f6b8e,#2a768e,#21908d,#21a685,#21918c,#2f6c8e,#3b528b,#404688,#3f4889,#38598c,#29798e,#25ab82,#7ad151,#48c16e,#25ab82,#25ab82,#48c16e,#7ad151,#25ab82,#29798e,#38598c,#3f4889,#404688,#3b528b,#2f6c8e,#21918c,#21a685,#21908d,#2a768e,#2f6b8e,#2d708e,#25848e,#25ab82,#54c568,#26ad81,#228b8d,#2a788e,#2c728e,#2c718e,#31688e,#3c508b,#453581,#482173,#481769,#471164,#471063,#471164,#481467,#481668,#481668,#481467,#481467,#481668,#481a6c,#482173,#472e7c,#443b84,#404688,#3d4d8a,#3c508b,#3a538b,#38598c,#33628d,#2e6f8e,#287d8e,#228d8d,#1e9c89,#21a585,#23a983,#23a983,#22a884,#24aa83,#2ab07f,#3dbc74,#63cb5f,#9bd93c,#dde318,#eae51a,#c5e021,#b8de29,#c0df25,#d5e21a)"></i>
<i style="top:107.63px;height:2.69px;border-color:#cde11d;border-right-color:#cde11d;background-image:linear-gradient(90deg,#cde11d,#b8de29,#b0dd2f,#bddf26,#dde318,#dde318,#a0da39,#69cd5b,#42be71,#2fb47c,#27ad81,#26ad81,#27ad81,#27ad81,#23a983,#1f9f88,#21908d,#26818e,#2c728e,#31678e,#355f8d,#375a8c,#39568c,#3b528b,#3e4a89,#423f85,#46307e,#482475,#481b6d,#481769,#481668,#481668,#481769,#481668,#471365,#471063,#470e61,#471063,#481467,#481f70,#46307e,#3e4989,#355e8d,#31688e,#2f6b8e,#2c718e,#25848e,#22a884,#58c765,#29af7f,#23888e,#2c728e,#2e6e8e,#29798e,#1f948c,#25ab82,#20928c,#2f6c8e,#3b518b,#404688,#3f4889,#38598c,#2a788e,#22a785,#5cc863,#35b779,#20a386,#20a386,#35b779,#5cc863,#22a785,#2a788e,#38598c,#3f4889,#404688,#3b518b,#2f6c8e,#20928c,#25ab82,#1f948c,#29798e,#2e6e8e,#2c728e,#23888e,#29af7f,#58c765,#22a884,#25848e,#2c718e,#2f6b8e,#31688e,#355e8d,#3e4989,#46307e,#481f70,#481467,#471063,#470e61,#471063,#471365,#481668,#481769,#481668,#481668,#481769,#481b6d,#482475,#46307e,#423f85,#3e4a89,#3b528b,#39568c,#375a8c,#355f8d,#31678e,#2c728e,#26818e,#21908d,#1f9f88,#23a983,#27ad81,#27ad81,#26ad81,#27ad81,#2fb47c,#42be71,#69cd5b,#a0da39,#dde318,#dde318,#bddf26,#b0dd2f,#b8de29,#cde11d)"></i>
<i style="top:109.62px;height:2.69px;border-color:#c5e021;border-right-color:#c5e021;background-image:linear-gradient(90deg,#c5e021,#b0dd2f,#a8db34,#b2dd2d,#d2e21b,#dae319,#a8db34,#70cf57,#4ac16d,#35b779,#2db27d,#2cb17e,#2eb37c,#2db27d,#26ad81,#1fa188,#20928c,#25838e,#2a768e,#2f6b8e,#32648e,#355f8d,#365d8d,#38598c,#3c508b,#414287,#46337f,#482677,#481d6f,#48186a,#481769,#481769,#481769,#481668,#471365,#471063,#470d60,#470e61,#471365,#481c6e,#472d7b,#414287,#39558c,#355e8d,#33628d,#306a8e,#277e8e,#1fa287,#58c765,#2fb47c,#228c8d,#2b758e,#2d708e,#287c8e,#1f998a,#29af7f,#1f948c,#2e6d8e,#3b518b,#404688,#3f4788,#38598c,#2a778e,#20a386,#42be71,#26ad81,#1f9a8a,#1f9a8a,#26ad81,#42be71,#20a386,#2a778e,#38598c,#3f4788,#404688,#3b518b,#2e6d8e,#1f948c,#29af7f,#1f998a,#287c8e,#2d708e,#2b758e,#228c8d,#2fb47c,#58c765,#1fa287,#277e8e,#306a8e,#33628d,#355e8d,#39558c,#414287,#472d7b,#481c6e,#471365,#470e61,#470d60,#471063,#471365,#481668,#481769,#481769,#481769,#48186a,#481d6f,#482677,#46337f,#414287,#3c508b,#38598c,#365d8d,#355f8d,#32648e,#2f6b8e,#2a768e,#25838e,#20928c,#1fa188,#26ad81,#2db27d,#2eb37c,#2cb17e,#2db27d,#35b779,#4ac16d,#70cf57,#a8db34,#dae319,#d2e21b,#b2dd2d,#a8db34,#b0dd2f,#c5e021)"></i>
<i style="top:111.61px;height:2.69px;border-color:#bddf26;border-right-color:#bddf26;background-image:linear-gradient(90deg,#bddf26,#a8db34,#a0da39,#aadc32,#c5e021,#d5e21a,#addc30,#77d153,#52c569,#3bbb75,#34b679,#34b679,#35b779,#32b67a,#29af7f,#1fa287,#1f948c,#24868e,#29798e,#2d708e,#30698e,#31668e,#33638d,#355e8d,#39558c,#404688,#453781,#482979,#481f70,#481b6d,#48186a,#48186a,#48186a,#481668,#471365,#470e61,#470d60,#470d60,#471164,#481a6c,#482878,#443b84,#3d4d8a,#39558c,#375a8c,#33638d,#2a778e,#1e9b8a,#50c46a,#37b878,#21908d,#2a788e,#2c728e,#27808e,#1e9d89,#31b57b,#1f978b,#2e6e8e,#3b528b,#404688,#3f4889,#38598c,#2a778e,#1fa188,#2fb47c,#1fa187,#21908d,#21908d,#1fa187,#2fb47c,#1fa188,#2a778e,#38598c,#3f4889,#404688,#3b528b,#2e6e8e,#1f978b,#31b57b,#1e9d89,#27808e,#2c728e,#2a788e,#21908d,#37b878,#50c46a,#1e9b8a,#2a778e,#33638d,#375a8c,#39558c,#3d4d8a,#443b84,#482878,#481a6c,#471164,#470d60,#470d60,#470e61,#471365,#481668,#48186a,#48186a,#48186a,#481b6d,#481f70,#482979,#453781,#404688,#39558c,#355e8d,#33638d,#31668e,#30698e,#2d708e,#29798e,#24868e,#1f948c,#1fa287,#29af7f,#32b67a,#35b779,#34b679,#34b679,#3bbb75,#52c569,#77d153,#addc30,#d5e21a,#c5e021,#aadc32,#a0da39,#a8db34,#bddf26)"></i>
<i style="top:113.61px;height:2.69px;border-color:#b5de2b;border-right-color:#b5de2b;background-image:linear-gradient(90deg,#b5de2b,#a0da39,#95d840,#a0da39,#b8de29,#cde11d,#b0dd2f,#7fd34e,#5ac864,#44bf70,#3bbb75,#3bbb75,#3dbc74,#38b977,#2cb17e,#20a486,#1f968b,#23888e,#287d8e,#2b748e,#2e6f8e,#2f6c8e,#30698e,#32648e,#375a8c,#3e4a89,#443983,#472c7a,#482173,#481c6e,#481b6d,#481a6c,#481a6c,#481769,#471365,#470e61,#460b5e,#460b5e,#471063,#48186a,#482576,#453781,#404588,#3d4d8a,#3b518b,#375b8d,#2d708e,#20938c,#46c06f,#3bbb75,#20938c,#297a8e,#2b758e,#26828e,#1fa187,#3bbb75,#1f9a8a,#2e6f8e,#3a538b,#3f4788,#3e4989,#375a8c,#2a778e,#1e9d89,#24aa83,#1f968b,#24868e,#24868e,#1f968b,#24aa83,#1e9d89,#2a778e,#375a8c,#3e4989,#3f4788,#3a538b,#2e6f8e,#1f9a8a,#3bbb75,#1fa187,#26828e,#2b758e,#297a8e,#20938c,#3bbb75,#46c06f,#20938c,#2d708e,#375b8d,#3b518b,#3d4d8a,#404588,#453781,#482576,#48186a,#471063,#460b5e,#460b5e,#470e61,#471365,#481769,#481a6c,#481a6c,#481b6d,#481c6e,#482173,#472c7a,#443983,#3e4a89,#375a8c,#32648e,#30698e,#2f6c8e,#2e6f8e,#2b748e,#287d8e,#23888e,#1f968b,#20a486,#2cb17e,#38b977,#3dbc74,#3bbb75,#3bbb75,#44bf70,#5ac864,#7fd34e,#b0dd2f,#cde11d,#b8de29,#a0da39,#95d840,#a0da39,#b5de2b)"></i>
<i style="top:115.60px;height:2.69px;border-color:#b0dd2f;border-right-color:#b0dd2f;background-image:linear-gradient(90deg,#b0dd2f,#98d83e,#8ed645,#95d840,#addc30,#c8e020,#b5de2b,#89d548,#63cb5f,#4ec36b,#46c06f,#46c06f,#46c06f,#3fbc73,#2eb37c,#21a585,#1f978b,#228b8d,#26818e,#29798e,#2b748e,#2c728e,#2d708e,#2f6b8e,#34608d,#3c4f8a,#433d84,#472e7c,#482475,#481f70,#481d6f,#481c6e,#481b6d,#481769,#471164,#470d60,#460b5e,#460b5e,#470e61,#481668,#482173,#46327e,#433e85,#404588,#3e4989,#3a538b,#31688e,#228c8d,#3aba76,#3fbc73,#1f968b,#287d8e,#2a778e,#25848e,#21a585,#48c16e,#1f9e89,#2d718e,#3a548c,#3f4889,#3e4a89,#375b8d,#2a788e,#1f9a8a,#1fa188,#228c8d,#287d8e,#287d8e,#228c8d,#1fa188,#1f9a8a,#2a788e,#375b8d,#3e4a89,#3f4889,#3a548c,#2d718e,#1f9e89,#48c16e,#21a585,#25848e,#2a778e,#287d8e,#1f968b,#3fbc73,#3aba76,#228c8d,#31688e,#3a538b,#3e4989,#404588,#433e85,#46327e,#482173,#481668,#470e61,#460b5e,#460b5e,#470d60,#471164,#481769,#481b6d,#481c6e,#481d6f,#481f70,#482475,#472e7c,#433d84,#3c4f8a,#34608d,#2f6b8e,#2d708e,#2c728e,#2b748e,#29798e,#26818e,#228b8d,#1f978b,#21a585,#2eb37c,#3fbc73,#46c06f,#46c06f,#46c06f,#4ec36b,#63cb5f,#89d548,#b5de2b,#c8e020,#addc30,#95d840,#8ed645,#98d83e,#b0dd2f)"></i>
<i style="top:117.59px;height:2.69px;border-color:#a8db34;border-right-color:#a8db34;background-image:linear-gradient(90deg,#a8db34,#90d743,#86d549,#8bd646,#a2da37,#c0df25,#bade28,#93d741,#6ece58,#5ac864,#52c569,#52c569,#50c46a,#44bf70,#2fb47c,#21a685,#1f998a,#228d8d,#25848e,#277f8e,#297b8e,#29798e,#2a768e,#2d718e,#32658e,#3a538b,#424186,#46327e,#482878,#482374,#482071,#481f70,#481c6e,#48186a,#471365,#470d60,#460b5e,#460b5e,#470e61,#481467,#481f70,#472d7b,#453882,#433d84,#424186,#3e4c8a,#34618d,#25838e,#2db27d,#3fbc73,#1f988b,#277f8e,#2a788e,#24868e,#22a884,#56c667,#1fa287,#2c738e,#39568c,#3e4989,#3e4c8a,#365d8d,#29798e,#1f978b,#1f988b,#26828e,#2c738e,#2c738e,#26828e,#1f988b,#1f978b,#29798e,#365d8d,#3e4c8a,#3e4989,#39568c,#2c738e,#1fa287,#56c667,#22a884,#24868e,#2a788e,#277f8e,#1f988b,#3fbc73,#2db27d,#25838e,#34618d,#3e4c8a,#424186,#433d84,#453882,#472d7b,#481f70,#481467,#470e61,#460b5e,#460b5e,#470d60,#471365,#48186a,#481c6e,#481f70,#482071,#482374,#482878,#46327e,#424186,#3a538b,#32658e,#2d718e,#2a768e,#29798e,#297b8e,#277f8e,#25848e,#228d8d,#1f998a,#21a685,#2fb47c,#44bf70,#50c46a,#52c569,#52c569,#5ac864,#6ece58,#93d741,#bade28,#c0df25,#a2da37,#8bd646,#86d549,#90d743,#a8db34)"></i>
<i style="top:119.59px;height:2.69px;border-color:#a2da37;border-right-color:#a2da37;background-image:linear-gradient(90deg,#a2da37,#89d548,#7fd34e,#84d44b,#9bd93c,#b8de29,#bddf26,#9dd93b,#7ad151,#65cb5e,#5ec962,#5cc863,#5ac864,#48c16e,#31b57b,#22a785,#1f9a8a,#21908d,#23888e,#25838e,#26818e,#27808e,#277e8e,#2a778e,#306a8e,#38588c,#404588,#453581,#472c7a,#482576,#482374,#482173,#481d6f,#48186a,#471365,#470d60,#460a5d,#460a5d,#470d60,#471365,#481d6f,#482979,#46327e,#453581,#443a83,#404588,#38598c,#287c8e,#24aa83,#3aba76,#1f9a8a,#27808e,#29798e,#24878e,#25ab82,#65cb5e,#21a685,#2a768e,#38598c,#3e4c8a,#3d4e8a,#355f8d,#297b8e,#1f948c,#21908d,#29798e,#2f6c8e,#2f6c8e,#29798e,#21908d,#1f948c,#297b8e,#355f8d,#3d4e8a,#3e4c8a,#38598c,#2a768e,#21a685,#65cb5e,#25ab82,#24878e,#29798e,#27808e,#1f9a8a,#3aba76,#24aa83,#287c8e,#38598c,#404588,#443a83,#453581,#46327e,#482979,#481d6f,#471365,#470d60,#460a5d,#460a5d,#470d60,#471365,#48186a,#481d6f,#482173,#482374,#482576,#472c7a,#453581,#404588,#38588c,#306a8e,#2a778e,#277e8e,#27808e,#26818e,#25838e,#23888e,#21908d,#1f9a8a,#22a785,#31b57b,#48c16e,#5ac864,#5cc863,#5ec962,#65cb5e,#7ad151,#9dd93b,#bddf26,#b8de29,#9bd93c,#84d44b,#7fd34e,#89d548,#a2da37)"></i>
<i style="top:121.58px;height:2.69px;border-color:#9dd93b;border-right-color:#9dd93b;background-image:linear-gradient(90deg,#9dd93b,#84d44b,#77d153,#7cd250,#90d743,#b0dd2f,#c0df25,#a8db34,#86d549,#73d056,#6ccd5a,#69cd5b,#63cb5f,#4ec36b,#32b67a,#22a785,#1e9b8a,#20928c,#228c8d,#23888e,#24878e,#24878e,#25858e,#277e8e,#2d708e,#365d8d,#3e4989,#443983,#472e7c,#482979,#482677,#482475,#482071,#481a6c,#471365,#470d60,#460a5d,#460a5d,#470d60,#471365,#481b6d,#482576,#472c7a,#472f7d,#463480,#433e85,#3b528b,#2c738e,#1fa187,#34b679,#1f998a,#27808e,#297a8e,#24878e,#25ac82,#75d054,#25ac82,#29798e,#365c8d,#3c4f8a,#3b518b,#33628d,#287d8e,#20928c,#23888e,#2c718e,#33638d,#33638d,#2c718e,#23888e,#20928c,#287d8e,#33628d,#3b518b,#3c4f8a,#365c8d,#29798e,#25ac82,#75d054,#25ac82,#24878e,#297a8e,#27808e,#1f998a,#34b679,#1fa187,#2c738e,#3b528b,#433e85,#463480,#472f7d,#472c7a,#482576,#481b6d,#471365,#470d60,#460a5d,#460a5d,#470d60,#471365,#481a6c,#482071,#482475,#482677,#482979,#472e7c,#443983,#3e4989,#365d8d,#2d708e,#277e8e,#25858e,#24878e,#24878e,#23888e,#228c8d,#20928c,#1e9b8a,#22a785,#32b67a,#4ec36b,#63cb5f,#69cd5b,#6ccd5a,#73d056,#86d549,#a8db34,#c0df25,#b0dd2f,#90d743,#7cd250,#77d153,#84d44b,#9dd93b)"></i>
<i style="top:123.57px;height:2.69px;border-color:#98d83e;border-right-color:#98d83e;background-image:linear-gradient(90deg,#98d83e,#7fd34e,#70cf57,#75d054,#89d548,#aadc32,#c2df23,#b2dd2d,#95d840,#81d34d,#7ad151,#77d153,#6ccd5a,#52c569,#34b679,#22a884,#1e9c89,#20938c,#218f8d,#228d8d,#218e8d,#218e8d,#228c8d,#25848e,#2b748e,#34618d,#3d4e8a,#433e85,#46337f,#472d7b,#472a7a,#482677,#482374,#481b6d,#471365,#470d60,#460a5d,#460a5d,#460b5e,#471164,#481a6c,#482173,#482878,#472a7a,#472e7c,#453781,#3e4a89,#2f6c8e,#1f988b,#2ab07f,#1f988b,#27808e,#29798e,#24878e,#25ac82,#84d44b,#2cb17e,#287d8e,#355f8d,#3b518b,#3a548c,#32658e,#27808e,#21908d,#26828e,#306a8e,#365c8d,#365c8d,#306a8e,#26828e,#21908d,#27808e,#32658e,#3a548c,#3b518b,#355f8d,#287d8e,#2cb17e,#84d44b,#25ac82,#24878e,#29798e,#27808e,#1f988b,#2ab07f,#1f988b,#2f6c8e,#3e4a89,#453781,#472e7c,#472a7a,#482878,#482173,#481a6c,#471164,#460b5e,#460a5d,#460a5d,#470d60,#471365,#481b6d,#482374,#482677,#472a7a,#472d7b,#46337f,#433e85,#3d4e8a,#34618d,#2b748e,#25848e,#228c8d,#218e8d,#218e8d,#228d8d,#218f8d,#20938c,#1e9c89,#22a884,#34b679,#52c569,#6ccd5a,#77d153,#7ad151,#81d34d,#95d840,#b2dd2d,#c2df23,#aadc32,#89d548,#75d054,#70cf57,#7fd34e,#98d83e)"></i>
<i style="top:125.56px;height:2.69px;border-color:#93d741;border-right-color:#93d741;background-image:linear-gradient(90deg,#93d741,#7ad151,#6ccd5a,#70cf57,#84d44b,#a5db36,#c2df23,#bddf26,#a2da37,#90d743,#8bd646,#86d549,#75d054,#54c568,#34b679,#22a884,#1e9d89,#1f958b,#20928c,#20928c,#20938c,#1f958b,#20938c,#238a8d,#297a8e,#31668e,#3b528b,#424186,#453781,#46307e,#472e7c,#472a7a,#482475,#481c6e,#481467,#470d60,#460a5d,#460a5d,#460b5e,#471164,#48186a,#481f70,#482374,#482576,#482878,#46327e,#404588,#32658e,#218f8d,#23a983,#1f958b,#277e8e,#2a788e,#25858e,#24aa83,#90d743,#35b779,#26828e,#33628d,#39558c,#38598c,#30698e,#26828e,#218e8d,#297b8e,#33638d,#3a548c,#3a548c,#33638d,#297b8e,#218e8d,#26828e,#30698e,#38598c,#39558c,#33628d,#26828e,#35b779,#90d743,#24aa83,#25858e,#2a788e,#277e8e,#1f958b,#23a983,#218f8d,#32658e,#404588,#46327e,#482878,#482576,#482374,#481f70,#48186a,#471164,#460b5e,#460a5d,#460a5d,#470d60,#481467,#481c6e,#482475,#472a7a,#472e7c,#46307e,#453781,#424186,#3b528b,#31668e,#297a8e,#238a8d,#20938c,#1f958b,#20938c,#20928c,#20928c,#1f958b,#1e9d89,#22a884,#34b679,#54c568,#75d054,#86d549,#8bd646,#90d743,#a2da37,#bddf26,#c2df23,#a5db36,#84d44b,#70cf57,#6ccd5a,#7ad151,#93d741)"></i>
<i style="top:127.56px;height:2.69px;border-color:#90d743;border-right-color:#90d743;background-image:linear-gradient(90deg,#90d743,#75d054,#67cc5c,#69cd5b,#7cd250,#a0da39,#c5e021,#cae11f,#b2dd2d,#a2da37,#9dd93b,#95d840,#7fd34e,#56c667,#35b779,#23a983,#1f9e89,#1f988b,#1f968b,#1f978b,#1f9a8a,#1e9d89,#1f9a8a,#21918c,#277f8e,#2f6b8e,#39568c,#3f4788,#443b84,#453581,#46327e,#472e7c,#482878,#481d6f,#481467,#470e61,#460a5d,#460a5d,#460b5e,#471063,#481769,#481c6e,#481f70,#482071,#482475,#472c7a,#433e85,#355e8d,#24868e,#1fa187,#20928c,#287c8e,#2a768e,#26828e,#22a884,#95d840,#40bd72,#24868e,#31678e,#375a8c,#365d8d,#2e6e8e,#24868e,#228c8d,#2b758e,#365d8d,#3c4f8a,#3c4f8a,#365d8d,#2b758e,#228c8d,#24868e,#2e6e8e,#365d8d,#375a8c,#31678e,#24868e,#40bd72,#95d840,#22a884,#26828e,#2a768e,#287c8e,#20928c,#1fa187,#24868e,#355e8d,#433e85,#472c7a,#482475,#482071,#481f70,#481c6e,#481769,#471063,#460b5e,#460a5d,#460a5d,#470e61,#481467,#481d6f,#482878,#472e7c,#46327e,#453581,#443b84,#3f4788,#39568c,#2f6b8e,#277f8e,#21918c,#1f9a8a,#1e9d89,#1f9a8a,#1f978b,#1f968b,#1f988b,#1f9e89,#23a983,#35b779,#56c667,#7fd34e,#95d840,#9dd93b,#a2da37,#b2dd2d,#cae11f,#c5e021,#a0da39,#7cd250,#69cd5b,#67cc5c,#75d054,#90d743)"></i>
<i style="top:129.55px;height:2.69px;border-color:#8ed645;border-right-color:#8ed645;background-image:linear-gradient(90deg,#8ed645,#70cf57,#63cb5f,#67cc5c,#7ad151,#9bd93c,#c5e021,#d5e21a,#c2df23,#b2dd2d,#b0dd2f,#a5db36,#86d549,#5ac864,#35b779,#23a983,#1f9f88,#1f9a8a,#1f998a,#1e9c89,#1fa188,#20a386,#1fa187,#1f968b,#25848e,#2e6f8e,#365c8d,#3e4c8a,#424186,#443b84,#453882,#46337f,#472a7a,#482071,#481668,#470e61,#460b5e,#460a5d,#460b5e,#471063,#481668,#481a6c,#481c6e,#481d6f,#481f70,#482878,#443983,#39568c,#277e8e,#1f988b,#228c8d,#2a788e,#2c728e,#27808e,#20a386,#93d741,#50c46a,#228c8d,#2f6b8e,#355e8d,#33628d,#2c738e,#238a8d,#228b8d,#2d718e,#39568c,#3f4889,#3f4889,#39568c,#2d718e,#228b8d,#238a8d,#2c738e,#33628d,#355e8d,#2f6b8e,#228c8d,#50c46a,#93d741,#20a386,#27808e,#2c728e,#2a788e,#228c8d,#1f988b,#277e8e,#39568c,#443983,#482878,#481f70,#481d6f,#481c6e,#481a6c,#481668,#471063,#460b5e,#460a5d,#460b5e,#470e61,#481668,#482071,#472a7a,#46337f,#453882,#443b84,#424186,#3e4c8a,#365c8d,#2e6f8e,#25848e,#1f968b,#1fa187,#20a386,#1fa188,#1e9c89,#1f998a,#1f9a8a,#1f9f88,#23a983,#35b779,#5ac864,#86d549,#a5db36,#b0dd2f,#b2dd2d,#c2df23,#d5e21a,#c5e021,#9bd93c,#7ad151,#67cc5c,#63cb5f,#70cf57,#8ed645)"></i>
<i style="top:131.54px;height:2.69px;border-color:#8bd646;border-right-color:#8bd646;background-image:linear-gradient(90deg,#8bd646,#6ece58,#60ca60,#63cb5f,#75d054,#98d83e,#c2df23,#dfe318,#d2e21b,#c5e021,#c2df23,#b5de2b,#8ed645,#5cc863,#37b878,#24aa83,#1fa188,#1e9c89,#1e9d89,#1fa188,#21a685,#24aa83,#22a884,#1e9c89,#23898e,#2c738e,#34618d,#3b518b,#3f4788,#424186,#433d84,#453882,#472e7c,#482173,#481769,#471063,#460b5e,#460a5d,#460b5e,#471063,#481467,#48186a,#481a6c,#481a6c,#481c6e,#482374,#46337f,#3c508b,#2a768e,#21908d,#24868e,#2b748e,#2d708e,#287c8e,#1f9f88,#89d548,#63cb5f,#20928c,#2d708e,#33638d,#31678e,#29798e,#218f8d,#23898e,#2f6c8e,#3b518b,#414487,#414487,#3b518b,#2f6c8e,#23898e,#218f8d,#29798e,#31678e,#33638d,#2d708e,#20928c,#63cb5f,#89d548,#1f9f88,#287c8e,#2d708e,#2b748e,#24868e,#21908d,#2a768e,#3c508b,#46337f,#482374,#481c6e,#481a6c,#481a6c,#48186a,#481467,#471063,#460b5e,#460a5d,#460b5e,#471063,#481769,#482173,#472e7c,#453882,#433d84,#424186,#3f4788,#3b518b,#34618d,#2c738e,#23898e,#1e9c89,#22a884,#24aa83,#21a685,#1fa188,#1e9d89,#1e9c89,#1fa188,#24aa83,#37b878,#5cc863,#8ed645,#b5de2b,#c2df23,#c5e021,#d2e21b,#dfe318,#c2df23,#98d83e,#75d054,#63cb5f,#60ca60,#6ece58,#8bd646)"></i>
<i style="top:133.54px;height:2.69px;border-color:#89d548;border-right-color:#89d548;background-image:linear-gradient(90deg,#89d548,#6ccd5a,#5ec962,#60ca60,#73d056,#93d741,#c0df25,#e7e419,#e5e419,#d8e219,#d5e21a,#c2df23,#93d741,#5ec962,#37b878,#25ab82,#1fa187,#1f9f88,#1fa188,#21a685,#26ad81,#2ab07f,#27ad81,#1fa187,#218e8d,#2a788e,#31668e,#39568c,#3d4d8a,#3f4788,#414287,#433d84,#46327e,#482475,#48186a,#471063,#460b5e,#460b5e,#470d60,#471063,#481467,#481668,#481769,#481769,#48186a,#481f70,#472e7c,#3e4a89,#2e6f8e,#24868e,#27808e,#2d708e,#2f6b8e,#2a778e,#1f998a,#7ad151,#77d153,#1f988b,#2b758e,#31688e,#2e6d8e,#27808e,#20938c,#23888e,#31688e,#3d4d8a,#423f85,#423f85,#3d4d8a,#31688e,#23888e,#20938c,#27808e,#2e6d8e,#31688e,#2b758e,#1f988b,#77d153,#7ad151,#1f998a,#2a778e,#2f6b8e,#2d708e,#27808e,#24868e,#2e6f8e,#3e4a89,#472e7c,#481f70,#48186a,#481769,#481769,#481668,#481467,#471063,#470d60,#460b5e,#460b5e,#471063,#48186a,#482475,#46327e,#433d84,#414287,#3f4788,#3d4d8a,#39568c,#31668e,#2a788e,#218e8d,#1fa187,#27ad81,#2ab07f,#26ad81,#21a685,#1fa188,#1f9f88,#1fa187,#25ab82,#37b878,#5ec962,#93d741,#c2df23,#d5e21a,#d8e219,#e5e419,#e7e419,#c0df25,#93d741,#73d056,#60ca60,#5ec962,#6ccd5a,#89d548)"></i>
<i style="top:135.53px;height:2.69px;border-color:#86d549;border-right-color:#86d549;background-image:linear-gradient(90deg,#86d549,#69cd5b,#5cc863,#5ec962,#70cf57,#90d743,#bddf26,#eae51a,#f1e51d,#e7e419,#e7e419,#cde11d,#98d83e,#60ca60,#38b977,#25ac82,#20a386,#1fa188,#20a386,#25ab82,#2db27d,#32b67a,#2eb37c,#21a585,#20928c,#287d8e,#2f6b8e,#365d8d,#3a538b,#3d4e8a,#3e4989,#424186,#453581,#482677,#481a6c,#471164,#470d60,#460b5e,#470d60,#471063,#471365,#481467,#481467,#481467,#481668,#481c6e,#472a7a,#404588,#31678e,#277e8e,#2a788e,#2f6b8e,#31678e,#2c728e,#20938c,#65cb5e,#8ed645,#1f9f88,#297b8e,#2e6e8e,#2c738e,#24878e,#1f9a8a,#23888e,#32648e,#3f4889,#443a83,#443a83,#3f4889,#32648e,#23888e,#1f9a8a,#24878e,#2c738e,#2e6e8e,#297b8e,#1f9f88,#8ed645,#65cb5e,#20938c,#2c728e,#31678e,#2f6b8e,#2a788e,#277e8e,#31678e,#404588,#472a7a,#481c6e,#481668,#481467,#481467,#481467,#471365,#471063,#470d60,#460b5e,#470d60,#471164,#481a6c,#482677,#453581,#424186,#3e4989,#3d4e8a,#3a538b,#365d8d,#2f6b8e,#287d8e,#20928c,#21a585,#2eb37c,#32b67a,#2db27d,#25ab82,#20a386,#1fa188,#20a386,#25ac82,#38b977,#60ca60,#98d83e,#cde11d,#e7e419,#e7e419,#f1e51d,#eae51a,#bddf26,#90d743,#70cf57,#5ec962,#5cc863,#69cd5b,#86d549)"></i>
<i style="top:137.52px;height:2.69px;border-color:#86d549;border-right-color:#86d549;background-image:linear-gradient(90deg,#86d549,#69cd5b,#5cc863,#5cc863,#6ece58,#8ed645,#bade28,#e5e419,#f4e61e,#ece51b,#fbe723,#d5e21a,#9bd93c,#63cb5f,#3aba76,#26ad81,#21a585,#20a386,#22a785,#28ae80,#34b679,#3bbb75,#34b679,#24aa83,#1f968b,#26828e,#2d708e,#33638d,#375a8c,#3a548c,#3c508b,#3f4788,#443983,#482979,#481b6d,#471365,#470e61,#470d60,#470d60,#471063,#471365,#471365,#471365,#471164,#471365,#481a6c,#482677,#423f85,#34608d,#2b758e,#2c718e,#32658e,#34618d,#2e6e8e,#228d8d,#52c569,#a5db36,#21a685,#26828e,#2c738e,#297a8e,#21908d,#1fa188,#24878e,#34618d,#404588,#453781,#453781,#404588,#34618d,#24878e,#1fa188,#21908d,#297a8e,#2c738e,#26828e,#21a685,#a5db36,#52c569,#228d8d,#2e6e8e,#34618d,#32658e,#2c718e,#2b758e,#34608d,#423f85,#482677,#481a6c,#471365,#471164,#471365,#471365,#471365,#471063,#470d60,#470d60,#470e61,#471365,#481b6d,#482979,#443983,#3f4788,#3c508b,#3a548c,#375a8c,#33638d,#2d708e,#26828e,#1f968b,#24aa83,#34b679,#3bbb75,#34b679,#28ae80,#22a785,#20a386,#21a585,#26ad81,#3aba76,#63cb5f,#9bd93c,#d5e21a,#fbe723,#ece51b,#f4e61e,#e5e419,#bade28,#8ed645,#6ece58,#5cc863,#5cc863,#69cd5b,#86d549)"></i>
<i style="top:139.51px;height:2.69px;border-color:#86d549;border-right-color:#86d549;background-image:linear-gradient(90deg,#86d549,#69cd5b,#5ac864,#5cc863,#6ece58,#8ed645,#b8de29,#dde318,#e5e419,#e5e419,#f1e51d,#d5e21a,#9dd93b,#65cb5e,#3bbb75,#28ae80,#22a785,#21a685,#25ab82,#2eb37c,#3bbb75,#44bf70,#3aba76,#26ad81,#1f9a8a,#24868e,#2b758e,#30698e,#34618d,#365c8d,#39568c,#3d4e8a,#433e85,#472c7a,#481d6f,#481467,#470e61,#470d60,#470e61,#471063,#471365,#471365,#471164,#471063,#471164,#481769,#482374,#443a83,#38598c,#2e6d8e,#306a8e,#355f8d,#365c8d,#31688e,#24868e,#40bd72,#b8de29,#27ad81,#24878e,#297a8e,#26818e,#1f998a,#22a785,#24878e,#355e8d,#424186,#463480,#463480,#424186,#355e8d,#24878e,#22a785,#1f998a,#26818e,#297a8e,#24878e,#27ad81,#b8de29,#40bd72,#24868e,#31688e,#365c8d,#355f8d,#306a8e,#2e6d8e,#38598c,#443a83,#482374,#481769,#471164,#471063,#471164,#471365,#471365,#471063,#470e61,#470d60,#470e61,#481467,#481d6f,#472c7a,#433e85,#3d4e8a,#39568c,#365c8d,#34618d,#30698e,#2b758e,#24868e,#1f9a8a,#26ad81,#3aba76,#44bf70,#3bbb75,#2eb37c,#25ab82,#21a685,#22a785,#28ae80,#3bbb75,#65cb5e,#9dd93b,#d5e21a,#f1e51d,#e5e419,#e5e419,#dde318,#b8de29,#8ed645,#6ece58,#5cc863,#5ac864,#69cd5b,#86d549)"></i>
<i style="top:141.51px;height:2.69px;border-color:#86d549;border-right-color:#86d549;background-image:linear-gradient(90deg,#86d549,#69cd5b,#5cc863,#5cc863,#6ece58,#8bd646,#b2dd2d,#d0e11c,#d5e21a,#d5e21a,#dfe318,#d2e21b,#9dd93b,#67cc5c,#3fbc73,#2ab07f,#23a983,#23a983,#28ae80,#35b779,#44bf70,#4ac16d,#3fbc73,#28ae80,#1e9d89,#228b8d,#297b8e,#2e6f8e,#31688e,#33638d,#355e8d,#3a548c,#414287,#472f7d,#482071,#481668,#471063,#470e61,#470e61,#471164,#471365,#471164,#471063,#470e61,#471063,#481467,#482071,#453581,#3b528b,#32658e,#33638d,#38598c,#39568c,#33628d,#27808e,#32b67a,#bade28,#2fb47c,#218e8d,#27808e,#23888e,#1fa287,#29af7f,#24878e,#365c8d,#423f85,#46327e,#46327e,#423f85,#365c8d,#24878e,#29af7f,#1fa287,#23888e,#27808e,#218e8d,#2fb47c,#bade28,#32b67a,#27808e,#33628d,#39568c,#38598c,#33638d,#32658e,#3b528b,#453581,#482071,#481467,#471063,#470e61,#471063,#471164,#471365,#471164,#470e61,#470e61,#471063,#481668,#482071,#472f7d,#414287,#3a548c,#355e8d,#33638d,#31688e,#2e6f8e,#297b8e,#228b8d,#1e9d89,#28ae80,#3fbc73,#4ac16d,#44bf70,#35b779,#28ae80,#23a983,#23a983,#2ab07f,#3fbc73,#67cc5c,#9dd93b,#d2e21b,#dfe318,#d5e21a,#d5e21a,#d0e11c,#b2dd2d,#8bd646,#6ece58,#5cc863,#5cc863,#69cd5b,#86d549)"></i>
<i style="top:143.50px;height:2.69px;border-color:#86d549;border-right-color:#86d549;background-image:linear-gradient(90deg,#86d549,#69cd5b,#5cc863,#5ec962,#6ece58,#8bd646,#b0dd2f,#c5e021,#c5e021,#c5e021,#cde11d,#c8e020,#9dd93b,#69cd5b,#42be71,#2db27d,#25ac82,#25ac82,#2db27d,#3bbb75,#4cc26c,#50c46a,#40bd72,#2ab07f,#1fa088,#218f8d,#26818e,#2b758e,#2e6f8e,#2f6b8e,#31668e,#375b8d,#3f4889,#46337f,#482374,#481769,#471164,#471063,#471063,#471164,#471365,#471164,#470e61,#470d60,#470d60,#471365,#481d6f,#46327e,#3d4d8a,#355e8d,#375b8d,#3b528b,#3b518b,#365d8d,#297a8e,#27ad81,#aadc32,#3aba76,#20938c,#24868e,#21908d,#27ad81,#35b779,#23888e,#375a8c,#433d84,#472f7d,#472f7d,#433d84,#375a8c,#23888e,#35b779,#27ad81,#21908d,#24868e,#20938c,#3aba76,#aadc32,#27ad81,#297a8e,#365d8d,#3b518b,#3b528b,#375b8d,#355e8d,#3d4d8a,#46327e,#481d6f,#471365,#470d60,#470d60,#470e61,#471164,#471365,#471164,#471063,#471063,#471164,#481769,#482374,#46337f,#3f4889,#375b8d,#31668e,#2f6b8e,#2e6f8e,#2b758e,#26818e,#218f8d,#1fa088,#2ab07f,#40bd72,#50c46a,#4cc26c,#3bbb75,#2db27d,#25ac82,#25ac82,#2db27d,#42be71,#69cd5b,#9dd93b,#c8e020,#cde11d,#c5e021,#c5e021,#c5e021,#b0dd2f,#8bd646,#6ece58,#5ec962,#5cc863,#69cd5b,#86d549)"></i>
<i style="top:145.49px;height:2.69px;border-color:#89d548;border-right-color:#89d548;background-image:linear-gradient(90deg,#89d548,#6ccd5a,#5ec962,#5ec962,#70cf57,#8bd646,#aadc32,#bade28,#b5de2b,#b2dd2d,#bade28,#bddf26,#9dd93b,#6ccd5a,#46c06f,#2fb47c,#28ae80,#29af7f,#32b67a,#42be71,#52c569,#52c569,#40bd72,#2cb17e,#1fa287,#20938c,#24868e,#287d8e,#2a768e,#2c738e,#2e6e8e,#33628d,#3d4e8a,#453781,#482576,#481a6c,#481467,#471164,#471164,#471365,#471365,#471063,#470d60,#460b5e,#470d60,#471164,#481b6d,#472e7c,#404688,#39558c,#3a538b,#3e4c8a,#3e4a89,#38588c,#2c738e,#20a486,#93d741,#42be71,#1f988b,#228b8d,#1f978b,#37b878,#44bf70,#23888e,#38598c,#443b84,#472e7c,#472e7c,#443b84,#38598c,#23888e,#44bf70,#37b878,#1f978b,#228b8d,#1f988b,#42be71,#93d741,#20a486,#2c738e,#38588c,#3e4a89,#3e4c8a,#3a538b,#39558c,#404688,#472e7c,#481b6d,#471164,#470d60,#460b5e,#470d60,#471063,#471365,#471365,#471164,#471164,#481467,#481a6c,#482576,#453781,#3d4e8a,#33628d,#2e6e8e,#2c738e,#2a768e,#287d8e,#24868e,#20938c,#1fa287,#2cb17e,#40bd72,#52c569,#52c569,#42be71,#32b67a,#29af7f,#28ae80,#2fb47c,#46c06f,#6ccd5a,#9dd93b,#bddf26,#bade28,#b2dd2d,#b5de2b,#bade28,#aadc32,#8bd646,#70cf57,#5ec962,#5ec962,#6ccd5a,#89d548)"></i>
<i style="top:147.49px;height:2.69px;border-color:#8bd646;border-right-color:#8bd646;background-image:linear-gradient(90deg,#8bd646,#6ece58,#60ca60,#63cb5f,#70cf57,#8bd646,#a5db36,#addc30,#a8db34,#a2da37,#aadc32,#b2dd2d,#9bd93c,#70cf57,#4ac16d,#34b679,#2cb17e,#2eb37c,#38b977,#4ac16d,#56c667,#52c569,#40bd72,#2cb17e,#20a486,#1f978b,#228c8d,#25838e,#277f8e,#287c8e,#2a768e,#30698e,#3a538b,#443b84,#482878,#481c6e,#481668,#471365,#471365,#481467,#471365,#471063,#470d60,#460a5d,#460b5e,#471063,#48186a,#472a7a,#424186,#3c4f8a,#3d4d8a,#404688,#404688,#3b518b,#2e6e8e,#1e9d89,#77d153,#44bf70,#1e9b8a,#218f8d,#1e9d89,#4ac16d,#58c765,#23898e,#38598c,#443a83,#472d7b,#472d7b,#443a83,#38598c,#23898e,#58c765,#4ac16d,#1e9d89,#218f8d,#1e9b8a,#44bf70,#77d153,#1e9d89,#2e6e8e,#3b518b,#404688,#404688,#3d4d8a,#3c4f8a,#424186,#472a7a,#48186a,#471063,#460b5e,#460a5d,#470d60,#471063,#471365,#481467,#471365,#471365,#481668,#481c6e,#482878,#443b84,#3a538b,#30698e,#2a768e,#287c8e,#277f8e,#25838e,#228c8d,#1f978b,#20a486,#2cb17e,#40bd72,#52c569,#56c667,#4ac16d,#38b977,#2eb37c,#2cb17e,#34b679,#4ac16d,#70cf57,#9bd93c,#b2dd2d,#aadc32,#a2da37,#a8db34,#addc30,#a5db36,#8bd646,#70cf57,#63cb5f,#60ca60,#6ece58,#8bd646)"></i>
<i style="top:149.48px;height:2.69px;border-color:#8ed645;border-right-color:#8ed645;background-image:linear-gradient(90deg,#8ed645,#70cf57,#63cb5f,#65cb5e,#75d054,#8ed645,#a2da37,#a2da37,#98d83e,#95d840,#9bd93c,#a5db36,#98d83e,#73d056,#50c46a,#3aba76,#31b57b,#34b679,#3fbc73,#50c46a,#5ac864,#52c569,#3dbc74,#2cb17e,#21a685,#1e9b8a,#20928c,#228b8d,#24878e,#25848e,#277f8e,#2d708e,#38598c,#423f85,#472c7a,#481f70,#48186a,#481668,#481668,#481467,#471365,#471063,#460b5e,#460a5d,#460a5d,#470e61,#481769,#482878,#443b84,#3f4889,#404688,#424086,#424086,#3e4c8a,#31688e,#1f948c,#5cc863,#42be71,#1e9d89,#20928c,#1fa188,#5ec962,#6ece58,#228b8d,#38588c,#443983,#472d7b,#472d7b,#443983,#38588c,#228b8d,#6ece58,#5ec962,#1fa188,#20928c,#1e9d89,#42be71,#5cc863,#1f948c,#31688e,#3e4c8a,#424086,#424086,#404688,#3f4889,#443b84,#482878,#481769,#470e61,#460a5d,#460a5d,#460b5e,#471063,#471365,#481467,#481668,#481668,#48186a,#481f70,#472c7a,#423f85,#38598c,#2d708e,#277f8e,#25848e,#24878e,#228b8d,#20928c,#1e9b8a,#21a685,#2cb17e,#3dbc74,#52c569,#5ac864,#50c46a,#3fbc73,#34b679,#31b57b,#3aba76,#50c46a,#73d056,#98d83e,#a5db36,#9bd93c,#95d840,#98d83e,#a2da37,#a2da37,#8ed645,#75d054,#65cb5e,#63cb5f,#70cf57,#8ed645)"></i>
<i style="top:151.47px;height:2.69px;border-color:#90d743;border-right-color:#90d743;background-image:linear-gradient(90deg,#90d743,#73d056,#67cc5c,#69cd5b,#77d153,#8ed645,#9dd93b,#98d83e,#8bd646,#86d549,#8ed645,#9bd93c,#95d840,#77d153,#56c667,#3fbc73,#37b878,#3aba76,#46c06f,#56c667,#5cc863,#50c46a,#3bbb75,#2cb17e,#22a785,#1f9f88,#1f988b,#20928c,#21908d,#218f8d,#23888e,#2a778e,#355f8d,#404588,#472f7d,#482374,#481b6d,#48186a,#481769,#481668,#471365,#470e61,#460b5e,#46085c,#460a5d,#470d60,#481668,#482475,#453781,#424186,#423f85,#443a83,#443a83,#3f4788,#33628d,#228d8d,#44bf70,#3aba76,#1e9c89,#20928c,#1fa187,#6ccd5a,#84d44b,#228c8d,#38598c,#443983,#472c7a,#472c7a,#443983,#38598c,#228c8d,#84d44b,#6ccd5a,#1fa187,#20928c,#1e9c89,#3aba76,#44bf70,#228d8d,#33628d,#3f4788,#443a83,#443a83,#423f85,#424186,#453781,#482475,#481668,#470d60,#460a5d,#46085c,#460b5e,#470e61,#471365,#481668,#481769,#48186a,#481b6d,#482374,#472f7d,#404588,#355f8d,#2a778e,#23888e,#218f8d,#21908d,#20928c,#1f988b,#1f9f88,#22a785,#2cb17e,#3bbb75,#50c46a,#5cc863,#56c667,#46c06f,#3aba76,#37b878,#3fbc73,#56c667,#77d153,#95d840,#9bd93c,#8ed645,#86d549,#8bd646,#98d83e,#9dd93b,#8ed645,#77d153,#69cd5b,#67cc5c,#73d056,#90d743)"></i>
<i style="top:153.46px;height:2.69px;border-color:#93d741;border-right-color:#93d741;background-image:linear-gradient(90deg,#93d741,#77d153,#6ccd5a,#6ece58,#7cd250,#90d743,#98d83e,#90d743,#81d34d,#7ad151,#81d34d,#90d743,#93d741,#7cd250,#5cc863,#46c06f,#3dbc74,#40bd72,#4ec36b,#5cc863,#5cc863,#4cc26c,#38b977,#2ab07f,#23a983,#1fa287,#1f9e89,#1f9a8a,#1f998a,#1f988b,#20928c,#277f8e,#32658e,#3e4989,#463480,#482576,#481f70,#481b6d,#481a6c,#48186a,#481467,#470e61,#460b5e,#46085c,#46085c,#460b5e,#481467,#482173,#46337f,#443b84,#443983,#463480,#453581,#424186,#365d8d,#24868e,#31b57b,#2fb47c,#1f988b,#218f8d,#1fa088,#6ccd5a,#93d741,#218e8d,#375a8c,#443a83,#472d7b,#472d7b,#443a83,#375a8c,#218e8d,#93d741,#6ccd5a,#1fa088,#218f8d,#1f988b,#2fb47c,#31b57b,#24868e,#365d8d,#424186,#453581,#463480,#443983,#443b84,#46337f,#482173,#481467,#460b5e,#46085c,#46085c,#460b5e,#470e61,#481467,#48186a,#481a6c,#481b6d,#481f70,#482576,#463480,#3e4989,#32658e,#277f8e,#20928c,#1f988b,#1f998a,#1f9a8a,#1f9e89,#1fa287,#23a983,#2ab07f,#38b977,#4cc26c,#5cc863,#5cc863,#4ec36b,#40bd72,#3dbc74,#46c06f,#5cc863,#7cd250,#93d741,#90d743,#81d34d,#7ad151,#81d34d,#90d743,#98d83e,#90d743,#7cd250,#6ece58,#6ccd5a,#77d153,#93d741)"></i>
<i style="top:155.46px;height:2.69px;border-color:#98d83e;border-right-color:#98d83e;background-image:linear-gradient(90deg,#98d83e,#7cd250,#70cf57,#73d056,#81d34d,#90d743,#95d840,#86d549,#75d054,#70cf57,#75d054,#86d549,#90d743,#7fd34e,#63cb5f,#4ec36b,#46c06f,#4ac16d,#58c765,#63cb5f,#5cc863,#48c16e,#35b779,#29af7f,#24aa83,#21a685,#20a386,#1fa287,#1fa287,#1fa287,#1e9b8a,#24868e,#2f6b8e,#3c4f8a,#443983,#472a7a,#482173,#481f70,#481c6e,#481a6c,#481668,#470e61,#460a5d,#46085c,#46085c,#460b5e,#471365,#482071,#472f7d,#453781,#463480,#472f7d,#46327e,#433d84,#38588c,#27808e,#25ab82,#25ab82,#20928c,#228b8d,#1e9b8a,#5ac864,#93d741,#21908d,#375b8d,#443a83,#472d7b,#472d7b,#443a83,#375b8d,#21908d,#93d741,#5ac864,#1e9b8a,#228b8d,#20928c,#25ab82,#25ab82,#27808e,#38588c,#433d84,#46327e,#472f7d,#463480,#453781,#472f7d,#482071,#471365,#460b5e,#46085c,#46085c,#460a5d,#470e61,#481668,#481a6c,#481c6e,#481f70,#482173,#472a7a,#443983,#3c4f8a,#2f6b8e,#24868e,#1e9b8a,#1fa287,#1fa287,#1fa287,#20a386,#21a685,#24aa83,#29af7f,#35b779,#48c16e,#5cc863,#63cb5f,#58c765,#4ac16d,#46c06f,#4ec36b,#63cb5f,#7fd34e,#90d743,#86d549,#75d054,#70cf57,#75d054,#86d549,#95d840,#90d743,#81d34d,#73d056,#70cf57,#7cd250,#98d83e)"></i>
<i style="top:157.45px;height:2.69px;border-color:#9dd93b;border-right-color:#9dd93b;background-image:linear-gradient(90deg,#9dd93b,#81d34d,#75d054,#77d153,#86d549,#93d741,#90d743,#7fd34e,#6ccd5a,#65cb5e,#6ccd5a,#7cd250,#8bd646,#84d44b,#6ccd5a,#58c765,#50c46a,#54c568,#60ca60,#67cc5c,#5cc863,#44bf70,#31b57b,#28ae80,#25ab82,#23a983,#23a983,#25ab82,#26ad81,#26ad81,#20a486,#218e8d,#2d718e,#3a548c,#433e85,#472e7c,#482677,#482173,#481f70,#481c6e,#481668,#471063,#460a5d,#46085c,#46085c,#460b5e,#471164,#481d6f,#472c7a,#46327e,#472e7c,#472c7a,#472d7b,#443983,#3b528b,#29798e,#1fa188,#1fa187,#228c8d,#25848e,#20938c,#44bf70,#86d549,#20928c,#365d8d,#433d84,#472e7c,#472e7c,#433d84,#365d8d,#20928c,#86d549,#44bf70,#20938c,#25848e,#228c8d,#1fa187,#1fa188,#29798e,#3b528b,#443983,#472d7b,#472c7a,#472e7c,#46327e,#472c7a,#481d6f,#471164,#460b5e,#46085c,#46085c,#460a5d,#471063,#481668,#481c6e,#481f70,#482173,#482677,#472e7c,#433e85,#3a548c,#2d718e,#218e8d,#20a486,#26ad81,#26ad81,#25ab82,#23a983,#23a983,#25ab82,#28ae80,#31b57b,#44bf70,#5cc863,#67cc5c,#60ca60,#54c568,#50c46a,#58c765,#6ccd5a,#84d44b,#8bd646,#7cd250,#6ccd5a,#65cb5e,#6ccd5a,#7fd34e,#90d743,#93d741,#86d549,#77d153,#75d054,#81d34d,#9dd93b)"></i>
<i style="top:159.44px;height:2.69px;border-color:#a2da37;border-right-color:#a2da37;background-image:linear-gradient(90deg,#a2da37,#89d548,#7cd250,#7fd34e,#8bd646,#95d840,#8ed645,#77d153,#65cb5e,#5cc863,#63cb5f,#75d054,#89d548,#89d548,#75d054,#63cb5f,#5ac864,#60ca60,#6ccd5a,#6ece58,#5ac864,#40bd72,#2eb37c,#26ad81,#25ab82,#26ad81,#29af7f,#2db27d,#32b67a,#35b779,#28ae80,#1f958b,#2a778e,#375b8d,#414487,#46337f,#472a7a,#482677,#482374,#481d6f,#481769,#471063,#460a5d,#46085c,#46085c,#460a5d,#471164,#481c6e,#482878,#472d7b,#472a7a,#482677,#482979,#463480,#3d4e8a,#2c728e,#1f968b,#1f978b,#25838e,#287d8e,#228b8d,#2eb37c,#70cf57,#1f948c,#355f8d,#423f85,#46307e,#46307e,#423f85,#355f8d,#1f948c,#70cf57,#2eb37c,#228b8d,#287d8e,#25838e,#1f978b,#1f968b,#2c728e,#3d4e8a,#463480,#482979,#482677,#472a7a,#472d7b,#482878,#481c6e,#471164,#460a5d,#46085c,#46085c,#460a5d,#471063,#481769,#481d6f,#482374,#482677,#472a7a,#46337f,#414487,#375b8d,#2a778e,#1f958b,#28ae80,#35b779,#32b67a,#2db27d,#29af7f,#26ad81,#25ab82,#26ad81,#2eb37c,#40bd72,#5ac864,#6ece58,#6ccd5a,#60ca60,#5ac864,#63cb5f,#75d054,#89d548,#89d548,#75d054,#63cb5f,#5cc863,#65cb5e,#77d153,#8ed645,#95d840,#8bd646,#7fd34e,#7cd250,#89d548,#a2da37)"></i>
<i style="top:161.44px;height:2.69px;border-color:#a8db34;border-right-color:#a8db34;background-image:linear-gradient(90deg,#a8db34,#90d743,#84d44b,#86d549,#93d741,#98d83e,#8bd646,#70cf57,#5cc863,#56c667,#5cc863,#6ece58,#86d549,#8ed645,#81d34d,#6ece58,#67cc5c,#6ccd5a,#75d054,#73d056,#58c765,#3dbc74,#2cb17e,#25ac82,#25ac82,#29af7f,#31b57b,#3aba76,#44bf70,#48c16e,#35b779,#1f9e89,#287d8e,#34608d,#3e4989,#443983,#46307e,#472c7a,#482677,#482173,#48186a,#471063,#460a5d,#46085c,#46075a,#460a5d,#471063,#481b6d,#482576,#482878,#482576,#482374,#482576,#46307e,#3e4989,#2e6d8e,#228d8d,#228d8d,#297b8e,#2b748e,#26828e,#21a685,#58c765,#1f978b,#33628d,#424186,#46337f,#46337f,#424186,#33628d,#1f978b,#58c765,#21a685,#26828e,#2b748e,#297b8e,#228d8d,#228d8d,#2e6d8e,#3e4989,#46307e,#482576,#482374,#482576,#482878,#482576,#481b6d,#471063,#460a5d,#46075a,#46085c,#460a5d,#471063,#48186a,#482173,#482677,#472c7a,#46307e,#443983,#3e4989,#34608d,#287d8e,#1f9e89,#35b779,#48c16e,#44bf70,#3aba76,#31b57b,#29af7f,#25ac82,#25ac82,#2cb17e,#3dbc74,#58c765,#73d056,#75d054,#6ccd5a,#67cc5c,#6ece58,#81d34d,#8ed645,#86d549,#6ece58,#5cc863,#56c667,#5cc863,#70cf57,#8bd646,#98d83e,#93d741,#86d549,#84d44b,#90d743,#a8db34)"></i>
<i style="top:163.43px;height:2.69px;border-color:#addc30;border-right-color:#addc30;background-image:linear-gradient(90deg,#addc30,#98d83e,#8ed645,#90d743,#9bd93c,#9bd93c,#89d548,#6ccd5a,#56c667,#50c46a,#54c568,#67cc5c,#84d44b,#93d741,#8bd646,#7cd250,#75d054,#7ad151,#81d34d,#75d054,#58c765,#3aba76,#2ab07f,#25ac82,#26ad81,#2db27d,#3aba76,#4ac16d,#5ac864,#60ca60,#44bf70,#20a486,#25838e,#31678e,#3c4f8a,#423f85,#453581,#46307e,#472c7a,#482475,#481a6c,#471164,#460a5d,#46085c,#46075a,#460a5d,#471063,#481a6c,#482374,#482576,#482173,#481f70,#482374,#472d7b,#404588,#31688e,#25848e,#26828e,#2c728e,#2f6c8e,#2a788e,#1f998a,#40bd72,#1f9a8a,#31668e,#404588,#453581,#453581,#404588,#31668e,#1f9a8a,#40bd72,#1f998a,#2a788e,#2f6c8e,#2c728e,#26828e,#25848e,#31688e,#404588,#472d7b,#482374,#481f70,#482173,#482576,#482374,#481a6c,#471063,#460a5d,#46075a,#46085c,#460a5d,#471164,#481a6c,#482475,#472c7a,#46307e,#453581,#423f85,#3c4f8a,#31678e,#25838e,#20a486,#44bf70,#60ca60,#5ac864,#4ac16d,#3aba76,#2db27d,#26ad81,#25ac82,#2ab07f,#3aba76,#58c765,#75d054,#81d34d,#7ad151,#75d054,#7cd250,#8bd646,#93d741,#84d44b,#67cc5c,#54c568,#50c46a,#56c667,#6ccd5a,#89d548,#9bd93c,#9bd93c,#90d743,#8ed645,#98d83e,#addc30)"></i>
<i style="top:165.42px;height:2.69px;border-color:#b5de2b;border-right-color:#b5de2b;background-image:linear-gradient(90deg,#b5de2b,#a0da39,#95d840,#98d83e,#a2da37,#9dd93b,#86d549,#67cc5c,#52c569,#4ac16d,#50c46a,#63cb5f,#81d34d,#98d83e,#98d83e,#8bd646,#84d44b,#89d548,#8bd646,#7ad151,#56c667,#38b977,#28ae80,#25ab82,#27ad81,#31b57b,#42be71,#5ac864,#73d056,#7ad151,#56c667,#25ac82,#238a8d,#2e6d8e,#39568c,#404688,#433d84,#453781,#46307e,#482878,#481c6e,#471164,#460b5e,#46085c,#46085c,#460a5d,#471063,#48186a,#482071,#482173,#481f70,#481c6e,#481f70,#472a7a,#424186,#33628d,#287c8e,#29798e,#30698e,#33638d,#2e6e8e,#228d8d,#2eb37c,#1e9c89,#306a8e,#3f4889,#443983,#443983,#3f4889,#306a8e,#1e9c89,#2eb37c,#228d8d,#2e6e8e,#33638d,#30698e,#29798e,#287c8e,#33628d,#424186,#472a7a,#481f70,#481c6e,#481f70,#482173,#482071,#48186a,#471063,#460a5d,#46085c,#46085c,#460b5e,#471164,#481c6e,#482878,#46307e,#453781,#433d84,#404688,#39568c,#2e6d8e,#238a8d,#25ac82,#56c667,#7ad151,#73d056,#5ac864,#42be71,#31b57b,#27ad81,#25ab82,#28ae80,#38b977,#56c667,#7ad151,#8bd646,#89d548,#84d44b,#8bd646,#98d83e,#98d83e,#81d34d,#63cb5f,#50c46a,#4ac16d,#52c569,#67cc5c,#86d549,#9dd93b,#a2da37,#98d83e,#95d840,#a0da39,#b5de2b)"></i>
<i style="top:167.41px;height:2.69px;border-color:#bade28;border-right-color:#bade28;background-image:linear-gradient(90deg,#bade28,#a8db34,#a0da39,#a2da37,#aadc32,#a2da37,#84d44b,#63cb5f,#4cc26c,#44bf70,#4ac16d,#5ec962,#7fd34e,#9dd93b,#a5db36,#9bd93c,#95d840,#98d83e,#98d83e,#7cd250,#54c568,#35b779,#27ad81,#25ab82,#27ad81,#35b779,#4ec36b,#6ece58,#8bd646,#93d741,#67cc5c,#2cb17e,#21918c,#2c738e,#365d8d,#3d4e8a,#414487,#433e85,#453581,#472a7a,#481d6f,#471365,#460b5e,#46085c,#46085c,#460a5d,#471063,#481769,#481d6f,#481f70,#481b6d,#481a6c,#481c6e,#482878,#433e85,#355e8d,#2b748e,#2d708e,#34608d,#375b8d,#32658e,#26818e,#22a884,#1f9f88,#2d708e,#3d4e8a,#433e85,#433e85,#3d4e8a,#2d708e,#1f9f88,#22a884,#26818e,#32658e,#375b8d,#34608d,#2d708e,#2b748e,#355e8d,#433e85,#482878,#481c6e,#481a6c,#481b6d,#481f70,#481d6f,#481769,#471063,#460a5d,#46085c,#46085c,#460b5e,#471365,#481d6f,#472a7a,#453581,#433e85,#414487,#3d4e8a,#365d8d,#2c738e,#21918c,#2cb17e,#67cc5c,#93d741,#8bd646,#6ece58,#4ec36b,#35b779,#27ad81,#25ab82,#27ad81,#35b779,#54c568,#7cd250,#98d83e,#98d83e,#95d840,#9bd93c,#a5db36,#9dd93b,#7fd34e,#5ec962,#4ac16d,#44bf70,#4cc26c,#63cb5f,#84d44b,#a2da37,#aadc32,#a2da37,#a0da39,#a8db34,#bade28)"></i>
<i style="top:169.41px;height:2.69px;border-color:#c2df23;border-right-color:#c2df23;background-image:linear-gradient(90deg,#c2df23,#b2dd2d,#aadc32,#addc30,#b2dd2d,#a5db36,#81d34d,#5ec962,#48c16e,#40bd72,#46c06f,#5ac864,#7cd250,#a2da37,#b2dd2d,#addc30,#a8db34,#aadc32,#a2da37,#7fd34e,#52c569,#34b679,#27ad81,#25ab82,#28ae80,#38b977,#58c765,#7fd34e,#a5db36,#a8db34,#75d054,#34b679,#1f978b,#297a8e,#32658e,#39558c,#3e4c8a,#404588,#443b84,#472f7d,#482071,#481467,#460b5e,#46085c,#46085c,#460a5d,#471063,#481769,#481c6e,#481b6d,#48186a,#481769,#481a6c,#482576,#443a83,#38598c,#2e6d8e,#31678e,#38588c,#3b518b,#375b8d,#2b758e,#1f9e89,#1fa188,#2b758e,#3a538b,#414287,#414287,#3a538b,#2b758e,#1fa188,#1f9e89,#2b758e,#375b8d,#3b518b,#38588c,#31678e,#2e6d8e,#38598c,#443a83,#482576,#481a6c,#481769,#48186a,#481b6d,#481c6e,#481769,#471063,#460a5d,#46085c,#46085c,#460b5e,#481467,#482071,#472f7d,#443b84,#404588,#3e4c8a,#39558c,#32658e,#297a8e,#1f978b,#34b679,#75d054,#a8db34,#a5db36,#7fd34e,#58c765,#38b977,#28ae80,#25ab82,#27ad81,#34b679,#52c569,#7fd34e,#a2da37,#aadc32,#a8db34,#addc30,#b2dd2d,#a2da37,#7cd250,#5ac864,#46c06f,#40bd72,#48c16e,#5ec962,#81d34d,#a5db36,#b2dd2d,#addc30,#aadc32,#b2dd2d,#c2df23)"></i>
<i style="top:171.40px;height:2.69px;border-color:#cae11f;border-right-color:#cae11f;background-image:linear-gradient(90deg,#cae11f,#bddf26,#b5de2b,#bade28,#bddf26,#a8db34,#7fd34e,#5cc863,#46c06f,#3dbc74,#42be71,#58c765,#7ad151,#a5db36,#c0df25,#c0df25,#bade28,#bddf26,#addc30,#81d34d,#52c569,#34b679,#26ad81,#25ab82,#2ab07f,#3dbc74,#63cb5f,#93d741,#bade28,#b5de2b,#7cd250,#3bbb75,#1e9d89,#26828e,#2f6c8e,#355e8d,#3a548c,#3d4d8a,#414287,#46337f,#482374,#481668,#470d60,#46085c,#46085c,#460b5e,#471063,#481668,#481a6c,#481a6c,#481668,#481467,#48186a,#482374,#453882,#3a548c,#31668e,#355e8d,#3c4f8a,#3e4989,#3b528b,#2f6c8e,#20938c,#1fa287,#287c8e,#375a8c,#3f4889,#3f4889,#375a8c,#287c8e,#1fa287,#20938c,#2f6c8e,#3b528b,#3e4989,#3c4f8a,#355e8d,#31668e,#3a548c,#453882,#482374,#48186a,#481467,#481668,#481a6c,#481a6c,#481668,#471063,#460b5e,#46085c,#46085c,#470d60,#481668,#482374,#46337f,#414287,#3d4d8a,#3a548c,#355e8d,#2f6c8e,#26828e,#1e9d89,#3bbb75,#7cd250,#b5de2b,#bade28,#93d741,#63cb5f,#3dbc74,#2ab07f,#25ab82,#26ad81,#34b679,#52c569,#81d34d,#addc30,#bddf26,#bade28,#c0df25,#c0df25,#a5db36,#7ad151,#58c765,#42be71,#3dbc74,#46c06f,#5cc863,#7fd34e,#a8db34,#bddf26,#bade28,#b5de2b,#bddf26,#cae11f)"></i>
<i style="top:173.39px;height:2.69px;border-color:#d2e21b;border-right-color:#d2e21b;background-image:linear-gradient(90deg,#d2e21b,#c5e021,#c0df25,#c5e021,#c5e021,#aadc32,#7fd34e,#5ac864,#44bf70,#3bbb75,#40bd72,#54c568,#77d153,#a8db34,#cde11d,#d2e21b,#cde11d,#cde11d,#b5de2b,#81d34d,#52c569,#32b67a,#26ad81,#25ab82,#2cb17e,#42be71,#6ccd5a,#a2da37,#cae11f,#b5de2b,#7fd34e,#42be71,#20a386,#23898e,#2b748e,#31668e,#365d8d,#39558c,#3e4989,#453882,#482576,#481769,#470e61,#460a5d,#460a5d,#460b5e,#471063,#481668,#48186a,#481769,#481467,#471365,#481668,#482071,#463480,#3c508b,#355f8d,#39568c,#3f4788,#424186,#3e4989,#33628d,#238a8d,#20a386,#25848e,#33628d,#3c508b,#3c508b,#33628d,#25848e,#20a386,#238a8d,#33628d,#3e4989,#424186,#3f4788,#39568c,#355f8d,#3c508b,#463480,#482071,#481668,#471365,#481467,#481769,#48186a,#481668,#471063,#460b5e,#460a5d,#460a5d,#470e61,#481769,#482576,#453882,#3e4989,#39558c,#365d8d,#31668e,#2b748e,#23898e,#20a386,#42be71,#7fd34e,#b5de2b,#cae11f,#a2da37,#6ccd5a,#42be71,#2cb17e,#25ab82,#26ad81,#32b67a,#52c569,#81d34d,#b5de2b,#cde11d,#cde11d,#d2e21b,#cde11d,#a8db34,#77d153,#54c568,#40bd72,#3bbb75,#44bf70,#5ac864,#7fd34e,#aadc32,#c5e021,#c5e021,#c0df25,#c5e021,#d2e21b)"></i>
<i style="top:175.39px;height:2.69px;border-color:#dde318;border-right-color:#dde318;background-image:linear-gradient(90deg,#dde318,#d0e11c,#cae11f,#d2e21b,#d0e11c,#addc30,#7fd34e,#58c765,#42be71,#3aba76,#3fbc73,#52c569,#77d153,#a8db34,#d8e219,#e5e419,#e2e418,#dfe318,#bddf26,#84d44b,#52c569,#32b67a,#26ad81,#25ac82,#2db27d,#46c06f,#75d054,#b0dd2f,#cae11f,#addc30,#7cd250,#48c16e,#23a983,#21918c,#287d8e,#2d708e,#31678e,#355f8d,#3b518b,#433e85,#482878,#48186a,#470e61,#460a5d,#460a5d,#460b5e,#471063,#481668,#481769,#481668,#471164,#471164,#481467,#481f70,#46327e,#3e4c8a,#38598c,#3c4f8a,#424086,#443a83,#424186,#375a8c,#26818e,#20a386,#218e8d,#306a8e,#38588c,#38588c,#306a8e,#218e8d,#20a386,#26818e,#375a8c,#424186,#443a83,#424086,#3c4f8a,#38598c,#3e4c8a,#46327e,#481f70,#481467,#471164,#471164,#481668,#481769,#481668,#471063,#460b5e,#460a5d,#460a5d,#470e61,#48186a,#482878,#433e85,#3b518b,#355f8d,#31678e,#2d708e,#287d8e,#21918c,#23a983,#48c16e,#7cd250,#addc30,#cae11f,#b0dd2f,#75d054,#46c06f,#2db27d,#25ac82,#26ad81,#32b67a,#52c569,#84d44b,#bddf26,#dfe318,#e2e418,#e5e419,#d8e219,#a8db34,#77d153,#52c569,#3fbc73,#3aba76,#42be71,#58c765,#7fd34e,#addc30,#d0e11c,#d2e21b,#cae11f,#d0e11c,#dde318)"></i>
<i style="top:177.38px;height:2.69px;border-color:#e5e419;border-right-color:#e5e419;background-image:linear-gradient(90deg,#e5e419,#dae319,#d5e21a,#dde318,#d8e219,#b0dd2f,#7fd34e,#58c765,#40bd72,#38b977,#3dbc74,#52c569,#75d054,#a8db34,#dde318,#f8e621,#f4e61e,#efe51c,#c0df25,#84d44b,#52c569,#34b679,#27ad81,#26ad81,#2fb47c,#4cc26c,#7fd34e,#b8de29,#c2df23,#9dd93b,#77d153,#4cc26c,#28ae80,#1f988b,#25858e,#29798e,#2d718e,#31688e,#375a8c,#414287,#472c7a,#481b6d,#471063,#460b5e,#460b5e,#470d60,#471164,#481668,#481668,#471365,#471063,#471063,#471365,#481c6e,#472f7d,#3f4889,#3b528b,#3f4788,#443983,#46337f,#443a83,#3b518b,#2a788e,#20a386,#1f988b,#2b748e,#34618d,#34618d,#2b748e,#1f988b,#20a386,#2a788e,#3b518b,#443a83,#46337f,#443983,#3f4788,#3b528b,#3f4889,#472f7d,#481c6e,#471365,#471063,#471063,#471365,#481668,#481668,#471164,#470d60,#460b5e,#460b5e,#471063,#481b6d,#472c7a,#414287,#375a8c,#31688e,#2d718e,#29798e,#25858e,#1f988b,#28ae80,#4cc26c,#77d153,#9dd93b,#c2df23,#b8de29,#7fd34e,#4cc26c,#2fb47c,#26ad81,#27ad81,#34b679,#52c569,#84d44b,#c0df25,#efe51c,#f4e61e,#f8e621,#dde318,#a8db34,#75d054,#52c569,#3dbc74,#38b977,#40bd72,#58c765,#7fd34e,#b0dd2f,#d8e219,#dde318,#d5e21a,#dae319,#e5e419)"></i>
<i style="top:179.37px;height:2.69px;border-color:#ece51b;border-right-color:#ece51b;background-image:linear-gradient(90deg,#ece51b,#e5e419,#dfe318,#eae51a,#dfe318,#b0dd2f,#7fd34e,#56c667,#40bd72,#38b977,#3dbc74,#52c569,#75d054,#a8db34,#dae319,#f4e61e,#f1e51d,#efe51c,#c2df23,#86d549,#54c568,#34b679,#28ae80,#27ad81,#32b67a,#52c569,#86d549,#bade28,#b2dd2d,#8ed645,#6ece58,#4ec36b,#2eb37c,#1fa088,#218f8d,#25838e,#297b8e,#2c728e,#33628d,#3f4889,#472f7d,#481c6e,#471164,#470d60,#460b5e,#470e61,#471164,#481668,#481668,#471164,#470e61,#470e61,#471164,#481b6d,#472e7c,#404588,#3d4d8a,#424186,#46337f,#472d7b,#463480,#3e4989,#2d718e,#1fa187,#20a386,#27808e,#2f6b8e,#2f6b8e,#27808e,#20a386,#1fa187,#2d718e,#3e4989,#463480,#472d7b,#46337f,#424186,#3d4d8a,#404588,#472e7c,#481b6d,#471164,#470e61,#470e61,#471164,#481668,#481668,#471164,#470e61,#460b5e,#470d60,#471164,#481c6e,#472f7d,#3f4889,#33628d,#2c728e,#297b8e,#25838e,#218f8d,#1fa088,#2eb37c,#4ec36b,#6ece58,#8ed645,#b2dd2d,#bade28,#86d549,#52c569,#32b67a,#27ad81,#28ae80,#34b679,#54c568,#86d549,#c2df23,#efe51c,#f1e51d,#f4e61e,#dae319,#a8db34,#75d054,#52c569,#3dbc74,#38b977,#40bd72,#56c667,#7fd34e,#b0dd2f,#dfe318,#eae51a,#dfe318,#e5e419,#ece51b)"></i>
<i style="top:181.36px;height:2.69px;border-color:#f4e61e;border-right-color:#f4e61e;background-image:linear-gradient(90deg,#f4e61e,#ece51b,#e7e419,#f4e61e,#e2e418,#b2dd2d,#7fd34e,#58c765,#40bd72,#38b977,#3dbc74,#52c569,#75d054,#a5db36,#d2e21b,#dfe318,#dfe318,#dfe318,#c0df25,#86d549,#54c568,#35b779,#29af7f,#29af7f,#35b779,#56c667,#8ed645,#b8de29,#a0da39,#7cd250,#65cb5e,#50c46a,#35b779,#22a884,#1f998a,#218e8d,#24868e,#287d8e,#306a8e,#3c4f8a,#46337f,#481f70,#481467,#470e61,#470d60,#470e61,#471365,#481668,#481467,#471164,#470d60,#470d60,#471063,#481a6c,#472c7a,#424186,#3f4788,#443a83,#472d7b,#482878,#472e7c,#414287,#306a8e,#1f9f88,#2ab07f,#228c8d,#2a768e,#2a768e,#228c8d,#2ab07f,#1f9f88,#306a8e,#414287,#472e7c,#482878,#472d7b,#443a83,#3f4788,#424186,#472c7a,#481a6c,#471063,#470d60,#470d60,#471164,#481467,#481668,#471365,#470e61,#470d60,#470e61,#481467,#481f70,#46337f,#3c4f8a,#306a8e,#287d8e,#24868e,#218e8d,#1f998a,#22a884,#35b779,#50c46a,#65cb5e,#7cd250,#a0da39,#b8de29,#8ed645,#56c667,#35b779,#29af7f,#29af7f,#35b779,#54c568,#86d549,#c0df25,#dfe318,#dfe318,#dfe318,#d2e21b,#a5db36,#75d054,#52c569,#3dbc74,#38b977,#40bd72,#58c765,#7fd34e,#b2dd2d,#e2e418,#f4e61e,#e7e419,#ece51b,#f4e61e)"></i>
<i style="top:183.36px;height:2.69px;border-color:#f8e621;border-right-color:#f8e621;background-image:linear-gradient(90deg,#f8e621,#efe51c,#e7e419,#f4e61e,#e2e418,#b2dd2d,#7fd34e,#58c765,#40bd72,#3aba76,#3fbc73,#52c569,#75d054,#a2da37,#c5e021,#cde11d,#cde11d,#d0e11c,#bade28,#86d549,#56c667,#38b977,#2cb17e,#2cb17e,#3aba76,#5cc863,#93d741,#b0dd2f,#90d743,#6ece58,#5cc863,#50c46a,#3dbc74,#29af7f,#20a386,#1f9a8a,#20938c,#23888e,#2c738e,#39558c,#453882,#482374,#481668,#471063,#470e61,#471063,#481467,#481668,#481467,#471063,#470d60,#460b5e,#471063,#481a6c,#472a7a,#423f85,#414287,#453581,#482878,#482374,#482979,#433d84,#33638d,#1e9c89,#40bd72,#1e9b8a,#26828e,#26828e,#1e9b8a,#40bd72,#1e9c89,#33638d,#433d84,#482979,#482374,#482878,#453581,#414287,#423f85,#472a7a,#481a6c,#471063,#460b5e,#470d60,#471063,#481467,#481668,#481467,#471063,#470e61,#471063,#481668,#482374,#453882,#39558c,#2c738e,#23888e,#20938c,#1f9a8a,#20a386,#29af7f,#3dbc74,#50c46a,#5cc863,#6ece58,#90d743,#b0dd2f,#93d741,#5cc863,#3aba76,#2cb17e,#2cb17e,#38b977,#56c667,#86d549,#bade28,#d0e11c,#cde11d,#cde11d,#c5e021,#a2da37,#75d054,#52c569,#3fbc73,#3aba76,#40bd72,#58c765,#7fd34e,#b2dd2d,#e2e418,#f4e61e,#e7e419,#efe51c,#f8e621)"></i>
<i style="top:185.35px;height:2.69px;border-color:#f6e620;border-right-color:#f6e620;background-image:linear-gradient(90deg,#f6e620,#eae51a,#e2e418,#eae51a,#dfe318,#b2dd2d,#7fd34e,#5ac864,#42be71,#3bbb75,#3fbc73,#52c569,#75d054,#9dd93b,#bade28,#bade28,#b8de29,#bddf26,#b2dd2d,#89d548,#5ac864,#3bbb75,#2eb37c,#2eb37c,#3dbc74,#63cb5f,#98d83e,#a8db34,#81d34d,#60ca60,#54c568,#4ec36b,#46c06f,#35b779,#27ad81,#21a685,#1fa188,#1f948c,#287c8e,#365c8d,#433d84,#482576,#48186a,#471365,#471164,#471365,#481467,#481668,#471365,#470e61,#460b5e,#460b5e,#470e61,#48186a,#482979,#443b84,#433e85,#46307e,#482475,#481f70,#482475,#453781,#365d8d,#1f978b,#60ca60,#25ac82,#218f8d,#218f8d,#25ac82,#60ca60,#1f978b,#365d8d,#453781,#482475,#481f70,#482475,#46307e,#433e85,#443b84,#482979,#48186a,#470e61,#460b5e,#460b5e,#470e61,#471365,#481668,#481467,#471365,#471164,#471365,#48186a,#482576,#433d84,#365c8d,#287c8e,#1f948c,#1fa188,#21a685,#27ad81,#35b779,#46c06f,#4ec36b,#54c568,#60ca60,#81d34d,#a8db34,#98d83e,#63cb5f,#3dbc74,#2eb37c,#2eb37c,#3bbb75,#5ac864,#89d548,#b2dd2d,#bddf26,#b8de29,#bade28,#bade28,#9dd93b,#75d054,#52c569,#3fbc73,#3bbb75,#42be71,#5ac864,#7fd34e,#b2dd2d,#dfe318,#eae51a,#e2e418,#eae51a,#f6e620)"></i>
<i style="top:187.34px;height:2.69px;border-color:#ece51b;border-right-color:#ece51b;background-image:linear-gradient(90deg,#ece51b,#e2e418,#dae319,#dfe318,#d8e219,#b2dd2d,#81d34d,#5cc863,#44bf70,#3dbc74,#42be71,#54c568,#75d054,#9bd93c,#addc30,#a8db34,#a8db34,#addc30,#aadc32,#89d548,#5cc863,#3fbc73,#31b57b,#32b67a,#42be71,#69cd5b,#9bd93c,#a0da39,#75d054,#56c667,#4cc26c,#4cc26c,#4cc26c,#44bf70,#37b878,#2eb37c,#28ae80,#1fa187,#25858e,#33638d,#424186,#482979,#481b6d,#481467,#471365,#481467,#481668,#481668,#471365,#470e61,#460a5d,#460a5d,#470e61,#481769,#482878,#443983,#443983,#472c7a,#482071,#481b6d,#482071,#46327e,#39568c,#20928c,#81d34d,#3fbc73,#1e9c89,#1e9c89,#3fbc73,#81d34d,#20928c,#39568c,#46327e,#482071,#481b6d,#482071,#472c7a,#443983,#443983,#482878,#481769,#470e61,#460a5d,#460a5d,#470e61,#471365,#481668,#481668,#481467,#471365,#481467,#481b6d,#482979,#424186,#33638d,#25858e,#1fa187,#28ae80,#2eb37c,#37b878,#44bf70,#4cc26c,#4cc26c,#4cc26c,#56c667,#75d054,#a0da39,#9bd93c,#69cd5b,#42be71,#32b67a,#31b57b,#3fbc73,#5cc863,#89d548,#aadc32,#addc30,#a8db34,#a8db34,#addc30,#9bd93c,#75d054,#54c568,#42be71,#3dbc74,#44bf70,#5cc863,#81d34d,#b2dd2d,#d8e219,#dfe318,#dae319,#e2e418,#ece51b)"></i>
<i style="top:189.34px;height:2.69px;border-color:#e5e419;border-right-color:#e5e419;background-image:linear-gradient(90deg,#e5e419,#d8e219,#d0e11c,#d2e21b,#d0e11c,#b0dd2f,#84d44b,#5ec962,#48c16e,#3fbc73,#44bf70,#58c765,#75d054,#93d741,#a0da39,#98d83e,#95d840,#9dd93b,#a2da37,#89d548,#60ca60,#42be71,#35b779,#37b878,#48c16e,#70cf57,#9dd93b,#95d840,#69cd5b,#4ec36b,#46c06f,#4ac16d,#54c568,#54c568,#4cc26c,#44bf70,#3dbc74,#28ae80,#21908d,#306a8e,#3f4788,#472e7c,#481f70,#481769,#481668,#481769,#48186a,#481769,#471365,#470d60,#460a5d,#460a5d,#470d60,#481769,#482677,#453781,#453581,#482878,#481c6e,#48186a,#481c6e,#472d7b,#3b518b,#228c8d,#95d840,#63cb5f,#22a884,#22a884,#63cb5f,#95d840,#228c8d,#3b518b,#472d7b,#481c6e,#48186a,#481c6e,#482878,#453581,#453781,#482677,#481769,#470d60,#460a5d,#460a5d,#470d60,#471365,#481769,#48186a,#481769,#481668,#481769,#481f70,#472e7c,#3f4788,#306a8e,#21908d,#28ae80,#3dbc74,#44bf70,#4cc26c,#54c568,#54c568,#4ac16d,#46c06f,#4ec36b,#69cd5b,#95d840,#9dd93b,#70cf57,#48c16e,#37b878,#35b779,#42be71,#60ca60,#89d548,#a2da37,#9dd93b,#95d840,#98d83e,#a0da39,#93d741,#75d054,#58c765,#44bf70,#3fbc73,#48c16e,#5ec962,#84d44b,#b0dd2f,#d0e11c,#d2e21b,#d0e11c,#d8e219,#e5e419)"></i>
<i style="top:191.33px;height:2.69px;border-color:#dde318;border-right-color:#dde318;background-image:linear-gradient(90deg,#dde318,#cde11d,#c2df23,#c5e021,#c8e020,#b0dd2f,#86d549,#60ca60,#4ac16d,#42be71,#48c16e,#5ac864,#75d054,#8ed645,#93d741,#89d548,#86d549,#90d743,#98d83e,#89d548,#65cb5e,#48c16e,#3aba76,#3bbb75,#50c46a,#77d153,#a0da39,#8ed645,#60ca60,#46c06f,#40bd72,#48c16e,#5ac864,#67cc5c,#65cb5e,#63cb5f,#5ec962,#3dbc74,#1f998a,#2d718e,#3d4d8a,#46327e,#482374,#481b6d,#48186a,#48186a,#481a6c,#481769,#471164,#470d60,#460a5d,#460a5d,#470d60,#481668,#482677,#463480,#46327e,#482475,#481a6c,#481668,#481a6c,#482979,#3e4c8a,#25858e,#84d44b,#7ad151,#28ae80,#28ae80,#7ad151,#84d44b,#25858e,#3e4c8a,#482979,#481a6c,#481668,#481a6c,#482475,#46327e,#463480,#482677,#481668,#470d60,#460a5d,#460a5d,#470d60,#471164,#481769,#481a6c,#48186a,#48186a,#481b6d,#482374,#46327e,#3d4d8a,#2d718e,#1f998a,#3dbc74,#5ec962,#63cb5f,#65cb5e,#67cc5c,#5ac864,#48c16e,#40bd72,#46c06f,#60ca60,#8ed645,#a0da39,#77d153,#50c46a,#3bbb75,#3aba76,#48c16e,#65cb5e,#89d548,#98d83e,#90d743,#86d549,#89d548,#93d741,#8ed645,#75d054,#5ac864,#48c16e,#42be71,#4ac16d,#60ca60,#86d549,#b0dd2f,#c8e020,#c5e021,#c2df23,#cde11d,#dde318)"></i>
<i style="top:193.32px;height:2.69px;border-color:#d5e21a;border-right-color:#d5e21a;background-image:linear-gradient(90deg,#d5e21a,#c2df23,#b8de29,#bade28,#bddf26,#addc30,#89d548,#65cb5e,#50c46a,#46c06f,#4cc26c,#5ec962,#77d153,#89d548,#86d549,#7cd250,#77d153,#81d34d,#90d743,#89d548,#69cd5b,#4ec36b,#3fbc73,#40bd72,#56c667,#7fd34e,#a2da37,#86d549,#5ac864,#40bd72,#3bbb75,#48c16e,#60ca60,#7ad151,#84d44b,#86d549,#86d549,#58c765,#1fa287,#2a778e,#3a538b,#453882,#482677,#481f70,#481c6e,#481c6e,#481c6e,#48186a,#471164,#460b5e,#46085c,#46085c,#470d60,#481668,#482576,#46327e,#472e7c,#482071,#481769,#471365,#481769,#482677,#3f4788,#277f8e,#5ec962,#6ccd5a,#27ad81,#27ad81,#6ccd5a,#5ec962,#277f8e,#3f4788,#482677,#481769,#471365,#481769,#482071,#472e7c,#46327e,#482576,#481668,#470d60,#46085c,#46085c,#460b5e,#471164,#48186a,#481c6e,#481c6e,#481c6e,#481f70,#482677,#453882,#3a538b,#2a778e,#1fa287,#58c765,#86d549,#86d549,#84d44b,#7ad151,#60ca60,#48c16e,#3bbb75,#40bd72,#5ac864,#86d549,#a2da37,#7fd34e,#56c667,#40bd72,#3fbc73,#4ec36b,#69cd5b,#89d548,#90d743,#81d34d,#77d153,#7cd250,#86d549,#89d548,#77d153,#5ec962,#4cc26c,#46c06f,#50c46a,#65cb5e,#89d548,#addc30,#bddf26,#bade28,#b8de29,#c2df23,#d5e21a)"></i>
<i style="top:195.31px;height:2.69px;border-color:#cde11d;border-right-color:#cde11d;background-image:linear-gradient(90deg,#cde11d,#bade28,#addc30,#b0dd2f,#b5de2b,#aadc32,#8bd646,#69cd5b,#54c568,#4cc26c,#52c569,#63cb5f,#77d153,#84d44b,#7cd250,#6ece58,#6ccd5a,#75d054,#86d549,#89d548,#70cf57,#54c568,#46c06f,#48c16e,#5ec962,#86d549,#a2da37,#7fd34e,#54c568,#3bbb75,#38b977,#46c06f,#67cc5c,#8ed645,#a2da37,#b0dd2f,#b2dd2d,#75d054,#25ab82,#277f8e,#375a8c,#433d84,#472c7a,#482374,#482071,#481f70,#481d6f,#481a6c,#471164,#460b5e,#46085c,#46085c,#470d60,#481668,#482576,#46307e,#472c7a,#481d6f,#481467,#471164,#481668,#482374,#414287,#2a788e,#3aba76,#44bf70,#20a486,#20a486,#44bf70,#3aba76,#2a788e,#414287,#482374,#481668,#471164,#481467,#481d6f,#472c7a,#46307e,#482576,#481668,#470d60,#46085c,#46085c,#460b5e,#471164,#481a6c,#481d6f,#481f70,#482071,#482374,#472c7a,#433d84,#375a8c,#277f8e,#25ab82,#75d054,#b2dd2d,#b0dd2f,#a2da37,#8ed645,#67cc5c,#46c06f,#38b977,#3bbb75,#54c568,#7fd34e,#a2da37,#86d549,#5ec962,#48c16e,#46c06f,#54c568,#70cf57,#89d548,#86d549,#75d054,#6ccd5a,#6ece58,#7cd250,#84d44b,#77d153,#63cb5f,#52c569,#4cc26c,#54c568,#69cd5b,#8bd646,#aadc32,#b5de2b,#b0dd2f,#addc30,#bade28,#cde11d)"></i>
<i style="top:197.31px;height:2.69px;border-color:#c5e021;border-right-color:#c5e021;background-image:linear-gradient(90deg,#c5e021,#b0dd2f,#a2da37,#a5db36,#addc30,#a8db34,#8ed645,#70cf57,#5ac864,#52c569,#56c667,#67cc5c,#7ad151,#7fd34e,#70cf57,#63cb5f,#60ca60,#6ccd5a,#7fd34e,#89d548,#75d054,#5cc863,#4ec36b,#50c46a,#67cc5c,#90d743,#a2da37,#7ad151,#4ec36b,#38b977,#37b878,#46c06f,#6ccd5a,#a0da39,#c5e021,#d8e219,#e2e418,#8ed645,#2db27d,#25858e,#34608d,#414487,#46307e,#482878,#482475,#482374,#482071,#481a6c,#471365,#460b5e,#46085c,#46085c,#470d60,#481668,#482475,#472f7d,#482979,#481b6d,#471365,#471063,#471365,#482071,#423f85,#2c718e,#23a983,#25ac82,#1f968b,#1f968b,#25ac82,#23a983,#2c718e,#423f85,#482071,#471365,#471063,#471365,#481b6d,#482979,#472f7d,#482475,#481668,#470d60,#46085c,#46085c,#460b5e,#471365,#481a6c,#482071,#482374,#482475,#482878,#46307e,#414487,#34608d,#25858e,#2db27d,#8ed645,#e2e418,#d8e219,#c5e021,#a0da39,#6ccd5a,#46c06f,#37b878,#38b977,#4ec36b,#7ad151,#a2da37,#90d743,#67cc5c,#50c46a,#4ec36b,#5cc863,#75d054,#89d548,#7fd34e,#6ccd5a,#60ca60,#63cb5f,#70cf57,#7fd34e,#7ad151,#67cc5c,#56c667,#52c569,#5ac864,#70cf57,#8ed645,#a8db34,#addc30,#a5db36,#a2da37,#b0dd2f,#c5e021)"></i>
<i style="top:199.30px;height:2.69px;border-color:#c0df25;border-right-color:#c0df25;background-image:linear-gradient(90deg,#c0df25,#a8db34,#9bd93c,#9bd93c,#a2da37,#a5db36,#93d741,#75d054,#60ca60,#58c765,#5ec962,#6ccd5a,#7cd250,#7ad151,#69cd5b,#5ac864,#56c667,#63cb5f,#77d153,#89d548,#7cd250,#65cb5e,#56c667,#58c765,#70cf57,#98d83e,#a2da37,#75d054,#4ac16d,#35b779,#35b779,#46c06f,#70cf57,#b0dd2f,#e7e419,#eae51a,#e7e419,#9bd93c,#37b878,#228c8d,#31678e,#3e4a89,#453882,#472d7b,#482979,#482878,#482475,#481b6d,#471365,#460b5e,#46085c,#46085c,#470d60,#481668,#482475,#472d7b,#482677,#481a6c,#471063,#470e61,#471164,#481f70,#443b84,#2f6b8e,#1f978b,#1f968b,#25858e,#25858e,#1f968b,#1f978b,#2f6b8e,#443b84,#481f70,#471164,#470e61,#471063,#481a6c,#482677,#472d7b,#482475,#481668,#470d60,#46085c,#46085c,#460b5e,#471365,#481b6d,#482475,#482878,#482979,#472d7b,#453882,#3e4a89,#31678e,#228c8d,#37b878,#9bd93c,#e7e419,#eae51a,#e7e419,#b0dd2f,#70cf57,#46c06f,#35b779,#35b779,#4ac16d,#75d054,#a2da37,#98d83e,#70cf57,#58c765,#56c667,#65cb5e,#7cd250,#89d548,#77d153,#63cb5f,#56c667,#5ac864,#69cd5b,#7ad151,#7cd250,#6ccd5a,#5ec962,#58c765,#60ca60,#75d054,#93d741,#a5db36,#a2da37,#9bd93c,#9bd93c,#a8db34,#c0df25)"></i>
<i style="top:201.29px;height:2.69px;border-color:#b8de29;border-right-color:#b8de29;background-image:linear-gradient(90deg,#b8de29,#a0da39,#90d743,#93d741,#9bd93c,#a2da37,#95d840,#7cd250,#67cc5c,#60ca60,#65cb5e,#73d056,#7cd250,#75d054,#60ca60,#52c569,#4ec36b,#5ac864,#73d056,#89d548,#84d44b,#6ece58,#5ec962,#63cb5f,#7ad151,#a2da37,#a2da37,#70cf57,#46c06f,#34b679,#34b679,#48c16e,#75d054,#bddf26,#f8e621,#d0e11c,#c0df25,#93d741,#3fbc73,#20928c,#2e6e8e,#3b518b,#433e85,#463480,#472f7d,#472d7b,#482677,#481d6f,#471365,#460b5e,#46085c,#46085c,#470d60,#481668,#482475,#472c7a,#482475,#481769,#470e61,#470d60,#471063,#481c6e,#453882,#32648e,#24878e,#25838e,#2b748e,#2b748e,#25838e,#24878e,#32648e,#453882,#481c6e,#471063,#470d60,#470e61,#481769,#482475,#472c7a,#482475,#481668,#470d60,#46085c,#46085c,#460b5e,#471365,#481d6f,#482677,#472d7b,#472f7d,#463480,#433e85,#3b518b,#2e6e8e,#20928c,#3fbc73,#93d741,#c0df25,#d0e11c,#f8e621,#bddf26,#75d054,#48c16e,#34b679,#34b679,#46c06f,#70cf57,#a2da37,#a2da37,#7ad151,#63cb5f,#5ec962,#6ece58,#84d44b,#89d548,#73d056,#5ac864,#4ec36b,#52c569,#60ca60,#75d054,#7cd250,#73d056,#65cb5e,#60ca60,#67cc5c,#7cd250,#95d840,#a2da37,#9bd93c,#93d741,#90d743,#a0da39,#b8de29)"></i>
<i style="top:203.29px;height:2.69px;border-color:#b2dd2d;border-right-color:#b2dd2d;background-image:linear-gradient(90deg,#b2dd2d,#98d83e,#89d548,#89d548,#95d840,#a0da39,#98d83e,#84d44b,#70cf57,#69cd5b,#6ece58,#7ad151,#7fd34e,#70cf57,#5ac864,#4ac16d,#46c06f,#52c569,#6ccd5a,#89d548,#8ed645,#7ad151,#69cd5b,#6ccd5a,#86d549,#aadc32,#a2da37,#6ccd5a,#44bf70,#32b67a,#34b679,#4ac16d,#7cd250,#c8e020,#dae319,#addc30,#98d83e,#81d34d,#42be71,#1f998a,#2b758e,#375a8c,#404688,#443b84,#453581,#46327e,#472a7a,#481f70,#471365,#460b5e,#46085c,#46085c,#470d60,#481668,#482475,#472a7a,#482173,#481668,#470d60,#460b5e,#471063,#481b6d,#453581,#355e8d,#2a788e,#2c718e,#32658e,#32658e,#2c718e,#2a788e,#355e8d,#453581,#481b6d,#471063,#460b5e,#470d60,#481668,#482173,#472a7a,#482475,#481668,#470d60,#46085c,#46085c,#460b5e,#471365,#481f70,#472a7a,#46327e,#453581,#443b84,#404688,#375a8c,#2b758e,#1f998a,#42be71,#81d34d,#98d83e,#addc30,#dae319,#c8e020,#7cd250,#4ac16d,#34b679,#32b67a,#44bf70,#6ccd5a,#a2da37,#aadc32,#86d549,#6ccd5a,#69cd5b,#7ad151,#8ed645,#89d548,#6ccd5a,#52c569,#46c06f,#4ac16d,#5ac864,#70cf57,#7fd34e,#7ad151,#6ece58,#69cd5b,#70cf57,#84d44b,#98d83e,#a0da39,#95d840,#89d548,#89d548,#98d83e,#b2dd2d)"></i>
<i style="top:205.28px;height:2.69px;border-color:#addc30;border-right-color:#addc30;background-image:linear-gradient(90deg,#addc30,#90d743,#81d34d,#81d34d,#8ed645,#9dd93b,#9dd93b,#8bd646,#7ad151,#73d056,#77d153,#81d34d,#81d34d,#6ccd5a,#54c568,#44bf70,#40bd72,#4cc26c,#67cc5c,#89d548,#95d840,#84d44b,#75d054,#77d153,#90d743,#b5de2b,#a2da37,#69cd5b,#42be71,#32b67a,#35b779,#4cc26c,#81d34d,#cae11f,#c0df25,#8ed645,#77d153,#69cd5b,#42be71,#1f9f88,#287d8e,#33628d,#3c4f8a,#414487,#433e85,#453882,#472e7c,#482071,#481467,#460b5e,#46085c,#46085c,#470d60,#481769,#482475,#482979,#482071,#481467,#470d60,#460b5e,#470e61,#481a6c,#46337f,#39568c,#306a8e,#34618d,#3a548c,#3a548c,#34618d,#306a8e,#39568c,#46337f,#481a6c,#470e61,#460b5e,#470d60,#481467,#482071,#482979,#482475,#481769,#470d60,#46085c,#46085c,#460b5e,#481467,#482071,#472e7c,#453882,#433e85,#414487,#3c4f8a,#33628d,#287d8e,#1f9f88,#42be71,#69cd5b,#77d153,#8ed645,#c0df25,#cae11f,#81d34d,#4cc26c,#35b779,#32b67a,#42be71,#69cd5b,#a2da37,#b5de2b,#90d743,#77d153,#75d054,#84d44b,#95d840,#89d548,#67cc5c,#4cc26c,#40bd72,#44bf70,#54c568,#6ccd5a,#81d34d,#81d34d,#77d153,#73d056,#7ad151,#8bd646,#9dd93b,#9dd93b,#8ed645,#81d34d,#81d34d,#90d743,#addc30)"></i>
<i style="top:207.27px;height:2.69px;border-color:#a8db34;border-right-color:#a8db34;background-image:linear-gradient(90deg,#a8db34,#8bd646,#7cd250,#7cd250,#89d548,#9bd93c,#a0da39,#95d840,#86d549,#7fd34e,#81d34d,#89d548,#81d34d,#69cd5b,#4ec36b,#3fbc73,#3bbb75,#46c06f,#63cb5f,#89d548,#9dd93b,#93d741,#81d34d,#84d44b,#9dd93b,#c0df25,#a2da37,#69cd5b,#40bd72,#32b67a,#35b779,#4ec36b,#86d549,#c8e020,#a8db34,#73d056,#5cc863,#56c667,#40bd72,#20a486,#25848e,#2f6b8e,#38588c,#3d4d8a,#404688,#423f85,#46337f,#482374,#481668,#470d60,#46085c,#460a5d,#470d60,#481769,#482475,#482878,#481f70,#471365,#460b5e,#460a5d,#470e61,#481a6c,#46307e,#3c508b,#365d8d,#3b528b,#404688,#404688,#3b528b,#365d8d,#3c508b,#46307e,#481a6c,#470e61,#460a5d,#460b5e,#471365,#481f70,#482878,#482475,#481769,#470d60,#460a5d,#46085c,#470d60,#481668,#482374,#46337f,#423f85,#404688,#3d4d8a,#38588c,#2f6b8e,#25848e,#20a486,#40bd72,#56c667,#5cc863,#73d056,#a8db34,#c8e020,#86d549,#4ec36b,#35b779,#32b67a,#40bd72,#69cd5b,#a2da37,#c0df25,#9dd93b,#84d44b,#81d34d,#93d741,#9dd93b,#89d548,#63cb5f,#46c06f,#3bbb75,#3fbc73,#4ec36b,#69cd5b,#81d34d,#89d548,#81d34d,#7fd34e,#86d549,#95d840,#a0da39,#9bd93c,#89d548,#7cd250,#7cd250,#8bd646,#a8db34)"></i>
<i style="top:209.26px;height:2.69px;border-color:#a2da37;border-right-color:#a2da37;background-image:linear-gradient(90deg,#a2da37,#84d44b,#75d054,#75d054,#84d44b,#98d83e,#a5db36,#a0da39,#90d743,#8bd646,#8ed645,#90d743,#84d44b,#65cb5e,#4ac16d,#3aba76,#37b878,#42be71,#5ec962,#89d548,#a8db34,#a0da39,#8ed645,#90d743,#aadc32,#cae11f,#a5db36,#67cc5c,#40bd72,#32b67a,#37b878,#52c569,#8ed645,#c2df23,#90d743,#5cc863,#48c16e,#44bf70,#3bbb75,#23a983,#228d8d,#2c738e,#33628d,#39568c,#3c4f8a,#3f4788,#453882,#482576,#481668,#470d60,#460a5d,#460a5d,#470e61,#48186a,#482475,#482878,#481d6f,#471164,#460b5e,#460a5d,#470d60,#48186a,#472f7d,#3e4a89,#3b518b,#414487,#443983,#443983,#414487,#3b518b,#3e4a89,#472f7d,#48186a,#470d60,#460a5d,#460b5e,#471164,#481d6f,#482878,#482475,#48186a,#470e61,#460a5d,#460a5d,#470d60,#481668,#482576,#453882,#3f4788,#3c4f8a,#39568c,#33628d,#2c738e,#228d8d,#23a983,#3bbb75,#44bf70,#48c16e,#5cc863,#90d743,#c2df23,#8ed645,#52c569,#37b878,#32b67a,#40bd72,#67cc5c,#a5db36,#cae11f,#aadc32,#90d743,#8ed645,#a0da39,#a8db34,#89d548,#5ec962,#42be71,#37b878,#3aba76,#4ac16d,#65cb5e,#84d44b,#90d743,#8ed645,#8bd646,#90d743,#a0da39,#a5db36,#98d83e,#84d44b,#75d054,#75d054,#84d44b,#a2da37)"></i>
<i style="top:211.26px;height:2.69px;border-color:#9dd93b;border-right-color:#9dd93b;background-image:linear-gradient(90deg,#9dd93b,#7fd34e,#70cf57,#70cf57,#7fd34e,#95d840,#a8db34,#a8db34,#9dd93b,#98d83e,#9bd93c,#9bd93c,#86d549,#63cb5f,#46c06f,#37b878,#34b679,#3fbc73,#5ac864,#89d548,#b0dd2f,#addc30,#9bd93c,#9bd93c,#b5de2b,#d2e21b,#a5db36,#67cc5c,#40bd72,#34b679,#38b977,#56c667,#93d741,#bade28,#7fd34e,#4cc26c,#37b878,#35b779,#35b779,#26ad81,#1f958b,#277e8e,#2f6c8e,#34618d,#375a8c,#3c4f8a,#433d84,#482878,#481769,#470e61,#460a5d,#460a5d,#470e61,#48186a,#482475,#482677,#481c6e,#471063,#460a5d,#460a5d,#470d60,#48186a,#472e7c,#414487,#404688,#453882,#472d7b,#472d7b,#453882,#404688,#414487,#472e7c,#48186a,#470d60,#460a5d,#460a5d,#471063,#481c6e,#482677,#482475,#48186a,#470e61,#460a5d,#460a5d,#470e61,#481769,#482878,#433d84,#3c4f8a,#375a8c,#34618d,#2f6c8e,#277e8e,#1f958b,#26ad81,#35b779,#35b779,#37b878,#4cc26c,#7fd34e,#bade28,#93d741,#56c667,#38b977,#34b679,#40bd72,#67cc5c,#a5db36,#d2e21b,#b5de2b,#9bd93c,#9bd93c,#addc30,#b0dd2f,#89d548,#5ac864,#3fbc73,#34b679,#37b878,#46c06f,#63cb5f,#86d549,#9bd93c,#9bd93c,#98d83e,#9dd93b,#a8db34,#a8db34,#95d840,#7fd34e,#70cf57,#70cf57,#7fd34e,#9dd93b)"></i>
<i style="top:213.25px;height:2.69px;border-color:#9bd93c;border-right-color:#9bd93c;background-image:linear-gradient(90deg,#9bd93c,#7cd250,#6ccd5a,#6ccd5a,#7ad151,#93d741,#addc30,#b2dd2d,#aadc32,#a5db36,#a8db34,#a2da37,#86d549,#60ca60,#42be71,#34b679,#31b57b,#3bbb75,#58c765,#86d549,#bade28,#bddf26,#a8db34,#a8db34,#c2df23,#dde318,#a5db36,#67cc5c,#42be71,#35b779,#3bbb75,#5cc863,#9bd93c,#b2dd2d,#6ece58,#3fbc73,#2cb17e,#2ab07f,#2fb47c,#29af7f,#1f9e89,#23888e,#2a778e,#2e6d8e,#32648e,#38588c,#424186,#472a7a,#48186a,#470e61,#460a5d,#460b5e,#471063,#481a6c,#482576,#482576,#481b6d,#471063,#460a5d,#46085c,#470d60,#48186a,#472d7b,#423f85,#443b84,#472d7b,#482475,#482475,#472d7b,#443b84,#423f85,#472d7b,#48186a,#470d60,#46085c,#460a5d,#471063,#481b6d,#482576,#482576,#481a6c,#471063,#460b5e,#460a5d,#470e61,#48186a,#472a7a,#424186,#38588c,#32648e,#2e6d8e,#2a778e,#23888e,#1f9e89,#29af7f,#2fb47c,#2ab07f,#2cb17e,#3fbc73,#6ece58,#b2dd2d,#9bd93c,#5cc863,#3bbb75,#35b779,#42be71,#67cc5c,#a5db36,#dde318,#c2df23,#a8db34,#a8db34,#bddf26,#bade28,#86d549,#58c765,#3bbb75,#31b57b,#34b679,#42be71,#60ca60,#86d549,#a2da37,#a8db34,#a5db36,#aadc32,#b2dd2d,#addc30,#93d741,#7ad151,#6ccd5a,#6ccd5a,#7cd250,#9bd93c)"></i>
<i style="top:215.24px;height:2.69px;border-color:#98d83e;border-right-color:#98d83e;background-image:linear-gradient(90deg,#98d83e,#77d153,#67cc5c,#67cc5c,#77d153,#93d741,#b0dd2f,#bddf26,#bade28,#b5de2b,#b8de29,#aadc32,#89d548,#5ec962,#40bd72,#31b57b,#2eb37c,#38b977,#56c667,#86d549,#c2df23,#cde11d,#b5de2b,#b0dd2f,#cae11f,#e5e419,#a5db36,#67cc5c,#42be71,#37b878,#3fbc73,#60ca60,#a2da37,#aadc32,#63cb5f,#34b679,#25ac82,#25ab82,#2ab07f,#2db27d,#22a785,#20938c,#25838e,#29798e,#2d708e,#34608d,#3f4788,#472d7b,#481a6c,#471063,#460b5e,#460b5e,#471164,#481b6d,#482576,#482576,#481a6c,#470e61,#460a5d,#46085c,#470d60,#48186a,#472c7a,#443983,#46327e,#482475,#481b6d,#481b6d,#482475,#46327e,#443983,#472c7a,#48186a,#470d60,#46085c,#460a5d,#470e61,#481a6c,#482576,#482576,#481b6d,#471164,#460b5e,#460b5e,#471063,#481a6c,#472d7b,#3f4788,#34608d,#2d708e,#29798e,#25838e,#20938c,#22a785,#2db27d,#2ab07f,#25ab82,#25ac82,#34b679,#63cb5f,#aadc32,#a2da37,#60ca60,#3fbc73,#37b878,#42be71,#67cc5c,#a5db36,#e5e419,#cae11f,#b0dd2f,#b5de2b,#cde11d,#c2df23,#86d549,#56c667,#38b977,#2eb37c,#31b57b,#40bd72,#5ec962,#89d548,#aadc32,#b8de29,#b5de2b,#bade28,#bddf26,#b0dd2f,#93d741,#77d153,#67cc5c,#67cc5c,#77d153,#98d83e)"></i>
<i style="top:217.24px;height:2.69px;border-color:#95d840;border-right-color:#95d840;background-image:linear-gradient(90deg,#95d840,#75d054,#65cb5e,#65cb5e,#75d054,#90d743,#b2dd2d,#c8e020,#c8e020,#c5e021,#c5e021,#b2dd2d,#8bd646,#5ec962,#3fbc73,#2fb47c,#2db27d,#37b878,#54c568,#86d549,#c8e020,#dde318,#bddf26,#b8de29,#d2e21b,#ece51b,#a8db34,#69cd5b,#44bf70,#38b977,#42be71,#67cc5c,#aadc32,#a5db36,#58c765,#2cb17e,#21a685,#21a585,#26ad81,#2fb47c,#29af7f,#1fa088,#21918c,#24868e,#287c8e,#306a8e,#3d4e8a,#46307e,#481c6e,#471164,#470d60,#470d60,#471365,#481c6e,#482677,#482576,#48186a,#470e61,#46085c,#46085c,#470d60,#48186a,#472a7a,#463480,#472a7a,#481c6e,#481668,#481668,#481c6e,#472a7a,#463480,#472a7a,#48186a,#470d60,#46085c,#46085c,#470e61,#48186a,#482576,#482677,#481c6e,#471365,#470d60,#470d60,#471164,#481c6e,#46307e,#3d4e8a,#306a8e,#287c8e,#24868e,#21918c,#1fa088,#29af7f,#2fb47c,#26ad81,#21a585,#21a685,#2cb17e,#58c765,#a5db36,#aadc32,#67cc5c,#42be71,#38b977,#44bf70,#69cd5b,#a8db34,#ece51b,#d2e21b,#b8de29,#bddf26,#dde318,#c8e020,#86d549,#54c568,#37b878,#2db27d,#2fb47c,#3fbc73,#5ec962,#8bd646,#b2dd2d,#c5e021,#c5e021,#c8e020,#c8e020,#b2dd2d,#90d743,#75d054,#65cb5e,#65cb5e,#75d054,#95d840)"></i>
<i style="top:219.23px;height:2.69px;border-color:#93d741;border-right-color:#93d741;background-image:linear-gradient(90deg,#93d741,#73d056,#63cb5f,#63cb5f,#73d056,#90d743,#b5de2b,#d2e21b,#d8e219,#d8e219,#d5e21a,#bade28,#8bd646,#5cc863,#3dbc74,#2eb37c,#2db27d,#37b878,#52c569,#86d549,#cde11d,#eae51a,#c5e021,#bddf26,#d5e21a,#f1e51d,#a8db34,#69cd5b,#46c06f,#3bbb75,#46c06f,#6ece58,#b2dd2d,#9dd93b,#4ec36b,#27ad81,#1fa187,#1fa188,#24aa83,#31b57b,#35b779,#26ad81,#1fa088,#1f958b,#23898e,#2c738e,#3a538b,#463480,#481d6f,#471365,#470d60,#470e61,#481467,#481d6f,#482677,#482475,#48186a,#470d60,#46085c,#46085c,#470e61,#481a6c,#472a7a,#472f7d,#482374,#481668,#471063,#471063,#481668,#482374,#472f7d,#472a7a,#481a6c,#470e61,#46085c,#46085c,#470d60,#48186a,#482475,#482677,#481d6f,#481467,#470e61,#470d60,#471365,#481d6f,#463480,#3a538b,#2c738e,#23898e,#1f958b,#1fa088,#26ad81,#35b779,#31b57b,#24aa83,#1fa188,#1fa187,#27ad81,#4ec36b,#9dd93b,#b2dd2d,#6ece58,#46c06f,#3bbb75,#46c06f,#69cd5b,#a8db34,#f1e51d,#d5e21a,#bddf26,#c5e021,#eae51a,#cde11d,#86d549,#52c569,#37b878,#2db27d,#2eb37c,#3dbc74,#5cc863,#8bd646,#bade28,#d5e21a,#d8e219,#d8e219,#d2e21b,#b5de2b,#90d743,#73d056,#63cb5f,#63cb5f,#73d056,#93d741)"></i>
<i style="top:221.22px;height:2.69px;border-color:#90d743;border-right-color:#90d743;background-image:linear-gradient(90deg,#90d743,#70cf57,#60ca60,#60ca60,#70cf57,#8ed645,#b5de2b,#dae319,#e7e419,#e7e419,#e2e418,#c0df25,#8bd646,#5cc863,#3dbc74,#2eb37c,#2cb17e,#35b779,#52c569,#86d549,#cde11d,#efe51c,#c5e021,#bade28,#d5e21a,#efe51c,#aadc32,#6ccd5a,#48c16e,#3dbc74,#4ac16d,#75d054,#bade28,#98d83e,#48c16e,#24aa83,#1f9e89,#1e9d89,#22a785,#32b67a,#42be71,#38b977,#28ae80,#21a585,#1f978b,#287d8e,#375a8c,#453882,#482071,#481467,#470e61,#471063,#481668,#482071,#482878,#482475,#481769,#470d60,#46085c,#460a5d,#470e61,#481b6d,#482979,#472c7a,#481d6f,#471164,#460b5e,#460b5e,#471164,#481d6f,#472c7a,#482979,#481b6d,#470e61,#460a5d,#46085c,#470d60,#481769,#482475,#482878,#482071,#481668,#471063,#470e61,#481467,#482071,#453882,#375a8c,#287d8e,#1f978b,#21a585,#28ae80,#38b977,#42be71,#32b67a,#22a785,#1e9d89,#1f9e89,#24aa83,#48c16e,#98d83e,#bade28,#75d054,#4ac16d,#3dbc74,#48c16e,#6ccd5a,#aadc32,#efe51c,#d5e21a,#bade28,#c5e021,#efe51c,#cde11d,#86d549,#52c569,#35b779,#2cb17e,#2eb37c,#3dbc74,#5cc863,#8bd646,#c0df25,#e2e418,#e7e419,#e7e419,#dae319,#b5de2b,#8ed645,#70cf57,#60ca60,#60ca60,#70cf57,#90d743)"></i>
<i style="top:223.21px;height:2.69px;border-color:#90d743;border-right-color:#90d743;background-image:linear-gradient(90deg,#90d743,#70cf57,#60ca60,#60ca60,#70cf57,#8ed645,#b5de2b,#dde318,#f6e620,#f8e621,#ece51b,#c2df23,#8ed645,#5cc863,#3dbc74,#2eb37c,#2cb17e,#35b779,#52c569,#86d549,#cde11d,#e7e419,#c0df25,#b8de29,#d0e11c,#e7e419,#addc30,#70cf57,#4cc26c,#40bd72,#4ec36b,#7ad151,#c5e021,#95d840,#42be71,#22a785,#1e9b8a,#1f9a8a,#20a486,#32b67a,#52c569,#54c568,#44bf70,#34b679,#22a785,#24878e,#34608d,#443b84,#482374,#481668,#471164,#471164,#481769,#482173,#482979,#482374,#481769,#470d60,#46085c,#460a5d,#471063,#481c6e,#482979,#482878,#48186a,#470d60,#46085c,#46085c,#470d60,#48186a,#482878,#482979,#481c6e,#471063,#460a5d,#46085c,#470d60,#481769,#482374,#482979,#482173,#481769,#471164,#471164,#481668,#482374,#443b84,#34608d,#24878e,#22a785,#34b679,#44bf70,#54c568,#52c569,#32b67a,#20a486,#1f9a8a,#1e9b8a,#22a785,#42be71,#95d840,#c5e021,#7ad151,#4ec36b,#40bd72,#4cc26c,#70cf57,#addc30,#e7e419,#d0e11c,#b8de29,#c0df25,#e7e419,#cde11d,#86d549,#52c569,#35b779,#2cb17e,#2eb37c,#3dbc74,#5cc863,#8ed645,#c2df23,#ece51b,#f8e621,#f6e620,#dde318,#b5de2b,#8ed645,#70cf57,#60ca60,#60ca60,#70cf57,#90d743)"></i>
<i style="top:225.21px;height:2.69px;border-color:#90d743;border-right-color:#90d743;background-image:linear-gradient(90deg,#90d743,#70cf57,#60ca60,#60ca60,#70cf57,#8ed645,#b5de2b,#dde318,#f4e61e,#f6e620,#eae51a,#c2df23,#8ed645,#5cc863,#3dbc74,#2eb37c,#2cb17e,#35b779,#52c569,#86d549,#c8e020,#dae319,#b8de29,#b0dd2f,#c5e021,#dfe318,#addc30,#73d056,#4ec36b,#44bf70,#52c569,#81d34d,#d0e11c,#90d743,#3fbc73,#20a486,#1f988b,#1f988b,#1fa287,#34b679,#5ec962,#77d153,#6ccd5a,#58c765,#32b67a,#21918c,#31668e,#424086,#482677,#48186a,#471365,#471365,#481a6c,#482475,#472a7a,#482374,#481668,#470d60,#46085c,#460a5d,#471063,#481d6f,#482979,#482475,#481467,#46085c,#450559,#450559,#46085c,#481467,#482475,#482979,#481d6f,#471063,#460a5d,#46085c,#470d60,#481668,#482374,#472a7a,#482475,#481a6c,#471365,#471365,#48186a,#482677,#424086,#31668e,#21918c,#32b67a,#58c765,#6ccd5a,#77d153,#5ec962,#34b679,#1fa287,#1f988b,#1f988b,#20a486,#3fbc73,#90d743,#d0e11c,#81d34d,#52c569,#44bf70,#4ec36b,#73d056,#addc30,#dfe318,#c5e021,#b0dd2f,#b8de29,#dae319,#c8e020,#86d549,#52c569,#35b779,#2cb17e,#2eb37c,#3dbc74,#5cc863,#8ed645,#c2df23,#eae51a,#f6e620,#f4e61e,#dde318,#b5de2b,#8ed645,#70cf57,#60ca60,#60ca60,#70cf57,#90d743)"></i>
<i style="top:227.20px;height:2.69px;border-color:#90d743;border-right-color:#90d743;background-image:linear-gradient(90deg,#90d743,#70cf57,#60ca60,#60ca60,#70cf57,#8ed645,#b5de2b,#dae319,#e5e419,#e5e419,#dfe318,#c0df25,#8ed645,#5ec962,#3dbc74,#2fb47c,#2db27d,#37b878,#54c568,#86d549,#c2df23,#cae11f,#addc30,#a5db36,#bade28,#d8e219,#b0dd2f,#75d054,#52c569,#46c06f,#56c667,#89d548,#dae319,#8ed645,#3bbb75,#20a386,#1f968b,#1f968b,#1fa187,#34b679,#69cd5b,#9bd93c,#9dd93b,#8bd646,#50c46a,#1f9a8a,#2f6c8e,#404588,#482979,#481b6d,#481668,#481668,#481c6e,#482677,#472c7a,#482374,#481668,#470d60,#460a5d,#460b5e,#471164,#481f70,#482979,#482071,#471063,#46075a,#450457,#450457,#46075a,#471063,#482071,#482979,#481f70,#471164,#460b5e,#460a5d,#470d60,#481668,#482374,#472c7a,#482677,#481c6e,#481668,#481668,#481b6d,#482979,#404588,#2f6c8e,#1f9a8a,#50c46a,#8bd646,#9dd93b,#9bd93c,#69cd5b,#34b679,#1fa187,#1f968b,#1f968b,#20a386,#3bbb75,#8ed645,#dae319,#89d548,#56c667,#46c06f,#52c569,#75d054,#b0dd2f,#d8e219,#bade28,#a5db36,#addc30,#cae11f,#c2df23,#86d549,#54c568,#37b878,#2db27d,#2fb47c,#3dbc74,#5ec962,#8ed645,#c0df25,#dfe318,#e5e419,#e5e419,#dae319,#b5de2b,#8ed645,#70cf57,#60ca60,#60ca60,#70cf57,#90d743)"></i>
<i style="top:229.19px;height:2.69px;border-color:#90d743;border-right-color:#90d743;background-image:linear-gradient(90deg,#90d743,#70cf57,#60ca60,#63cb5f,#70cf57,#8ed645,#b2dd2d,#d0e11c,#d8e219,#d2e21b,#d2e21b,#bade28,#8ed645,#5ec962,#3fbc73,#31b57b,#2eb37c,#38b977,#56c667,#86d549,#bade28,#bade28,#a2da37,#9bd93c,#b0dd2f,#d0e11c,#b2dd2d,#7ad151,#54c568,#4ac16d,#5ac864,#8ed645,#e2e418,#8ed645,#3aba76,#1fa287,#1f958b,#1f958b,#1fa188,#34b679,#70cf57,#bade28,#d8e219,#c2df23,#6ece58,#1fa287,#2c718e,#3e4989,#472d7b,#481d6f,#48186a,#48186a,#481f70,#482979,#472d7b,#482374,#481668,#470d60,#460a5d,#460b5e,#481467,#482173,#472a7a,#481d6f,#470d60,#450559,#440256,#440256,#450559,#470d60,#481d6f,#472a7a,#482173,#481467,#460b5e,#460a5d,#470d60,#481668,#482374,#472d7b,#482979,#481f70,#48186a,#48186a,#481d6f,#472d7b,#3e4989,#2c718e,#1fa287,#6ece58,#c2df23,#d8e219,#bade28,#70cf57,#34b679,#1fa188,#1f958b,#1f958b,#1fa287,#3aba76,#8ed645,#e2e418,#8ed645,#5ac864,#4ac16d,#54c568,#7ad151,#b2dd2d,#d0e11c,#b0dd2f,#9bd93c,#a2da37,#bade28,#bade28,#86d549,#56c667,#38b977,#2eb37c,#31b57b,#3fbc73,#5ec962,#8ed645,#bade28,#d2e21b,#d2e21b,#d8e219,#d0e11c,#b2dd2d,#8ed645,#70cf57,#63cb5f,#60ca60,#70cf57,#90d743)"></i>
<i style="top:231.19px;height:2.69px;border-color:#93d741;border-right-color:#93d741;background-image:linear-gradient(90deg,#93d741,#73d056,#63cb5f,#63cb5f,#73d056,#90d743,#b2dd2d,#c8e020,#c8e020,#c2df23,#c2df23,#b5de2b,#8ed645,#60ca60,#42be71,#32b67a,#2fb47c,#3aba76,#58c765,#86d549,#b2dd2d,#addc30,#95d840,#90d743,#a5db36,#c8e020,#b5de2b,#7cd250,#58c765,#4cc26c,#5cc863,#93d741,#ece51b,#8bd646,#3aba76,#1fa187,#1f958b,#1f958b,#1fa188,#34b679,#73d056,#c0df25,#e7e419,#dae319,#81d34d,#23a983,#2a778e,#3c4f8a,#46327e,#482173,#481b6d,#481c6e,#482374,#472c7a,#472d7b,#482374,#481467,#470d60,#460a5d,#470d60,#481668,#482475,#472a7a,#481b6d,#460a5d,#450457,#440154,#440154,#450457,#460a5d,#481b6d,#472a7a,#482475,#481668,#470d60,#460a5d,#470d60,#481467,#482374,#472d7b,#472c7a,#482374,#481c6e,#481b6d,#482173,#46327e,#3c4f8a,#2a778e,#23a983,#81d34d,#dae319,#e7e419,#c0df25,#73d056,#34b679,#1fa188,#1f958b,#1f958b,#1fa187,#3aba76,#8bd646,#ece51b,#93d741,#5cc863,#4cc26c,#58c765,#7cd250,#b5de2b,#c8e020,#a5db36,#90d743,#95d840,#addc30,#b2dd2d,#86d549,#58c765,#3aba76,#2fb47c,#32b67a,#42be71,#60ca60,#8ed645,#b5de2b,#c2df23,#c2df23,#c8e020,#c8e020,#b2dd2d,#90d743,#73d056,#63cb5f,#63cb5f,#73d056,#93d741)"></i>
<i style="top:233.18px;height:2.69px;border-color:#93d741;border-right-color:#93d741;background-image:linear-gradient(90deg,#93d741,#75d054,#65cb5e,#65cb5e,#75d054,#90d743,#b0dd2f,#bddf26,#b8de29,#b2dd2d,#b5de2b,#addc30,#8bd646,#63cb5f,#44bf70,#35b779,#32b67a,#3dbc74,#5ac864,#86d549,#aadc32,#a0da39,#89d548,#86d549,#9bd93c,#c0df25,#b8de29,#81d34d,#5cc863,#50c46a,#5ec962,#95d840,#f6e620,#8ed645,#3aba76,#1fa287,#1f958b,#1f958b,#1fa188,#34b679,#70cf57,#aadc32,#b2dd2d,#addc30,#7cd250,#27ad81,#287d8e,#3a548c,#453781,#482576,#481f70,#481f70,#482677,#472f7d,#472f7d,#482374,#481467,#470d60,#460a5d,#470d60,#48186a,#482878,#472c7a,#48186a,#46085c,#440256,#440154,#440154,#440256,#46085c,#48186a,#472c7a,#482878,#48186a,#470d60,#460a5d,#470d60,#481467,#482374,#472f7d,#472f7d,#482677,#481f70,#481f70,#482576,#453781,#3a548c,#287d8e,#27ad81,#7cd250,#addc30,#b2dd2d,#aadc32,#70cf57,#34b679,#1fa188,#1f958b,#1f958b,#1fa287,#3aba76,#8ed645,#f6e620,#95d840,#5ec962,#50c46a,#5cc863,#81d34d,#b8de29,#c0df25,#9bd93c,#86d549,#89d548,#a0da39,#aadc32,#86d549,#5ac864,#3dbc74,#32b67a,#35b779,#44bf70,#63cb5f,#8bd646,#addc30,#b5de2b,#b2dd2d,#b8de29,#bddf26,#b0dd2f,#90d743,#75d054,#65cb5e,#65cb5e,#75d054,#93d741)"></i>
<i style="top:235.17px;height:2.69px;border-color:#95d840;border-right-color:#95d840;background-image:linear-gradient(90deg,#95d840,#77d153,#67cc5c,#69cd5b,#77d153,#93d741,#aadc32,#b2dd2d,#aadc32,#a5db36,#a5db36,#a2da37,#8bd646,#65cb5e,#48c16e,#38b977,#35b779,#40bd72,#5cc863,#86d549,#a0da39,#93d741,#7cd250,#7cd250,#90d743,#b8de29,#bade28,#86d549,#5ec962,#52c569,#60ca60,#95d840,#f8e621,#8ed645,#3bbb75,#1fa287,#1f968b,#1f968b,#1fa287,#35b779,#69cd5b,#8bd646,#81d34d,#7ad151,#67cc5c,#28ae80,#26828e,#375a8c,#443b84,#472a7a,#482374,#482475,#472a7a,#46327e,#46307e,#482374,#481467,#470d60,#460b5e,#470e61,#481b6d,#472c7a,#472c7a,#481769,#46075a,#440154,#440154,#440154,#440154,#46075a,#481769,#472c7a,#472c7a,#481b6d,#470e61,#460b5e,#470d60,#481467,#482374,#46307e,#46327e,#472a7a,#482475,#482374,#472a7a,#443b84,#375a8c,#26828e,#28ae80,#67cc5c,#7ad151,#81d34d,#8bd646,#69cd5b,#35b779,#1fa287,#1f968b,#1f968b,#1fa287,#3bbb75,#8ed645,#f8e621,#95d840,#60ca60,#52c569,#5ec962,#86d549,#bade28,#b8de29,#90d743,#7cd250,#7cd250,#93d741,#a0da39,#86d549,#5cc863,#40bd72,#35b779,#38b977,#48c16e,#65cb5e,#8bd646,#a2da37,#a5db36,#a5db36,#aadc32,#b2dd2d,#aadc32,#93d741,#77d153,#69cd5b,#67cc5c,#77d153,#95d840)"></i>
<i style="top:237.16px;height:2.69px;border-color:#9bd93c;border-right-color:#9bd93c;background-image:linear-gradient(90deg,#9bd93c,#7ad151,#6ccd5a,#6ccd5a,#7cd250,#93d741,#a8db34,#a8db34,#9dd93b,#95d840,#98d83e,#9bd93c,#89d548,#69cd5b,#4cc26c,#3bbb75,#3aba76,#44bf70,#60ca60,#86d549,#98d83e,#86d549,#73d056,#70cf57,#89d548,#b2dd2d,#bddf26,#8bd646,#63cb5f,#54c568,#63cb5f,#95d840,#f1e51d,#90d743,#3dbc74,#20a486,#1f988b,#1f988b,#20a386,#35b779,#60ca60,#6ece58,#5ac864,#52c569,#4cc26c,#27ad81,#25858e,#355f8d,#424186,#472f7d,#482878,#482878,#472f7d,#453781,#46327e,#482173,#481467,#470d60,#460b5e,#471063,#481d6f,#472f7d,#472d7b,#481467,#450559,#440154,#440154,#440154,#440154,#450559,#481467,#472d7b,#472f7d,#481d6f,#471063,#460b5e,#470d60,#481467,#482173,#46327e,#453781,#472f7d,#482878,#482878,#472f7d,#424186,#355f8d,#25858e,#27ad81,#4cc26c,#52c569,#5ac864,#6ece58,#60ca60,#35b779,#20a386,#1f988b,#1f988b,#20a486,#3dbc74,#90d743,#f1e51d,#95d840,#63cb5f,#54c568,#63cb5f,#8bd646,#bddf26,#b2dd2d,#89d548,#70cf57,#73d056,#86d549,#98d83e,#86d549,#60ca60,#44bf70,#3aba76,#3bbb75,#4cc26c,#69cd5b,#89d548,#9bd93c,#98d83e,#95d840,#9dd93b,#a8db34,#a8db34,#93d741,#7cd250,#6ccd5a,#6ccd5a,#7ad151,#9bd93c)"></i>
<i style="top:239.16px;height:2.69px;border-color:#9dd93b;border-right-color:#9dd93b;background-image:linear-gradient(90deg,#9dd93b,#7fd34e,#70cf57,#70cf57,#7fd34e,#95d840,#a5db36,#a0da39,#90d743,#89d548,#8bd646,#93d741,#89d548,#6ccd5a,#52c569,#40bd72,#3fbc73,#4ac16d,#65cb5e,#86d549,#90d743,#7cd250,#69cd5b,#67cc5c,#7fd34e,#aadc32,#c0df25,#90d743,#65cb5e,#56c667,#63cb5f,#95d840,#e7e419,#93d741,#40bd72,#21a685,#1f9a8a,#1f9a8a,#21a685,#37b878,#58c765,#54c568,#3dbc74,#35b779,#34b679,#25ab82,#23898e,#32658e,#3f4788,#463480,#472d7b,#472e7c,#453581,#443a83,#46337f,#482173,#481467,#470d60,#470d60,#471365,#482173,#453581,#472e7c,#471365,#450457,#440154,#440154,#440154,#440154,#450457,#471365,#472e7c,#453581,#482173,#471365,#470d60,#470d60,#481467,#482173,#46337f,#443a83,#453581,#472e7c,#472d7b,#463480,#3f4788,#32658e,#23898e,#25ab82,#34b679,#35b779,#3dbc74,#54c568,#58c765,#37b878,#21a685,#1f9a8a,#1f9a8a,#21a685,#40bd72,#93d741,#e7e419,#95d840,#63cb5f,#56c667,#65cb5e,#90d743,#c0df25,#aadc32,#7fd34e,#67cc5c,#69cd5b,#7cd250,#90d743,#86d549,#65cb5e,#4ac16d,#3fbc73,#40bd72,#52c569,#6ccd5a,#89d548,#93d741,#8bd646,#89d548,#90d743,#a0da39,#a5db36,#95d840,#7fd34e,#70cf57,#70cf57,#7fd34e,#9dd93b)"></i>
<i style="top:241.15px;height:2.69px;border-color:#a0da39;border-right-color:#a0da39;background-image:linear-gradient(90deg,#a0da39,#84d44b,#75d054,#75d054,#84d44b,#98d83e,#a0da39,#95d840,#84d44b,#7cd250,#81d34d,#8bd646,#86d549,#70cf57,#56c667,#46c06f,#44bf70,#50c46a,#69cd5b,#86d549,#89d548,#70cf57,#5ec962,#60ca60,#77d153,#a5db36,#c2df23,#95d840,#67cc5c,#56c667,#63cb5f,#90d743,#dde318,#95d840,#44bf70,#22a884,#1e9d89,#1e9d89,#23a983,#3aba76,#4ec36b,#3fbc73,#2ab07f,#24aa83,#25ab82,#21a585,#228d8d,#2f6b8e,#3d4e8a,#443b84,#46337f,#463480,#443b84,#433e85,#463480,#482173,#481467,#470d60,#470d60,#481467,#482576,#443b84,#472f7d,#471164,#450457,#440154,#440154,#440154,#440154,#450457,#471164,#472f7d,#443b84,#482576,#481467,#470d60,#470d60,#481467,#482173,#463480,#433e85,#443b84,#463480,#46337f,#443b84,#3d4e8a,#2f6b8e,#228d8d,#21a585,#25ab82,#24aa83,#2ab07f,#3fbc73,#4ec36b,#3aba76,#23a983,#1e9d89,#1e9d89,#22a884,#44bf70,#95d840,#dde318,#90d743,#63cb5f,#56c667,#67cc5c,#95d840,#c2df23,#a5db36,#77d153,#60ca60,#5ec962,#70cf57,#89d548,#86d549,#69cd5b,#50c46a,#44bf70,#46c06f,#56c667,#70cf57,#86d549,#8bd646,#81d34d,#7cd250,#84d44b,#95d840,#a0da39,#98d83e,#84d44b,#75d054,#75d054,#84d44b,#a0da39)"></i>
<i style="top:243.14px;height:2.69px;border-color:#a5db36;border-right-color:#a5db36;background-image:linear-gradient(90deg,#a5db36,#89d548,#7ad151,#7cd250,#89d548,#9bd93c,#9dd93b,#8ed645,#7ad151,#73d056,#77d153,#81d34d,#86d549,#75d054,#5ec962,#4ec36b,#4cc26c,#58c765,#70cf57,#89d548,#81d34d,#67cc5c,#58c765,#58c765,#70cf57,#a0da39,#c5e021,#9bd93c,#6ccd5a,#58c765,#60ca60,#8ed645,#d5e21a,#9bd93c,#48c16e,#25ac82,#1fa088,#1fa188,#25ac82,#3bbb75,#44bf70,#2fb47c,#21a585,#1f9f88,#1fa088,#1fa088,#218f8d,#2c718e,#39558c,#414287,#443a83,#443b84,#424186,#414287,#453581,#482173,#481467,#470e61,#470e61,#481769,#472a7a,#424186,#46307e,#471063,#440256,#440154,#440154,#440154,#440154,#440256,#471063,#46307e,#424186,#472a7a,#481769,#470e61,#470e61,#481467,#482173,#453581,#414287,#424186,#443b84,#443a83,#414287,#39558c,#2c718e,#218f8d,#1fa088,#1fa088,#1f9f88,#21a585,#2fb47c,#44bf70,#3bbb75,#25ac82,#1fa188,#1fa088,#25ac82,#48c16e,#9bd93c,#d5e21a,#8ed645,#60ca60,#58c765,#6ccd5a,#9bd93c,#c5e021,#a0da39,#70cf57,#58c765,#58c765,#67cc5c,#81d34d,#89d548,#70cf57,#58c765,#4cc26c,#4ec36b,#5ec962,#75d054,#86d549,#81d34d,#77d153,#73d056,#7ad151,#8ed645,#9dd93b,#9bd93c,#89d548,#7cd250,#7ad151,#89d548,#a5db36)"></i>
<i style="top:245.14px;height:2.69px;border-color:#aadc32;border-right-color:#aadc32;background-image:linear-gradient(90deg,#aadc32,#90d743,#81d34d,#84d44b,#90d743,#9dd93b,#98d83e,#84d44b,#70cf57,#69cd5b,#6ece58,#7ad151,#84d44b,#7ad151,#65cb5e,#56c667,#52c569,#5ec962,#77d153,#89d548,#7ad151,#60ca60,#50c46a,#52c569,#69cd5b,#9bd93c,#c8e020,#9dd93b,#6ece58,#58c765,#5ec962,#89d548,#cae11f,#9dd93b,#50c46a,#28ae80,#20a386,#21a585,#29af7f,#3fbc73,#3dbc74,#25ac82,#1e9b8a,#20938c,#1f968b,#1f9a8a,#21918c,#2a788e,#355e8d,#3e4c8a,#414287,#414487,#3e4989,#3f4788,#453781,#482173,#481467,#470e61,#470e61,#48186a,#46307e,#3e4989,#46327e,#470e61,#440256,#440154,#440154,#440154,#440154,#440256,#470e61,#46327e,#3e4989,#46307e,#48186a,#470e61,#470e61,#481467,#482173,#453781,#3f4788,#3e4989,#414487,#414287,#3e4c8a,#355e8d,#2a788e,#21918c,#1f9a8a,#1f968b,#20938c,#1e9b8a,#25ac82,#3dbc74,#3fbc73,#29af7f,#21a585,#20a386,#28ae80,#50c46a,#9dd93b,#cae11f,#89d548,#5ec962,#58c765,#6ece58,#9dd93b,#c8e020,#9bd93c,#69cd5b,#52c569,#50c46a,#60ca60,#7ad151,#89d548,#77d153,#5ec962,#52c569,#56c667,#65cb5e,#7ad151,#84d44b,#7ad151,#6ece58,#69cd5b,#70cf57,#84d44b,#98d83e,#9dd93b,#90d743,#84d44b,#81d34d,#90d743,#aadc32)"></i>
<i style="top:247.13px;height:2.69px;border-color:#b0dd2f;border-right-color:#b0dd2f;background-image:linear-gradient(90deg,#b0dd2f,#95d840,#89d548,#8bd646,#95d840,#a0da39,#95d840,#7cd250,#69cd5b,#60ca60,#65cb5e,#75d054,#84d44b,#7fd34e,#6ece58,#5ec962,#5cc863,#67cc5c,#7cd250,#89d548,#75d054,#58c765,#4ac16d,#4cc26c,#63cb5f,#95d840,#cae11f,#a2da37,#6ece58,#58c765,#5cc863,#84d44b,#c2df23,#a5db36,#56c667,#2db27d,#22a884,#24aa83,#2fb47c,#42be71,#37b878,#20a486,#20928c,#228b8d,#228d8d,#20938c,#20928c,#277f8e,#31678e,#3a548c,#3d4d8a,#3d4d8a,#3b518b,#3e4c8a,#453882,#482173,#481467,#470e61,#471063,#481b6d,#453781,#3b518b,#46337f,#470d60,#440256,#440154,#440154,#440154,#440154,#440256,#470d60,#46337f,#3b518b,#453781,#481b6d,#471063,#470e61,#481467,#482173,#453882,#3e4c8a,#3b518b,#3d4d8a,#3d4d8a,#3a548c,#31678e,#277f8e,#20928c,#20938c,#228d8d,#228b8d,#20928c,#20a486,#37b878,#42be71,#2fb47c,#24aa83,#22a884,#2db27d,#56c667,#a5db36,#c2df23,#84d44b,#5cc863,#58c765,#6ece58,#a2da37,#cae11f,#95d840,#63cb5f,#4cc26c,#4ac16d,#58c765,#75d054,#89d548,#7cd250,#67cc5c,#5cc863,#5ec962,#6ece58,#7fd34e,#84d44b,#75d054,#65cb5e,#60ca60,#69cd5b,#7cd250,#95d840,#a0da39,#95d840,#8bd646,#89d548,#95d840,#b0dd2f)"></i>
<i style="top:249.12px;height:2.69px;border-color:#b5de2b;border-right-color:#b5de2b;background-image:linear-gradient(90deg,#b5de2b,#9dd93b,#90d743,#93d741,#9dd93b,#a2da37,#93d741,#77d153,#60ca60,#58c765,#5ec962,#6ece58,#81d34d,#84d44b,#77d153,#69cd5b,#65cb5e,#73d056,#84d44b,#89d548,#70cf57,#52c569,#44bf70,#46c06f,#5ec962,#90d743,#cde11d,#a8db34,#70cf57,#58c765,#5ac864,#7cd250,#bade28,#aadc32,#5ec962,#34b679,#26ad81,#28ae80,#38b977,#46c06f,#31b57b,#1f9e89,#228b8d,#26828e,#25858e,#218e8d,#20928c,#25858e,#2d708e,#355f8d,#39568c,#38588c,#375a8c,#3b518b,#443983,#482173,#481467,#470e61,#471164,#481d6f,#433e85,#375b8d,#463480,#470d60,#440154,#440154,#440154,#440154,#440154,#440154,#470d60,#463480,#375b8d,#433e85,#481d6f,#471164,#470e61,#481467,#482173,#443983,#3b518b,#375a8c,#38588c,#39568c,#355f8d,#2d708e,#25858e,#20928c,#218e8d,#25858e,#26828e,#228b8d,#1f9e89,#31b57b,#46c06f,#38b977,#28ae80,#26ad81,#34b679,#5ec962,#aadc32,#bade28,#7cd250,#5ac864,#58c765,#70cf57,#a8db34,#cde11d,#90d743,#5ec962,#46c06f,#44bf70,#52c569,#70cf57,#89d548,#84d44b,#73d056,#65cb5e,#69cd5b,#77d153,#84d44b,#81d34d,#6ece58,#5ec962,#58c765,#60ca60,#77d153,#93d741,#a2da37,#9dd93b,#93d741,#90d743,#9dd93b,#b5de2b)"></i>
<i style="top:251.11px;height:2.69px;border-color:#bddf26;border-right-color:#bddf26;background-image:linear-gradient(90deg,#bddf26,#a5db36,#98d83e,#9bd93c,#a5db36,#a5db36,#90d743,#70cf57,#5ac864,#52c569,#58c765,#69cd5b,#7fd34e,#8bd646,#81d34d,#73d056,#70cf57,#7cd250,#8ed645,#89d548,#69cd5b,#4ec36b,#3fbc73,#42be71,#5ac864,#8ed645,#cde11d,#addc30,#73d056,#56c667,#58c765,#77d153,#b5de2b,#b0dd2f,#67cc5c,#3bbb75,#2db27d,#31b57b,#42be71,#4ac16d,#2cb17e,#1f988b,#25848e,#287c8e,#277e8e,#23898e,#20928c,#228c8d,#297a8e,#306a8e,#33628d,#33628d,#33638d,#39558c,#443a83,#482173,#481467,#471063,#471365,#482071,#404588,#32658e,#453581,#460b5e,#440154,#440154,#440154,#440154,#440154,#440154,#460b5e,#453581,#32658e,#404588,#482071,#471365,#471063,#481467,#482173,#443a83,#39558c,#33638d,#33628d,#33628d,#306a8e,#297a8e,#228c8d,#20928c,#23898e,#277e8e,#287c8e,#25848e,#1f988b,#2cb17e,#4ac16d,#42be71,#31b57b,#2db27d,#3bbb75,#67cc5c,#b0dd2f,#b5de2b,#77d153,#58c765,#56c667,#73d056,#addc30,#cde11d,#8ed645,#5ac864,#42be71,#3fbc73,#4ec36b,#69cd5b,#89d548,#8ed645,#7cd250,#70cf57,#73d056,#81d34d,#8bd646,#7fd34e,#69cd5b,#58c765,#52c569,#5ac864,#70cf57,#90d743,#a5db36,#a5db36,#9bd93c,#98d83e,#a5db36,#bddf26)"></i>
<i style="top:253.11px;height:2.69px;border-color:#c2df23;border-right-color:#c2df23;background-image:linear-gradient(90deg,#c2df23,#addc30,#a2da37,#a5db36,#addc30,#a8db34,#8ed645,#6ccd5a,#56c667,#4cc26c,#52c569,#65cb5e,#7fd34e,#90d743,#8bd646,#81d34d,#7fd34e,#89d548,#95d840,#89d548,#67cc5c,#48c16e,#3bbb75,#3dbc74,#56c667,#8bd646,#d0e11c,#b0dd2f,#73d056,#56c667,#56c667,#73d056,#addc30,#b8de29,#73d056,#44bf70,#35b779,#3aba76,#50c46a,#4ec36b,#28ae80,#20928c,#277f8e,#2a768e,#2a788e,#25838e,#20928c,#20928c,#25848e,#2b758e,#2e6e8e,#2e6e8e,#2e6d8e,#375b8d,#443b84,#482374,#481467,#471063,#471365,#482475,#3d4d8a,#2d708e,#453781,#460b5e,#440154,#440154,#440154,#440154,#440154,#440154,#460b5e,#453781,#2d708e,#3d4d8a,#482475,#471365,#471063,#481467,#482374,#443b84,#375b8d,#2e6d8e,#2e6e8e,#2e6e8e,#2b758e,#25848e,#20928c,#20928c,#25838e,#2a788e,#2a768e,#277f8e,#20928c,#28ae80,#4ec36b,#50c46a,#3aba76,#35b779,#44bf70,#73d056,#b8de29,#addc30,#73d056,#56c667,#56c667,#73d056,#b0dd2f,#d0e11c,#8bd646,#56c667,#3dbc74,#3bbb75,#48c16e,#67cc5c,#89d548,#95d840,#89d548,#7fd34e,#81d34d,#8bd646,#90d743,#7fd34e,#65cb5e,#52c569,#4cc26c,#56c667,#6ccd5a,#8ed645,#a8db34,#addc30,#a5db36,#a2da37,#addc30,#c2df23)"></i>
<i style="top:255.10px;height:2.69px;border-color:#cae11f;border-right-color:#cae11f;background-image:linear-gradient(90deg,#cae11f,#b8de29,#addc30,#b0dd2f,#b8de29,#addc30,#8bd646,#67cc5c,#50c46a,#48c16e,#4ec36b,#60ca60,#7cd250,#95d840,#98d83e,#8ed645,#8bd646,#95d840,#9dd93b,#89d548,#63cb5f,#44bf70,#38b977,#3aba76,#52c569,#86d549,#d2e21b,#b5de2b,#75d054,#56c667,#54c568,#6ece58,#a8db34,#c0df25,#7fd34e,#50c46a,#3fbc73,#48c16e,#5ec962,#54c568,#25ac82,#218f8d,#297a8e,#2d718e,#2c738e,#27808e,#20928c,#1f9a8a,#21918c,#26828e,#287c8e,#297b8e,#2a768e,#355f8d,#433d84,#482374,#481467,#471063,#481467,#482677,#39558c,#287c8e,#453882,#460a5d,#440154,#440154,#440154,#440154,#440154,#440154,#460a5d,#453882,#287c8e,#39558c,#482677,#481467,#471063,#481467,#482374,#433d84,#355f8d,#2a768e,#297b8e,#287c8e,#26828e,#21918c,#1f9a8a,#20928c,#27808e,#2c738e,#2d718e,#297a8e,#218f8d,#25ac82,#54c568,#5ec962,#48c16e,#3fbc73,#50c46a,#7fd34e,#c0df25,#a8db34,#6ece58,#54c568,#56c667,#75d054,#b5de2b,#d2e21b,#86d549,#52c569,#3aba76,#38b977,#44bf70,#63cb5f,#89d548,#9dd93b,#95d840,#8bd646,#8ed645,#98d83e,#95d840,#7cd250,#60ca60,#4ec36b,#48c16e,#50c46a,#67cc5c,#8bd646,#addc30,#b8de29,#b0dd2f,#addc30,#b8de29,#cae11f)"></i>
<i style="top:257.09px;height:2.69px;border-color:#d2e21b;border-right-color:#d2e21b;background-image:linear-gradient(90deg,#d2e21b,#c0df25,#b8de29,#bade28,#c0df25,#b0dd2f,#89d548,#63cb5f,#4cc26c,#44bf70,#4ac16d,#5cc863,#7cd250,#9bd93c,#a5db36,#9dd93b,#9bd93c,#a5db36,#a5db36,#89d548,#60ca60,#40bd72,#35b779,#38b977,#50c46a,#84d44b,#d5e21a,#b8de29,#75d054,#54c568,#52c569,#6ccd5a,#a2da37,#c8e020,#8bd646,#5cc863,#4cc26c,#58c765,#70cf57,#58c765,#24aa83,#228b8d,#2a768e,#2e6d8e,#2e6f8e,#287c8e,#21918c,#1fa188,#1f9e89,#20928c,#228b8d,#238a8d,#26818e,#33638d,#433e85,#482374,#481467,#471063,#481668,#482979,#355e8d,#23898e,#443983,#460a5d,#440154,#440154,#440154,#440154,#440154,#440154,#460a5d,#443983,#23898e,#355e8d,#482979,#481668,#471063,#481467,#482374,#433e85,#33638d,#26818e,#238a8d,#228b8d,#20928c,#1f9e89,#1fa188,#21918c,#287c8e,#2e6f8e,#2e6d8e,#2a768e,#228b8d,#24aa83,#58c765,#70cf57,#58c765,#4cc26c,#5cc863,#8bd646,#c8e020,#a2da37,#6ccd5a,#52c569,#54c568,#75d054,#b8de29,#d5e21a,#84d44b,#50c46a,#38b977,#35b779,#40bd72,#60ca60,#89d548,#a5db36,#a5db36,#9bd93c,#9dd93b,#a5db36,#9bd93c,#7cd250,#5cc863,#4ac16d,#44bf70,#4cc26c,#63cb5f,#89d548,#b0dd2f,#c0df25,#bade28,#b8de29,#c0df25,#d2e21b)"></i>
<i style="top:259.09px;height:2.69px;border-color:#dae319;border-right-color:#dae319;background-image:linear-gradient(90deg,#dae319,#cae11f,#c0df25,#c5e021,#cae11f,#b0dd2f,#86d549,#60ca60,#4ac16d,#40bd72,#46c06f,#5ac864,#7ad151,#a0da39,#b2dd2d,#addc30,#addc30,#b2dd2d,#b0dd2f,#89d548,#5cc863,#3fbc73,#32b67a,#35b779,#4cc26c,#84d44b,#d5e21a,#bade28,#75d054,#54c568,#50c46a,#67cc5c,#a0da39,#d0e11c,#98d83e,#67cc5c,#5ac864,#69cd5b,#86d549,#5cc863,#22a884,#23888e,#2c728e,#306a8e,#2f6c8e,#29798e,#21908d,#21a685,#25ac82,#1fa287,#1e9c89,#1f9a8a,#228b8d,#31678e,#423f85,#482374,#481467,#471063,#481668,#472c7a,#31678e,#1f978b,#443a83,#460a5d,#440154,#440154,#440154,#440154,#440154,#440154,#460a5d,#443a83,#1f978b,#31678e,#472c7a,#481668,#471063,#481467,#482374,#423f85,#31678e,#228b8d,#1f9a8a,#1e9c89,#1fa287,#25ac82,#21a685,#21908d,#29798e,#2f6c8e,#306a8e,#2c728e,#23888e,#22a884,#5cc863,#86d549,#69cd5b,#5ac864,#67cc5c,#98d83e,#d0e11c,#a0da39,#67cc5c,#50c46a,#54c568,#75d054,#bade28,#d5e21a,#84d44b,#4cc26c,#35b779,#32b67a,#3fbc73,#5cc863,#89d548,#b0dd2f,#b2dd2d,#addc30,#addc30,#b2dd2d,#a0da39,#7ad151,#5ac864,#46c06f,#40bd72,#4ac16d,#60ca60,#86d549,#b0dd2f,#cae11f,#c5e021,#c0df25,#cae11f,#dae319)"></i>
<i style="top:261.08px;height:2.69px;border-color:#e2e418;border-right-color:#e2e418;background-image:linear-gradient(90deg,#e2e418,#d2e21b,#cae11f,#d2e21b,#d2e21b,#b2dd2d,#84d44b,#5ec962,#46c06f,#3fbc73,#44bf70,#58c765,#7ad151,#a5db36,#c0df25,#c0df25,#bddf26,#c2df23,#b8de29,#89d548,#5ac864,#3dbc74,#31b57b,#34b679,#4cc26c,#81d34d,#d8e219,#bddf26,#75d054,#52c569,#4ec36b,#65cb5e,#9bd93c,#d8e219,#a5db36,#75d054,#67cc5c,#7cd250,#9dd93b,#60ca60,#21a685,#25858e,#2d708e,#31678e,#30698e,#2a768e,#21908d,#25ac82,#38b977,#31b57b,#29af7f,#25ac82,#1f958b,#306a8e,#423f85,#482374,#481467,#471164,#481769,#472e7c,#2e6f8e,#22a785,#443b84,#46085c,#440154,#440154,#440154,#440154,#440154,#440154,#46085c,#443b84,#22a785,#2e6f8e,#472e7c,#481769,#471164,#481467,#482374,#423f85,#306a8e,#1f958b,#25ac82,#29af7f,#31b57b,#38b977,#25ac82,#21908d,#2a768e,#30698e,#31678e,#2d708e,#25858e,#21a685,#60ca60,#9dd93b,#7cd250,#67cc5c,#75d054,#a5db36,#d8e219,#9bd93c,#65cb5e,#4ec36b,#52c569,#75d054,#bddf26,#d8e219,#81d34d,#4cc26c,#34b679,#31b57b,#3dbc74,#5ac864,#89d548,#b8de29,#c2df23,#bddf26,#c0df25,#c0df25,#a5db36,#7ad151,#58c765,#44bf70,#3fbc73,#46c06f,#5ec962,#84d44b,#b2dd2d,#d2e21b,#d2e21b,#cae11f,#d2e21b,#e2e418)"></i>
<i style="top:263.07px;height:2.69px;border-color:#eae51a;border-right-color:#eae51a;background-image:linear-gradient(90deg,#eae51a,#dae319,#d5e21a,#dde318,#dde318,#b5de2b,#84d44b,#5cc863,#44bf70,#3dbc74,#42be71,#56c667,#7ad151,#a8db34,#cde11d,#d2e21b,#d0e11c,#d2e21b,#bddf26,#89d548,#5ac864,#3bbb75,#2fb47c,#32b67a,#4ac16d,#7fd34e,#d8e219,#c0df25,#75d054,#52c569,#4cc26c,#63cb5f,#98d83e,#dfe318,#b2dd2d,#81d34d,#75d054,#90d743,#b8de29,#65cb5e,#21a585,#25838e,#2e6e8e,#32658e,#31678e,#2b758e,#218f8d,#2ab07f,#56c667,#58c765,#4ec36b,#42be71,#1f9f88,#2e6d8e,#424086,#482374,#481467,#471164,#481769,#472f7d,#2b748e,#32b67a,#443b84,#46085c,#440154,#440154,#440154,#440154,#440154,#440154,#46085c,#443b84,#32b67a,#2b748e,#472f7d,#481769,#471164,#481467,#482374,#424086,#2e6d8e,#1f9f88,#42be71,#4ec36b,#58c765,#56c667,#2ab07f,#218f8d,#2b758e,#31678e,#32658e,#2e6e8e,#25838e,#21a585,#65cb5e,#b8de29,#90d743,#75d054,#81d34d,#b2dd2d,#dfe318,#98d83e,#63cb5f,#4cc26c,#52c569,#75d054,#c0df25,#d8e219,#7fd34e,#4ac16d,#32b67a,#2fb47c,#3bbb75,#5ac864,#89d548,#bddf26,#d2e21b,#d0e11c,#d2e21b,#cde11d,#a8db34,#7ad151,#56c667,#42be71,#3dbc74,#44bf70,#5cc863,#84d44b,#b5de2b,#dde318,#dde318,#d5e21a,#dae319,#eae51a)"></i>
<i style="top:265.06px;height:2.69px;border-color:#f4e61e;border-right-color:#f4e61e;background-image:linear-gradient(90deg,#f4e61e,#e2e418,#dde318,#e7e419,#e5e419,#b5de2b,#84d44b,#5ac864,#44bf70,#3bbb75,#40bd72,#54c568,#7ad151,#aadc32,#d8e219,#e5e419,#e2e418,#e5e419,#c2df23,#89d548,#58c765,#3aba76,#2eb37c,#32b67a,#48c16e,#7fd34e,#dae319,#c0df25,#75d054,#52c569,#4cc26c,#60ca60,#98d83e,#e5e419,#bddf26,#89d548,#7fd34e,#a2da37,#d0e11c,#67cc5c,#20a486,#26828e,#2e6d8e,#33638d,#31668e,#2c738e,#218f8d,#2eb37c,#77d153,#90d743,#8bd646,#6ece58,#21a585,#2e6f8e,#424086,#482374,#481467,#471164,#481769,#46307e,#297a8e,#4ec36b,#433d84,#46085c,#440154,#440154,#440154,#440154,#440154,#440154,#46085c,#433d84,#4ec36b,#297a8e,#46307e,#481769,#471164,#481467,#482374,#424086,#2e6f8e,#21a585,#6ece58,#8bd646,#90d743,#77d153,#2eb37c,#218f8d,#2c738e,#31668e,#33638d,#2e6d8e,#26828e,#20a486,#67cc5c,#d0e11c,#a2da37,#7fd34e,#89d548,#bddf26,#e5e419,#98d83e,#60ca60,#4cc26c,#52c569,#75d054,#c0df25,#dae319,#7fd34e,#48c16e,#32b67a,#2eb37c,#3aba76,#58c765,#89d548,#c2df23,#e5e419,#e2e418,#e5e419,#d8e219,#aadc32,#7ad151,#54c568,#40bd72,#3bbb75,#44bf70,#5ac864,#84d44b,#b5de2b,#e5e419,#e7e419,#dde318,#e2e418,#f4e61e)"></i>
<i style="top:267.06px;height:6.69px;border-color:#fbe723;border-right-color:#fbe723;background-image:linear-gradient(90deg,#fbe723,#e7e419,#e2e418,#f1e51d,#e7e419,#b8de29,#81d34d,#5ac864,#42be71,#3bbb75,#40bd72,#54c568,#7ad151,#addc30,#dfe318,#f6e620,#f1e51d,#f1e51d,#c5e021,#89d548,#58c765,#3aba76,#2eb37c,#32b67a,#48c16e,#7fd34e,#dae319,#c2df23,#75d054,#52c569,#4cc26c,#60ca60,#98d83e,#eae51a,#c2df23,#8ed645,#86d549,#addc30,#e7e419,#67cc5c,#20a486,#26828e,#2e6d8e,#33638d,#32658e,#2c738e,#218e8d,#31b57b,#90d743,#d8e219,#d8e219,#95d840,#23a983,#2e6f8e,#424086,#482374,#481467,#471164,#481769,#46327e,#287c8e,#60ca60,#433d84,#46085c,#440154,#440154,#440154,#440154,#440154,#440154,#46085c,#433d84,#60ca60,#287c8e,#46327e,#481769,#471164,#481467,#482374,#424086,#2e6f8e,#23a983,#95d840,#d8e219,#d8e219,#90d743,#31b57b,#218e8d,#2c738e,#32658e,#33638d,#2e6d8e,#26828e,#20a486,#67cc5c,#e7e419,#addc30,#86d549,#8ed645,#c2df23,#eae51a,#98d83e,#60ca60,#4cc26c,#52c569,#75d054,#c2df23,#dae319,#7fd34e,#48c16e,#32b67a,#2eb37c,#3aba76,#58c765,#89d548,#c5e021,#f1e51d,#f1e51d,#f6e620,#dfe318,#addc30,#7ad151,#54c568,#40bd72,#3bbb75,#42be71,#5ac864,#81d34d,#b8de29,#e7e419,#f1e51d,#e2e418,#e7e419,#fbe723)"></i></div></div>
<div class="cb" style="left:960.0px;top:43.4px;width:14.20px;height:265.05px;background:linear-gradient(0deg,#440154,#46075a,#470d60,#471365,#481a6c,#481f70,#482475,#482979,#472f7d,#463480,#443983,#433e85,#414487,#3f4889,#3d4d8a,#3b528b,#39568c,#375b8d,#355f8d,#32648e,#31688e,#2f6c8e,#2d708e,#2b748e,#2a788e,#287c8e,#27808e,#25848e,#23888e,#228c8d,#21918c,#1f948c,#1f988b,#1e9c89,#1fa188,#20a486,#22a884,#25ac82,#2ab07f,#2fb47c,#35b779,#3bbb75,#44bf70,#4cc26c,#54c568,#5ec962,#67cc5c,#70cf57,#7ad151,#86d549,#90d743,#9bd93c,#a5db36,#b2dd2d,#bddf26,#c8e020,#d2e21b,#dfe318,#eae51a,#f4e61e,#fde725)"></div>
<div class="cb" style="left:960.0px;top:434.2px;width:14.20px;height:265.05px;background:linear-gradient(0deg,#440154,#46075a,#470d60,#471365,#481a6c,#481f70,#482475,#482979,#472f7d,#463480,#443983,#433e85,#414487,#3f4889,#3d4d8a,#3b528b,#39568c,#375b8d,#355f8d,#32648e,#31688e,#2f6c8e,#2d708e,#2b748e,#2a788e,#287c8e,#27808e,#25848e,#23888e,#228c8d,#21918c,#1f948c,#1f988b,#1e9c89,#1fa188,#20a486,#22a884,#25ac82,#2ab07f,#2fb47c,#35b779,#3bbb75,#44bf70,#4cc26c,#54c568,#5ec962,#67cc5c,#70cf57,#7ad151,#86d549,#90d743,#9bd93c,#a5db36,#b2dd2d,#bddf26,#c8e020,#d2e21b,#dfe318,#eae51a,#f4e61e,#fde725)"></div>
<svg width="1025" height="765" viewBox="0 0 1025 765">
<path d="M648.7,94.8h1.8v1.8h-1.8zM640.7,105.5h1.8v1.8h-1.8zM644.0,107.0h1.8v1.8h-1.8zM647.1,110.0h1.8v1.8h-1.8zM639.1,111.7h1.8v1.8h-1.8zM639.1,116.3h1.8v1.8h-1.8zM677.5,108.4h1.8v1.8h-1.8zM680.8,107.0h1.8v1.8h-1.8zM679.1,111.7h1.8v1.8h-1.8zM669.5,121.0h1.8v1.8h-1.8zM668.0,124.1h1.8v1.8h-1.8zM650.2,131.8h1.8v1.8h-1.8zM644.0,141.1h1.8v1.8h-1.8zM650.2,143.9h1.8v1.8h-1.8zM628.0,142.6h1.8v1.8h-1.8zM626.2,145.8h1.8v1.8h-1.8zM636.0,150.2h1.8v1.8h-1.8zM660.0,148.6h1.8v1.8h-1.8zM660.0,153.1h1.8v1.8h-1.8zM634.4,157.8h1.8v1.8h-1.8zM639.1,157.8h1.8v1.8h-1.8zM656.7,159.6h1.8v1.8h-1.8zM632.7,165.7h1.8v1.8h-1.8zM648.7,165.7h1.8v1.8h-1.8zM655.1,165.7h1.8v1.8h-1.8zM642.2,174.8h1.8v1.8h-1.8zM639.1,182.6h1.8v1.8h-1.8zM647.1,182.6h1.8v1.8h-1.8zM626.2,187.3h1.8v1.8h-1.8zM655.1,188.9h1.8v1.8h-1.8zM647.1,191.7h1.8v1.8h-1.8zM634.4,198.0h1.8v1.8h-1.8zM677.5,182.6h1.8v1.8h-1.8zM920.0,91.3h1.8v1.8h-1.8zM925.0,102.6h1.8v1.8h-1.8zM926.7,110.0h1.8v1.8h-1.8zM890.2,108.4h1.8v1.8h-1.8zM891.8,112.8h1.8v1.8h-1.8zM890.2,116.3h1.8v1.8h-1.8zM928.3,124.1h1.8v1.8h-1.8zM926.7,130.1h1.8v1.8h-1.8zM936.3,130.1h1.8v1.8h-1.8zM918.7,131.8h1.8v1.8h-1.8zM934.7,136.5h1.8v1.8h-1.8zM921.9,141.1h1.8v1.8h-1.8zM915.6,143.9h1.8v1.8h-1.8zM934.7,147.0h1.8v1.8h-1.8zM918.7,148.6h1.8v1.8h-1.8zM931.5,150.2h1.8v1.8h-1.8zM910.7,156.4h1.8v1.8h-1.8zM923.5,156.4h1.8v1.8h-1.8zM934.7,157.8h1.8v1.8h-1.8zM920.3,159.6h1.8v1.8h-1.8zM925.0,172.0h1.8v1.8h-1.8zM917.2,174.8h1.8v1.8h-1.8zM918.7,176.7h1.8v1.8h-1.8zM923.5,179.5h1.8v1.8h-1.8zM934.7,179.5h1.8v1.8h-1.8zM925.0,184.2h1.8v1.8h-1.8zM912.3,184.2h1.8v1.8h-1.8zM913.9,188.9h1.8v1.8h-1.8zM936.3,191.7h1.8v1.8h-1.8zM901.2,130.1h1.8v1.8h-1.8zM902.7,131.8h1.8v1.8h-1.8zM695.0,58.2h1.8v1.8h-1.8zM697.5,61.6h1.8v1.8h-1.8zM873.9,60.5h1.8v1.8h-1.8zM873.0,65.5h1.8v1.8h-1.8z" fill="#3a5590" opacity="0.8"/>
<clipPath id="cpa"><rect x="106.3" y="43.4" width="393.5" height="265.1"/></clipPath>
<polyline clip-path="url(#cpa)" points="106.3,294.2 107.3,293.2 108.3,292.3 109.3,291.5 110.2,290.8 111.2,290.2 112.2,289.8 113.2,289.5 114.2,289.4 115.2,289.5 116.1,289.7 117.1,290.1 118.1,290.7 119.1,291.4 120.1,292.2 121.1,293.1 122.0,294.2 123.0,295.3 124.0,296.4 125.0,295.3 126.0,294.1 127.0,293.0 127.9,291.9 128.9,291.0 129.9,290.2 130.9,289.5 131.9,288.9 132.9,288.6 133.8,288.4 134.8,288.4 135.8,288.6 136.8,289.0 137.8,289.6 138.8,290.4 139.7,291.3 140.7,292.4 141.7,293.6 142.7,294.8 143.7,296.2 144.7,295.4 145.7,294.0 146.6,292.7 147.6,291.5 148.6,290.4 149.6,289.4 150.6,288.5 151.6,287.8 152.5,287.4 153.5,287.1 154.5,287.1 155.5,287.3 156.5,287.7 157.5,288.3 158.4,289.2 159.4,290.2 160.4,291.4 161.4,292.8 162.4,294.2 163.4,295.8 164.3,295.6 165.3,294.0 166.3,292.4 167.3,291.0 168.3,289.6 169.3,288.4 170.2,287.3 171.2,286.5 172.2,285.9 173.2,285.5 174.2,285.4 175.2,285.5 176.1,286.0 177.1,286.6 178.1,287.6 179.1,288.8 180.1,290.1 181.1,291.7 182.0,293.4 183.0,295.2 184.0,295.8 185.0,293.9 186.0,292.1 187.0,290.3 188.0,288.6 188.9,287.1 189.9,285.8 190.9,284.7 191.9,283.9 192.9,283.3 193.9,283.1 194.8,283.2 195.8,283.6 196.8,284.4 197.8,285.4 198.8,286.8 199.8,288.4 200.7,290.2 201.7,292.3 202.7,294.4 203.7,296.2 204.7,293.9 205.7,291.6 206.6,289.3 207.6,287.2 208.6,285.3 209.6,283.6 210.6,282.2 211.6,281.1 212.5,280.3 213.5,279.9 214.5,279.9 215.5,280.3 216.5,281.2 217.5,282.4 218.4,283.9 219.4,285.9 220.4,288.1 221.4,290.6 222.4,293.3 223.4,296.1 224.4,293.8 225.3,290.9 226.3,288.0 227.3,285.3 228.3,282.7 229.3,280.4 230.3,278.4 231.2,276.8 232.2,275.7 233.2,275.0 234.2,274.8 235.2,275.2 236.2,276.1 237.1,277.5 238.1,279.4 239.1,281.8 240.1,284.6 241.1,287.8 242.1,291.4 243.0,295.2 244.0,293.8 245.0,289.8 246.0,285.8 247.0,281.9 248.0,278.3 248.9,274.9 249.9,272.0 250.9,269.5 251.9,267.7 252.9,266.4 253.9,265.8 254.8,266.0 255.8,266.9 256.8,268.6 257.8,271.0 258.8,274.2 259.8,278.1 260.7,282.6 261.7,287.7 262.7,293.2 263.7,293.8 264.7,287.6 265.7,281.4 266.7,275.2 267.6,269.1 268.6,263.4 269.6,258.2 270.6,253.6 271.6,249.8 272.6,246.9 273.5,245.0 274.5,244.3 275.5,244.8 276.5,246.7 277.5,249.9 278.5,254.6 279.4,260.7 280.4,268.3 281.4,277.3 282.4,287.6 283.4,293.8 284.4,281.1 285.3,267.3 286.3,252.7 287.3,237.4 288.3,221.5 289.3,205.3 290.3,189.0 291.2,172.8 292.2,156.8 293.2,141.4 294.2,126.7 295.2,112.9 296.2,100.3 297.1,88.9 298.1,79.0 299.1,70.7 300.1,64.1 301.1,59.3 302.1,56.4 303.1,55.4 304.0,56.4 305.0,59.3 306.0,64.1 307.0,70.7 308.0,79.0 309.0,88.9 309.9,100.3 310.9,112.9 311.9,126.7 312.9,141.4 313.9,156.8 314.9,172.8 315.8,189.0 316.8,205.3 317.8,221.5 318.8,237.4 319.8,252.7 320.8,267.3 321.7,281.1 322.7,293.8 323.7,287.6 324.7,277.3 325.7,268.3 326.7,260.7 327.6,254.6 328.6,249.9 329.6,246.7 330.6,244.8 331.6,244.3 332.6,245.0 333.5,246.9 334.5,249.8 335.5,253.6 336.5,258.2 337.5,263.4 338.5,269.1 339.4,275.2 340.4,281.4 341.4,287.6 342.4,293.8 343.4,293.2 344.4,287.7 345.4,282.6 346.3,278.1 347.3,274.2 348.3,271.0 349.3,268.6 350.3,266.9 351.3,266.0 352.2,265.8 353.2,266.4 354.2,267.7 355.2,269.5 356.2,272.0 357.2,274.9 358.1,278.3 359.1,281.9 360.1,285.8 361.1,289.8 362.1,293.8 363.1,295.2 364.0,291.4 365.0,287.8 366.0,284.6 367.0,281.8 368.0,279.4 369.0,277.5 369.9,276.1 370.9,275.2 371.9,274.8 372.9,275.0 373.9,275.7 374.9,276.8 375.8,278.4 376.8,280.4 377.8,282.7 378.8,285.3 379.8,288.0 380.8,290.9 381.8,293.8 382.7,296.1 383.7,293.3 384.7,290.6 385.7,288.1 386.7,285.9 387.7,283.9 388.6,282.4 389.6,281.2 390.6,280.3 391.6,279.9 392.6,279.9 393.6,280.3 394.5,281.1 395.5,282.2 396.5,283.6 397.5,285.3 398.5,287.2 399.5,289.3 400.4,291.6 401.4,293.9 402.4,296.2 403.4,294.4 404.4,292.3 405.4,290.2 406.3,288.4 407.3,286.8 408.3,285.4 409.3,284.4 410.3,283.6 411.3,283.2 412.2,283.1 413.2,283.3 414.2,283.9 415.2,284.7 416.2,285.8 417.2,287.1 418.1,288.6 419.1,290.3 420.1,292.1 421.1,293.9 422.1,295.8 423.1,295.2 424.1,293.4 425.0,291.7 426.0,290.1 427.0,288.8 428.0,287.6 429.0,286.6 430.0,286.0 430.9,285.5 431.9,285.4 432.9,285.5 433.9,285.9 434.9,286.5 435.9,287.3 436.8,288.4 437.8,289.6 438.8,291.0 439.8,292.4 440.8,294.0 441.8,295.6 442.7,295.8 443.7,294.2 444.7,292.8 445.7,291.4 446.7,290.2 447.7,289.2 448.6,288.3 449.6,287.7 450.6,287.3 451.6,287.1 452.6,287.1 453.6,287.4 454.5,287.8 455.5,288.5 456.5,289.4 457.5,290.4 458.5,291.5 459.5,292.7 460.5,294.0 461.4,295.4 462.4,296.2 463.4,294.8 464.4,293.6 465.4,292.4 466.4,291.3 467.3,290.4 468.3,289.6 469.3,289.0 470.3,288.6 471.3,288.4 472.3,288.4 473.2,288.6 474.2,288.9 475.2,289.5 476.2,290.2 477.2,291.0 478.2,291.9 479.1,293.0 480.1,294.1 481.1,295.3 482.1,296.4 483.1,295.3 484.1,294.2 485.0,293.1 486.0,292.2 487.0,291.4 488.0,290.7 489.0,290.1 490.0,289.7 490.9,289.5 491.9,289.4 492.9,289.5 493.9,289.8 494.9,290.2 495.9,290.8 496.8,291.5 497.8,292.3 498.8,293.2 499.8,294.2" fill="none" stroke="#1f77b4" stroke-width="3.5" stroke-linejoin="round" stroke-linecap="butt"/>
<line x1="125.97" y1="308.5" x2="125.97" y2="305.1" stroke="#000" stroke-width="1.7" stroke-linecap="butt"/>
<line x1="145.65" y1="308.5" x2="145.65" y2="305.1" stroke="#000" stroke-width="1.7" stroke-linecap="butt"/>
<line x1="165.32" y1="308.5" x2="165.32" y2="305.1" stroke="#000" stroke-width="1.7" stroke-linecap="butt"/>
<line x1="185" y1="308.5" x2="185" y2="305.1" stroke="#000" stroke-width="1.7" stroke-linecap="butt"/>
<line x1="224.35" y1="308.5" x2="224.35" y2="305.1" stroke="#000" stroke-width="1.7" stroke-linecap="butt"/>
<line x1="244.02" y1="308.5" x2="244.02" y2="305.1" stroke="#000" stroke-width="1.7" stroke-linecap="butt"/>
<line x1="263.7" y1="308.5" x2="263.7" y2="305.1" stroke="#000" stroke-width="1.7" stroke-linecap="butt"/>
<line x1="283.38" y1="308.5" x2="283.38" y2="305.1" stroke="#000" stroke-width="1.7" stroke-linecap="butt"/>
<line x1="322.73" y1="308.5" x2="322.73" y2="305.1" stroke="#000" stroke-width="1.7" stroke-linecap="butt"/>
<line x1="342.4" y1="308.5" x2="342.4" y2="305.1" stroke="#000" stroke-width="1.7" stroke-linecap="butt"/>
<line x1="362.07" y1="308.5" x2="362.07" y2="305.1" stroke="#000" stroke-width="1.7" stroke-linecap="butt"/>
<line x1="381.75" y1="308.5" x2="381.75" y2="305.1" stroke="#000" stroke-width="1.7" stroke-linecap="butt"/>
<line x1="421.1" y1="308.5" x2="421.1" y2="305.1" stroke="#000" stroke-width="1.7" stroke-linecap="butt"/>
<line x1="440.78" y1="308.5" x2="440.78" y2="305.1" stroke="#000" stroke-width="1.7" stroke-linecap="butt"/>
<line x1="460.45" y1="308.5" x2="460.45" y2="305.1" stroke="#000" stroke-width="1.7" stroke-linecap="butt"/>
<line x1="480.12" y1="308.5" x2="480.12" y2="305.1" stroke="#000" stroke-width="1.7" stroke-linecap="butt"/>
<line x1="106.3" y1="308.5" x2="106.3" y2="301.9" stroke="#000" stroke-width="1.7" stroke-linecap="butt"/>
<text transform="translate(106.3,331.3) scale(0.875,1)" text-anchor="middle" font-size="24.0" >−10</text>
<line x1="204.68" y1="308.5" x2="204.68" y2="301.9" stroke="#000" stroke-width="1.7" stroke-linecap="butt"/>
<text transform="translate(204.68,331.3) scale(0.875,1)" text-anchor="middle" font-size="24.0" >−5</text>
<line x1="303.05" y1="308.5" x2="303.05" y2="301.9" stroke="#000" stroke-width="1.7" stroke-linecap="butt"/>
<text transform="translate(303.05,331.3) scale(0.875,1)" text-anchor="middle" font-size="24.0" >0</text>
<line x1="401.43" y1="308.5" x2="401.43" y2="301.9" stroke="#000" stroke-width="1.7" stroke-linecap="butt"/>
<text transform="translate(401.43,331.3) scale(0.875,1)" text-anchor="middle" font-size="24.0" >5</text>
<line x1="499.8" y1="308.5" x2="499.8" y2="301.9" stroke="#000" stroke-width="1.7" stroke-linecap="butt"/>
<text transform="translate(499.8,331.3) scale(0.875,1)" text-anchor="middle" font-size="24.0" >10</text>
<line x1="106.3" y1="308.5" x2="109.7" y2="308.5" stroke="#000" stroke-width="1.7" stroke-linecap="butt"/>
<line x1="106.3" y1="284.4" x2="109.7" y2="284.4" stroke="#000" stroke-width="1.7" stroke-linecap="butt"/>
<line x1="106.3" y1="272.35" x2="109.7" y2="272.35" stroke="#000" stroke-width="1.7" stroke-linecap="butt"/>
<line x1="106.3" y1="260.3" x2="109.7" y2="260.3" stroke="#000" stroke-width="1.7" stroke-linecap="butt"/>
<line x1="106.3" y1="236.2" x2="109.7" y2="236.2" stroke="#000" stroke-width="1.7" stroke-linecap="butt"/>
<line x1="106.3" y1="224.15" x2="109.7" y2="224.15" stroke="#000" stroke-width="1.7" stroke-linecap="butt"/>
<line x1="106.3" y1="212.1" x2="109.7" y2="212.1" stroke="#000" stroke-width="1.7" stroke-linecap="butt"/>
<line x1="106.3" y1="188" x2="109.7" y2="188" stroke="#000" stroke-width="1.7" stroke-linecap="butt"/>
<line x1="106.3" y1="175.95" x2="109.7" y2="175.95" stroke="#000" stroke-width="1.7" stroke-linecap="butt"/>
<line x1="106.3" y1="163.9" x2="109.7" y2="163.9" stroke="#000" stroke-width="1.7" stroke-linecap="butt"/>
<line x1="106.3" y1="139.8" x2="109.7" y2="139.8" stroke="#000" stroke-width="1.7" stroke-linecap="butt"/>
<line x1="106.3" y1="127.75" x2="109.7" y2="127.75" stroke="#000" stroke-width="1.7" stroke-linecap="butt"/>
<line x1="106.3" y1="115.7" x2="109.7" y2="115.7" stroke="#000" stroke-width="1.7" stroke-linecap="butt"/>
<line x1="106.3" y1="91.6" x2="109.7" y2="91.6" stroke="#000" stroke-width="1.7" stroke-linecap="butt"/>
<line x1="106.3" y1="79.55" x2="109.7" y2="79.55" stroke="#000" stroke-width="1.7" stroke-linecap="butt"/>
<line x1="106.3" y1="67.5" x2="109.7" y2="67.5" stroke="#000" stroke-width="1.7" stroke-linecap="butt"/>
<line x1="106.3" y1="43.4" x2="109.7" y2="43.4" stroke="#000" stroke-width="1.7" stroke-linecap="butt"/>
<line x1="106.3" y1="296.45" x2="112.9" y2="296.45" stroke="#000" stroke-width="1.7" stroke-linecap="butt"/>
<text transform="translate(97.3,304.25) scale(0.875,1)" text-anchor="end" font-size="24.0" >0.0</text>
<line x1="106.3" y1="248.25" x2="112.9" y2="248.25" stroke="#000" stroke-width="1.7" stroke-linecap="butt"/>
<text transform="translate(97.3,256.05) scale(0.875,1)" text-anchor="end" font-size="24.0" >0.2</text>
<line x1="106.3" y1="200.05" x2="112.9" y2="200.05" stroke="#000" stroke-width="1.7" stroke-linecap="butt"/>
<text transform="translate(97.3,207.85) scale(0.875,1)" text-anchor="end" font-size="24.0" >0.4</text>
<line x1="106.3" y1="151.85" x2="112.9" y2="151.85" stroke="#000" stroke-width="1.7" stroke-linecap="butt"/>
<text transform="translate(97.3,159.65) scale(0.875,1)" text-anchor="end" font-size="24.0" >0.6</text>
<line x1="106.3" y1="103.65" x2="112.9" y2="103.65" stroke="#000" stroke-width="1.7" stroke-linecap="butt"/>
<text transform="translate(97.3,111.45) scale(0.875,1)" text-anchor="end" font-size="24.0" >0.8</text>
<line x1="106.3" y1="55.45" x2="112.9" y2="55.45" stroke="#000" stroke-width="1.7" stroke-linecap="butt"/>
<text transform="translate(97.3,63.25) scale(0.875,1)" text-anchor="end" font-size="24.0" >1.0</text>
<rect x="106.3" y="43.4" width="393.5" height="265.1" fill="none" stroke="#000" stroke-width="2.35"/>
<text transform="translate(303.05,359.5) scale(0.96,1)" text-anchor="middle" font-size="23.1" >&#934; (&#934;<tspan dy="4.8" font-size="17.3">0</tspan><tspan dy="-4.8" font-size="23.1">)</tspan></text>
<text transform="translate(54.8,175.95) rotate(-90)" text-anchor="middle" font-size="22.4" letter-spacing="0.75"><tspan font-style="italic">I</tspan><tspan dy="5" font-size="16.8" font-style="italic">c</tspan><tspan dy="-5" font-size="22.4"> (</tspan><tspan font-style="italic">I</tspan><tspan dy="5" font-size="16.8">0</tspan><tspan dy="-5" font-size="22.4">)</tspan></text>
<text x="9" y="53.7" text-anchor="start" font-size="35.3" >(a)</text>
<polygon points="374.4,136.2 379.6,79.3 472.9,79.3 477.3,136.2" fill="#7fbf7f" stroke="#000" stroke-width="0.9" stroke-linejoin="round"/>
<rect x="473.2" y="132.3" width="1.7" height="3.5" fill="#000"/>
<line x1="364.9" y1="136.2" x2="485.6" y2="136.2" stroke="#000" stroke-width="2.3" stroke-linecap="butt"/>
<line x1="424.9" y1="136.2" x2="424.9" y2="60" stroke="#000" stroke-width="2.3" stroke-linecap="butt"/>
<polygon points="424.9,48.9 416.59999999999997,63.8 433.2,63.8" fill="#000"/>
<line x1="424.9" y1="79.3" x2="430.1" y2="79.3" stroke="#000" stroke-width="1.0" stroke-linecap="butt"/>
<text transform="translate(411.7,86.7) scale(0.875,1)" text-anchor="middle" font-size="24.0" >1</text>
<text transform="translate(374.4,158.4) scale(0.875,1)" text-anchor="middle" font-size="24.0" >−0.5</text>
<text transform="translate(424.4,158.4) scale(0.875,1)" text-anchor="middle" font-size="24.0" >0.0</text>
<text transform="translate(473.3,158.4) scale(0.875,1)" text-anchor="middle" font-size="24.0" >0.5</text>
<text x="424.4" y="183.3" text-anchor="middle" font-size="18.5" >y (<tspan font-style="italic">W</tspan>)</text>
<text x="439.6" y="68.2" text-anchor="start" font-size="18.5" letter-spacing="0.6"><tspan font-style="italic">J</tspan><tspan dy="3.5" font-size="13.5" font-style="italic">s</tspan><tspan dy="-3.5" font-size="18.5"> (</tspan><tspan font-style="italic">J</tspan><tspan dy="3.5" font-size="13.5">0</tspan><tspan dy="-3.5" font-size="18.5">)</tspan></text>
<line x1="641.73" y1="308.45" x2="641.73" y2="305.05" stroke="#000" stroke-width="1.7" stroke-linecap="butt"/>
<line x1="657.67" y1="308.45" x2="657.67" y2="305.05" stroke="#000" stroke-width="1.7" stroke-linecap="butt"/>
<line x1="673.61" y1="308.45" x2="673.61" y2="305.05" stroke="#000" stroke-width="1.7" stroke-linecap="butt"/>
<line x1="689.54" y1="308.45" x2="689.54" y2="305.05" stroke="#000" stroke-width="1.7" stroke-linecap="butt"/>
<line x1="721.41" y1="308.45" x2="721.41" y2="305.05" stroke="#000" stroke-width="1.7" stroke-linecap="butt"/>
<line x1="737.35" y1="308.45" x2="737.35" y2="305.05" stroke="#000" stroke-width="1.7" stroke-linecap="butt"/>
<line x1="753.28" y1="308.45" x2="753.28" y2="305.05" stroke="#000" stroke-width="1.7" stroke-linecap="butt"/>
<line x1="769.21" y1="308.45" x2="769.21" y2="305.05" stroke="#000" stroke-width="1.7" stroke-linecap="butt"/>
<line x1="801.09" y1="308.45" x2="801.09" y2="305.05" stroke="#000" stroke-width="1.7" stroke-linecap="butt"/>
<line x1="817.02" y1="308.45" x2="817.02" y2="305.05" stroke="#000" stroke-width="1.7" stroke-linecap="butt"/>
<line x1="832.95" y1="308.45" x2="832.95" y2="305.05" stroke="#000" stroke-width="1.7" stroke-linecap="butt"/>
<line x1="848.89" y1="308.45" x2="848.89" y2="305.05" stroke="#000" stroke-width="1.7" stroke-linecap="butt"/>
<line x1="880.76" y1="308.45" x2="880.76" y2="305.05" stroke="#000" stroke-width="1.7" stroke-linecap="butt"/>
<line x1="896.69" y1="308.45" x2="896.69" y2="305.05" stroke="#000" stroke-width="1.7" stroke-linecap="butt"/>
<line x1="912.63" y1="308.45" x2="912.63" y2="305.05" stroke="#000" stroke-width="1.7" stroke-linecap="butt"/>
<line x1="928.57" y1="308.45" x2="928.57" y2="305.05" stroke="#000" stroke-width="1.7" stroke-linecap="butt"/>
<line x1="625.8" y1="308.45" x2="625.8" y2="301.85" stroke="#000" stroke-width="1.7" stroke-linecap="butt"/>
<text transform="translate(625.8,331.25) scale(0.875,1)" text-anchor="middle" font-size="24.0" >−10</text>
<line x1="705.47" y1="308.45" x2="705.47" y2="301.85" stroke="#000" stroke-width="1.7" stroke-linecap="butt"/>
<text transform="translate(705.47,331.25) scale(0.875,1)" text-anchor="middle" font-size="24.0" >−5</text>
<line x1="785.15" y1="308.45" x2="785.15" y2="301.85" stroke="#000" stroke-width="1.7" stroke-linecap="butt"/>
<text transform="translate(785.15,331.25) scale(0.875,1)" text-anchor="middle" font-size="24.0" >0</text>
<line x1="864.83" y1="308.45" x2="864.83" y2="301.85" stroke="#000" stroke-width="1.7" stroke-linecap="butt"/>
<text transform="translate(864.83,331.25) scale(0.875,1)" text-anchor="middle" font-size="24.0" >5</text>
<line x1="944.5" y1="308.45" x2="944.5" y2="301.85" stroke="#000" stroke-width="1.7" stroke-linecap="butt"/>
<text transform="translate(944.5,331.25) scale(0.875,1)" text-anchor="middle" font-size="24.0" >10</text>
<line x1="625.8" y1="297.85" x2="629.2" y2="297.85" stroke="#000" stroke-width="1.7" stroke-linecap="butt"/>
<line x1="625.8" y1="287.25" x2="629.2" y2="287.25" stroke="#000" stroke-width="1.7" stroke-linecap="butt"/>
<line x1="625.8" y1="276.64" x2="629.2" y2="276.64" stroke="#000" stroke-width="1.7" stroke-linecap="butt"/>
<line x1="625.8" y1="266.04" x2="629.2" y2="266.04" stroke="#000" stroke-width="1.7" stroke-linecap="butt"/>
<line x1="625.8" y1="244.84" x2="629.2" y2="244.84" stroke="#000" stroke-width="1.7" stroke-linecap="butt"/>
<line x1="625.8" y1="234.24" x2="629.2" y2="234.24" stroke="#000" stroke-width="1.7" stroke-linecap="butt"/>
<line x1="625.8" y1="223.63" x2="629.2" y2="223.63" stroke="#000" stroke-width="1.7" stroke-linecap="butt"/>
<line x1="625.8" y1="213.03" x2="629.2" y2="213.03" stroke="#000" stroke-width="1.7" stroke-linecap="butt"/>
<line x1="625.8" y1="191.83" x2="629.2" y2="191.83" stroke="#000" stroke-width="1.7" stroke-linecap="butt"/>
<line x1="625.8" y1="181.23" x2="629.2" y2="181.23" stroke="#000" stroke-width="1.7" stroke-linecap="butt"/>
<line x1="625.8" y1="170.62" x2="629.2" y2="170.62" stroke="#000" stroke-width="1.7" stroke-linecap="butt"/>
<line x1="625.8" y1="160.02" x2="629.2" y2="160.02" stroke="#000" stroke-width="1.7" stroke-linecap="butt"/>
<line x1="625.8" y1="138.82" x2="629.2" y2="138.82" stroke="#000" stroke-width="1.7" stroke-linecap="butt"/>
<line x1="625.8" y1="128.22" x2="629.2" y2="128.22" stroke="#000" stroke-width="1.7" stroke-linecap="butt"/>
<line x1="625.8" y1="117.61" x2="629.2" y2="117.61" stroke="#000" stroke-width="1.7" stroke-linecap="butt"/>
<line x1="625.8" y1="107.01" x2="629.2" y2="107.01" stroke="#000" stroke-width="1.7" stroke-linecap="butt"/>
<line x1="625.8" y1="85.81" x2="629.2" y2="85.81" stroke="#000" stroke-width="1.7" stroke-linecap="butt"/>
<line x1="625.8" y1="75.21" x2="629.2" y2="75.21" stroke="#000" stroke-width="1.7" stroke-linecap="butt"/>
<line x1="625.8" y1="64.6" x2="629.2" y2="64.6" stroke="#000" stroke-width="1.7" stroke-linecap="butt"/>
<line x1="625.8" y1="54" x2="629.2" y2="54" stroke="#000" stroke-width="1.7" stroke-linecap="butt"/>
<line x1="625.8" y1="308.45" x2="632.4" y2="308.45" stroke="#000" stroke-width="1.7" stroke-linecap="butt"/>
<text transform="translate(617.6,315.7) scale(0.875,1)" text-anchor="end" font-size="24.0" >0</text>
<line x1="625.8" y1="255.44" x2="632.4" y2="255.44" stroke="#000" stroke-width="1.7" stroke-linecap="butt"/>
<text transform="translate(617.6,262.69) scale(0.875,1)" text-anchor="end" font-size="24.0" >1</text>
<line x1="625.8" y1="202.43" x2="632.4" y2="202.43" stroke="#000" stroke-width="1.7" stroke-linecap="butt"/>
<text transform="translate(617.6,209.68) scale(0.875,1)" text-anchor="end" font-size="24.0" >2</text>
<line x1="625.8" y1="149.42" x2="632.4" y2="149.42" stroke="#000" stroke-width="1.7" stroke-linecap="butt"/>
<text transform="translate(617.6,156.67) scale(0.875,1)" text-anchor="end" font-size="24.0" >3</text>
<line x1="625.8" y1="96.41" x2="632.4" y2="96.41" stroke="#000" stroke-width="1.7" stroke-linecap="butt"/>
<text transform="translate(617.6,103.66) scale(0.875,1)" text-anchor="end" font-size="24.0" >4</text>
<line x1="625.8" y1="43.4" x2="632.4" y2="43.4" stroke="#000" stroke-width="1.7" stroke-linecap="butt"/>
<text transform="translate(617.6,50.65) scale(0.875,1)" text-anchor="end" font-size="24.0" >5</text>
<rect x="625.8" y="43.4" width="318.7" height="265.05" fill="none" stroke="#000" stroke-width="2.35"/>
<text transform="translate(785.15,359.45) scale(0.96,1)" text-anchor="middle" font-size="23.1" >&#934; (&#934;<tspan dy="4.8" font-size="17.3">0</tspan><tspan dy="-4.8" font-size="23.1">)</tspan></text>
<text transform="translate(584.8,175.92) rotate(-90)" text-anchor="middle" font-size="22.4" letter-spacing="0.75"><tspan font-style="italic">B</tspan><tspan dy="5" font-size="16.8" font-style="italic">y</tspan><tspan dy="-5" font-size="22.4"> (</tspan><tspan font-style="italic">B</tspan><tspan dy="5" font-size="16.8">0</tspan><tspan dy="-5" font-size="22.4">)</tspan></text>
<text x="529" y="53.7" text-anchor="start" font-size="35.3" >(b)</text>
<rect x="960" y="43.4" width="14.2" height="265.05" fill="none" stroke="#000" stroke-width="2.35"/>
<line x1="974.2" y1="43.4" x2="978.4" y2="43.4" stroke="#000" stroke-width="1.7" stroke-linecap="butt"/>
<text x="984" y="51.3" text-anchor="start" font-size="26.0" >1.0</text>
<line x1="974.2" y1="221.6" x2="978.4" y2="221.6" stroke="#000" stroke-width="1.7" stroke-linecap="butt"/>
<text x="984" y="229.5" text-anchor="start" font-size="26.0" >0.8</text>
<line x1="974.2" y1="305.74" x2="978.4" y2="305.74" stroke="#000" stroke-width="1.7" stroke-linecap="butt"/>
<text x="984" y="313.64" text-anchor="start" font-size="26.0" >0.4</text>
<text y="23.8" font-size="26"><tspan x="918.2">1</tspan><tspan x="936.5" textLength="17.5" lengthAdjust="spacingAndGlyphs">−</tspan><tspan x="961.2" font-style="italic">I</tspan><tspan x="971.6" dy="4.8" font-size="18" font-style="italic">c</tspan><tspan x="981.9" dy="1.4" font-size="35">/</tspan><tspan x="994.2" dy="-6.2" font-size="26" font-style="italic">I</tspan><tspan x="1005.8" dy="4.8" font-size="18">0</tspan></text>
<clipPath id="cpc"><rect x="106.3" y="434.2" width="393.5" height="265.1"/></clipPath>
<polyline clip-path="url(#cpc)" points="106.3,687.2 107.3,686.6 108.3,686.0 109.3,685.5 110.2,685.2 111.2,685.1 112.2,685.1 113.2,685.3 114.2,685.7 115.2,686.2 116.1,687.0 117.1,686.6 118.1,685.6 119.1,684.4 120.1,683.2 121.1,681.8 122.0,680.4 123.0,678.9 124.0,677.5 125.0,676.1 126.0,674.8 127.0,673.5 127.9,672.4 128.9,671.4 129.9,670.6 130.9,670.0 131.9,669.6 132.9,669.4 133.8,669.4 134.8,669.6 135.8,670.1 136.8,670.7 137.8,671.6 138.8,672.6 139.7,673.8 140.7,675.1 141.7,676.4 142.7,677.9 143.7,679.4 144.7,680.8 145.7,682.2 146.6,683.5 147.6,684.7 148.6,685.8 149.6,686.7 150.6,687.1 151.6,686.7 152.5,686.5 153.5,686.5 154.5,686.7 155.5,687.2 156.5,686.5 157.5,685.5 158.4,684.4 159.4,683.1 160.4,681.6 161.4,680.0 162.4,678.3 163.4,676.7 164.3,675.0 165.3,673.4 166.3,671.9 167.3,670.5 168.3,669.3 169.3,668.4 170.2,667.6 171.2,667.2 172.2,667.0 173.2,667.2 174.2,667.7 175.2,668.5 176.1,669.6 177.1,671.0 178.1,672.6 179.1,674.5 180.1,676.7 181.1,679.0 182.0,681.4 183.0,683.9 184.0,686.5 185.0,685.5 186.0,683.1 187.0,680.8 188.0,678.6 188.9,676.7 189.9,675.0 190.9,673.6 191.9,672.6 192.9,671.9 193.9,671.6 194.8,671.6 195.8,672.0 196.8,672.8 197.8,673.8 198.8,675.2 199.8,676.9 200.7,678.7 201.7,680.8 202.7,682.9 203.7,685.1 204.7,687.2 205.7,685.2 206.6,683.2 207.6,681.5 208.6,680.0 209.6,678.8 210.6,678.0 211.6,677.6 212.5,677.7 213.5,678.2 214.5,679.2 215.5,680.7 216.5,682.6 217.5,685.0 218.4,686.6 219.4,683.4 220.4,679.9 221.4,676.1 222.4,672.1 223.4,668.0 224.4,663.8 225.3,659.7 226.3,655.7 227.3,651.9 228.3,648.4 229.3,645.2 230.3,642.5 231.2,640.3 232.2,638.6 233.2,637.5 234.2,637.0 235.2,637.2 236.2,637.9 237.1,639.3 238.1,641.3 239.1,643.8 240.1,646.8 241.1,650.2 242.1,654.0 243.0,658.0 244.0,662.1 245.0,666.3 246.0,670.4 247.0,674.3 248.0,677.9 248.9,681.0 249.9,683.7 250.9,685.7 251.9,687.0 252.9,686.9 253.9,687.2 254.8,686.1 255.8,684.0 256.8,681.0 257.8,677.1 258.8,672.3 259.8,666.7 260.7,660.5 261.7,653.6 262.7,646.2 263.7,638.4 264.7,630.4 265.7,622.3 266.7,614.3 267.6,606.6 268.6,599.4 269.6,592.8 270.6,587.0 271.6,582.3 272.6,578.6 273.5,576.3 274.5,575.4 275.5,576.1 276.5,578.3 277.5,582.3 278.5,588.0 279.4,595.5 280.4,604.7 281.4,615.5 282.4,628.0 283.4,642.0 284.4,657.4 285.3,674.0 286.3,682.9 287.3,664.4 288.3,645.4 289.3,625.9 290.3,606.3 291.2,586.8 292.2,567.7 293.2,549.2 294.2,531.5 295.2,515.0 296.2,499.9 297.1,486.3 298.1,474.4 299.1,464.5 300.1,456.6 301.1,450.9 302.1,447.4 303.1,446.2 304.0,447.4 305.0,450.9 306.0,456.6 307.0,464.5 308.0,474.4 309.0,486.3 309.9,499.9 310.9,515.0 311.9,531.5 312.9,549.2 313.9,567.7 314.9,586.8 315.8,606.3 316.8,625.9 317.8,645.4 318.8,664.4 319.8,682.9 320.8,674.0 321.7,657.4 322.7,642.0 323.7,628.0 324.7,615.5 325.7,604.7 326.7,595.5 327.6,588.0 328.6,582.3 329.6,578.3 330.6,576.1 331.6,575.4 332.6,576.3 333.5,578.6 334.5,582.3 335.5,587.0 336.5,592.8 337.5,599.4 338.5,606.6 339.4,614.3 340.4,622.3 341.4,630.4 342.4,638.4 343.4,646.2 344.4,653.6 345.4,660.5 346.3,666.7 347.3,672.3 348.3,677.1 349.3,681.0 350.3,684.0 351.3,686.1 352.2,687.2 353.2,686.9 354.2,687.0 355.2,685.7 356.2,683.7 357.2,681.0 358.1,677.9 359.1,674.3 360.1,670.4 361.1,666.3 362.1,662.1 363.1,658.0 364.0,654.0 365.0,650.2 366.0,646.8 367.0,643.8 368.0,641.3 369.0,639.3 369.9,637.9 370.9,637.2 371.9,637.0 372.9,637.5 373.9,638.6 374.9,640.3 375.8,642.5 376.8,645.2 377.8,648.4 378.8,651.9 379.8,655.7 380.8,659.7 381.8,663.8 382.7,668.0 383.7,672.1 384.7,676.1 385.7,679.9 386.7,683.4 387.7,686.6 388.6,685.0 389.6,682.6 390.6,680.7 391.6,679.2 392.6,678.2 393.6,677.7 394.5,677.6 395.5,678.0 396.5,678.8 397.5,680.0 398.5,681.5 399.5,683.2 400.4,685.2 401.4,687.2 402.4,685.1 403.4,682.9 404.4,680.8 405.4,678.7 406.3,676.9 407.3,675.2 408.3,673.8 409.3,672.8 410.3,672.0 411.3,671.6 412.2,671.6 413.2,671.9 414.2,672.6 415.2,673.6 416.2,675.0 417.2,676.7 418.1,678.6 419.1,680.8 420.1,683.1 421.1,685.5 422.1,686.5 423.1,683.9 424.1,681.4 425.0,679.0 426.0,676.7 427.0,674.5 428.0,672.6 429.0,671.0 430.0,669.6 430.9,668.5 431.9,667.7 432.9,667.2 433.9,667.0 434.9,667.2 435.9,667.6 436.8,668.4 437.8,669.3 438.8,670.5 439.8,671.9 440.8,673.4 441.8,675.0 442.7,676.7 443.7,678.3 444.7,680.0 445.7,681.6 446.7,683.1 447.7,684.4 448.6,685.5 449.6,686.5 450.6,687.2 451.6,686.7 452.6,686.5 453.6,686.5 454.5,686.7 455.5,687.1 456.5,686.7 457.5,685.8 458.5,684.7 459.5,683.5 460.5,682.2 461.4,680.8 462.4,679.4 463.4,677.9 464.4,676.4 465.4,675.1 466.4,673.8 467.3,672.6 468.3,671.6 469.3,670.7 470.3,670.1 471.3,669.6 472.3,669.4 473.2,669.4 474.2,669.6 475.2,670.0 476.2,670.6 477.2,671.4 478.2,672.4 479.1,673.5 480.1,674.8 481.1,676.1 482.1,677.5 483.1,678.9 484.1,680.4 485.0,681.8 486.0,683.2 487.0,684.4 488.0,685.6 489.0,686.6 490.0,687.0 490.9,686.2 491.9,685.7 492.9,685.3 493.9,685.1 494.9,685.1 495.9,685.2 496.8,685.5 497.8,686.0 498.8,686.6 499.8,687.2" fill="none" stroke="#1f77b4" stroke-width="3.5" stroke-linejoin="round" stroke-linecap="butt"/>
<line x1="125.97" y1="699.3" x2="125.97" y2="695.9" stroke="#000" stroke-width="1.7" stroke-linecap="butt"/>
<line x1="145.65" y1="699.3" x2="145.65" y2="695.9" stroke="#000" stroke-width="1.7" stroke-linecap="butt"/>
<line x1="165.32" y1="699.3" x2="165.32" y2="695.9" stroke="#000" stroke-width="1.7" stroke-linecap="butt"/>
<line x1="185" y1="699.3" x2="185" y2="695.9" stroke="#000" stroke-width="1.7" stroke-linecap="butt"/>
<line x1="224.35" y1="699.3" x2="224.35" y2="695.9" stroke="#000" stroke-width="1.7" stroke-linecap="butt"/>
<line x1="244.02" y1="699.3" x2="244.02" y2="695.9" stroke="#000" stroke-width="1.7" stroke-linecap="butt"/>
<line x1="263.7" y1="699.3" x2="263.7" y2="695.9" stroke="#000" stroke-width="1.7" stroke-linecap="butt"/>
<line x1="283.38" y1="699.3" x2="283.38" y2="695.9" stroke="#000" stroke-width="1.7" stroke-linecap="butt"/>
<line x1="322.73" y1="699.3" x2="322.73" y2="695.9" stroke="#000" stroke-width="1.7" stroke-linecap="butt"/>
<line x1="342.4" y1="699.3" x2="342.4" y2="695.9" stroke="#000" stroke-width="1.7" stroke-linecap="butt"/>
<line x1="362.07" y1="699.3" x2="362.07" y2="695.9" stroke="#000" stroke-width="1.7" stroke-linecap="butt"/>
<line x1="381.75" y1="699.3" x2="381.75" y2="695.9" stroke="#000" stroke-width="1.7" stroke-linecap="butt"/>
<line x1="421.1" y1="699.3" x2="421.1" y2="695.9" stroke="#000" stroke-width="1.7" stroke-linecap="butt"/>
<line x1="440.78" y1="699.3" x2="440.78" y2="695.9" stroke="#000" stroke-width="1.7" stroke-linecap="butt"/>
<line x1="460.45" y1="699.3" x2="460.45" y2="695.9" stroke="#000" stroke-width="1.7" stroke-linecap="butt"/>
<line x1="480.12" y1="699.3" x2="480.12" y2="695.9" stroke="#000" stroke-width="1.7" stroke-linecap="butt"/>
<line x1="106.3" y1="699.3" x2="106.3" y2="692.7" stroke="#000" stroke-width="1.7" stroke-linecap="butt"/>
<text transform="translate(106.3,722.1) scale(0.875,1)" text-anchor="middle" font-size="24.0" >−10</text>
<line x1="204.68" y1="699.3" x2="204.68" y2="692.7" stroke="#000" stroke-width="1.7" stroke-linecap="butt"/>
<text transform="translate(204.68,722.1) scale(0.875,1)" text-anchor="middle" font-size="24.0" >−5</text>
<line x1="303.05" y1="699.3" x2="303.05" y2="692.7" stroke="#000" stroke-width="1.7" stroke-linecap="butt"/>
<text transform="translate(303.05,722.1) scale(0.875,1)" text-anchor="middle" font-size="24.0" >0</text>
<line x1="401.43" y1="699.3" x2="401.43" y2="692.7" stroke="#000" stroke-width="1.7" stroke-linecap="butt"/>
<text transform="translate(401.43,722.1) scale(0.875,1)" text-anchor="middle" font-size="24.0" >5</text>
<line x1="499.8" y1="699.3" x2="499.8" y2="692.7" stroke="#000" stroke-width="1.7" stroke-linecap="butt"/>
<text transform="translate(499.8,722.1) scale(0.875,1)" text-anchor="middle" font-size="24.0" >10</text>
<line x1="106.3" y1="699.3" x2="109.7" y2="699.3" stroke="#000" stroke-width="1.7" stroke-linecap="butt"/>
<line x1="106.3" y1="675.2" x2="109.7" y2="675.2" stroke="#000" stroke-width="1.7" stroke-linecap="butt"/>
<line x1="106.3" y1="663.15" x2="109.7" y2="663.15" stroke="#000" stroke-width="1.7" stroke-linecap="butt"/>
<line x1="106.3" y1="651.1" x2="109.7" y2="651.1" stroke="#000" stroke-width="1.7" stroke-linecap="butt"/>
<line x1="106.3" y1="627" x2="109.7" y2="627" stroke="#000" stroke-width="1.7" stroke-linecap="butt"/>
<line x1="106.3" y1="614.95" x2="109.7" y2="614.95" stroke="#000" stroke-width="1.7" stroke-linecap="butt"/>
<line x1="106.3" y1="602.9" x2="109.7" y2="602.9" stroke="#000" stroke-width="1.7" stroke-linecap="butt"/>
<line x1="106.3" y1="578.8" x2="109.7" y2="578.8" stroke="#000" stroke-width="1.7" stroke-linecap="butt"/>
<line x1="106.3" y1="566.75" x2="109.7" y2="566.75" stroke="#000" stroke-width="1.7" stroke-linecap="butt"/>
<line x1="106.3" y1="554.7" x2="109.7" y2="554.7" stroke="#000" stroke-width="1.7" stroke-linecap="butt"/>
<line x1="106.3" y1="530.6" x2="109.7" y2="530.6" stroke="#000" stroke-width="1.7" stroke-linecap="butt"/>
<line x1="106.3" y1="518.55" x2="109.7" y2="518.55" stroke="#000" stroke-width="1.7" stroke-linecap="butt"/>
<line x1="106.3" y1="506.5" x2="109.7" y2="506.5" stroke="#000" stroke-width="1.7" stroke-linecap="butt"/>
<line x1="106.3" y1="482.4" x2="109.7" y2="482.4" stroke="#000" stroke-width="1.7" stroke-linecap="butt"/>
<line x1="106.3" y1="470.35" x2="109.7" y2="470.35" stroke="#000" stroke-width="1.7" stroke-linecap="butt"/>
<line x1="106.3" y1="458.3" x2="109.7" y2="458.3" stroke="#000" stroke-width="1.7" stroke-linecap="butt"/>
<line x1="106.3" y1="434.2" x2="109.7" y2="434.2" stroke="#000" stroke-width="1.7" stroke-linecap="butt"/>
<line x1="106.3" y1="687.25" x2="112.9" y2="687.25" stroke="#000" stroke-width="1.7" stroke-linecap="butt"/>
<text transform="translate(97.3,695.05) scale(0.875,1)" text-anchor="end" font-size="24.0" >0.0</text>
<line x1="106.3" y1="639.05" x2="112.9" y2="639.05" stroke="#000" stroke-width="1.7" stroke-linecap="butt"/>
<text transform="translate(97.3,646.85) scale(0.875,1)" text-anchor="end" font-size="24.0" >0.2</text>
<line x1="106.3" y1="590.85" x2="112.9" y2="590.85" stroke="#000" stroke-width="1.7" stroke-linecap="butt"/>
<text transform="translate(97.3,598.65) scale(0.875,1)" text-anchor="end" font-size="24.0" >0.4</text>
<line x1="106.3" y1="542.65" x2="112.9" y2="542.65" stroke="#000" stroke-width="1.7" stroke-linecap="butt"/>
<text transform="translate(97.3,550.45) scale(0.875,1)" text-anchor="end" font-size="24.0" >0.6</text>
<line x1="106.3" y1="494.45" x2="112.9" y2="494.45" stroke="#000" stroke-width="1.7" stroke-linecap="butt"/>
<text transform="translate(97.3,502.25) scale(0.875,1)" text-anchor="end" font-size="24.0" >0.8</text>
<line x1="106.3" y1="446.25" x2="112.9" y2="446.25" stroke="#000" stroke-width="1.7" stroke-linecap="butt"/>
<text transform="translate(97.3,454.05) scale(0.875,1)" text-anchor="end" font-size="24.0" >1.0</text>
<rect x="106.3" y="434.2" width="393.5" height="265.1" fill="none" stroke="#000" stroke-width="2.35"/>
<text transform="translate(303.05,750.3) scale(0.96,1)" text-anchor="middle" font-size="23.1" >&#934; (&#934;<tspan dy="4.8" font-size="17.3">0</tspan><tspan dy="-4.8" font-size="23.1">)</tspan></text>
<text transform="translate(54.8,566.75) rotate(-90)" text-anchor="middle" font-size="22.4" letter-spacing="0.75"><tspan font-style="italic">I</tspan><tspan dy="5" font-size="16.8" font-style="italic">c</tspan><tspan dy="-5" font-size="22.4"> (</tspan><tspan font-style="italic">I</tspan><tspan dy="5" font-size="16.8">0</tspan><tspan dy="-5" font-size="22.4">)</tspan></text>
<text x="9" y="444.5" text-anchor="start" font-size="35.3" >(c)</text>
<path d="M382.7,526.9 L386.70000000000005,473.0 Q387.1,470.0 390.1,470.0 L419.2,470.0 Q422.2,470.0 422.59999999999997,473.0 L426.2,526.9 Z" fill="#008000" stroke="#000" stroke-width="1"/>
<path d="M440.0,526.9 L443.6,473.0 Q444.0,470.0 447.0,470.0 L476.6,470.0 Q479.6,470.0 480.0,473.0 L483.3,526.9 Z" fill="#008000" stroke="#000" stroke-width="1"/>
<line x1="372.9" y1="526.9" x2="493.3" y2="526.9" stroke="#000" stroke-width="2.3" stroke-linecap="butt"/>
<line x1="432.9" y1="526.9" x2="432.9" y2="452" stroke="#000" stroke-width="2.3" stroke-linecap="butt"/>
<polygon points="432.9,439.3 424.59999999999997,454.9 441.2,454.9" fill="#000"/>
<line x1="432.9" y1="470" x2="438.9" y2="470" stroke="#000" stroke-width="1.0" stroke-linecap="butt"/>
<line x1="641.73" y1="699.25" x2="641.73" y2="695.85" stroke="#000" stroke-width="1.7" stroke-linecap="butt"/>
<line x1="657.67" y1="699.25" x2="657.67" y2="695.85" stroke="#000" stroke-width="1.7" stroke-linecap="butt"/>
<line x1="673.61" y1="699.25" x2="673.61" y2="695.85" stroke="#000" stroke-width="1.7" stroke-linecap="butt"/>
<line x1="689.54" y1="699.25" x2="689.54" y2="695.85" stroke="#000" stroke-width="1.7" stroke-linecap="butt"/>
<line x1="721.41" y1="699.25" x2="721.41" y2="695.85" stroke="#000" stroke-width="1.7" stroke-linecap="butt"/>
<line x1="737.35" y1="699.25" x2="737.35" y2="695.85" stroke="#000" stroke-width="1.7" stroke-linecap="butt"/>
<line x1="753.28" y1="699.25" x2="753.28" y2="695.85" stroke="#000" stroke-width="1.7" stroke-linecap="butt"/>
<line x1="769.21" y1="699.25" x2="769.21" y2="695.85" stroke="#000" stroke-width="1.7" stroke-linecap="butt"/>
<line x1="801.09" y1="699.25" x2="801.09" y2="695.85" stroke="#000" stroke-width="1.7" stroke-linecap="butt"/>
<line x1="817.02" y1="699.25" x2="817.02" y2="695.85" stroke="#000" stroke-width="1.7" stroke-linecap="butt"/>
<line x1="832.95" y1="699.25" x2="832.95" y2="695.85" stroke="#000" stroke-width="1.7" stroke-linecap="butt"/>
<line x1="848.89" y1="699.25" x2="848.89" y2="695.85" stroke="#000" stroke-width="1.7" stroke-linecap="butt"/>
<line x1="880.76" y1="699.25" x2="880.76" y2="695.85" stroke="#000" stroke-width="1.7" stroke-linecap="butt"/>
<line x1="896.69" y1="699.25" x2="896.69" y2="695.85" stroke="#000" stroke-width="1.7" stroke-linecap="butt"/>
<line x1="912.63" y1="699.25" x2="912.63" y2="695.85" stroke="#000" stroke-width="1.7" stroke-linecap="butt"/>
<line x1="928.57" y1="699.25" x2="928.57" y2="695.85" stroke="#000" stroke-width="1.7" stroke-linecap="butt"/>
<line x1="625.8" y1="699.25" x2="625.8" y2="692.65" stroke="#000" stroke-width="1.7" stroke-linecap="butt"/>
<text transform="translate(625.8,722.05) scale(0.875,1)" text-anchor="middle" font-size="24.0" >−10</text>
<line x1="705.47" y1="699.25" x2="705.47" y2="692.65" stroke="#000" stroke-width="1.7" stroke-linecap="butt"/>
<text transform="translate(705.47,722.05) scale(0.875,1)" text-anchor="middle" font-size="24.0" >−5</text>
<line x1="785.15" y1="699.25" x2="785.15" y2="692.65" stroke="#000" stroke-width="1.7" stroke-linecap="butt"/>
<text transform="translate(785.15,722.05) scale(0.875,1)" text-anchor="middle" font-size="24.0" >0</text>
<line x1="864.83" y1="699.25" x2="864.83" y2="692.65" stroke="#000" stroke-width="1.7" stroke-linecap="butt"/>
<text transform="translate(864.83,722.05) scale(0.875,1)" text-anchor="middle" font-size="24.0" >5</text>
<line x1="944.5" y1="699.25" x2="944.5" y2="692.65" stroke="#000" stroke-width="1.7" stroke-linecap="butt"/>
<text transform="translate(944.5,722.05) scale(0.875,1)" text-anchor="middle" font-size="24.0" >10</text>
<line x1="625.8" y1="688.65" x2="629.2" y2="688.65" stroke="#000" stroke-width="1.7" stroke-linecap="butt"/>
<line x1="625.8" y1="678.05" x2="629.2" y2="678.05" stroke="#000" stroke-width="1.7" stroke-linecap="butt"/>
<line x1="625.8" y1="667.44" x2="629.2" y2="667.44" stroke="#000" stroke-width="1.7" stroke-linecap="butt"/>
<line x1="625.8" y1="656.84" x2="629.2" y2="656.84" stroke="#000" stroke-width="1.7" stroke-linecap="butt"/>
<line x1="625.8" y1="635.64" x2="629.2" y2="635.64" stroke="#000" stroke-width="1.7" stroke-linecap="butt"/>
<line x1="625.8" y1="625.04" x2="629.2" y2="625.04" stroke="#000" stroke-width="1.7" stroke-linecap="butt"/>
<line x1="625.8" y1="614.43" x2="629.2" y2="614.43" stroke="#000" stroke-width="1.7" stroke-linecap="butt"/>
<line x1="625.8" y1="603.83" x2="629.2" y2="603.83" stroke="#000" stroke-width="1.7" stroke-linecap="butt"/>
<line x1="625.8" y1="582.63" x2="629.2" y2="582.63" stroke="#000" stroke-width="1.7" stroke-linecap="butt"/>
<line x1="625.8" y1="572.03" x2="629.2" y2="572.03" stroke="#000" stroke-width="1.7" stroke-linecap="butt"/>
<line x1="625.8" y1="561.42" x2="629.2" y2="561.42" stroke="#000" stroke-width="1.7" stroke-linecap="butt"/>
<line x1="625.8" y1="550.82" x2="629.2" y2="550.82" stroke="#000" stroke-width="1.7" stroke-linecap="butt"/>
<line x1="625.8" y1="529.62" x2="629.2" y2="529.62" stroke="#000" stroke-width="1.7" stroke-linecap="butt"/>
<line x1="625.8" y1="519.02" x2="629.2" y2="519.02" stroke="#000" stroke-width="1.7" stroke-linecap="butt"/>
<line x1="625.8" y1="508.41" x2="629.2" y2="508.41" stroke="#000" stroke-width="1.7" stroke-linecap="butt"/>
<line x1="625.8" y1="497.81" x2="629.2" y2="497.81" stroke="#000" stroke-width="1.7" stroke-linecap="butt"/>
<line x1="625.8" y1="476.61" x2="629.2" y2="476.61" stroke="#000" stroke-width="1.7" stroke-linecap="butt"/>
<line x1="625.8" y1="466.01" x2="629.2" y2="466.01" stroke="#000" stroke-width="1.7" stroke-linecap="butt"/>
<line x1="625.8" y1="455.4" x2="629.2" y2="455.4" stroke="#000" stroke-width="1.7" stroke-linecap="butt"/>
<line x1="625.8" y1="444.8" x2="629.2" y2="444.8" stroke="#000" stroke-width="1.7" stroke-linecap="butt"/>
<line x1="625.8" y1="699.25" x2="632.4" y2="699.25" stroke="#000" stroke-width="1.7" stroke-linecap="butt"/>
<text transform="translate(617.6,706.5) scale(0.875,1)" text-anchor="end" font-size="24.0" >0</text>
<line x1="625.8" y1="646.24" x2="632.4" y2="646.24" stroke="#000" stroke-width="1.7" stroke-linecap="butt"/>
<text transform="translate(617.6,653.49) scale(0.875,1)" text-anchor="end" font-size="24.0" >1</text>
<line x1="625.8" y1="593.23" x2="632.4" y2="593.23" stroke="#000" stroke-width="1.7" stroke-linecap="butt"/>
<text transform="translate(617.6,600.48) scale(0.875,1)" text-anchor="end" font-size="24.0" >2</text>
<line x1="625.8" y1="540.22" x2="632.4" y2="540.22" stroke="#000" stroke-width="1.7" stroke-linecap="butt"/>
<text transform="translate(617.6,547.47) scale(0.875,1)" text-anchor="end" font-size="24.0" >3</text>
<line x1="625.8" y1="487.21" x2="632.4" y2="487.21" stroke="#000" stroke-width="1.7" stroke-linecap="butt"/>
<text transform="translate(617.6,494.46) scale(0.875,1)" text-anchor="end" font-size="24.0" >4</text>
<line x1="625.8" y1="434.2" x2="632.4" y2="434.2" stroke="#000" stroke-width="1.7" stroke-linecap="butt"/>
<text transform="translate(617.6,441.45) scale(0.875,1)" text-anchor="end" font-size="24.0" >5</text>
<rect x="625.8" y="434.2" width="318.7" height="265.05" fill="none" stroke="#000" stroke-width="2.35"/>
<text transform="translate(785.15,750.25) scale(0.96,1)" text-anchor="middle" font-size="23.1" >&#934; (&#934;<tspan dy="4.8" font-size="17.3">0</tspan><tspan dy="-4.8" font-size="23.1">)</tspan></text>
<text transform="translate(584.8,566.73) rotate(-90)" text-anchor="middle" font-size="22.4" letter-spacing="0.75"><tspan font-style="italic">B</tspan><tspan dy="5" font-size="16.8" font-style="italic">y</tspan><tspan dy="-5" font-size="22.4"> (</tspan><tspan font-style="italic">B</tspan><tspan dy="5" font-size="16.8">0</tspan><tspan dy="-5" font-size="22.4">)</tspan></text>
<text x="529" y="444.5" text-anchor="start" font-size="35.3" >(d)</text>
<rect x="960" y="434.2" width="14.2" height="265.05" fill="none" stroke="#000" stroke-width="2.35"/>
<line x1="974.2" y1="434.2" x2="978.4" y2="434.2" stroke="#000" stroke-width="1.7" stroke-linecap="butt"/>
<text x="984" y="442.1" text-anchor="start" font-size="26.0" >1.0</text>
<line x1="974.2" y1="612.4" x2="978.4" y2="612.4" stroke="#000" stroke-width="1.7" stroke-linecap="butt"/>
<text x="984" y="620.3" text-anchor="start" font-size="26.0" >0.8</text>
<line x1="974.2" y1="696.54" x2="978.4" y2="696.54" stroke="#000" stroke-width="1.7" stroke-linecap="butt"/>
<text x="984" y="704.44" text-anchor="start" font-size="26.0" >0.4</text>
<text y="414.6" font-size="26"><tspan x="918.2">1</tspan><tspan x="936.5" textLength="17.5" lengthAdjust="spacingAndGlyphs">−</tspan><tspan x="961.2" font-style="italic">I</tspan><tspan x="971.6" dy="4.8" font-size="18" font-style="italic">c</tspan><tspan x="981.9" dy="1.4" font-size="35">/</tspan><tspan x="994.2" dy="-6.2" font-size="26" font-style="italic">I</tspan><tspan x="1005.8" dy="4.8" font-size="18">0</tspan></text>
</svg>
</body></html>
